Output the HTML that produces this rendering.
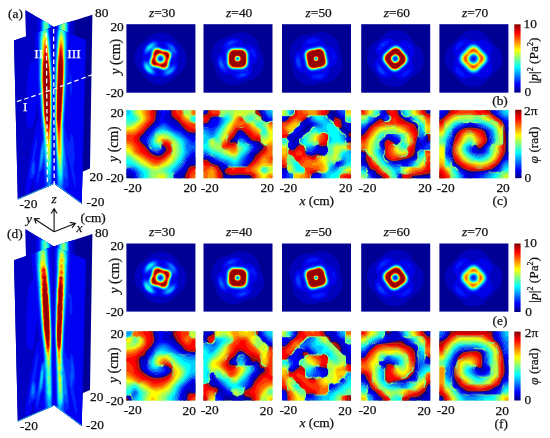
<!DOCTYPE html>
<html><head><meta charset="utf-8"><title>Figure</title>
<style>html,body{margin:0;padding:0;background:#fff}svg{display:block}svg text.w{stroke:#fff}svg text{stroke:#111;stroke-width:0.25px;font-family:"Liberation Serif","Noto Serif CJK SC",serif}</style></head>
<body>
<svg width="550" height="438" viewBox="0 0 550 438" font-size="13.4" fill="#111">
<rect width="550" height="438" fill="#fff"/>
<clipPath id="aC"><polygon points="25.5,10.2 53.7,27 54.3,183.7 28.5,168"/></clipPath><g clip-path="url(#aC)"><rect x="24.5" y="9.2" width="30.8" height="175.5" fill="#000097"/>
<path fill="#0000c5" d="M24.5 9.2l30.8 0 0 175.5 -30.8 0z"/>
<path fill="#0000f3" d="M41.3 14.4l2-0.4 3.7-0.1 2.3 0.2 2.2 0.7 1.2 1.2 0.7 1.4 0.9 4.6 0 162.7 -16.6 0 0-162.7 1.2-5.3 1-1.5z"/>
<path fill="#0023ff" d="M44.5 15.2l2.5-0.1 2.3 0.9 1.5 2.2 1 3.8 0 162.7 -11.5 0 0-162.7 1.3-4.6 1.2-1.4z"/>
<path fill="#0051ff" d="M46.1 15.9l1.7 0.4 1.2 1 0.9 1.6 0.9 3 0 162.7 -9.6 0 0-162.7 0.9-3 0.9-1.6 1-0.9z"/>
<path fill="#0080ff" d="M44.3 17.4l2-0.5 1.5 0.6 1.2 1.5 1.1 3 0 162.7 -8.2 0 0-162 0.8-3z"/>
<path fill="#00aeff" d="M44.7 18.2l1.6-0.4 1 0.4 1.2 1.4 1 2.4 0 162.7 -7 0 0-162 0.8-2.7z"/>
<path fill="#00dcff" d="M45.1 18.9l1.2-0.3 0.7 0.3 0.8 0.7 1.1 2.3 0 162.7 -5.8 0 0-162 0.6-2.3z"/>
<path fill="#0cfff3" d="M45.4 19.7l1.6 0.3 1 1.2 0.4 1.5 0 162 -4.8 0 0-162 0.4-1.6z"/>
<path fill="#3affc5" d="M44.7 21.2l1.6-0.7 1.5 1.4 0 0.8 0 162 -3.6 0 0-162z"/>
<path fill="#68ff97" d="M45 21.9l1.3-0.5 0.8 0.6 0 0.7 0 162 -2.2 0z"/></g>
<clipPath id="aB"><polygon points="53.7,27 92.4,14.7 90,168.5 54.3,183.7"/></clipPath><g clip-path="url(#aB)"><rect x="52.7" y="13.7" width="40.7" height="171" fill="#000097"/>
<path fill="#0000c5" d="M52.7 13.7l21 0 0.8 8.3 0 162.7 -21.8 0z"/>
<path fill="#0000f3" d="M59.2 16.7l4.8-0.3 3.8 0.8 1.6 1.8 1 3 0.1 162.7 -15.2 0 0-162.7 1.5-3.8z"/>
<path fill="#0023ff" d="M60.1 17.4l3.2-0.5 3 0.7 1.6 1.4 1.3 3 0.1 162.7 -12.4 0 0-162.7 1.3-3z"/>
<path fill="#0051ff" d="M60.3 18.2l2.2-0.7 3 0.5 1.9 1.7 1 2.3 0.1 162.7 -10.7 0 0-162 0.6-2.3z"/>
<path fill="#0080ff" d="M62.2 18.2l1.8 0 1.5 0.6 1.1 0.9 1.2 2.3 0 162.7 -9.4 0 0-162 0.1-0.7 1.2-2.3 1.3-1.1z"/>
<path fill="#00aeff" d="M61.7 18.9l1.6-0.3 1.5 0.3 1.5 1.3 0.9 1.7 0.1 162.7 -8.3 0 0-162 0.9-2.3z"/>
<path fill="#00dcff" d="M61.5 19.7l1.8-0.4 1.5 0.4 1.5 1.5 0.4 1.5 0 162 -7.1 0 0-162 0.4-1.5z"/>
<path fill="#0cfff3" d="M61.4 20.4l1.1-0.5 1.5 0.1 1.7 1.2 0.5 1.5 0 162 -6.1 0 0-162 0-0.7z"/>
<path fill="#3affc5" d="M63 20.4l1.8 0.6 0.9 0.9 0 0.8 0 162 -5.1 0 0-162 0.1-0.7 0.6-0.8z"/>
<path fill="#68ff97" d="M62.3 21.2l1.7 0 1.1 0.8 0 0.7 0 162 -3.9 0 0-162 0.1-0.7z"/>
<path fill="#97ff68" d="M62.1 22l1.2-0.4 0.7 0.2 0.4 0.9 0 162 -2.4 0z"/></g>
<clipPath id="aA"><polygon points="14,40.6 53.7,27 54.3,183.7 17.8,199.4"/></clipPath><g clip-path="url(#aA)"><rect x="13" y="26" width="42.3" height="174.4" fill="#000097"/>
<path fill="#0000c5" d="M13 26l42.3 0 0 174.4 -42.3 0z"/>
<path fill="#0000f3" d="M35.1 26l16.2 0 0.6 3.8 3.3 50.3 -1.1 49.6 0.1 33.9 -0.5 36.8 -12.1 0 -0.7-17 -0.7 1 -1.9 4.7 -1.1 0.6 -2.3-0.4 -0.7-0.9 -0.3-1.5 0.3-6.9 -1.2 0.1 -2.4 9.8 -1.6 3.7 -0.9 0.6 -1.5-0.1 -0.8-0.6 -0.4-1.4 0-4.5 0.8-6.7 5.3-32.4 4.5-22.5 0.9-3 1.8-3.8 -1.5-14.6 -0.8-1.4 -1.9 16.8 -1 5.2 -1.1 2.3 -1.3 0.9 -1.5 0.1 -1.6-1 -1.2-3.8 -0.6-9.7 0.3-14.3 1-20.3 1-9.8 1.5-6 1.1-1.6 3.8-1 0.7-1.2 0-9.7 -1-19.6z"/>
<path fill="#0023ff" d="M38.6 26.8l0.2-0.8 10.2 0 0.8 3.8 1.2 12.7 2.3 37.6 -0.7 49.6 0.1 34.6 -0.9 36.1 -5.9 0 -2-27.8 -0.7-4.1 -2.8 4.1 -1.7 7.6 -1.5 3.5 -0.7-2.1 0.3-7.5 1.9-12.1 1.9-15.7 0.8-4.5 1-2.3 -4.3-59.4 0.1-30 -0.5-12.8 0.2-6.8zM37 137.3l0.2-0.7 0 3.7 -0.7 6 -2.2 13.5 1.1 2.3 0.4 3 -0.5 9 -0.7 2.2 -1.2 1.5 -3.8 1.3 0-5 1.4-10.5 3.9-19.8 1.5-5.9z"/>
<path fill="#0051ff" d="M40.1 26.8l0.3-0.8 7.6 0 0.2 0.8 0.8 3.7 1.2 10.5 2.2 33.9 0.2 24.8 -0.5 30 -0.1 34.6 -1.1 30.1 -0.7 6 -1.1 0 -1.5-6 -3.6-33.7 -0.8 0.9 -1.2 5.7 -1 2.3 -1.6 1.7 -0.5-0.2 -0.1-0.8 2-21 0.9-5.4 1.5-4.4 -0.7-12.5 -1.3-12.3 -2.2-35.3 -0.2-41.4 0.3-7.5zM32.9 162.1l0.5-0.4 0.8 1.1 0.4 5.3 -0.4 4.3 -0.8 1.8 -0.8 0.3 -0.8-1.2 -0.3-3 0.4-4.9z"/>
<path fill="#0080ff" d="M41.7 26l5.5 0 1.1 3.8 1.4 11.2 2.3 33.9 0.2 25.5 -0.6 62.4 -0.8 18.7 -0.8 6.1 -0.7 0.1 -1.6-4.5 -0.7-3.8 -2.3-21 -0.7-3.9 -0.8 2.2 -1.5 8.4 -0.8 1.9 -0.7 0 -0.2-1.9 0.2-5.6 1.1-10.2 2.5-9.8 -3.1-39.1 -1.2-24.8 0.1-38.3 0.6-7.5z"/>
<path fill="#00aeff" d="M42.4 26.8l0.7-0.8 3.2 0 1.6 4.5 1.3 10.5 2.6 36.9 0.1 36.8 -0.5 15 -0.1 31.6 -0.6 12 -0.7 6.4 -0.7 0.7 -0.8-1.4 -1.6-7.2 -2.2-20.1 -1-4.7 0.5-7.5 -0.2-3.7 -1.9-21.1 -2.1-34.6 0.2-40.6 0.7-9zM42.3 148.5l0.2-0.7 0.7 0.2 -0.7 9.3 -0.8 4.4 -0.8 1.4 0-6.7 0.8-6z"/>
<path fill="#00dcff" d="M44 26.8l1.5-0.2 0.7 0.7 1.1 2.5 0.6 3.7 1 7.5 2.5 35.4 0.3 24 -0.7 57.9 -0.6 12.8 -0.4 2.8 -0.7 0.9 -0.8-0.9 -0.9-2.8 -1.8-12.8 -1.2-14.3 -0.6-14.3 -1.8-18 -1.8-31.6 0.3-41.3 1.1-9 0.7-1.5z"/>
<path fill="#0cfff3" d="M43.8 28.3l1.7-0.5 0.7 0.9 0.8 2 1.1 6.6 3.2 41.3 0.1 36.1 -0.5 15 -0.2 28.6 -0.7 11.1 -0.7 1.7 -0.8-1 -0.8-2.6 -1.4-9.9 -2-27.9 -1.6-15 -2-34.6 0.4-39.8 1.1-9 0.5-1.5z"/>
<path fill="#3affc5" d="M43.7 29.8l1-0.7 0.8 0 0.7 1 1.8 8.7 3.1 40.6 0.1 35.3 -0.4 11.5 -0.4 31.4 -0.4 7 -0.7 2.7 -0.8-1 -0.8-2.4 -1-6.3 -2.1-27.9 -1.7-15 -1.9-34.6 0.5-39.1 1-7.6z"/>
<path fill="#68ff97" d="M44 31.3l0.7-0.8 0.8 0 0.7 1.5 1.7 8.3 3 39.1 0.2 35.3 -1 42.9 -0.8 6.2 -0.8-0.8 -0.8-2.5 -0.7-5.2 -2.3-27.6 -1.5-13 -1.9-34.6 0.6-39.1 1-6.7z"/>
<path fill="#97ff68" d="M44.5 32.8l1-0.3 0.7 1.4 1.5 7.1 2.9 36.1 0.3 37.6 -0.9 37.6 -0.7 8.2 -0.8-0.7 -0.8-2.9 -2.9-30.9 -1.3-10.5 -2-35.4 0.8-39.1 0.9-5.2z"/>
<path fill="#c5ff3a" d="M44.4 35l1.1-0.6 0.7 1.4 1.2 5.2 3 34.6 0.3 39.1 -1.4 41.6 -0.8-0.2 -0.8-3.7 -4-36.9 -2-35.4 0.1-12 0.9-27.1 0.5-3z"/>
<path fill="#f3ff0c" d="M44.7 36.5l0.8-0.3 0.7 1.2 0.9 3.6 2.4 25.6 0.9 13.5 0.2 35.4 -1.3 34.5 -0.8 1.4 -1.5-8.8 -3.2-27.9 -1.9-34.6 0.1-12.8 1.1-25.5 0.8-3.8z"/>
<path fill="#ffdc00" d="M45.1 38l0.4-0.2 0.7 1.2 0.8 3.5 2.4 24.8 0.8 12.8 0.3 35.4 -1.2 28.6 -0.8 2.6 -1.5-7.7 -2.9-23.5 -2-35.4 0.1-12.8 1.1-22.5 0.5-4.5z"/>
<path fill="#ffae00" d="M45.4 39.5l0.8 1.1 0.8 4.4 2.1 20.1 1 15 0.2 35.4 -1 22.8 -0.8 4.6 -0.8-2.2 -3.5-25.2 -1.9-35.4 0.2-13.5 1.1-20.3 0.7-5.3 0.4-1.1z"/>
<path fill="#ff8000" d="M45 41.8l0.5-0.7 0.7 1.8 0.8 4.6 2 18.3 0.9 13.6 0.3 35.3 -0.9 18.7 -0.8 5.7 -0.8-1.9 -0.7-3.9 -2.6-17.8 -1.9-35.4 0.3-16.5 1.2-16.5z"/>
<path fill="#ff5100" d="M45.1 44.8l0.4-0.7 0.7 1.4 0.8 4.5 1.8 15.8 0.9 13.6 0.4 35.3 -0.8 14.3 -0.8 6.5 -0.8-1 -0.7-3.5 -2.4-15.5 -1.9-35.4 0.4-16.5 1.1-14.3z"/>
<path fill="#ff2300" d="M45.2 47.8l0.3-0.7 0.7 1 0.8 4.4 1.6 12.6 1 13.5 0.4 36.1 -1.5 18.2 -0.8-0.8 -0.7-3.4 -2.2-13.2 -1.9-35.4 0.3-15.8 1.4-14.2z"/>
<path fill="#f30000" d="M45.3 50.8l0.2-0.7 0.7 0.7 0.8 4.2 1.3 9.3 1 11.3 0.5 39.1 -0.4 7.5 -0.9 7.9 -0.8-0.3 -1.7-7.6 -1.1-6.7 -1.3-22.6 -0.5-21 0.5-9.1z"/>
<path fill="#c50000" d="M45.4 53.8l0.1-0.4 0.7 0.1 1.5 8.1 1.7 18.5 0.2 37.6 -1.1 9.5 -0.8 0.2 -1.5-4.9 -1.2-7.8 -1.8-36.8 0.5-13.6z"/>
<path fill="#970000" d="M45.5 56.8l0.7-0.5 1.5 6.6 1 9 0.6 10.4 0.2 35.4 -1 7.5 -0.8 0.4 -1.5-4.3 -0.9-5.8 -1.6-28.6 -0.3-12 0.3-6.8 0.5-6z"/></g>
<line x1="54.3" y1="183.3" x2="17.8" y2="199" stroke="#30e0d0" stroke-width="1" stroke-opacity="0.75"/>
<clipPath id="aD"><polygon points="53.7,27 85.8,40 81.7,203.7 54.3,183.7"/></clipPath><g clip-path="url(#aD)"><rect x="52.7" y="26" width="34.1" height="178.7" fill="#000097"/>
<path fill="#0000c5" d="M52.7 26l34.1 0 0 178.7 -34.1 0z"/>
<path fill="#0000f3" d="M52.7 26l34.1 0 0 178.7 -34.1 0z"/>
<path fill="#0023ff" d="M57 26l10.7 0 0.6 3 0.1 8.3 -0.7 12.7 0.7 12 0.1 13.6 -2.2 21.4 -1.5 21 -0.1 7.1 1.5 9.8 2.4 7 0.8 0.9 0.8-6.4 0.7-2.5 0.7-0.1 0.8 1.1 1.3 6 1.1 12 -0.1 6.7 -1.5 6.1 2.3 14.2 0.4 6.8 -0.5 0.9 -2.2-7.1 -5.3-24.8 -0.7 0.2 1.3 19.5 0.1 8.3 -0.7 3.3 -2.3 0.4 -0.4 1.5 -0.5 15.8 -7.3 0 -2.2-48.1 -1.6-37.5 0.3-39 1.4-36.8 0.8-11.3zM69.9 73.3l0.2-0.5 0.8 0.4 1 6.1 0.3 9.8 -0.6 6.9 -0.7-0.2 -1.1-7.5 -0.5-10.5z"/>
<path fill="#0051ff" d="M58 26.8l0.2-0.8 7.8 0 0.9 3.8 0.2 3.7 -0.5 39.8 -2.7 51.8 0.2 14.3 2.5 25.5 0.6 12 -0.1 1.7 -0.8 0.7 -1.5-2.9 -0.7 2.4 -2.2 25.9 -3.3 0 -1.8-30.8 -2.5-54.8 0.3-39 0.6-18.1 1.5-26.2z"/>
<path fill="#0080ff" d="M59 26l5.8 0 1.3 4.5 0.3 8.3 -0.5 37.5 -2.6 48.8 0.2 14.3 1.1 12 0.6 13.5 -0.4 1.8 -0.7 0.3 -1.5 16.7 -0.6 1.5 -1 6 -0.7 1.9 -0.8 0.6 -0.7-2.5 -1.4-16.5 -2.7-56.3 0.4-38.3 0.7-19.6 1.6-25.5 0.7-5.2z"/>
<path fill="#00aeff" d="M59.9 26l3.6 0 1.1 2.3 0.8 3.7 0.4 9.8 -0.5 38.3 -2.3 45 0.1 14.3 0.7 15.7 -0.6 5.3 -0.8 19.5 -0.6 3 -2.3 2.9 -0.7-2.6 -1.4-14.5 -2.4-49.6 0-6.8 0.5-33 1.3-30 1.5-17.3 0.8-3.7z"/>
<path fill="#00dcff" d="M60.6 26.8l1.2-0.5 0.8 0.4 1.7 3.1 0.7 4.5 0.4 8.2 -0.3 34.6 -2.5 48 0.1 14.3 0.5 12 -0.6 8.9 -0.4 15.9 -0.4 3.2 -0.8 1.2 -1.5-0.7 -0.7-2.1 -0.8-6.7 -1.3-19.7 -1.5-33 0.7-45.1 1.1-22.5 1.6-18 0.9-4z"/>
<path fill="#0cfff3" d="M60.7 28.3l0.3-0.4 0.8 0 1.2 1.1 1 2.3 0.4 2.2 0.5 8.3 0.2 20.2 -0.5 19.6 -2.2 43.5 0.3 25.5 -0.7 20.3 -0.2 4.1 -0.8 2.6 -0.9-0.7 -1-2.2 -1-7.5 -1.2-15.8 -1.4-33 0.5-38.3 0.7-18.8 1.7-24 1.1-6.7z"/>
<path fill="#3affc5" d="M60.7 29.8l0.3-0.4 0.8 0 1 1.1 1.3 5 0.5 7 0.2 19.5 -0.3 18.1 -2.4 45 0.2 25.5 -0.7 18.8 -0.6 4.9 -0.7-0.3 -0.8-1.6 -0.7-3 -0.5-4.5 -1.1-13.5 -1.5-33.8 0.3-30 0.8-25.6 1.8-23.2 0.9-6z"/>
<path fill="#68ff97" d="M60.8 31.3l0.2-0.4 0.8 0.1 0.8 1 1.2 5.3 0.4 6 0.3 18.7 -0.3 18.1 -2.3 45 0 25.5 -0.6 15.8 -0.3 3.8 -0.7 0.5 -1.5-5.1 -1.2-12 -1.7-34.5 -0.1-6.8 1.3-50.3 1.6-21.7 0.8-5.3z"/>
<path fill="#97ff68" d="M60.6 33.5l0.4-0.7 1.1 0.7 1.4 5.3 0.8 23.2 -0.4 21.8 -2.2 41.3 -0.2 26.3 -0.5 12.8 -0.7 3.1 -0.8-1.6 -0.7-3.8 -1.1-9.8 -1.7-33 0-6.8 1.3-50.3 1.5-19.4 0.7-5.4z"/>
<path fill="#c5ff3a" d="M60.9 35l0.1-0.3 0.8 0.3 0.7 1.5 0.8 4.5 0.8 24 -0.4 18.8 -2.2 41.3 -0.3 26.3 -0.9 11.6 -0.8-0.9 -0.7-3.2 -0.9-6.8 -1.7-33 0-6.8 1.3-50.3 1.6-19.5 1.1-6z"/>
<path fill="#f3ff0c" d="M60.7 37.3l0.3-0.7 0.9 0.7 0.7 1.9 0.6 4.1 0.7 18.7 -0.1 10.6 -1 27 -1.5 25.5 -0.5 27 -0.5 6.3 -0.8 0.5 -0.7-2.3 -0.7-6 -1.8-31.5 0-7.5 1.3-49.6 1.7-18.7z"/>
<path fill="#ffdc00" d="M60.9 38.8l1 0.7 1 5.3 0.8 17.2 0 10.6 -1.1 27 -1.6 25.5 -0.5 26.3 -0.2 3.1 -0.8 1.9 -0.7-2.2 -0.4-2.8 -1.9-32.3 0.1-18.8 1.2-38.3 1.7-18.5 0.8-3.7z"/>
<path fill="#ffae00" d="M60.7 41l0.3-0.5 0.8 0.8 0.9 5 0.8 15.7 0 10.6 -1.1 27.7 -1.6 24.8 -0.5 19.5 -0.8 8.9 -0.8-2.1 -2.1-32.3 0-7.5 1.4-49.6 1.5-16.3 0.8-4z"/>
<path fill="#ff8000" d="M61 42.5l0.8 1.1 0.8 5.3 0.7 13.1 0 11.3 -1 27 -2.8 46.2 -0.7-1 -2-26.4 0.1-18.8 1.3-38.3 1.3-14 0.8-4.3z"/>
<path fill="#ff5100" d="M61 44.8l0.8 1.5 0.7 6 0.6 9.7 0 11.3 -1 27 -2.6 39.5 -0.7 0 -1.9-20.7 0.1-18.8 1.3-38.3 1.2-11.8 0.8-4.3z"/>
<path fill="#ff2300" d="M61 47l0.8 2.3 1.1 12.7 -0.1 17.3 -1.6 33 -1.7 21.4 -0.7 1 -1.7-15.6 0-19.5 1.4-37.6 1.4-12 0.4-2z"/>
<path fill="#f30000" d="M60.4 50l0.6-0.7 0.8 3 0.9 9.7 0.1 11.3 -1.7 38.3 -1.6 18.3 -0.7 1.7 -1.6-12.5 0.1-18.8 1.4-38.3z"/>
<path fill="#c50000" d="M60.7 52.3l0.3-0.4 1.5 10.1 0.1 14 -1.6 34.7 -1.5 15.3 -0.7 2.5 -1.4-10.1 0.2-26.3 1.2-28.9 1.5-10.5z"/>
<path fill="#970000" d="M60.3 55.3l0.7-0.6 1.1 5.8 0.2 12.8 -1.3 34.9 -1.4 14.7 -0.8 2.5 -0.8-2.9 -0.4-3.4 0.2-27 1-26.1 0.5-5.5z"/></g>
<line x1="81.7" y1="203.3" x2="54.3" y2="183.3" stroke="#30e0d0" stroke-width="1" stroke-opacity="0.75"/>
<path d="M46.3 33L47.5 185" stroke="#fff" stroke-width="1.3" stroke-dasharray="4.6 3" fill="none"/>
<path d="M53.6 29L54.2 185" stroke="#fff" stroke-width="1.3" stroke-dasharray="4.6 3" fill="none"/>
<path d="M92.8 74.5L53.9 89L15 102.4" stroke="#fff" stroke-width="1.3" stroke-dasharray="4.6 3" fill="none"/>
<text class="w" x="34.3" y="58" fill="#fff">II</text><text class="w" x="67.3" y="58" fill="#fff">III</text><text class="w" x="23" y="111" fill="#fff">I</text>
<clipPath id="dC"><polygon points="25.5,229.3 53.7,246.4 54.3,405.6 28.5,389.6"/></clipPath><g clip-path="url(#dC)"><rect x="24.5" y="228.3" width="30.8" height="178.3" fill="#000097"/>
<path fill="#0000c5" d="M24.5 228.3l30.8 0 0 178.3 -30.8 0z"/>
<path fill="#0000f3" d="M40.1 233.6l6.2-0.5 3 0.2 2.2 0.7 1.9 1.9 1.3 5.3 0 165.4 -18.8 0 0-165.4 0.7-3.8 1-2.3 1.2-1z"/>
<path fill="#0023ff" d="M43.8 234.4l3.2 0 2.3 1.1 1.4 1.9 1.1 3.8 0 165.4 -13 0 0-165.4 0.8-3 1.3-2.3 1.6-1.2z"/>
<path fill="#0051ff" d="M42.9 235.9l2.6-0.7 2.3 0.7 1.8 2.3 1.1 3 0 165.4 -10.8 0 0-165.4 1.5-3.8z"/>
<path fill="#0080ff" d="M43.6 236.7l1.9-0.5 1.5 0.5 1.6 1.5 1.3 3 0 165.4 -9.2 0 0-164.6 1.1-3.4z"/>
<path fill="#00aeff" d="M44.2 237.4l1.3-0.2 1.5 0.6 1.1 1.2 1 2.2 0.1 165.4 -7.8 0 0-164.6 1.1-3z"/>
<path fill="#00dcff" d="M45.1 238.2l2 0.8 1 1.5 0.4 1.5 0 164.6 -6.4 0 0-164.6 0-0.8 1.2-2z"/>
<path fill="#0cfff3" d="M43.9 239.7l0.9-0.5 1.5 0.2 1.5 1.7 0.1 0.9 0 164.6 -5.2 0 0-164.6 0.1-0.8z"/>
<path fill="#3affc5" d="M44.3 240.5l1.2-0.4 0.8 0.3 0.8 0.8 0 0.8 0 164.6 -3.6 0 0-164.6 0-0.8z"/>
<path fill="#68ff97" d="M44.7 241.2l1.2 0 0.1 0.8 0 164.6 -1.4 0z"/></g>
<clipPath id="dB"><polygon points="53.7,246.4 92.4,233.9 90,390.1 54.3,405.6"/></clipPath><g clip-path="url(#dB)"><rect x="52.7" y="232.9" width="40.7" height="173.7" fill="#000097"/>
<path fill="#0000c5" d="M52.7 232.9l21 0 0 2.2 0.7 3.1 0.4 3.8 0 164.6 -22.1 0z"/>
<path fill="#0000f3" d="M59.4 235.9l4.6-0.3 3.8 0.7 2 1.9 1 3 0.1 165.4 -15.6 0 0-165.4 1.5-3.8z"/>
<path fill="#0023ff" d="M60.3 236.7l3-0.5 3 0.5 1.9 1.5 1.4 3 0 165.4 -12.7 0 0-165.4 1.4-3z"/>
<path fill="#0051ff" d="M60.6 237.4l2.7-0.6 2.2 0.4 2.2 1.8 1.1 2.2 0 165.4 -11 0 0-164.6 0.9-2.7z"/>
<path fill="#0080ff" d="M63.2 237.4l1.6 0.2 1.5 0.9 1.8 2.7 0 165.4 -9.6 0 0-164.6 0.4-1.5 1.3-1.9 1.5-0.9z"/>
<path fill="#00aeff" d="M62.3 238.2l1.7-0.1 1.5 0.6 2 2.5 0 165.4 -8.3 0 0-164.6 0-0.8 1-1.7z"/>
<path fill="#00dcff" d="M62 239l1.3-0.3 1.5 0.3 1.6 1.5 0.5 1.5 0 164.6 -7.1 0 0-164.6 0.4-1.5z"/>
<path fill="#0cfff3" d="M61.8 239.7l1.5-0.4 1.5 0.3 1.5 1.5 0.1 0.9 0 164.6 -6.1 0 0-164.6 0.1-0.8z"/>
<path fill="#3affc5" d="M61.7 240.5l0.8-0.5 1.5 0 1.5 0.9 0.3 1.1 0 164.6 -4.9 0 0-164.6 0.1-0.8z"/>
<path fill="#68ff97" d="M61.6 241.2l0.9-0.5 1.5-0.1 1.1 0.6 0 0.8 0 164.6 -3.5 0z"/>
<path fill="#97ff68" d="M62.8 241.2l1.2 0 0.1 0.8 0 164.6 -1.5 0z"/></g>
<clipPath id="dA"><polygon points="14,260.2 53.7,246.4 54.3,405.6 17.8,421.5"/></clipPath><g clip-path="url(#dA)"><rect x="13" y="245.4" width="42.3" height="177.2" fill="#000097"/>
<path fill="#0000c5" d="M13 245.4l42.3 0 0 177.1 -42.3 0z"/>
<path fill="#0000f3" d="M30.8 245.4l20.5 0 0.4 4.5 2 77.2 0.1 38.9 0.5 25.2 -0.6 31.3 -12.1 0 -0.2-12.2 -0.5-4.9 -2.4 5.7 -1.3 0.8 -2.3-0.5 -0.6-0.3 -0.6-1.5 0.5-7.7 -1 0 -2.3 10 -1.5 3.8 -1.3 0.8 -1.5-0.1 -1.1-0.7 -0.4-1.6 0.3-6.8 2.3-16.1 7.5-42 1.8-6.1 1-1.5 1.5-0.8 0-0.7 -2.3-19.6 -0.8 0.2 -1.7 18.6 -1.2 6.9 -1.1 2.3 -1.3 0.9 -1.5 0.1 -1.6-1 -1.2-3.9 -0.6-9.9 0.3-14.5 1.1-22.1 0.9-8.4 1.2-5.4 1.2-2.3 2.6-2.3 -2.8-29.8z"/>
<path fill="#0023ff" d="M34.7 245.4l13.8 0 0.4 2.2 2.4 47.4 1.1 38.9 -0.1 26.8 0.5 31.3 -1 30.5 -5.8 0 -1.8-21.3 -0.2-8.7 -0.8-2.7 -2.4 4.5 -2 9.1 -1.6 4.2 -0.8 0 -0.3-1.1 -0.4-8.8 -1.5 2.2 -2.3 0.9 -1.4 1.1 -1.6 4.3 -0.1-0.5 0-6.1 1.3-11.4 5-26.8 1.8-6.8 1-2.6 0.5 2.6 -0.2 3.8 -3.4 22.9 0.8 1.5 0.5 2.3 0.3 8.5 2.3-11.7 2-15.9 0.8-3 1.8-2.3 -0.6-9.2 -3.8-39.7 -3.9-47.4 -0.6-12.9z"/>
<path fill="#0051ff" d="M36.1 245.4l11.3 0 0.4 1.5 2.6 42.8 1.5 44.2 0.2 61.1 -1.3 24.5 -0.8 2.3 -1.5-1 -1.1-3.6 -0.5-6.9 -1.4-9.1 -0.7-19.9 -0.2-2.3 -0.6-0.7 -1.9 11.4 -3.1 6.1 -0.1 2.3 -1 2.3 -0.4-1.5 0.9-10.7 2.7-20.6 0.7-3.1 2.3-3.8 -0.6-9.9 -2.1-18.4 -1.7-20.6 -2.9-37.4 -1-22.9zM32.4 382.1l1-0.5 1 1.2 0.9 4.6 -0.1 3.8 -0.8 4.6 -1 2.3 -0.8 0.2 -1.7-1 -0.3-3.8 0.4-5.3z"/>
<path fill="#0080ff" d="M37.1 245.4l9.4 0 0.6 1.5 0.5 5.3 2.7 42.8 1.3 38.9 -0.2 32.9 0.3 28.2 -0.5 10.7 -1.2 5.6 -0.7 0 -1.3-2.5 -1.5-7.6 -0.7-8.4 -0.6-18.4 -0.5-5.5 -0.7-0.8 0.4 2.5 -0.4 0.9 -1.8 15.1 -1.3 3.8 -1.5 1.1 -0.2-1 0-3.1 1.7-16 0.8-4.3 0.8-1.9 1.5-1 0.7-3.5 -0.7-10.7 -2.1-17.6 -2.7-33.6 -0.5-11.4 -1.2-12.3 -0.5-10.7zM33 385.1l0.4-0.4 0.8 0.8 0.2 5 -0.5 3 -0.5 1 -0.8 0.1 -0.8-1.1 0-4.6 0.4-2.3z"/>
<path fill="#00aeff" d="M37.8 246.1l0.1-0.7 7.9 0 0.7 1.5 -0.1 2.3 0.6 3 0.1 3.8 2.6 33.7 1.6 41.2 -0.3 35.9 0.4 25.2 -0.8 13.7 -0.6 1.3 -0.7-0.1 -1.1-1.9 -1.8-12.2 0.1-5.4 -0.8-10.7 0-6.9 -0.8-5.3 0.3-3.8 -0.2-3.8 -2.8-24.5 -2.1-30.5 -0.5-3.1 -0.6-9.1 0.3-2.3 -1.3-12.3 -0.4-10.7 0.4-8.4 -0.4-2.2 0.4-6.2zM42 369.8l0.5-0.6 0.8 1.4 -0.3 6.9 -1.3 9 -0.8 1.7 -0.7 0.1 -0.3-1.7 0.9-12.2 0.6-3.8z"/>
<path fill="#00dcff" d="M38.5 246.1l0.2-0.7 6.5 0 0.7 1.5 -0.1 2.3 0.8 3 0 3.8 1.8 19.1 1 14.6 -0.2 2.2 0.5 3.1 1.5 39.7 -0.5 32.1 0.4 25.2 -0.1 3.8 -0.8 1.5 0.2 2.3 -0.4 0.8 -1.5-0.8 0-1.5 -0.8-1.5 -0.2-2.3 -0.6-2.3 0.3-3.8 -0.5-2.3 -0.1-6.9 -0.4-2.3 0.2-3.8 -0.9-8.4 0.2-3.8 -0.5-2.3 0.3-1.5 -3-24.5 -1.2-15.3 -0.8-15.2 -0.6-3.1 0.2-2.3 -0.7-6.8 0.4-2.3 -0.6-2.3 0.2-2.3 -0.6-3.1 -0.6-9.9 -0.1-5.4 0.4-2.2 -0.2-1.6 0.4-4.6 -0.5-1.5 0.4-2.3 -0.3-1.5 0.6-3.1zM42.3 370.6l0.4 0.8 0.1 2.3 -0.5 2.3 0.3 1.5 -0.9 5.2 -0.8 1.4 -0.1-5.1 0.5-3 0-2.3 0.4-2.4z"/>
<path fill="#0cfff3" d="M39.4 245.4l5.1 0 0.7 1.5 -0.1 1.5 1 3.8 0.5 10 1.6 12.9 0.1 6.1 0.9 8.5 -0.2 2.2 0.5 3.1 1.5 39.7 -0.8 38.2 0.6 6.9 -0.4 1.5 0.2 1.5 -0.2 2.3 0.4 1.5 -0.3 3.9 0.3 1.5 -0.4 1.5 0.1 2.3 -0.5 0.8 -0.7 0 -0.8-0.7 -1.1-3.9 0.4-3.8 -0.8-5.4 0.1-3 -0.5-3.8 0.4-0.8 0-2.3 -1-8.4 0.2-3.8 -0.7-2.3 0.4-1.5 -3.1-24.5 -1.7-22.1 -0.2-8.4 -0.7-3.1 0.2-2.3 -0.7-6.8 0.5-3.1 -0.6-1.5 0.2-2.3 -0.7-3.1 0.2-2.3 -0.7-7.6 0.3-3.8 -0.4-1.6 0.6-2.2 -0.1-3.9 0.4-2.3 -0.5-1.5 0.4-1.5 -0.4-2.3 0.9-3.1 -0.6-1.5zM41.5 377.5l0.2-0.4 0 1.5z"/>
<path fill="#3affc5" d="M40.1 245.4l3.3 0 2.3 6.8 0.4 10 1.4 8.4 0.6 10.6 0.8 8.5 -0.2 2.2 0.6 3.1 1.5 39.7 -0.1 11.5 -0.4 3.8 0.1 14.5 -0.6 4.6 0.3 2.3 -0.5 1.5 0.5 1.5 0.4 5.4 -0.6 1.5 0.4 1.5 -0.6 1.6 0.6 2.2 -0.2 3.9 0.4 1.5 -0.5 1.4 -0.7 0.1 0 0.8 0.7 0.2 0.2 0.5 -0.2 0.8 -0.7-0.3 -0.1-2 -0.7-0.4 -0.6-1.1 0.6-3.8 -0.5-2.3 0.4-1.5 -0.7-0.6 -0.3-1 0.2-3 -0.4-3.1 0.5-1.5 0-2.3 -0.7-1.5 0.3-2.3 -0.9-4.6 0.2-3.8 -0.7-2.3 0.5-1.5 -1-4.6 0-2.3 -1.6-10.7 0.2-1.5 -1-5.4 0.1-2.3 -1.8-19.8 -0.2-9.2 -0.6-3 0.2-1.6 -0.7-6.8 0.5-3.1 -0.7-1.5 0.4-2.3 -0.7-3.1 0.2-2.3 -0.5-2.3 0.3-1.5 -0.5-3 0.5-4.6 -0.6-1.6 0.7-2.2 -0.1-3.9 0.5-2.3 -0.5-1.5 0.5-1.5 -0.5-1.5 1.3-3.9 -0.7-0.7z"/>
<path fill="#68ff97" d="M41.3 248.4l1.2-0.7 0.7 0.1 0.8 0.8 0.4 0.6 0.1 2.3 0.6 0.7 -0.2 1.6 1 6.8 -0.3 1.6 1.7 8.4 0.5 10.6 0.4 1.6 0.5 6.9 -0.2 2.2 0.7 3.1 0 8.4 0.6 4.6 0.5 13.7 0.3 24.5 -0.5 3.8 0 14.5 -0.8 4.6 0.4 2.3 -0.4 0.8 -0.8 0.1 -0.9-0.9 0.5-2.3 -0.7-1.5 0.2-1.6 -0.8-1.5 0.5-2.3 -1.1-3.8 0.6-1.5 -0.8-2.3 -1.9-15.3 0.1-1.5 -0.9-5.4 -0.6-9.9 -0.7-5.4 -0.7-16 -0.6-3 0.3-1.6 -0.8-6.8 0.7-3.1 -0.8-1.5 0.4-2.3 -0.7-3.1 0.2-2.3 -0.4-2.3 0.3-1.5 -0.6-3 0.8-4.6 -0.8-1.6 1-4.5 -0.4-1.6 0.8-2.3 -0.5-1.5 0.4-1.5 -0.4-1.5 0.6-2.3zM48.4 374.4l0.9-0.5 0 1.3zM48 376.7l0.5-0.7 0.8 0.1 0.8 2.9 -0.1 1.3 -0.7 0.9 -0.6 0.1 1.1 1.5 -0.5 1 -0.8-0.2 -0.5-0.8 0.5-1.5zM48.8 386.6l0.5-0.5 0.4 0.5 -0.4 1.1zM48.9 391.2l0.4-0.4 0.7 0.8 0 1 -0.7 0.2 -0.8-0.8z"/>
<path fill="#97ff68" d="M41.4 249.2l1.1-0.7 0.7 0.1 0.7 0.6 0.1 0.7 -1.2 1.6 1.5 0.7 -0.1 1.6 0.5 1 0.7 5.8 -0.3 1.6 0.6 1.5 1.3 6.9 0.6 10.6 0.4 1.6 0.5 6.9 -0.3 2.2 0.8 3.1 0 8.4 0.6 4.6 0.9 26.7 -0.1 11.5 -0.5 3.8 -0.2 6.9 0.3 2.3 -0.5 1.5 0.3 3.8 -0.5 1.3 -0.8-0.1 -1.2-1.2 0.7-2.3 -1.3-3.8 0.6-1.5 -1-2.3 -1-6.9 -0.9-9.9 -0.9-5.4 -0.6-9.9 -0.7-5.4 -0.4-6.8 0.3-2.3 -0.4-1.5 -0.1-5.4 -0.6-3 0.2-1.6 -0.7-6.8 0.7-3.1 -0.8-1.5 0.4-2.3 -0.7-3.8 0.2-1.6 -0.4-2.3 0.4-1.5 -0.7-3 0.9-4.6 -0.8-1.6 1.2-4.5 -0.5-1.6 1.1-1.5 -0.5-2.3 0.4-0.7zM48.4 366.8l0.9 0.3 0 0.9 -0.8 0.1 -0.5-0.5z"/>
<path fill="#c5ff3a" d="M42.2 254.5l1-0.5 0.8 0.4 0.3 0.9 0.2 2.3 -0.3 1.5 0.7 1.5 -0.3 2.3 1.5 3.8 0.6 3.9 -0.1 1.5 0.9 6.9 -0.1 2.2 0.5 1.6 0.4 6.9 -0.3 2.2 0.8 3.1 0.1 8.4 0.6 4.6 0.5 13.7 0.3 18.4 0 6.1 -0.6 3.8 0 5.3 -0.3 1.6 0.3 2.3 -0.4 1.3 -0.8 0.8 -1.4-2.9 0.7-1.5 -1.2-2.3 -2.8-21.4 -0.7-10.7 -0.7-5.4 -0.4-6.8 0.3-2.3 -0.4-1.5 -0.1-5.4 -0.6-3 -0.1-6.2 -0.3-1.5 0.6-3.8 -0.8-1.5 0.5-2.3 -0.9-6.9 0.5-2.3 -0.8-3 1-4.6 -0.8-1.6 0.9-3 1.1-1.5 -1-1.6 1.6-1.5 -0.8-1.5zM48.1 363.7l0.4-0.5 0.8 0.1 0 1.5 -1.3-0.3z"/>
<path fill="#f3ff0c" d="M41.6 261.4l0.9-0.6 1.5 0.2 0 2.1 -0.9 1.3 1.6 0.5 0.8 1.1 0.8 3 0 3.1 0.8 4.6 0 4.5 0.6 1.6 0.3 3.8 0.2 3.8 -0.4 1.5 0.9 3.1 0 8.4 0.6 3.8 0.1 8.4 0.3 2.3 0.5 22.2 -0.1 6.1 -0.6 3.8 0 5.3 -0.2 1.1 -0.8 0.4 -1.7-2.2 0.1-1.6 -0.5-1.5 -0.6-3.8 -1-9.9 -0.7-3.9 -1.5-16.8 0.2-1.5 -0.6-5.3 0.3-2.3 -0.4-1.5 -0.6-14.6 -0.5-2.2 0.7-3.1 -0.8-1.5 0.4-3.1 -0.9-6.1 0.6-2.3 -0.7-3 1-4.6 -0.6-2.3zM48.2 357.6l0.3-0.5 0.9 1.3 -0.1 1.2 -0.8 0.4 -0.8-1.6z"/>
<path fill="#ffdc00" d="M41.7 262.2l0.8-0.8 0.7 0.2 0.3 0.6 -0.3 1 -1.5 0.9 -0.3-0.4zM42.4 265.2l1.6-0.1 0.7 0.4 1.3 3.5 0.1 3.1 0.9 4.6 -0.1 4.5 0.6 1.6 0.3 3.8 0.2 3.8 -0.4 1.5 0.9 3.1 0.1 9.2 0.5 3 0.1 8.4 0.4 2.3 0.4 22.2 -0.7 15.2 -0.8 0.7 -1.3-1.4 0.2-1.6 -0.8-1.5 -0.6-3.8 0-2.3 -1.7-11.5 -1.5-16.8 0.2-1.5 -0.6-5.3 0.3-2.3 -0.9-9.9 0-6.2 -0.5-2.2 0.7-3.1 -0.9-1.5 0.5-3.1 -0.9-6.1 0.7-2.3 -0.8-3 1.1-4.4z"/>
<path fill="#ffae00" d="M42.3 266l1.7-0.5 0.7 0.5 1 3 0.1 3.1 1 4.6 -0.1 4.5 0.6 1.6 0.3 3.8 0.2 3.8 -0.3 1.5 0.8 3.1 1.6 37.4 -0.1 13.8 -0.8 3.8 0.1 1.5 -0.4 0.8 0.2 2.3 -0.4 0.9 -1-0.9 0.3-2.3 -0.9-0.8 -0.7-3.8 0-2.3 -1.7-11.5 -1-9.1 0-4.6 -0.6-3.1 0.3-1.5 -0.6-6.1 0.3-1.5 -0.3-1.5 -0.7-10.7 0.1-3.9 -0.5-1.5 0.8-3.8 -0.9-1.5 0.5-3.1 -0.9-6.1 0.7-2.3 -0.8-2.3z"/>
<path fill="#ff8000" d="M43.4 266l0.6 0 0 0.9zM42.1 268.3l1.1-0.6 1.5 0 0.8 1.3 0 3.1 1.1 4.6 -0.1 4.5 0.6 1.6 0.3 3.8 0.2 3.8 -0.3 1.5 0.9 3.1 1.6 37.4 -0.2 13.8 -1.1 5.7 -0.8 0 -0.7-1.1 0.2-0.8 -0.7-2.3 0-2.3 -1.8-11.5 -0.4-6.1 -0.6-3 0-4.6 -0.6-3.1 0.3-1.5 -0.6-5.3 0.3-2.3 -0.4-2.3 -0.1-6.9 -0.5-3 0.2-3.9 -0.5-1.5 0.7-3.8 -0.9-1.5 0.5-2.3 0.1-3.1 -0.9-3.8 0.8-2.3 -0.8-2.3z"/>
<path fill="#ff5100" d="M42.7 268.3l1.3-0.4 0.7 0.3 0.5 0.8 0.2 2.3 -0.3 0.8 0.7 1.5 -0.1 1.5 0.7 1.6 -0.1 4.5 0.6 1.6 0.5 6.9 -0.3 2.2 0.9 3.1 0.3 9.2 0.5 3 0.5 21.4 0.4 3.8 -0.1 7.7 -0.3 1.5 0 5.3 -0.5 2.3 -0.7 0.8 0.4 0.2 0 1.1 -0.8 0.1 -0.3-0.6 0.3-0.8 -1-2.3 0.1-2.3 -1.9-11.5 -0.5-6.1 -0.6-3 0.1-4.6 -0.6-3.1 0.2-1.5 -0.5-6.1 0.3-1.5 -0.6-4.6 0.2-4.6 -0.6-3 0.3-3.9 -0.5-1.5 0.1-2.3 0.6-1.5 -0.9-1.5 0.8-5.4 -0.8-1.5 -0.3-2.3 0.9-2.3 -0.8-3 0.4-1.6z"/>
<path fill="#ff2300" d="M43.9 268.3l1 0.7 0.1 2.3 -0.5 0.8 1 1.5 -0.3 1.5 1 1.6 -0.2 4.5 0.7 1.6 0.4 3.8 0.2 3.8 -0.4 1.5 0.9 3.1 0.3 9.2 0.6 3 -0.2 2.3 0.5 4.6 -0.3 1.5 0.4 2.3 0.3 9.2 -0.3 1.5 0.5 3.8 -0.2 7.7 -0.4 1.5 0.2 4.6 -0.7 3 -0.8 0 -0.7-1.5 0.1-2.3 -0.6-1.5 -2.5-19.1 0.1-4.6 -0.6-3.1 0.2-1.5 -0.5-6.1 0.3-1.5 -0.6-4.6 0.2-4.6 -0.7-3 0.4-3.9 -0.4-1.5 0-2.3 0.8-1.5 -1-1.5 0.5-3.9 0.6-1.5 -1.1-1.5 -0.1-2.3 0.9-3.1 0-0.7 -0.7-0.8 0.2-2.3z"/>
<path fill="#f30000" d="M43 269l1-0.3 0.4 0.3 -0.4 0.8 0.5 0.8 -0.5 1 -1-1zM43.6 273.6l0.4-0.6 0.7 0.2 0.1 1.2 -0.6 0.7 1.3 0.8 0.5 0.8 -0.2 4.5 0.6 1.6 0.7 6.1 -0.4 3 1 3.1 0.4 5.3 -0.1 3.9 0.5 3 -0.2 2.3 0.5 4.6 -0.2 1.5 0.4 2.3 0 10.7 0.4 3.8 -0.3 1.5 0.2 6.2 -0.5 1.5 0.3 3 -0.6 4 -0.8 0 -0.3-0.9 0-2.3 -0.6-1.5 -2.7-19.1 0.3-4.6 -0.7-3.1 -0.1-9.1 -0.6-4.6 0-3.1 0.4-1.5 -0.8-3 0.5-3.9 -0.4-3.8 0.8-1.5 -0.9-1.5 0-0.8 0.5-1.5 -0.1-1.6 0.8-1.5 -1.2-1.5 0.1-2.3 0.9-0.8z"/>
<path fill="#c50000" d="M43.4 276.7l0.6-0.7 0.7-0.1 1 0.8 -0.2 5.3 0.9 2.3 0.5 6.1 -0.4 1.5 1 3.1 0.5 5.3 0.2 9.2 0.5 4.6 -0.3 1.5 0.5 2.3 0 10.7 0.4 3.8 -0.4 1.5 0.3 1.6 -0.2 4.6 -0.5 1.5 0.3 3 -0.3 2.5 -0.4-1.7 -1.1-1.5 0.2-1.6 -1-3.4 -1.2-11.1 -0.7-3 0.3-4.6 -0.8-3.1 0.3-1.5 -0.4-2.3 0.1-5.3 -0.6-4.6 0-3.1 0.4-1.5 -0.8-3 0.5-3.9 -0.4-3.8 1-1.5 -1-2.3 0.8-1.5 -0.3-1.6 1.1-1.5 -1.5-1.5z"/>
<path fill="#970000" d="M44 276.7l0.7-0.4 0.8 0.4 0 1.8 -0.8 0.4 -1.2-0.7zM44.5 280.5l0.4 0 -0.2 1.2 -0.8-0.5zM44 283.5l0.7-0.6 0.8 0 0.6 1.4 -0.3 1.5 0.8 3.1 -0.3 3 0.8 2.3 0.3 4.6 0.5 1.5 -0.3 2.3 0.5 8.4 0.5 2.3 -0.4 2.3 0.5 2.3 0 10.7 0.4 3.8 -0.4 1.5 0.1 6.2 -1 2.2 0 0.8 0.7 0.4 0 1.4 -0.8-0.1 -0.3-0.9 0.3-1.6 -1.5-4.8 -0.5-5.8 -1.2-6.9 0.3-4.6 -0.8-3.1 0.3-2.2 -0.4-1.6 0-5.3 -0.5-4.6 0.1-3.1 0.4-1.5 -0.9-3 0.6-3.9 -0.4-3.8 1.3-1.5 0-0.8 -1-0.7 -0.2-0.8z"/></g>
<line x1="54.3" y1="405.2" x2="17.8" y2="421.1" stroke="#30e0d0" stroke-width="1" stroke-opacity="0.75"/>
<clipPath id="dD"><polygon points="53.7,246.4 85.8,259.6 81.7,425.9 54.3,405.6"/></clipPath><g clip-path="url(#dD)"><rect x="52.7" y="245.4" width="34.1" height="181.6" fill="#000097"/>
<path fill="#0000c5" d="M52.7 245.4l34.1 0 0 181.5 -34.1 0z"/>
<path fill="#0000f3" d="M52.7 245.4l34.1 0 0 181.5 -34.1 0z"/>
<path fill="#0023ff" d="M56.1 245.4l13.6 0 0.3 3.8 -0.2 11.4 -1 9.2 0.2 15.2 0.7 2.3 -1 4.6 0.6 2.3 0.8-0.8 0.8 0.2 0.8 2.9 0.8 15.2 -0.9 2.8 -0.7 0.5 -0.9-1.8 -0.8-9.9 0.5-3.8 -1.1-1.9 -0.9 1.9 -1.4 14.1 -1.4 19.5 -0.4 12.2 0.6 6.1 3.5 9.1 0.8-1.2 0.7-4.4 0.8-1.2 0.7 0.1 0.8 0.8 1.2 4.4 1.3 9.9 0.4 10.7 -0.5 3.8 -1.3 3.8 2.6 15.3 0.8 6.9 0 3.8 -0.1 0.7 -0.6 0.3 -1.7-4.8 -5.9-26 -0.5 0.8 -0.1 1.5 1 20.6 -0.7 3.1 -0.4 0.6 -2.3 0.5 -0.3 1.2 -0.8 8.3 0.1 6.9 -7.3 0 0-6.9 -1.4-25.9 -0.8-41.9 -0.8-16.1 0.3-28.2 1-38.1 -0.1-16.1z"/>
<path fill="#0051ff" d="M57.4 245.4l10.5 0 0.7 9.1 -1.8 38.1 -2.7 40.5 -0.6 22.9 0.5 7.6 2 12.2 0.8 8.4 0.8 9.9 0 8.4 -0.5 1.8 -0.8-0.5 -1.5-2.5 -0.4 1.2 -1.4 13.7 -1.3 3.8 0.2 3.9 -0.3 0.7 0.5 2.3 -3.6 0 0.1-6.9 -0.8-5.3 -0.9-13 -1.2-49.5 -0.8-16.1 0.4-30.5 1.1-33.5 0.1-14.5 0.4-9.2zM71.4 359.8l0.2-0.4 0.6 1.1 1 4.1 0.8 11.2 -0.7 4.6 -1.5 1.5 0.7 1.5 -0.6 1.6 -0.3 3.7 0-1.5 -0.7-2.1 -0.2-3.2 -1-3 0.2-2.3 -0.4-1.6 1.5-0.7 -0.5-1.6 0.8-2.2 -0.2-1.6z"/>
<path fill="#0080ff" d="M58.3 245.4l8.5 0 0.9 9.9 0 6.1 -0.6 4.5 -1.1 27.5 -2.4 39.7 -0.8 22.9 0.5 8.4 1.9 12.2 -0.1 2.3 0.5 1.5 0.4 5.3 -0.2 3.1 0.7 1.5 0.2 3.8 -0.4 1.3 -0.7 0 -0.8-0.9 -0.7 0.2 -0.8 9.3 -0.9 3.1 -0.5 5.3 -0.9 2.6 -0.7 1 -0.8 0.2 -0.9-1.5 -0.2-4.6 -1-8.4 -1.4-49.5 -0.8-16.1 0.8-44.2 1.1-23.7 -0.2-6.8 0.7-13z"/>
<path fill="#00aeff" d="M59.1 245.4l6.7 0 0.5 6.1 0.6 2.2 0.2 6.9 -0.7 6.1 -0.8 26.7 -3.2 58 -0.1 4.6 1 14.5 -0.4 3 1 3.1 -0.5 0.7 -0.4 4.6 0.2 14.5 -0.6 7.7 -1.7 3.7 -0.6 0.9 -0.8 0.2 -0.7-1.1 -1.1-6.8 -0.5-26 -1.7-38.9 0.4-30.5 1.6-37.4 -0.2-6.8 0.9-13z"/>
<path fill="#00dcff" d="M59.8 245.4l4.9 0 0.8 3 1.1 12.2 -0.7 6.1 -0.7 26.7 -0.7 8.4 -0.8 21.4 -0.4 2.3 -1.3 30.5 0.5 13.7 -0.7 3.8 0.5 1.5 0.3 3.1 0.2 18.3 -0.4 5.3 -0.6 1.9 -2.3 2.2 -0.7-1.2 -0.6-2.9 -0.5-9.1 -0.2-17.6 -0.5-6.1 -1.3-35.1 1-45 1.2-20.6 -0.3-6.8 0.6-2.3 0.6-10.7z"/>
<path fill="#0cfff3" d="M60.2 246.1l0.5-0.7 2.8 0 1.2 3 -0.2 1.5 0.8 3.1 0.8 7.6 -0.7 6.1 0.3 3.1 -0.5 6.1 -0.4 19 -0.6 6.9 0.1 2.3 -0.6 9.1 0.2 3.1 -0.5 3.8 -1.2 27.5 -0.4 3.8 0.3 18.3 -0.9 3.8 1 4.6 0.2 18.3 -0.6 5.3 -0.8 1 -0.7 0.2 -0.8-0.2 -0.8-1 -0.7-9.9 -0.1-10.7 -0.3-2.2 0.2-3.9 -0.6-6.1 0.1-4.5 -1.4-31.3 1-44.3 1.3-20.6 -0.2-3 0.3-1.5 -0.3-2.3 0.5-2.3 0.1-5.4 0.7-3 -0.2-1.5z"/>
<path fill="#3affc5" d="M61 246.1l0.8-0.5 0.6 0.5 1.4 2.3 -0.4 1.5 1.3 3.1 -0.2 0.7 0.6 1.6 0.2 3.8 0.4 1.5 -0.7 6.1 0.3 3.1 -0.3 1.5 0.3 1.5 -0.5 3.1 0.1 9.1 -0.5 6.1 0.2 4.6 -0.7 6.1 0 6.9 -0.5 4.5 0.3 2.3 -0.9 10 -0.4 13.7 -1 13.7 0.3 16.8 -1 3.8 0.7 1.5 0.4 3.1 0.3 18.3 -0.2 2.3 -0.9 2.3 -0.7 0.1 -0.8-0.1 0.1-1.6 -0.9-1.5 0.4-1.5 -0.8-4.6 -0.1-10.7 -0.4-2.2 0.3-3.9 -0.7-6.1 0.2-4.5 -0.4-3.1 -1.2-28.2 1.1-44.3 1.4-20.6 -0.2-3 0.3-1.5 -0.3-2.3 0.6-2.3 0.2-6.1 0.8-2.3 -0.3-1.5z"/>
<path fill="#68ff97" d="M60.6 248.4l0.4-0.6 0.8-0.2 0.6 0.8 -0.2 1.5 1.7 2.3 1 5.4 -0.2 1.5 0.7 1.5 -0.6 1.5 0.2 3.1 -0.4 1.5 0.3 3.1 -0.3 1.5 0.4 1.5 -0.6 3.1 0.3 1.5 -0.1 7.6 -0.5 6.1 0.2 4.6 -0.7 6.1 0.1 6.9 -0.5 4.5 0.3 2.3 -0.9 10 0.1 4.5 -0.9 16.8 -0.7 6.1 0.4 6.9 -0.1 3 -0.3 1.6 0.2 5.3 -1.1 3.8 0.8 1.5 0.5 3.1 -0.1 4.6 0.4 3.8 -0.4 2.3 0.4 3 -0.6 1.5 0.5 1.6 -0.1 3 -0.6 1 -1.5-1 0.7-3.8 -1-0.8 -0.5-1.5 -0.2-10.7 -0.5-2.2 0.4-3.9 -0.4-2.3 0.1-2.2 -0.4-1.6 0.2-4.5 -0.5-3.1 -1.2-28.2 1.1-44.3 0.4-1.5 0.2-9.1 0.5-1.6 0.4-8.4 -0.2-3 0.4-1.5 -0.4-2.3 0.5-2.3 0.3-5.4 1.1-3 -0.3-1.5z"/>
<path fill="#97ff68" d="M61.1 251.5l0.7-0.4 0.8 0.3 0.7 1.1 0.7 2.8 0.2 3.8 0.8 1.5 -1.1 2.3 0.7 2.3 -0.4 1.5 0.3 3.1 -0.3 1.5 0.6 1.5 -0.8 3.1 0.5 3.8 -0.2 9.1 -0.5 2.3 0.3 4.6 -0.7 6.1 0.2 2.3 -0.6 9.1 0.3 2.3 -0.8 9.2 -0.9 22.1 -0.8 6.1 0.4 9.9 -0.7 2.3 0.4 0.8 0.1 3.8 -1.5 3 0 0.8 1.2 1.5 0.5 3.1 0.1 13.7 -0.3 0.7 -0.7 0.2 -1-0.9 -0.2-3 0.3-1.6 -1-7.6 0.1-8.4 -0.6-2.3 0-3 0.5-1.5 -0.8-3.1 -1.3-28.2 1.2-44.3 0.4-1.5 0.2-8.4 0.5-2.3 0.3-11.4 0.4-1.5 -0.5-1.6 1-5.3 0.1-3.1z"/>
<path fill="#c5ff3a" d="M61.4 253l1.2 0.1 0.8 2.2 -0.6 1.5 1.8 3.8 -1.7 2.3 1.3 2.3 -0.4 1.5 0.4 3.1 -0.4 1.5 0.7 1.5 -1 3.1 0.6 1.5 0.1 2.3 -0.3 3.8 0.1 5.3 -0.4 2.3 0.3 4.6 -0.5 2.3 0.2 2.3 -0.4 1.5 0.1 6.9 -0.5 4.5 0.3 2.3 -0.8 9.2 -0.8 21.3 -1 6.9 0.4 9.9 -0.6 1.3 -0.5 0.3 -0.1 0.7 0.7 0.8 0.2 3.8 -1.1 1.2 -0.7-0.5 -0.7-1.5 0.2-3 0.8-1.5 -1.1-1.6 -0.2-1.5 -0.1-6.9 -0.9-9.1 -0.3-18.3 1.2-38.2 0.4-1.5 0.2-9.1 0.5-1.6 0.1-5.3 0.4-2.3 -0.1-3.8 0.4-1.5 -0.4-1.6 0.9-4.5 0.3-3.9zM59.3 374.3l0.9 0.7 0.6 3.1 0.1 2.3 -0.6 3 0.7 1.5 0.1 1.6 -0.8 1.3 -0.8-2.8 0-1 0.6-0.6 -1.4-3.8zM60.1 388.8l0.2-0.5 0.5 2 -0.5 0.9 -0.5-0.9z"/>
<path fill="#f3ff0c" d="M61.2 254.5l0.6-0.5 0.9 1.3 -0.3 0.7 -1.3 0.8 1.5 1 1.6 2.8 -1.8 1.5 -0.2 0.8 1.6 2.3 -0.4 1.5 0.4 3.1 -0.3 1.5 0.7 1.5 -1.1 3.1 0.8 2.3 -0.3 5.3 0.2 5.3 -0.5 2.3 0.4 4.6 -0.5 2.3 -0.1 10.7 -0.5 4.5 0.3 2.3 -0.9 12.2 0.2 2.3 -0.6 4.6 -0.3 11.4 -1.1 6.9 0.4 9.9 -0.3 0.8 -0.8 0.3 -0.7-0.3 -0.8-2.3 0.3-1.5 -1.3-14.5 -0.4-18.3 0.6-12.2 -0.1-9.2 0.6-3.8 -0.1-6.9 0.9-16.7 0.7-2.3 -0.1-4.6 0.6-2.3 -0.2-3.8 0.5-1.5 -0.5-1.7 0.7-3.7 0.8-1.5 -0.4-0.8zM58.6 365.9l0.9-0.3 0.3 0.3 0.3 3.8 -0.6 0.4 -0.7-0.3 -0.4-0.9zM59.4 377.3l0.1-0.4 0.8 0.9 0 3.6 -0.9-1z"/>
<path fill="#ffdc00" d="M60.8 258.3l0.2-0.2 1.2 0.2 1.6 2.3 -2.3 1.5 -0.2 0.8 2.1 2.3 -0.5 1.5 -0.1 2.3 0.6 0.8 -0.3 1.5 0.8 1.5 -1.2 3.1 1 2.3 -0.4 5.3 0.3 1.5 -0.2 2.3 0.2 1.5 -0.5 2.3 0.4 4.6 -0.5 2.3 0.2 1.5 -0.4 2.3 0.2 6.9 -0.5 3.8 0.2 3 -0.9 12.2 0.1 3.9 -0.4 3 0 5.3 -0.7 8.4 -1 4.6 0.5 3.8 -0.4 2.3 0.4 3.8 -0.8 0.6 -0.7-0.3 -0.6-1.8 0.4-1.5 -0.6-3.1 0.2-2.3 -1.1-9.1 -0.4-18.3 0.5-6.9 0.1-14.5 0.5-3.8 0.2-13 0.4-1.5 0.2-9.1 0.8-2.3 0-4.6 0.8-2.3 -0.4-0.8 0.1-3 0.8-1.5 -0.6-1.6 0.2-3zM58.7 368.9l0.8-0.4 0 0.7z"/>
<path fill="#ffae00" d="M60.9 259.1l0.9-0.2 1.5 1.7 -1.5 0.5 -0.8-0.3zM60.7 264.4l1.1-0.1 1.1 0.9 -0.8 3 -0.3 0.6 -0.8 0.1 -0.7-0.4 -0.2-1 0.1-2.3zM60.6 269.8l0.4-0.6 1.6 0.3 0.1 1.8 0.8 1.5 -1.4 2.3 1.3 3.1 -0.4 5.3 0.4 1.5 -0.3 2.3 0.3 1.5 -0.5 2.3 0.4 4.6 -0.6 2.3 0.3 1.5 -0.4 2.3 0.2 6.9 -0.5 3 0.3 3.8 -1.7 30.5 -1.4 6.9 0.5 3.8 -0.5 1.7 -0.7 0.6 -0.6-2.3 0.3-2.3 -1.3-9.1 -0.3-18.3 0.5-6.9 0-14.5 0.6-3.8 -0.1-6.9 1.1-15.2 -0.2-1.5 1-2.3 -0.1-4.6zM58.7 360.5l0.8-0.1 0.4 1.7 -0.4 0.8 -0.7-0.5z"/>
<path fill="#ff8000" d="M60.9 265.2l0.9-0.3 0.4 0.3 -0.4 0.7 -0.8 0zM61 266.7l0-0.6 0.8 1.4 -0.8 0.8 -0.5-0.8zM60.3 270.5l1.5-0.5 1.3 2.8 -0.5 1.1 -1.6 0.9 -1-1.2zM60.3 275.9l0.7-0.7 2 2.2 0.2 0.8 -0.5 4.5 0.4 2.3 -0.2 2.3 0.2 1.5 -0.4 2.3 0.4 4.6 -0.6 2.3 0.4 1.5 -0.5 2.3 0.3 6.9 -0.6 3 0.3 3.8 -1.7 30.5 -0.7 3.9 -1.2 3.1 -1.5-7.7 -0.3-18.3 0.5-6.9 0-13.7 0.7-4.6 -0.1-6.9 1.1-14.5 -0.2-2.2zM58.7 355.2l0.8 0.4 0.1 1.1 -0.8 0.8z"/>
<path fill="#ff5100" d="M60.5 271.3l0.5-0.6 1.5 2.1 -0.5 0.8 -1 0.2 -0.4-0.2 -0.3-0.8zM60 276.6l1-0.5 1.6 1.1 0.3 1 -0.5 3.8 0.5 3.8 -0.4 5.3 0.4 4.6 -0.6 2.3 0.4 1.5 -0.5 2.3 0.3 6.9 -0.6 3 0.3 3.8 -0.8 12.2 0.1 4.6 -0.5 2.3 0 5.3 -0.9 8.4 -0.6 2.1 -0.7 0.8 -1.4-5.9 0.3-2.3 -0.5-3.8 -0.1-12.2 0.5-6.9 0-13.7 0.7-4.6 0.1-11.4 1.1-10 -0.3-2.2z"/>
<path fill="#ff2300" d="M60.4 276.6l1.4 0.3 0.9 1.3 -0.7 1.5 0.2 3.8 0.5 2.3 -0.4 5.3 0.4 4.6 -0.6 2.3 0.4 1.5 -0.5 2.3 0.4 6.9 -0.7 3 0.4 3.8 -0.8 12.2 0 4.6 -0.5 2.3 0.1 5.3 -0.5 6.1 -0.9 3.3 -0.7 0.9 -1.2-4.9 0.2-2.3 -0.5-3.8 -0.1-12.2 0.5-6.9 0.1-13.7 0.7-4.6 0.1-11.4 1.2-10 -0.4-2.2 0.2-0.8z"/>
<path fill="#f30000" d="M59.8 277.4l1.2-0.6 1 0.6 0.4 0.8 -1.2 1.5 1.2 6.1 -0.4 5.3 0.6 4.6 -0.7 2.3 0.4 1.5 -0.4 2.3 0.3 6.9 -0.7 3 0.4 3.8 -0.8 12.2 0.1 4.6 -0.5 2.3 0 5.3 -0.5 6.1 -0.8 1.6 0.1 0.8 -0.7 0.6 -1.1-3.7 0.2-2.3 -0.5-3.8 -0.1-9.9 0.6-9.2 0-13.7 0.8-4.6 0-11.4 0.8-7.7 0.7-2.3 -0.6-2.2z"/>
<path fill="#c50000" d="M60.1 277.4l0.9-0.3 0.6 0.3 0.5 0.8 -0.3 0.7 -0.8 0.4 -0.7-0.1 -0.5-1zM60.1 282l0.2-0.5 0.7 0.2 1.1 4.1 -0.3 5.3 0.5 1.5 -0.3 1.6 0.3 1.5 -0.6 2.3 0.4 2.3 -0.5 1.5 0.4 2.3 0.1 4.6 -0.8 3 0.5 3.8 -0.9 12.2 0.2 4.6 -0.6 2.3 0.1 5.3 -0.5 2.3 -0.2 3.8 -1.1 1.4 -1-2.1 0.3-2.3 -0.5-3.8 0-16 0.6-8.4 -0.3-3.1 0.1-5.3 0.9-4.6 0-11.4z"/>
<path fill="#970000" d="M60.1 278.2l0.2-0.5 0.7-0.3 0.7 0.8 -0.7 0.7 -0.7-0.2zM60.3 282.7l0.4 0.8 -0.4 0.7zM60.1 285l0.2-0.7 0.7 0.1 0.7 1.4 -0.2 5.3 0.6 1.5 -0.3 1.6 0.3 1.5 -0.6 2.3 0.4 2.3 -0.5 1.5 0.5 2.3 -0.4 0.8 0.5 3.8 -0.9 3 0.4 3.8 -0.4 10.7 -0.4 1.5 0.2 4.6 -0.5 2.3 0 5.3 -0.6 2.3 -0.1 3.8 -0.9 0.6 -0.9-1.3 0.5-2.3 -0.6-3.8 0-16 0.5-3.9 -0.3-3 0.4-1.5 -0.4-3.1 0.5-7.6 0.6-2.3 0-11.4 0.4-4.1z"/></g>
<line x1="81.7" y1="425.5" x2="54.3" y2="405.2" stroke="#30e0d0" stroke-width="1" stroke-opacity="0.75"/>
<text x="8" y="17.5">(a)</text><text x="95" y="17.3">80</text>
<text x="89.6" y="180.6">20</text><text x="19.5" y="208.2">-20</text><text x="86.6" y="206.3">-20</text>
<text x="51.5" y="203" font-style="italic">z</text><text x="80.5" y="221.5">(cm)</text>
<text x="26" y="223" font-style="italic">y</text><text x="76.5" y="231.5" font-style="italic">x</text>
<path d="M54.1 231.7L54.1 209M51.2 213.5L54.1 208.6L57 213.5" stroke="#111" stroke-width="1.1" fill="none"/>
<path d="M54.1 231.7L34.6 219M36.2 223.6L34.4 218.8L39.6 218.6" stroke="#111" stroke-width="1.1" fill="none"/>
<path d="M54.1 231.7L75.2 223.5M69.8 222.4L75.4 223.4L72 227.8" stroke="#111" stroke-width="1.1" fill="none"/>
<text x="7" y="238">(d)</text><text x="95" y="237">80</text>
<text x="90" y="400.8">20</text><text x="20" y="430">-20</text><text x="86" y="429">-20</text>
<rect x="126.4" y="24.2" width="69" height="68.5" fill="#000095"/>
<path fill="#0000bf" d="M156.6 33.1l4.8-0.5 4 0.5 4 1.4 4 2.5 10 11.7 2.1 4.3 0.9 4 0.1 3.9 -0.8 4 -1.2 3 -2.1 3.3 -2 2.1 -4.7 3.5 -5.6 5 -3.7 1.8 -4 0.9 -4 0.1 -4-0.7 -4-1.7 -3-2.1 -10-11.8 -1.7-3.4 -1-4 -0.2-3.9 0.6-4 1.1-3 2.2-3.7 2-2.1 5-3.8 4.6-4.3 3.4-1.9z"/>
<path fill="#0000ea" d="M159.7 36.1l2.7-0.4 2.4 0.4 -0.4 0.4 -1 0.2zM152.6 40.1l1.8-0.6 2-0.1 2 0.5 3 1.6 1 0.2 4-1 2 0.2 2 0.6 2 1.2 2 1.6 1.6 1.7 1.9 3 1.1 3 0.2 2 -0.3 2 -2 3.9 1.3 4 0.1 2 -0.3 2 -0.9 2 -2.7 3.4 -3 2.4 -3 1.6 -4 0.7 -2-0.4 -3-1.2 -1-0.1 -4 1 -2-0.2 -2-0.7 -2-1.1 -2.8-2.5 -1.8-1.9 -1.7-3 -1.1-3 -0.3-2 0.3-2 1.6-3.9 -0.8-5 0.8-3 1-2 2.8-3.2 3-2.3zM138.4 54l0.3 2 -0.3 2.9 -1-0.5 -0.1-1.4 0.1-0.9zM182.9 58.9l0.5-0.6 0.1 2.6 -0.1 1.2 -1 1 0-3.2zM155.8 80.8l1.6-0.3 3.4 0.3 -0.8 1 -0.6 0 -1.2 0z"/>
<path fill="#0015ff" d="M153.3 41.1l2.1-0.2 2 0.5 0.9 0.7 0.5 1 -0.2 1.9 0.5 1 1.9 1 3.4 1 1.3 0 0.6-1 -1-2 -0.1-0.9 0.7-1 1.5-0.6 2 0.2 2 0.8 2 1.4 1.9 2.1 1.3 2 0.8 3 0 2 -1 1.7 -2 0.3 -1 0.4 -2 4.5 -0.2 2 0.2 1.4 3-0.8 1.2 0.4 0.8 1 0.2 1 -0.2 2 -0.7 2 -1.3 2 -2 1.9 -2 1.4 -4 1.2 -3-0.3 -1.5-1.3 -0.2-1 0.4-1.9 -0.9-1 -2.3-1 -2.5-0.3 -0.7 0.3 1.2 2.9 0 1 -0.7 1 -1.8 0.8 -3-0.1 -2-0.9 -2-1.2 -2.5-2.5 -1.3-2 -0.8-2 -0.6-3 0.7-3 1.5-1.5 1-0.1 2 0.6 1-0.8 1-2.3 0.2-1.8 -0.2-1.1 -3 1.3 -1 0.1 -1-0.6 -0.8-1.7 -0.2-1 0.5-3 1.7-3 1.9-1.9 1.9-1.5 2-1z"/>
<path fill="#0040ff" d="M152.3 42.1l2.1-0.3 2 0.5 0.7 0.8 0 2.9 5.3 2.2 3 0.7 3 0.1 0.3-1 -1.4-3 0.6-0.9 1.5-0.2 3 1.3 1.9 1.8 1.1 1.7 0.8 2.3 -0.1 2 -0.7 0.8 -2 0.2 -2.9 7.9 -0.3 3 0.2 1.5 1 0 2-0.9 1-0.1 1 1.2 0 1.3 -0.6 2 -1.4 2 -3 2.4 -3 1.1 -2 0 -1-0.3 -0.9-1.3 0.5-1.9 -0.8-1 -5-2 -2.8-0.3 -1.7 0.3 1.5 3 0.2 0.9 -0.3 1 -1.7 1 -2-0.2 -2-0.7 -2-1.3 -1.7-1.7 -1.3-2 -0.9-2 -0.4-2 0.3-2.6 1-1.2 1-0.2 2 0.6 1-0.6 2-4.9 0.2-2 -0.2-2.2 -1 0.2 -2 1.3 -1 0.3 -1-0.1 -1-1.5 0.3-3 1-2 1.7-2 2-1.6zM160.4 57.6l-0.7 0.4 -0.3 0.9 1 0.9 1.2-0.9 -0.3-0.9z"/>
<path fill="#006aff" d="M151.2 43.1l2.2-0.6 2 0.5 0.5 1.1 -0.4 1.9 7.9 3 4 0.5 3 0.7 0.8-0.2 -1.9-4 0.1-0.3 1-0.4 2 1 1.6 1.7 0.6 1 0.3 2 -0.5 0.8 -2-0.4 -0.3 4.6 -1.8 4.9 -0.9 6.5 0.1 0.5 0.9 0.1 3-1.1 1 0.9 -0.1 1.1 -1.7 3 -2.2 1.7 -2 0.9 -2 0.1 -1.4-0.8 0.4-1.9 -0.1-1 -6.9-2.3 -5-0.7 -0.3 0 -0.6 1 1.6 3 0.1 0.9 -0.8 1 -2 0.2 -2-0.7 -2-1.4 -2.5-3 -1.1-3 0-2 0.3-1 0.3-0.4 1-0.5 2 0.7 1-0.3 2.4-6.4 0.5-5 -0.9-0.6 -3 1.8 -1 0.2 -0.8-0.4 -0.4-1 0.2-2 1-2 1-1.3 2-1.7zM160.4 56.8l-1 0.4 -0.7 0.8 0 0.9 0.7 1.2 1 0.4 1.4-0.6 0.6-1 -1-1.9z"/>
<path fill="#0095ff" d="M150.3 44.1l2.1-0.8 1 0 1.3 0.8 -0.6 2.9 4.3 0.5 4 1.6 6 1.1 1.7 0.8 1.1 1 0.7 2 -0.1 2 -1.8 4.9 -1 6 -1.6 2.7 -3 0.5 -3-0.7 -4-1.5 -5-0.5 -1 0.1 -0.1 0.4 1.9 4 -0.2 0.9 -1.6 0.5 -3-1.2 -2.4-2.2 -1.5-3 -0.1-2.6 1-1.2 3 0.8 2.7-7.9 1-7 -0.7-0.1 -4 2.4 -1.1-0.3 -0.3-1 0.1-1 1.7-3zM159.4 56.7l-1.2 1.3 0.2 1.6 1 1.2 1 0.2 1-0.2 1.1-0.9 0.3-1 -0.4-1.5 -1-0.9 -1-0.2zM170.8 68.9l1.6-0.5 0.7 0.5 -0.6 2 -2.1 2 -2 0.8 -1 0.1 -0.9-1 0.9-1.8 1.3-1.1z"/>
<path fill="#00bfff" d="M152.2 44.1l1.3 0.9 -1.2 2 -3.9 2.9 -1.2 0.1 -0.4-1 0.3-1 1.3-1.9 2-1.5zM154.4 48l1-0.4 2 0 5 1.7 6 1.2 2 1.3 0.8 1.2 0.2 3 -2 5.9 -0.5 4 -0.8 2 -1.7 1.5 -3 0.3 -5-1.8 -5-0.8 -2-0.6 -1.8-1.6 -0.2-2 0.2-2 1.8-4.8 0.8-5.1 0.9-2zM160.4 55.9l-2.1 1.1 -0.4 1 -0.1 0.9 0.4 1 0.8 1 1.4 0.5 2-0.9 0.8-1.6 -0.8-2.1 -1-0.8zM145 64.9l0.4-0.7 1-0.1 2.8 1.8 2.4 4 0.7 2 -0.9 0.7 -1-0.1 -1.6-0.6 -1.4-1.1 -2-2.9 -0.5-2zM169.5 70.9l0.9-0.5 0.8 0.5 -0.8 1 -1 0.3 -0.8-0.3z"/>
<path fill="#00eaff" d="M151.4 45l0.5 1 -0.8 1 -1.7 1.4 -1 0.4 -0.4-0.8 0.4-1 1-1zM155.6 48l2.8 0.1 5 1.7 4 0.6 2 0.9 1.5 1.7 0.3 3 -1.8 5 -0.8 4.9 -1 2 -1.2 1 -2 0.6 -2-0.3 -4-1.5 -6-1.2 -2.1-1.6 -0.6-2 0.1-2 1.6-4 1.1-5.9 1.2-2 0.7-0.6zM159.4 55.9l-1.4 1.1 -0.5 1 0 0.9 1 2 1.9 0.8 1-0.2 1-0.5 0.9-1.1 0.1-1.9 -0.5-1 -1-1 -1.5-0.4zM145.6 65.9l0.8-0.8 1 0.4 1.6 1.4 2.3 4 -0.7 1 -2.2-0.9 -1.3-1.1 -1.2-2z"/>
<path fill="#15ffea" d="M154.1 49l1.3-0.7 1-0.2 2 0.2 4.7 1.7 4.3 0.7 2 1 1.1 1.3 0.5 2 -0.2 2 -1.6 3.9 -0.8 5 -1 1.8 -1 0.9 -2 0.6 -2-0.2 -4-1.5 -5-0.9 -1.6-0.7 -1.1-1 -0.8-2 0.2-2 1.5-3.9 1.1-6zM159.4 55.6l-1 0.5 -1 1.4 0 2.2 0.7 1.2 1.3 0.9 2 0 1-0.5 1-1.1 0.4-1.3 -0.1-0.9 -0.4-1 -0.9-1.1 -1-0.4zM146.3 66.9l0.1-0.3 1-0.2 1 0.8 1.7 2.7 -0.5 1 -1.2-0.6 -1-0.9 -0.9-1.5z"/>
<path fill="#40ffbf" d="M154.6 49l1.8-0.7 2 0.2 4 1.5 5 0.9 2 1.1 0.8 1 0.6 2 -0.2 2 -1.5 3.9 -0.9 5 -0.8 1.4 -1 1 -2 0.7 -2-0.2 -4-1.5 -5-0.9 -2.4-1.5 -0.8-2 0.1-2 1.7-4.9 1-5zM158.4 55.8l-1 1.1 -0.4 1.1 0.2 1.9 0.6 1 1.6 1.1 2 0.1 1-0.5 1-0.9 0.6-1.8 -0.6-2.2 -1-1 -1-0.5 -1-0.1z"/>
<path fill="#6aff95" d="M155 49l1.4-0.5 2 0.1 4 1.6 5 0.9 1.7 0.9 0.9 1 0.6 2 -0.2 2 -1.5 3.9 -0.9 5 -1.6 2.1 -2 0.8 -2-0.2 -4-1.5 -5-0.9 -2-1.3 -0.7-1 -0.2-3 1.7-4.9 0.6-4 1-2zM160.4 54.9l-2 0.6 -1 1 -0.6 1.5 0 0.9 0.7 2 1.1 1 1.8 0.5 2-0.5 1-0.8 0.9-2.2 -0.5-1.9 -0.7-1 -1.6-1z"/>
<path fill="#95ff6a" d="M155.5 49l0.9-0.3 2 0.1 4 1.6 5 0.9 1.4 0.7 1 1 0.4 1 0.2 2 -1.7 4.9 -0.6 4 -0.9 2 -1.8 1.4 -1 0.3 -2-0.2 -4-1.5 -4-0.6 -2-0.8 -1.5-1.6 -0.3-1 0-2 1.8-4.8 0.6-4.1 1.1-2zM159.4 54.8l-1.8 1.2 -0.7 1 -0.3 1 0.1 1.9 0.5 1 1.2 1.1 1 0.5 2 0 1.3-0.6 1-1 0.7-1.5 0-1.4 -0.9-2 -1.1-0.8 -1-0.4z"/>
<path fill="#bfff40" d="M156.2 49l2.2 0 4 1.5 5 0.9 2 1.4 0.6 1.2 0.2 1 -0.2 2 -1.5 3.9 -0.6 4 -0.9 2 -1.6 1.2 -1 0.3 -2-0.1 -4-1.6 -4-0.6 -2-0.8 -1.2-1.4 -0.4-1 0-2 1.6-4.2 0.8-4.7 1.2-2zM159.4 54.6l-2 1.2 -0.7 1.2 -0.3 1 0.1 1.9 0.9 1.5 1 0.9 1 0.4 2 0 1.7-0.8 0.9-1 0.5-1 0.1-1.9 -0.9-2 -1.2-1 -1.1-0.4z"/>
<path fill="#eaff15" d="M154.6 50l1.8-0.9 2 0.1 4 1.5 5 0.9 2 1.6 0.5 0.8 0.2 2 -1.8 4.9 -0.5 4 -1.1 2 -1.3 1 -1 0.3 -2-0.1 -4-1.6 -4-0.6 -2-0.9 -1-1.1 -0.4-1 0-2 1.5-3.9 0.9-5zM158.4 54.8l-1.3 1.2 -0.9 2 0.1 1.9 0.4 1 0.9 1 1.8 1 2 0.1 1-0.4 1-0.7 1.3-2 0.1-1.9 -0.2-1 -0.6-1 -1.6-1.3 -2-0.4z"/>
<path fill="#ffea00" d="M154.9 50l1.5-0.7 2 0 4 1.6 5 0.9 1 0.6 1 1.1 0.5 2.5 -1.8 4.9 -0.5 4 -1.1 2 -1.1 0.8 -1 0.3 -2-0.1 -4-1.6 -4-0.5 -1.9-0.9 -0.9-1 -0.4-1 -0.1-2 1.6-3.9 0.8-5zM158.4 54.5l-1 0.8 -1.1 1.7 -0.4 1.9 0.6 2 0.9 1.1 2 1.1 2 0 1-0.2 1.3-1 1.2-2 0.1-1.9 -0.2-1 -0.5-1 -1.9-1.5 -2-0.4z"/>
<path fill="#ffbf00" d="M155.2 50l1.2-0.5 2 0 4 1.6 4 0.5 2 1 1 1.3 0.3 2.1 -1.7 4.9 -0.6 4 -1 1.9 -1 0.7 -1 0.3 -2-0.1 -4-1.5 -4-0.6 -1.6-0.7 -1-1 -0.4-1 -0.1-2 1.6-3.9 0.8-5 0.7-1.2zM160.4 53.9l-2 0.4 -1 0.7 -1.3 2 -0.3 1.9 0.4 2 0.8 1 1.4 1 2 0.5 2-0.3 1-0.6 1.3-1.6 0.5-2 -0.2-1.9 -0.6-1.2 -2-1.5z"/>
<path fill="#ff9500" d="M155.6 50l0.8-0.3 2 0 4 1.6 4 0.5 2 1 0.9 1.2 0.3 2 -1.8 4.9 -0.6 4 -0.8 1.6 -1 0.8 -1 0.4 -2-0.1 -4-1.6 -4-0.6 -1.3-0.5 -1-1 -0.5-1 -0.1-2 1.6-3.9 0.8-5 0.5-1zM159.4 53.8l-2 0.9 -1.1 1.3 -0.7 2 0.1 1.9 1 2 1.7 1.2 2 0.5 2-0.3 1-0.5 1.5-1.9 0.5-2 -0.2-1.9 -0.4-1 -1.4-1.4 -2-0.8z"/>
<path fill="#ff6a00" d="M156 50l2.4-0.2 4 1.7 4 0.4 2 1.1 0.7 1 0.3 2 -1.8 4.9 -0.5 4 -0.7 1.3 -1 0.9 -1 0.4 -2-0.1 -4-1.6 -4-0.5 -1-0.4 -1.1-1 -0.5-1 -0.1-2 1.5-3.9 0.6-4 0.9-2zM158.4 53.8l-1.6 1.2 -1.1 2 -0.3 1.9 0.4 2 0.6 1 2 1.4 2 0.5 2-0.3 1.1-0.6 1.6-2 0.5-2 -0.2-1.9 -1-1.8 -2-1.3 -2-0.4z"/>
<path fill="#ff4000" d="M156.5 50l1.9 0 4 1.7 4 0.4 1.7 0.9 0.8 1 0.3 1 -0.2 2 -1.3 2.9 -0.8 5 -0.5 1 -1 1 -1 0.4 -2-0.1 -4-1.6 -4-0.5 -2-1.3 -0.4-0.9 -0.2-2 1.6-3.9 0.5-4 1-2zM158.4 53.6l-1.8 1.4 -1.1 2 -0.4 1.9 0.4 2 0.9 1.3 2 1.4 2 0.4 2-0.3 1.5-0.8 1.4-2 0.6-2 -0.2-1.9 -1.2-2 -2.1-1.4 -2-0.3z"/>
<path fill="#ff1500" d="M155.2 51l1.2-0.7 2-0.1 4 1.7 4 0.4 1.4 0.7 0.8 1 0.4 1 -0.2 2 -1.7 3.9 -0.4 4 -1.3 1.7 -1 0.5 -2 0 -4-1.8 -4-0.4 -2-1.5 -0.4-1.5 0-1 1.8-3.9 0.3-4zM157.4 53.9l-1.8 2.1 -0.7 2 0.1 1.9 0.8 2 1.6 1.4 2 0.9 2 0 2-0.6 1.6-1.7 1-2 0.1-1.9 -0.6-2 -1.1-1.4 -2-1.2 -3-0.3z"/>
<path fill="#ea0000" d="M155.4 51l1-0.5 2-0.1 3.6 1.6 0.4 0.5 4 0.1 1.1 0.4 0.9 1 0.4 1 -0.2 2 -1.2 2.6 -0.5 0.3 -0.2 4 -0.3 1.3 -1 1.2 -1 0.5 -2 0 -3-1.7 -5-0.5 -1.3-0.8 -0.7-0.9 -0.3-1.1 0.3-1.8 1.7-3.1 0.2-4zM159.4 52.9l-2.5 1.1 -2.2 3 -0.1 1.9 0.4 2 1.4 1.9 2 1.5 2 0.3 2-0.3 2-1.2 1.6-2.2 0.3-2 -0.1-1.9 -1.1-2 -1.7-1.5 -2-0.8z"/>
<path fill="#bf0000" d="M155.9 51l1.5-0.5 1 0.1 1.2 0.4 1.5 1 -3.7 1.2 -2 2.1 -1 0.4 0.1-2.7zM163.1 53l1.3-0.3 2 0.1 1.7 1.2 0.5 2 -0.2 1.1 -1 1.8 -0.7-0.9 -0.6-2 -0.6-1zM153.3 58.9l0.1-0.2 1 0.2 0.3 2 0.5 1 2.2 2 -1 0.8 -2-0.3 -1.1-0.5 -0.7-1 -0.2-2zM166 61.9l0.4-0.9 0 3.6 -0.8 1.3 -1.2 0.7 -2 0 -1.6-0.7 -0.4-0.7 -0.7-0.3 3.7-0.7z"/>
<path fill="#950000" d="M156.3 51l2.1-0.1 1.6 1.1 -2.6 0.9 -2 1.7 -0.5-0.6 0-1 0.3-1zM164.3 53l2.1 0 1.4 1 0.5 1 0.1 1 -1 2.1 -1.4-3.1zM153.2 59.9l0.2-0.5 1.4 2.5 1.8 2 -0.2 0.2 -2 0.1 -1-0.7 -0.7-1.6zM165.4 62.9l0.3 0 0.6 1 -1 2 -1.9 0.5 -2-0.5 0.7-1 1.3-0.3z"/>
<rect x="126.4" y="243.5" width="69" height="68.1" fill="#000095"/>
<path fill="#0000bf" d="M156 252.4l4.4-0.7 4 0.3 4 1.1 4 2.2 2.3 2 3.7 5 5 5.5 2.2 4.3 0.8 4 0.1 3.9 -0.8 4 -1.1 2.9 -2.2 3.4 -2 2.1 -4.5 3.4 -5.6 4.9 -3.9 2 -4 0.9 -4 0.1 -4-0.7 -3-1.2 -3.3-2 -2.1-2 -3.6-4.7 -5-5.7 -1.7-3.4 -1.1-4 -0.1-3.9 0.6-4 1.1-2.9 2.2-3.8 2-2.1 5-3.9 4.5-4.1 2.5-1.6z"/>
<path fill="#0000ea" d="M159.8 255.3l2.6-0.5 2.5 0.5 -1.5 0.5zM152 259.3l2.4-0.8 3 0.1 4 1.8 1 0.2 3-0.8 3 0 2 0.7 3 1.9 2.7 2.8 1.9 3 1.1 2.9 0.1 2 -0.2 2 -1.9 3.9 1.2 4 0.1 2 -0.3 1.9 -0.9 2 -2.2 3 -2.6 2.4 -2 1.2 -2 1 -3 0.7 -2-0.1 -4-1.5 -1 0 -4 0.9 -2-0.1 -3-1.3 -3-2.3 -2.7-2.9 -1.8-3 -1-2.9 -0.2-2 0.2-2 1.6-3.9 -0.8-4 0.3-2.9 1.5-3 2.4-3 3.5-2.7zM138.3 273.1l0.4 1 -0.3 4 -1-0.6 -0.1-1.4 0.1-0.9zM182.8 278l0.6-0.6 0.1 2.6 -0.1 1.2 -1 1 0-3.3zM155.8 299.8l1.6-0.3 2.9 0.3 0.4 0.9 -3.3 0z"/>
<path fill="#0015ff" d="M152.5 260.3l2.9-0.4 2 0.5 1.2 0.9 0.5 1 -0.2 1.9 0.7 1 1.9 1 3 1 1.4 0 0.3-1 -1.1-2 -0.1-1 0.4-0.9 2-0.8 2 0.2 2 0.8 2 1.4 2.1 2.3 1.2 2 0.9 2.9 -0.2 2.6 -1 1.4 -2 0.3 -1 0.6 -2 4.4 -0.2 1.6 0.2 1.5 3-1.1 1 0.2 0.5 0.4 0.7 1 0.2 1 -0.2 1.9 -0.7 2 -1.3 2 -2.2 2.1 -2 1.4 -2 0.8 -2 0.4 -3-0.3 -0.9-0.5 -0.9-1 0.2-2.9 -1.2-1 -2.1-1 -2.1-0.3 -0.6 0.3 1.3 3 0 0.9 -0.5 1 -2.2 1 -3-0.2 -4-2 -2.6-2.7 -1.3-2 -0.8-2 -0.5-1.9 0-2 0.5-2 0.7-1 1-0.7 1-0.1 2 0.5 1-1 1-2.2 0.2-1.4 -0.2-1.1 -3 1.5 -1 0.1 -1-0.5 -0.6-1 -0.5-2 0.5-2.9 0.9-2 2.7-3.1 2-1.5z"/>
<path fill="#0040ff" d="M151.6 261.3l2.8-0.6 2 0.5 1 1.1 -0.2 1.9 0.5 1 4.4 2 2.3 0.7 4.2 0.3 0-1 -1.6-3 0.2-1 1.2-0.5 2 0.3 2 1.1 2.9 3.1 1.1 2.9 0 2 -1 1.2 -2 0.3 -2.9 7.4 -0.4 3 0.3 1.6 4-1.4 1 0.8 0.2 1.9 -0.6 2 -1.3 2 -3.3 2.7 -3 1.1 -2 0 -1-0.3 -0.9-0.6 -0.3-1 0.4-1.9 -1.2-1 -4.6-2 -2.4-0.3 -1.7 0.3 1.6 3 0.3 1 -0.2 0.9 -1.2 1 -2.8 0.1 -2-0.8 -2-1.3 -1.9-1.9 -1.3-2 -1.3-3.9 0.5-3 1-1.1 1-0.1 2 0.5 1-0.9 2-4.5 0.3-2.8 -0.3-1.3 -3 1.8 -1 0.3 -1-0.1 -0.7-0.7 -0.4-1 0.3-2.9 0.9-2 1.9-2.3 2-1.6zM160.4 276.7l-0.7 0.4 -0.2 0.9 0.9 0.9 1.2-0.9 -0.4-0.9z"/>
<path fill="#006aff" d="M150.7 262.3l2.7-0.8 2 0.3 0.6 0.5 0.2 0.9 -0.2 2 7.5 3 6.9 1.2 0.5-0.2 -2-4 0.1-1 0.4-0.2 1 0.1 2 1 2 2.1 1 2.9 -0.5 1 -0.5 0.3 -1-0.1 -0.9 0.8 -0.4 4 -1.8 3.9 -0.9 4.8 0 2.2 1 0 3-1.4 1 0.4 0.3 0.9 -0.1 1 -1 2 -2.2 2.3 -3 1.6 -2.8 0 -1-1 0.5-1.9 -0.8-1 -1.9-0.5 -5-2 -4-0.6 -0.8 0.1 0 1 1.7 3 0.2 1 -0.5 0.9 -0.6 0.4 -2 0.1 -3-1.4 -3.1-3 -1.1-2 -0.6-1.9 0-2 0.3-1 0.5-0.8 1-0.3 2 0.6 1-0.6 2.3-5.8 0.8-5 -0.1-0.5 -1 0 -3 2 -1 0.2 -1.1-0.7 -0.3-1.9 0.6-2 1.3-2 1.5-1.5zM160.4 275.9l-1 0.5 -0.6 0.7 -0.1 0.9 0.7 1.2 1 0.4 1.3-0.6 0.7-1 -1-1.9z"/>
<path fill="#0095ff" d="M152.2 262.3l2.2 0.1 0.7 0.8 -0.5 2 0.8 0.8 3 0.4 4.2 1.8 5.8 1.2 1.7 0.7 1.1 1 0.8 2 0 2 -2.2 5.9 -1 4.9 -0.7 2 0.3 0.9 4-1.8 1 0.3 0.2 0.6 -0.7 2 -2.5 2.3 -2 0.9 -2-0.2 -0.4-1 1-2 -0.6-0.4 -3-0.2 -6.2-2.4 -4.8-0.6 -1 0.3 -0.1 0.3 1.8 3 0.4 1 0 1 -1.1 0.7 -1 0 -3-1.2 -1.8-1.5 -1.4-2 -1.1-2.9 0.2-2 1.1-1.1 3 0.6 0.7-2.5 2.3-5.9 0.9-5.9 -0.9-0.1 -3 2 -1 0.5 -1 0.1 -0.5-0.6 -0.2-0.9 0.1-1 0.9-2 1.7-1.9 2-1.4zM159.4 275.8l-1.2 1.3 0.2 1.5 1 1.2 1 0.3 1-0.3 1.1-0.8 0.3-1 -0.4-1.5 -1-0.9 -1-0.1zM171.2 266.2l1.2 0.3 1 1.4 0 0.8 -1-0.4z"/>
<path fill="#00bfff" d="M150.9 263.2l1.5-0.3 1.4 0.3 0.1 1 -0.5 1.1 -1 1.1 -4 3 -1 0.3 -0.9-0.5 0-1 0.8-2 1.9-2zM154.1 267.2l1.3-0.6 3 0.1 5 2 5 1 2 1.2 0.9 1.2 0.3 1 0 2 -2.2 5.9 -1 4.9 -1 1.8 -1 0.9 -2 0.4 -2-0.3 -4.3-1.8 -4.7-0.8 -3-1.1 -0.3 0.9 2.6 5 -0.6 1 -1.7 0 -2-1 -2.1-2 -1.5-3 -0.1-1.9 0.7-1.1 1 0 2 1.1 1 0.2 -0.3-2.2 0.6-3 1.7-3.9 1.2-5.9zM160.4 275l-2 1.1 -0.5 1 0 0.9 0.3 1 0.8 1 1.4 0.4 2-0.8 0.8-1.6 -0.8-2.1 -1-0.8zM170.4 288.9l1-0.3 0.8 0.3 -0.3 1 -0.9 1 -1.6 1 -1 0.2 -0.7-0.2 0.2-1z"/>
<path fill="#00eaff" d="M150.1 264.2l1.3-0.4 1 0.1 0.3 0.3 -0.3 1 -2 2 -2 1.3 -1-0.2 0.1-1.1 0.5-1zM155 267.2l1.4-0.4 2 0.2 5 1.9 4 0.8 2 0.8 1.5 1.6 0.5 2 -0.2 2 -1.8 4.2 -1.3 5.6 -0.7 1.3 -1 0.9 -2 0.6 -2-0.2 -4-1.7 -6-1.3 -2.2-1.5 -0.7-2 0.4-3 1.7-3.9 1.4-5.9 0.7-1zM159.4 275l-1 0.7 -0.9 1.4 0.4 1.9 0.6 1 0.9 0.6 1 0.2 1-0.3 1-0.4 0.9-1.1 0.1-2 -1.5-1.9 -1.5-0.3zM145.6 284l0.8-0.3 1 0.5 2 2 2.3 3.7 0 1 -0.3 0.3 -1 0.1 -1-0.3 -2.6-2.1 -1.5-3 -0.1-0.9z"/>
<path fill="#15ffea" d="M150.1 265.2l0.7 0 -0.4 0.9zM149.1 266.2l0.3-0.4 0.9 0.4 -0.9 0.5zM156.1 267.2l2.3 0 5 2 4 0.7 2 0.9 1.2 1.3 0.4 1 0.2 2 -0.6 2 -1.3 2.9 -1 5 -1.1 1.9 -1.8 1.4 -3 0 -4-1.7 -5-1 -2-1 -1.4-1.6 -0.1-3 1.9-4.9 1-5 1.6-2.2zM159.4 274.7l-1 0.6 -1 1.4 0 2 0.8 1.3 1.2 0.9 2 0 1-0.5 1-1.1 0.4-1.3 -0.1-0.9 -1.3-2 -1-0.5zM146.2 285l0.2-0.3 1 0.3 2 2.1 1.1 1.8 0.3 1 -0.4 0.5 -1.9-0.5 -1.1-1 -1.2-2 -0.3-1z"/>
<path fill="#40ffbf" d="M154.5 268.2l1.9-0.9 2 0.1 4.4 1.8 5.6 1.3 1.9 1.6 0.7 2 -0.2 2 -1.7 3.9 -1 5 -0.7 1.3 -1 1.1 -2 0.8 -2-0.1 -5-2 -4-0.7 -2-1.1 -1-1.3 -0.4-1 0.1-2 1.9-4.9 1.1-5zM158.4 275l-1 1 -0.3 1.1 0.2 1.9 0.6 1 1.2 1 1.3 0.3 2-0.6 1-1 0.6-1.7 -0.6-2.2 -1-1 -1-0.5 -1-0.1zM146.9 286.9l0.5-0.9 1 0.8 1.2 2.1 -0.2 0.4 -1.2-0.4 -0.9-1z"/>
<path fill="#6aff95" d="M154.9 268.2l1.5-0.7 2 0.1 4 1.6 5 1.1 1.7 0.8 1 1 0.7 2 -0.2 2 -1.7 3.9 -1 5 -1.3 1.9 -1.2 0.8 -1 0.3 -2-0.1 -4.9-2 -4.1-0.7 -2-1.2 -0.8-1 -0.4-2 0.4-2 1.6-3.9 1.1-5zM160.4 274l-2 0.7 -1 1 -0.6 1.4 0 0.9 0.6 1.8 1 1 2 0.7 1.9-0.5 1.1-0.9 0.8-2.1 -0.4-1.9 -0.7-1 -1.7-1z"/>
<path fill="#95ff6a" d="M155.3 268.2l1.1-0.5 2 0 4 1.7 5 1.1 2 1.2 0.9 1.4 0.3 1 -0.2 2 -1.7 3.9 -1 5 -1.3 1.8 -1 0.7 -1 0.3 -2-0.1 -4.3-1.8 -3.7-0.6 -2-0.8 -1.5-1.5 -0.5-2 0.3-2 1.7-3.9 1.1-5 0.9-1.3zM159.4 274l-1.8 1.1 -0.6 1 -0.4 1 0.2 1.9 0.5 1 1.1 1.1 1 0.4 2 0.1 1.3-0.6 1-1 0.7-1.7 0-1.2 -1-2 -1-0.8 -1-0.4z"/>
<path fill="#bfff40" d="M155.7 268.2l1.7-0.4 1 0.1 5 2 4 0.7 2 1.3 0.7 1.2 0.3 1 -0.2 2 -1.7 3.9 -0.7 4 -0.9 1.9 -1.5 1.4 -1 0.3 -2-0.1 -4-1.7 -5-1 -1.4-0.8 -0.9-1 -0.4-1 -0.1-2 2-4.9 0.7-4 1.1-1.9zM159.4 273.8l-2 1.2 -0.7 1.1 -0.3 1 0.2 1.9 0.4 1 1.4 1.3 1 0.4 2 0.1 1.6-0.8 0.9-1 0.5-1 0.2-1.9 -0.9-2 -1.2-1 -1.1-0.4z"/>
<path fill="#eaff15" d="M156.3 268.2l2.1-0.1 5 1.9 4 0.8 1.9 1.3 0.6 1 0.3 1 -0.1 2 -1.7 3.9 -0.7 4 -1 1.9 -1.3 1.2 -1 0.3 -2 0 -4-1.7 -5-1.1 -1.1-0.6 -1-1 -0.4-1 -0.1-2 1.9-4.9 0.8-4 1.1-1.9zM158.4 273.9l-1.3 1.2 -0.9 2 0.1 1.9 0.5 1 0.8 1 1.8 0.9 2 0.1 1-0.3 1-0.7 1.2-2 0.2-1.9 -0.4-1.3 -1-1.2 -2-1.1 -2 0.1z"/>
<path fill="#ffea00" d="M157.4 268.2l2 0.3 4 1.7 4 0.8 1.7 1.1 0.7 1 0.2 1 -0.1 2 -1.7 3.9 -0.7 4 -1 1.9 -1.1 1 -1 0.4 -2-0.1 -4-1.7 -5-1.1 -1.8-1.4 -0.5-1 -0.2-1 0.3-2 1.7-3.9 0.5-3 0.7-2 1.3-1.4zM158.4 273.7l-1 0.7 -1.1 1.7 -0.3 1.9 0.5 2 0.9 1.1 2 1 2 0.1 1-0.3 1.2-0.9 1.2-2 0.2-1.9 -0.3-1 -0.5-1 -1.8-1.4 -2-0.5z"/>
<path fill="#ffbf00" d="M155.1 269.2l1.3-0.7 1-0.2 2 0.4 4 1.7 4 0.8 1.5 0.9 0.7 1 0.3 1 -0.2 2 -1.7 3.9 -0.7 4 -0.9 1.8 -1 0.9 -1 0.4 -2 0 -4-1.8 -5-1 -1.6-1.3 -0.5-1 -0.2-2 2-4.9 0.7-4zM160.4 273l-2 0.5 -1 0.7 -1.3 1.9 -0.3 1.9 0.5 2 1.1 1.3 2 1 2 0.1 2-0.9 1-1.2 0.6-1.3 0.2-1.9 -0.8-2 -0.9-1 -1.1-0.6z"/>
<path fill="#ff9500" d="M155.4 269.2l2-0.7 2 0.3 3 1.5 5 1 1.2 0.8 0.8 1 0.3 1 -0.1 2 -1.8 3.9 -0.4 3 -0.6 2 -1.4 1.5 -1 0.4 -2 0 -4-1.7 -5-1.1 -1.4-1.1 -0.5-1 -0.2-2 1.7-3.9 1-5zM159.4 272.9l-2 1 -1 1.2 -0.7 2 0 1.9 1.1 2 1.6 1.1 2 0.5 2-0.3 1-0.5 1.4-1.8 0.6-2 -0.2-1.9 -0.5-1 -1.3-1.3 -2-0.8z"/>
<path fill="#ff6a00" d="M155.7 269.2l1.7-0.5 2 0.3 3 1.5 5 1 1 0.6 0.8 1 0.3 1 -0.1 2 -1.7 3.9 -0.7 4 -0.6 1.3 -1 1 -1 0.4 -2 0 -4-1.7 -4-0.7 -2-1.1 -0.8-1.2 -0.1-2 1.6-3.9 1-5 0.6-1zM158.4 273l-1.5 1.1 -1.2 2 -0.3 1.9 0.4 2 0.7 1 1.9 1.4 2 0.4 2-0.2 1-0.6 1.6-2 0.6-2 -0.2-1.9 -1-1.7 -2-1.3 -2-0.4z"/>
<path fill="#ff4000" d="M156.1 269.2l1.3-0.4 2 0.4 3 1.5 5 1 1.5 1.4 0.4 1 -0.1 2 -1.7 3.9 -0.7 4 -0.4 1 -1 1.1 -1 0.4 -2 0 -4-1.7 -4.5-0.8 -1.5-1 -0.6-1 -0.2-2 2.1-4.9 0.6-4 0.6-1zM158.4 272.8l-1.7 1.3 -1.2 2 -0.3 1.9 0.4 2 0.8 1.2 2 1.4 2 0.4 2-0.2 1.4-0.8 1.4-2 0.6-2 -0.2-1.9 -1.2-2 -2-1.3 -2-0.3z"/>
<path fill="#ff1500" d="M156.6 269.2l1.8-0.1 4 1.8 4 0.6 1.4 0.6 0.9 1 0.4 1 -0.1 2 -1.8 3.9 -0.5 4 -1.5 1.9 -0.8 0.4 -2 0.1 -4-1.9 -4-0.5 -1.7-1 -0.7-1 -0.2-2 2.1-4.9 0.5-3.8 1-1.5zM157.4 273.1l-1.7 2 -0.7 2 0.1 1.9 0.8 2 1.5 1.3 2 0.8 2 0.1 2-0.6 1.5-1.6 1-2 0.1-1.9 -0.6-2 -1-1.3 -2-1.2 -3-0.3z"/>
<path fill="#ea0000" d="M155.3 270.1l1.1-0.6 2-0.2 5 2.2 2 0 2 0.6 1.1 1 0.4 1 0 2 -2 3.9 -0.4 4 -0.6 1 -1.1 0.9 -1.4 0.4 -1.9-0.4 -3.1-1.7 -4-0.5 -1-0.4 -1-1 -0.4-1.3 0.2-2 1.7-2.9 0.4-4zM159.4 272.1l-2 0.7 -1.4 1.3 -1.1 2 -0.1 2.9 0.9 2 1.7 1.6 2 0.9 3-0.2 2-1.3 1.5-2 0.3-2 -0.1-1.9 -1.1-2 -1.6-1.3 -2-0.7z"/>
<path fill="#bf0000" d="M155.7 270.1l1.7-0.6 1 0 1.8 0.6 1.5 1 -4.3 1.4 -2 2.1 -0.8 0.5 -0.1 2.9 0.3 2 1.6 2.2 1.2 0.8 -0.2 0.6 -1 0.2 -3-0.7 -0.9-1.1 -0.3-1 0.2-1.9 1-1.8 0.6-0.2 0.3-1 0.1-3.2 0.6-1.8zM162.7 272.1l1.7-0.3 2 0.1 1.9 1.2 0.4 1 0 2 -1.3 2.4 -0.8-0.5 -0.6-2.9 -0.6-0.9 -2-1.8zM166.4 279l0 4.6 -0.7 1.4 -1.3 0.9 -2.3 0 -1.9-0.9 -0.8-0.8 -1.3-0.2 3.3-0.3 2-0.6 2.3-2.1 0.6-1z"/>
<path fill="#950000" d="M156.1 270.1l2.3-0.3 1.3 0.3 1.1 1 -3.4 1.1 -2 1.8 -0.6-0.9 0.1-1 0.3-1zM164 272.1l2.5 0 1.4 1 0.5 0.7 0.1 2.3 -1.1 1.7 -1.6-3.7zM153.3 278l0.5 0 1.2 3 1.9 2 -0.5 0.3 -2 0 -0.7-0.3 -0.9-1 -0.4-1 0-1zM165.2 282l0.2-0.3 0.8 0.3 0 1 -0.8 2 -2 0.9 -2.6-0.9 0.6-1 2-0.5z"/>
<rect x="203.5" y="24.2" width="69" height="68.5" fill="#000095"/>
<path fill="#0000bf" d="M235.5 33.1l5-0.8 5 0.5 5 2.1 4.2 3.2 2.4 3 1.4 3 1.6 5.9 3.4 7.9 0.5 5 -0.7 4 -1.5 4 -2.3 3.4 -3 2.9 -4 2.3 -6 1.7 -7 3 -3 0.7 -3 0.1 -4-0.6 -4-1.5 -3.3-2.1 -3-3 -2.3-4 -2.4-7.5 -2.3-5.4 -0.8-2.9 -0.2-3 0.5-4 1.4-4 1.8-2.9 2.6-3 2-1.6 3-1.6 7-2.1z"/>
<path fill="#0000ea" d="M234.2 38.1l3.3 0.2 2.2 0.8 2.3 2 1 2 0.9 1 1.6 0.4 4-0.2 3 1.3 2 1.9 1.1 1.5 1.4 3 0.5 2 0.2 3 -0.6 2.9 -1.6 2.5 -3 2 -0.6 1.5 0.3 5 -1.2 2.9 -1.8 2 -1.7 1.3 -2 1.1 -3 1 -3 0.3 -3-0.3 -2.8-1.4 -3.2-3.8 -4 0.2 -3-0.7 -2-1.4 -2-2.2 -1.7-3 -1-3 -0.3-4 0.5-2.9 1.5-2.6 3.4-2.4 0.5-1 -0.2-4 1.1-2.9 2.2-2.5 3-2 3-1.1z"/>
<path fill="#0015ff" d="M230.7 40.1l3.8-0.6 2.5 0.6 1.1 1 0.1 1 -0.8 1 -2.9 2 2 0.9 5 0.2 3 0.7 2.6 1.1 2.4 2.1 2-1.7 1 0.2 2 2.1 1 2.3 0.1 3 -0.4 1 -0.7 0.6 -1-0.6 -3-5.2 -0.5 11.1 -0.7 3 -1.6 4 1.1 1 0.5 1 -0.1 0.9 -1.2 2 -1.1 1 -3.4 1.8 -3 0.5 -2-0.2 -2.3-1.1 -0.6-1 0.3-1 0.6-0.6 3.9-2.3 -8.9-1.2 -3-0.9 -1 0.1 -1 1.3 -1 0.6 -2-0.2 -2-1.4 -1-1 -1.5-2.3 -0.8-2 -0.5-3 0.1-2 0.6-1.9 1.1-1.4 1-0.4 1 0.3 3 3.7 0.8-6.2 1.3-5 -0.1-1 -1.3-1 -0.4-1 0.2-1 1.1-1.9 1-1z"/>
<path fill="#0040ff" d="M231.9 41.1l1.9 0 0.8 1 -1.1 1 -4 1.7 -1 0.2 -0.9-0.9 0.6-1 1.1-1zM233.2 47l7.3 0 3 0.4 3 1.4 1.8 2.2 0.8 2 0.2 2 -0.3 8.9 -1.1 3 -2.4 2.5 -2 0.7 -2 0.3 -8-0.1 -4-1.2 -2.6-2.2 -0.9-2 -0.2-2 0.1-7.9 0.7-3 0.3-1 1.6-2.2 2-1.4zM219.9 58.9l0.6-0.2 1 0.6 2.3 4.6 1.2 4 -0.5 1.7 -1 0.3 -1-0.4 -1.7-1.6 -1.2-2 -0.7-2 -0.1-2 0.3-2zM242 73.8l2.5-0.6 1 0 0.8 0.6 -0.5 1 -1.3 1 -2 0.7 -2 0.1 -1.4-0.8 0.6-1z"/>
<path fill="#006aff" d="M231.2 48l3.3-0.6 8 0.3 3 1.1 2.2 2.2 0.5 1 0.6 3 -0.1 7.9 -0.8 3 -2.4 2.7 -3 1.1 -9 0 -3-0.8 -1-0.5 -1.7-1.5 -1-2 -0.3-2 0-6.9 0.3-3 0.8-2 0.9-1.3 1-0.9zM220.3 61.9l0.2-0.4 1 0.7 1 2.1 0.4 2.6 -0.4 0.5 -1-0.4 -1-1.5 -0.4-1.6z"/>
<path fill="#0095ff" d="M233 48l7.5-0.1 3 0.4 2 1 1.7 1.7 1.1 3 0 8.9 -0.4 2 -1.2 2 -2.2 1.8 -2 0.6 -2 0.2 -8-0.3 -3-1.3 -1.8-2 -0.7-2 -0.2-2 0-6.9 0.4-2 0.8-2 1.5-1.6 2-1.1zM237.5 57.8l-0.6 1.1 0.6 0.5 0.9-0.5 -0.5-0.9z"/>
<path fill="#00bfff" d="M230.8 49l2.7-0.8 8 0 3 0.9 2.3 1.9 1.2 3 0.1 7.9 -0.3 2 -0.8 2 -1.5 1.7 -2 1.1 -2 0.4 -7 0 -3-0.5 -2.6-1.7 -1.2-2 -0.5-2 -0.1-7.9 0.8-3 0.6-1 1-1.2zM237.5 57.5l-0.9 0.5 -0.2 0.9 1.1 0.9 1.2-0.9 -0.2-1z"/>
<path fill="#00eaff" d="M231.4 49l3.1-0.6 7 0.1 3 0.8 1.9 1.7 1 2 0.4 2 0 6.9 -0.6 3 -1.7 2.4 -2 1.1 -2 0.4 -8 0 -3-1 -2-1.9 -0.9-2 -0.2-2 0.2-7.9 1.2-3 1.7-1.6zM236.5 57.7l-0.3 1.2 0.3 0.7 1 0.5 1-0.3 0.5-0.9 -0.5-1.4 -1-0.3z"/>
<path fill="#15ffea" d="M232.2 49l2.3-0.4 7 0.1 3 0.9 2 2 0.7 1.4 0.3 2 0 7.9 -0.5 2 -0.6 1 -1.9 1.8 -3 0.9 -8 0 -3-1 -1.7-1.7 -1.1-3 0.1-8.9 1.3-3 1.4-1.3zM237.5 56.9l-1 0.5 -0.4 0.6 -0.1 0.9 0.4 1 1.1 0.4 1.2-0.4 0.6-1 -0.2-0.9 -0.6-0.8z"/>
<path fill="#40ffbf" d="M233.2 49l6.3-0.2 3 0.3 2.2 0.9 1.8 2 0.9 3 -0.1 7.9 -1.2 3 -1.6 1.5 -3 1 -8 0 -3-1.1 -1.4-1.4 -1-2 -0.3-2 0.2-7.9 0.7-2 0.8-1.1 2-1.5zM237.5 56.8l-1 0.2 -0.6 1 -0.2 0.9 0.5 1 1.3 0.6 1.5-0.6 0.5-1 -0.1-0.9 -0.8-1z"/>
<path fill="#6aff95" d="M230.9 50l2.6-0.9 8 0 2 0.5 2 1.4 0.8 1 0.7 2 0.2 7.9 -0.7 3 -1.6 2 -1.4 0.8 -2 0.5 -7 0.1 -3-0.7 -2.2-1.7 -1.2-3 -0.1-7.9 0.9-3zM236.5 56.8l-0.9 1.2 -0.1 0.9 0.5 1 1.5 0.8 1-0.2 1-1 0-1.7 -1-1z"/>
<path fill="#95ff6a" d="M231.3 50l1.2-0.5 2-0.3 7 0.1 2 0.5 2 1.5 1 1.7 0.5 2 0.1 6.9 -0.8 3 -1.7 2 -1.1 0.6 -2 0.5 -7 0.1 -3-0.7 -1.9-1.5 -1.1-2 -0.4-2 0.1-6.9 0.9-3zM236.5 56.7l-1.1 1.3 0 0.9 0.3 1 0.8 0.7 1 0.3 1-0.2 1-0.8 0.3-1 -0.3-1.5 -1-0.8z"/>
<path fill="#bfff40" d="M231.7 50l2.8-0.7 7 0.1 3 1.2 1.4 1.4 1 3 0 6.9 -0.8 3 -1.6 1.8 -1 0.6 -2 0.5 -7 0.1 -3-0.7 -1.7-1.3 -1.1-2 -0.4-2 0.1-6.9 1-3 1.1-1.3zM236.5 56.5l-0.6 0.5 -0.6 1 0.2 1.9 1 0.9 2 0.1 1-0.7 0.4-1.3 -0.4-1.8 -1-0.7z"/>
<path fill="#eaff15" d="M232.1 50l2.4-0.5 7 0.1 2 0.6 2.1 1.8 1.1 3 0 6.9 -0.8 3 -1.4 1.6 -1 0.6 -2 0.6 -7 0.1 -3-0.8 -2-1.8 -0.7-1.3 -0.3-2 0.2-7.9 0.9-2 0.9-1zM236.5 56.4l-0.9 0.6 -0.4 1 0.2 1.9 1.1 1.1 2.3-0.1 1-1 0.3-1 -0.5-1.9 -1.1-0.7z"/>
<path fill="#ffea00" d="M232.6 50l2.9-0.4 6 0.1 2 0.6 1.9 1.7 0.6 1 0.5 2 0.1 6.9 -0.9 3 -1.2 1.4 -3 1.3 -7 0.1 -3-0.9 -2-1.9 -0.9-3 0.2-7.9 0.7-1.6 1-1.2zM235.5 56.9l-0.5 2 0.5 1.5 1 0.7 1 0.2 1-0.1 1-0.6 0.7-1.7 -0.1-0.9 -0.6-1.3 -2-0.7 -1 0.2z"/>
<path fill="#ffbf00" d="M233.2 50l2.3-0.3 6 0.2 2 0.6 2 1.9 0.9 2.6 -0.1 7.9 -0.8 2 -2 1.9 -3 0.7 -7-0.1 -2-0.7 -1.8-1.8 -1-3 0-5.9 0.3-2 1.5-2.6 1-0.8zM237.5 55.9l-1 0.2 -1 0.6 -0.6 1.3 0 0.9 0.6 1.7 1 0.6 1 0.2 2-0.6 0.8-1.9 0-0.9 -0.8-1.5 -1-0.5z"/>
<path fill="#ff9500" d="M233.9 50l5.6-0.1 3 0.4 2 1.1 1.2 1.6 0.6 3 -0.1 6.9 -0.8 2 -1.9 1.7 -3 0.8 -6 0 -3-0.9 -1.7-1.6 -0.9-3 -0.1-5.9 0.3-2 1-2 1.1-1zM236.5 55.9l-1.3 1.1 -0.4 1 0.2 1.9 0.5 0.9 1 0.5 2 0.1 1-0.4 0.7-1.1 0.3-1 -0.5-1.9 -1.5-1.1z"/>
<path fill="#ff6a00" d="M231.4 51l1.1-0.5 2-0.4 6 0 2 0.3 2.4 1.6 0.6 1 0.6 2 0.1 5.9 -0.5 3 -1.4 2 -2.8 1.3 -6 0.1 -3-0.5 -2-1.3 -1.3-2.6 -0.2-6.9 0.7-3zM236.5 55.8l-1.5 1.2 -0.3 1 0.2 1.9 0.6 1.1 1 0.4 2 0.1 1-0.4 0.9-1.2 0.2-1 -0.4-1.9 -0.7-0.8 -1-0.5z"/>
<path fill="#ff4000" d="M231.7 51l2.8-0.8 6 0 2 0.3 2.2 1.5 0.8 1.3 0.5 1.7 0.1 5.9 -0.5 3 -1.5 2 -2.6 1.1 -6 0.2 -3-0.5 -2-1.4 -0.9-1.4 -0.5-2 0-5.9 0.7-3zM236.5 55.7l-1 0.5 -0.6 0.8 -0.3 1 0.1 1.9 0.8 1.2 1 0.5 2 0 1-0.4 1-1.3 0.3-1 -0.5-1.9 -0.8-0.9 -1-0.5z"/>
<path fill="#ff1500" d="M232 51l2.5-0.6 7 0 1.7 0.6 1.3 1 1 1.6 0.4 1.4 0.1 5.9 -0.5 2.8 -0.6 1.2 -1 1 -1.4 0.7 -2 0.4 -6 0 -2-0.5 -2.2-1.6 -1-3 0-6.9 0.7-2 0.7-1zM236.5 55.5l-1 0.6 -0.7 0.9 -0.5 1.9 0.3 1 0.9 1.4 1 0.4 2 0 1-0.3 1.2-1.5 0.2-1.9 -0.5-1 -0.9-1.1 -1-0.4z"/>
<path fill="#ea0000" d="M232.3 51l2.2-0.5 7 0.1 1.4 0.4 1.6 1.2 1.3 2.8 0.1 5.9 -0.4 2.4 -0.8 1.6 -1.1 1 -3.1 1 -5.7 0 -2.3-0.5 -2-1.5 -1.1-3 0-6.9 1.1-2.6zM235.5 55.9l-1.3 2.1 -0.1 0.9 0.9 2 0.5 0.5 2 0.6 2-0.5 1.4-1.6 0.1-1.9 -0.3-1 -1.2-1.3 -1-0.3 -2 0z"/>
<path fill="#bf0000" d="M232.6 51l1.9-0.4 7 0.1 1.1 0.3 1.9 1.4 1.1 2.6 0.1 6.9 -1.2 3 -1.1 1 -2.9 0.7 -6 0 -2-0.3 -2-1.7 -1-2.9 0-6.1 0.8-2.6 1.2-1.4zM235.5 55.6l-1.5 2.4 0.2 1.9 1.3 1.7 2 0.6 2-0.6 1.6-1.7 -0.2-2.9 -1.4-1.5 -2-0.3z"/>
<path fill="#950000" d="M232.9 51l8.6-0.2 2 0.9 1.2 1.3 0.9 3 0 5.9 -1.1 2.6 -1.5 1.4 -3.5 0.5 -7-0.3 -2-1.8 -0.7-3.4 0-4.9 0.6-3 1.1-1.2zM235.5 55.3l-1.3 1.7 -0.4 1 0.1 1.9 1.6 1.8 1 0.6 2 0.1 2-1.5 0.7-1 -0.1-2.9 -1.6-1.7z"/>
<rect x="203.5" y="243.5" width="69" height="68.1" fill="#000095"/>
<path fill="#0000bf" d="M239.7 251.4l4.8 0.3 4 1.3 4.1 2.3 2.3 2 1.6 2 1.7 3 2 6.9 3.3 7.8 0.5 3 -0.2 4 -1.1 3.9 -2.1 4 -2.1 2.6 -3 2.6 -3 1.5 -7 2.1 -7 2.9 -3 0.5 -4-0.2 -4-1 -3-1.5 -3.6-2.6 -2.5-3 -1.6-3 -2.3-7.4 -2.6-6.4 -0.6-2.9 0.1-4 0.9-3.9 1.9-4 2.3-3 3-2.6 3-1.6 7-2.1 5.6-2.5z"/>
<path fill="#0000ea" d="M233.1 257.3l3.4-0.1 3 0.9 1.7 1.2 2.3 3.7 1 0.5 5-0.1 3 1.3 1.6 1.5 1.4 1.8 1.8 4.1 0.4 3 -0.3 2.9 -0.8 2 -1.1 1.5 -2.5 1.5 -0.9 1 -0.3 1.9 0.4 4 -1.2 2.9 -1.7 2 -1.8 1.4 -2 1.1 -3 1 -3 0.3 -3-0.3 -2.9-1.5 -3.1-3.7 -4 0.2 -3-0.7 -2-1.4 -2-2.3 -1.7-3 -1-2.9 -0.3-4 0.5-2.9 1.5-2.6 1-0.9 2.4-1.5 0.5-1 -0.2-3.9 1.1-3 1.6-1.9 2.6-2 3-1.4z"/>
<path fill="#0015ff" d="M230.4 259.3l2.1-0.6 2-0.1 2.7 0.7 1 1 -0.1 1 -0.8 1 -2.7 1.9 2.6 1 5.3 0.5 3 0.8 2 1 2 1.6 2-1.6 1 0.2 1.5 1.5 1.1 1.9 0.6 2 -0.1 2 -0.4 1 -0.7 0.6 -1-0.6 -2-3.5 -1 0.4 -0.7 9 -0.7 3 -1.5 3.9 1.7 2 -0.1 1 -0.4 0.9 -1.3 1.6 -3 1.9 -3 0.8 -2 0.1 -1.8-0.4 -1.6-1 -0.5-1 0.4-1 1.5-1.1 1.7-0.8 0.8-1 -8.5-1.3 -3-0.8 -1 0 -1 1.5 -0.8 0.6 -2.2-0.2 -2-1.4 -1-1 -1.9-3.3 -0.9-4 0.1-2 0.6-1.9 1.1-1.4 1-0.4 1 0.3 1.3 1.5 0.7 1.2 1 0.8 1.4-8 0.9-2.9 -0.2-1 -1.3-1 -0.5-1 0.1-1 1.1-1.9 1-1z"/>
<path fill="#0040ff" d="M231.4 260.3l2.7 0 0.4 1 -1.1 1 -3.9 1.7 -1 0.1 -0.9-0.9 0.5-0.9 1.1-1zM231.8 266.2l2.7-0.3 9 0.8 3 1.4 1.9 2 0.8 2 0.2 2 -0.4 7.9 -1.2 3.9 -2.3 2.6 -2 0.9 -2 0.2 -8-0.5 -3-0.6 -2-1.1 -1.7-1.5 -0.6-0.9 -0.4-1 -0.1-3 0.5-6.9 0.5-3 1.8-3.1 2-1.5zM219.9 278l0.6-0.2 1 0.6 2.7 5.6 0.8 2.9 -0.1 1 -0.4 0.8 -0.4 0.2 -0.6 0.1 -1-0.4 -1-0.7 -2-3.1 -0.7-3.8 0.3-2zM242.2 292.8l2.3-0.5 1 0 0.8 0.5 -0.5 1 -1.1 1 -2.2 0.8 -2 0.2 -1.5-1 0.9-1z"/>
<path fill="#006aff" d="M230.9 267.2l1.6-0.6 2-0.1 8 0.5 3 1.1 2.2 2 0.5 1 0.7 3 -0.5 7.9 -0.8 3 -0.5 0.9 -1.6 1.8 -2 1 -2 0.3 -8-0.4 -3-0.8 -2.7-1.9 -1.1-1.9 -0.3-2 0.4-8.9 0.5-2 1.1-1.9 1.1-1.2zM220.3 281l0.2-0.4 1 0.7 1 2.1 0.4 2.5 -0.4 0.6 -1-0.4 -1-1.5 -0.4-1.6z"/>
<path fill="#0095ff" d="M232.3 267.2l3.2-0.3 7 0.5 3 1.1 1.7 1.6 0.9 2 0.3 2 -0.3 7.9 -0.9 3 -1.5 1.9 -1.2 0.9 -3 0.8 -8-0.3 -3-0.9 -2-1.5 -0.8-0.9 -0.8-2 -0.2-2 0.3-6.9 0.4-2 0.8-2 1.3-1.6 1-0.7zM237.5 276.9l-0.4 0.2 -0.3 0.9 0.7 0.6 1-0.6 -0.5-0.9z"/>
<path fill="#00bfff" d="M230.7 268.2l2.8-0.9 8 0.2 3 0.9 2.2 1.7 1.1 2 0.4 2 -0.3 6.9 -0.6 3 -1.8 2.7 -2 1.1 -2 0.5 -7-0.3 -3-0.5 -2-1.1 -1-1 -0.9-1.4 -0.5-2 0.3-7.9 0.6-3 1.4-1.9zM236.5 277l0 1.3 1 0.7 1-0.4 0.3-0.6 -0.3-1.1 -1-0.4z"/>
<path fill="#00eaff" d="M231.3 268.2l1.2-0.5 2-0.3 7 0.4 3 0.8 2 1.7 1 1.8 0.4 2 -0.4 7.9 -1 3 -2 2 -2 0.8 -2 0.2 -7-0.3 -3-1 -2-1.7 -0.9-2 -0.3-2 0.5-7.9 1.1-3zM236.5 276.7l-0.4 1.3 0.4 0.8 1 0.5 1-0.3 0.6-1 -0.2-0.9 -0.4-0.6 -1-0.3z"/>
<path fill="#15ffea" d="M232 268.2l1.5-0.5 2 0 7 0.5 2.3 1 2 1.9 0.7 2 0.2 2 -0.4 6.9 -1.1 3 -1.7 1.7 -3 1.1 -8-0.3 -3-1 -1.7-1.5 -1-2 -0.2-2 0.4-7.9 1.2-3 1.3-1.2zM237.5 276l-1 0.3 -0.5 0.8 -0.1 0.9 0.4 1 1.2 0.5 1.3-0.5 0.6-1 -0.2-0.9 -0.7-0.9z"/>
<path fill="#40ffbf" d="M232.7 268.2l2.8-0.3 7 0.5 2 0.8 2 1.9 0.5 1 0.4 2 -0.3 7.9 -1.1 3 -1.5 1.5 -3 1.1 -7-0.2 -3-0.7 -2.4-1.7 -1-2 -0.4-2 0.5-7.9 1.3-3 2-1.5zM236.5 276l-0.7 1.1 -0.2 0.9 0.5 1 1.4 0.7 1-0.2 1-1.2 0-1.3 -1-1z"/>
<path fill="#6aff95" d="M233.8 268.2l8.7 0.4 2 0.8 0.9 0.7 1.4 2 0.5 3 -0.4 6.9 -1.2 3 -2.2 1.8 -3 0.6 -7-0.4 -3-1.1 -1.8-1.9 -0.7-2 -0.1-2 0.3-5.9 0.5-2 0.8-1.5 1-1.1 2-1.1zM236.5 275.9l-1 1.2 -0.1 0.9 0.4 1 1.7 0.9 1-0.2 1-0.8 0.2-0.9 -0.2-1.3 -1-0.9z"/>
<path fill="#95ff6a" d="M231.3 269.2l1.2-0.6 2-0.3 7 0.3 3 1.1 1.5 1.4 1.1 3 -0.3 6.9 -0.7 3 -1.6 1.9 -1 0.7 -2 0.6 -7-0.2 -3-0.7 -2-1.5 -1-1.8 -0.4-2 0.3-6.9 0.9-3zM236.5 275.7l-1.1 1.4 0.2 1.9 0.9 0.8 2 0.1 1.1-0.9 0.3-1 -0.4-1.7 -1-0.7z"/>
<path fill="#bfff40" d="M231.7 269.2l2.8-0.8 7 0.4 3 1.1 1.3 1.2 1.1 3 -0.3 6.9 -0.7 3 -1.4 1.7 -1 0.7 -2 0.6 -7-0.2 -3-0.7 -2-1.6 -0.8-1.5 -0.4-2 0.3-6.9 1-3 0.9-1.1zM236.5 275.5l-0.8 0.6 -0.5 1 0.2 1.9 1.1 1 2.2 0 0.8-0.6 0.5-1.4 -0.5-1.9 -1-0.6z"/>
<path fill="#eaff15" d="M232.1 269.2l2.4-0.6 7 0.3 2 0.6 2.1 1.6 0.6 1 0.5 2 -0.2 6.9 -0.8 3 -1.8 1.9 -1.4 0.7 -2 0.3 -7-0.4 -2-0.6 -2.1-1.9 -0.9-3 0.4-7.9 0.8-2 0.9-1zM235.5 276l-0.5 2 0.5 1.4 1 0.8 1 0.1 1-0.1 1-0.6 0.7-1.6 -0.1-0.9 -0.6-1.2 -2-0.8 -1 0.2z"/>
<path fill="#ffea00" d="M232.5 269.2l3-0.5 6 0.4 2 0.6 2 1.6 1.1 2.8 -0.3 6.9 -0.8 3 -1.9 1.9 -1.1 0.5 -2 0.4 -7-0.4 -2-0.7 -1.9-1.7 -0.6-1 -0.4-2 0.5-7.9 1.4-2.7zM237.5 275l-1 0.2 -1 0.7 -0.6 2.1 0.6 1.6 1 0.7 1 0.1 2-0.5 0.8-1.9 0-0.9 -0.8-1.4 -1-0.6z"/>
<path fill="#ffbf00" d="M233 269.2l2.5-0.4 7 0.7 2 1 1.3 1.6 0.7 3 -0.4 6.9 -0.8 2 -1.8 1.8 -3 0.8 -6-0.2 -3-0.9 -1.8-1.5 -0.5-1 -0.5-2 0.5-7.9 1.3-2.4 1-0.9zM236.5 275l-1.3 1.1 -0.4 1.9 0.2 1 0.5 0.8 1 0.6 2 0.1 1-0.4 1-2.1 -0.5-1.9 -1.5-1.1z"/>
<path fill="#ff9500" d="M233.6 269.2l2.9-0.2 6 0.6 2 1.1 1.1 1.4 0.8 3 -0.5 6.9 -0.7 2 -1.7 1.6 -3 0.9 -6-0.3 -3-0.8 -1.6-1.4 -1-3 0.5-7.9 0.9-2 1-1zM236.5 274.9l-1.4 1.2 -0.5 1.9 0.3 1 0.6 1 1 0.5 2 0.1 1-0.4 0.8-1.2 0.3-1 -0.4-1.9 -0.7-0.8 -1-0.4z"/>
<path fill="#ff6a00" d="M234.6 269.2l5.9 0.2 2 0.3 2 1.2 1 1.2 0.7 3 -0.3 5.9 -0.9 3 -1.5 1.5 -3 0.9 -7-0.5 -2.4-0.9 -1.6-2 -0.5-2 0-2 0.3-4.9 0.6-2 1.6-2 1-0.5zM236.5 274.8l-1 0.5 -0.6 0.8 -0.4 1.9 0.2 1 0.6 1 1.2 0.6 2 0.1 1-0.4 1-1.3 0.2-1 -0.4-1.9 -0.8-0.9 -1-0.4z"/>
<path fill="#ff4000" d="M231.8 270.1l2.7-0.8 6 0.2 2 0.4 2 1.2 1.3 2 0.3 3 -0.5 5.9 -0.8 2 -0.9 1 -1.4 0.8 -2 0.4 -5-0.2 -3-0.5 -2.2-1.5 -0.6-1 -0.6-2 0.2-5.9 0.7-3zM236.5 274.7l-1 0.4 -0.7 1 -0.4 1.9 0.2 1 0.6 1 1.3 0.8 2 0.1 1-0.4 1.1-1.5 0.2-1.9 -0.3-1 -1-1.1 -1-0.3z"/>
<path fill="#ff1500" d="M232.1 270.1l2.4-0.6 7 0.3 2 0.7 1.6 1.6 0.9 3 -0.3 5.9 -0.5 2 -1.7 2.1 -3 1 -5-0.2 -3-0.5 -2-1.4 -0.7-1 -0.5-2 0.2-5.9 0.7-3zM235.5 274.9l-1.2 2.2 0.1 1.9 0.6 1 1.5 0.9 1 0.2 2-0.5 1.3-1.6 0.1-1.9 -0.2-1 -1.2-1.3 -1-0.2 -2 0z"/>
<path fill="#ea0000" d="M232.4 270.1l2.1-0.5 7 0.3 2 0.8 1.5 1.4 0.8 3 -0.3 5.9 -0.5 2 -1.5 2 -3 1 -6-0.4 -2-0.4 -2-1.4 -1.1-2.8 0.3-5.9 0.7-3 0.7-1zM235.5 274.8l-1.4 2.3 0.1 1.9 0.7 1 0.6 0.6 2 0.7 2-0.6 1.5-1.7 -0.2-2.9 -1.3-1.4 -2-0.3z"/>
<path fill="#bf0000" d="M232.7 270.1l1.8-0.3 7 0.2 2 0.8 1.3 1.3 0.9 3 -0.2 5 -0.6 2.9 -1.7 2 -0.7 0.3 -3 0.4 -6-0.4 -1.3-0.3 -1.7-1.5 -1-3.5 0.6-6.9 1.1-2zM235.5 274.6l-1.2 1.5 -0.4 1 0.1 1.9 0.7 1 1.8 1.3 2 0.1 2-1.4 0.6-1 -0.1-2.9 -1.5-1.6 -2-0.2z"/>
<path fill="#950000" d="M233 270.1l2.5-0.2 5.9 0.2 2.1 0.9 1.2 1.1 0.8 2.2 0 3.4 -0.8 5.3 -1.8 2 -3.4 0.4 -6-0.2 -1-0.2 -2-1.7 -0.6-3.3 0.4-6.9 1.1-2zM235.5 274.4l-1.5 1.7 -0.2 2.9 2.7 2.6 2 0.1 2.4-1.7 0.4-1 -0.1-2.9 -1.7-1.8z"/>
<rect x="282" y="24.2" width="69" height="68.5" fill="#000095"/>
<path fill="#0000bf" d="M316 33.1l5-1 3 0.3 3 0.7 5 2.5 2.9 2.5 1.8 2 1.8 3 1.3 3.9 0.6 7 2 7.9 -0.1 5 -1.2 4 -2.2 3.9 -2.9 3.3 -4 2.8 -4 1.4 -7 0.8 -8 1.9 -5-0.1 -4-1.2 -4-2.2 -3.1-2.7 -2.9-4 -1.5-3.9 -0.8-7 -1.9-7.9 0-5 1-4 1.5-2.9 2.7-3.7 3-2.7 3-1.7 3-1 8-0.8z"/>
<path fill="#0000ea" d="M309.3 38.1l2.7-0.8 3-0.2 3 0.4 2 0.8 2.4 1.8 1.5 3 1.9 1.9 2.2 1.2 3 0.4 2 1.2 2 2.2 1.7 4 0.5 3 -0.1 1.9 -1.1 4 -1 1.4 -1 1 -3 1.7 -1.5 1.9 -0.5 1 -0.3 3.9 -1.1 2 -2.6 2.4 -4 1.7 -3 0.5 -3 0 -2-0.4 -2.6-1.2 -2.1-2 -1.3-2.8 -1-1.2 -5-0.7 -3-1.9 -2.3-3.3 -1.1-3 -0.5-3 0-2.9 0.7-3 1-2 2.2-2.2 3.7-1.8 0.6-1 0.5-3.9 1-2 2.2-2.3z"/>
<path fill="#0015ff" d="M311 39.1l3-0.4 2 0.2 2.1 1.2 0.2 1 -1.3 1 -4 1.2 -4 0.7 -2-0.2 -0.6-0.7 0.2-1 0.8-1 1.3-1zM314.8 46l3.2-0.8 3 0 3 1.2 1.8 1.6 0.7 1 1.2 3 1.7 7.9 0.2 3 -0.4 2 -1.1 2 -1.1 1.2 -2 1.4 -3 1 -2.8 0.4 -5.2 1.3 -2 0.1 -3-0.9 -1-0.6 -2.6-2.9 -0.9-2 -0.5-3.3 -1.5-5.6 0-3 1.1-3 2.4-2.5 2-1.1zM333 53l1 0.5 0.8 2.5 0 1 -0.8 1.7 -1-1.9 -0.2-1.8zM297.9 54l1.1 0 0.9 1 0.8 2 1.6 9.9 -0.3 1.6 -1 0.9 -1-0.1 -2-1.4 -1.3-2 -1.1-3 -0.3-3 0.4-2.9 1.3-2.4zM318.7 73.8l3.3-0.3 2 0.1 0.6 0.2 0.6 1 -0.4 1 -1.8 1.7 -2 0.9 -2 0.6 -4.1-0.2 -2.3-1 -0.8-1 0-1 1.2-0.9 2-0.6z"/>
<path fill="#0040ff" d="M314.6 47l3.4-0.8 3-0.1 2 0.7 2 1.6 1.8 3.6 1.7 7.9 0.2 3 -0.9 3 -2.8 2.6 -3 1 -8 1.7 -2 0.1 -3-0.9 -2.6-2.5 -0.8-2 -2-8.9 -0.1-3 1.2-3 2.3-2 2-0.9zM296.9 58l1.1-0.9 1 1.1 1.1 4.7 0.1 2 -0.2 1.3 -1 0.3 -1-0.8 -1-1.8 -0.6-3zM316.5 76.8l2.5-0.7 1 0.4 0.1 0.3 -2.1 0.4z"/>
<path fill="#006aff" d="M316.7 47l3.3-0.5 2 0.5 2 1.2 1.5 1.8 1 3 1.4 6.9 0.3 2 -0.2 2 -0.3 1 -1.4 2 -2.3 1.5 -10 2.2 -3 0 -1-0.3 -2-1.3 -1.5-2.1 -2.3-9.9 -0.2-2 0.3-2 1.1-2 1.6-1.5 3-1.1z"/>
<path fill="#0095ff" d="M318.8 47l2.2 0.1 2 0.8 1.3 1.1 1.2 2 2.2 9.9 -0.1 3 -1.6 2.7 -1 0.8 -2 0.9 -9 2 -3-0.1 -2.5-1.3 -0.9-1 -1.1-2 -2.1-9.9 0.3-3 1.2-2 2.1-1.6 2-0.6zM316 57.9l-0.4 1 0.4 0.4 0.6-0.4z"/>
<path fill="#00bfff" d="M315.5 48l2.5-0.6 3 0 2 0.9 1 0.9 1.5 2.8 1.9 8.9 0.1 2 -0.7 2 -0.6 1 -2.2 1.7 -2 0.7 -7 1.4 -3 0.3 -2-0.5 -0.9-0.6 -1.8-2 -0.8-2 -1.6-7.9 -0.1-3 0.8-2 0.8-1 1.6-1.2 2-0.7zM316 57.7l-0.4 0.3 -0.4 0.9 0.8 0.6 1-0.6 -0.4-0.9z"/>
<path fill="#00eaff" d="M316.5 48l2.5-0.5 2 0.2 2 0.9 1.3 1.4 1.2 3 1.7 7.9 -0.3 3 -1.1 2 -1.1 1 -1.7 0.8 -9 2 -3-0.1 -2-1.1 -1.8-2.6 -2.1-8.9 0-3 0.8-2 2.1-1.9 2-0.8zM316 57.6l-0.8 0.4 -0.2 0.9 1 0.9 1.2-0.9 -0.2-1z"/>
<path fill="#15ffea" d="M317.4 48l2.6-0.2 2 0.5 1 0.7 1.6 2 2.2 8.9 0.2 2 -0.3 2 -1.2 2 -2.5 1.6 -9 2 -3-0.2 -2-1.1 -1.6-2.3 -2.1-8.9 0-3 0.9-2 1.8-1.6 2-0.8zM315 57.9l0 1.4 1 0.7 1-0.4 0.4-0.7 -0.4-1.2 -1-0.3z"/>
<path fill="#40ffbf" d="M318.8 48l2.2 0.2 1 0.4 1 0.7 1.4 1.7 2.2 8.9 0.2 2 -0.3 2 -1.3 2 -2.2 1.4 -9 2 -3-0.3 -2-1.2 -1.4-1.9 -2.1-8.9 0.1-3 0.9-2 2.5-1.9zM315 57.7l-0.3 1.2 0.3 0.7 1 0.5 1-0.2 0.5-1 -0.5-1.4 -1-0.3z"/>
<path fill="#6aff95" d="M315.1 49l2.9-0.7 2-0.1 2 0.6 1.5 1.2 1.4 3 1.7 7.9 -0.1 2 -0.8 2 -0.7 0.9 -2 1.2 -9 2.1 -2 0 -2.6-1.2 -1.5-2 -2.2-8.9 -0.1-2 0.6-2 1.8-2.1 3-1.2zM315 57.5l-0.4 0.5 0 0.9 0.4 1 1 0.3 1.1-0.3 0.6-1 -0.2-0.9 -0.5-0.7 -1-0.3z"/>
<path fill="#95ff6a" d="M315.7 49l2.3-0.6 2 0 2 0.7 1.2 0.9 1.5 3 1.7 7.9 -0.1 2 -1.3 2.6 -2 1.3 -8 1.9 -3 0.2 -2-0.8 -1-0.8 -0.9-1.4 -0.7-2 -1.3-5.9 -0.3-3 0.6-2 1.8-2 1.8-0.8zM316 56.9l-1 0.4 -0.5 0.7 -0.1 0.9 0.6 1.2 1 0.3 1.3-0.5 0.5-1 -0.1-0.9 -0.7-0.9z"/>
<path fill="#bfff40" d="M316.3 49l2.7-0.5 2 0.3 1.9 1.2 0.8 1 0.9 2 1.4 6.9 0.1 3 -0.8 2 -2.3 1.8 -8 1.9 -3 0.1 -2-0.8 -1-0.9 -1.2-2.1 -1.7-7.9 0.1-3 1.1-2 1.7-1.3zM316 56.8l-1 0.3 -0.6 0.9 -0.1 0.9 0.7 1.3 1 0.3 1.5-0.6 0.5-1 -0.2-0.9 -0.8-1z"/>
<path fill="#eaff15" d="M316.8 49l2.2-0.3 2 0.3 1 0.5 1.5 1.5 0.9 2 1.5 6.9 0 3 -0.9 2 -2 1.6 -8 1.9 -3 0.1 -2-0.8 -1-1 -1-1.8 -1.8-7.9 0.1-3 1.2-2 1.5-1.1zM315 56.9l-0.8 1.1 -0.1 0.9 0.5 1 1.4 0.7 1.6-0.7 0.5-1 -0.1-0.8 -0.8-1.1 -1.2-0.3z"/>
<path fill="#ffea00" d="M317.5 49l1.5-0.2 2 0.3 1 0.5 1.4 1.4 0.9 2 1.4 6.9 0.1 3 -1 2 -1.8 1.4 -8 2 -3 0.1 -2-0.9 -1-1 -0.8-1.6 -1.8-7.9 0.1-3 1.2-2 1.5-1 1.8-0.6zM315 56.8l-0.9 1.2 -0.1 0.9 0.5 1 0.5 0.6 1 0.2 1-0.2 1-0.9 0-1.8 -1-1.1z"/>
<path fill="#ffbf00" d="M318.5 49l1.5 0.1 2 0.7 1.7 2.2 2.1 8.9 -0.5 3 -1.3 1.6 -2 1.1 -8 1.7 -2-0.1 -1-0.3 -1.5-1 -1.2-2 -1.8-7.9 0.2-3 1.3-2 2-1.2zM315 56.8l-1 1.2 -0.1 0.9 0.4 1 0.7 0.7 1 0.3 1-0.3 1-0.7 0.3-1 -0.3-1.3 -1-1z"/>
<path fill="#ff9500" d="M314.6 50l3.4-0.8 2 0 2 0.8 1 1 1.2 3 1.4 7.9 -0.6 2.2 -2 1.9 -2 0.7 -8 1.5 -2-0.5 -1-0.6 -1.6-2.2 -1.8-7.9 0-2 0.7-2 1.7-1.6 2-0.8zM315 56.7l-1.2 1.3 0 0.9 0.4 1 0.8 0.8 1 0.3 1-0.3 1.1-0.8 0.3-1 -0.4-1.5 -1-0.9z"/>
<path fill="#ff6a00" d="M315.1 50l2.9-0.7 2 0 1.7 0.7 1.1 1 1 2 1.6 6.9 -0.1 3 -1.1 2 -2.2 1.4 -8 1.7 -2-0.1 -2-1 -1.4-2 -1.8-7.9 -0.1-2 0.8-2 1.5-1.4 2-0.8zM315 56.6l-1.3 1.4 0 0.9 0.4 1 0.9 0.9 1 0.3 1-0.2 1.2-1 0.2-1.9 -0.6-1 -0.8-0.6z"/>
<path fill="#ff4000" d="M315.6 50l2.4-0.6 2 0.1 1.4 0.5 1.2 1 1.1 2 1.5 6.9 0 3 -1.2 2 -2 1.3 -8 1.7 -2-0.1 -2-1.1 -1.3-1.8 -1.8-7.9 0-2 0.8-2 1.3-1.3 2-0.8zM315 56.5l-0.8 0.5 -0.6 1 0.3 1.9 1.1 1.1 1 0.2 1-0.2 1.3-1.1 0.2-1.9 -0.5-1 -1-0.7z"/>
<path fill="#ff1500" d="M316 50l2-0.5 2 0.1 2 1 1 1.2 0.6 1.2 1.5 6.9 0 3 -1.3 2 -1.8 1.1 -8 1.7 -2-0.1 -2-1.1 -1.1-1.6 -1.8-7.9 -0.1-2 0.8-2 1.2-1.1 2.1-0.9zM315 56.4l-0.9 0.6 -0.6 1 0.2 1.9 1.3 1.3 2 0 1.5-1.3 0.1-1.9 -0.4-1 -1.2-0.8z"/>
<path fill="#ea0000" d="M316.4 50l1.6-0.3 2 0 2 1 1 1.3 2 8.2 0 2.3 -1 2 -2 1.4 -4 0.7 -2 0.6 -4 0.2 -2-1 -1.4-2.5 -1.4-7.9 0.3-2 0.5-1 2-1.5zM314 56.8l-0.6 1.2 0.2 1.9 1.4 1.4 2 0 1.6-1.4 0.1-1.9 -0.7-1.4 -1-0.5 -1-0.1z"/>
<path fill="#bf0000" d="M316.9 50l2.1-0.3 1.4 0.3 1.6 0.9 1 1.4 2 8.6 -0.1 1 -0.9 2.4 -1 0.9 -1.4 0.7 -3.6 0.5 -2 0.7 -4 0.2 -1-0.3 -1-0.8 -1.2-2.3 -0.4-3 -0.7-2 -0.2-1.9 0.1-3 0.7-1 1.7-1.4 6-1.1zM316 55.7l-2.4 1.3 -0.3 1.9 0.1 1 1.6 1.6 1 0.1 1-0.1 1-0.8 0.7-0.8 0.1-1 -0.3-1.9 -0.5-0.6z"/>
<path fill="#950000" d="M317.5 50l2.5 0 1.7 1 1.3 1.6 1.6 8.3 -0.4 3 -1.2 1.2 -2 0.9 -3 0.2 -1 0.2 -0.6 0.5 -1.4 0.2 -3.7-0.2 -1.4-1 -1-2 -0.2-3 -0.8-2 -0.1-4.9 2.2-2.2 2-0.3 1-0.5 3-0.3zM316 55.4l-0.7 0.6 -1.3 0.3 -0.6 0.7 -0.2 2.9 1.8 1.8 2 0 1.8-1.8 -0.1-2.9 -1.7-1.4z"/>
<rect x="282" y="243.5" width="69" height="68.1" fill="#000095"/>
<path fill="#0000bf" d="M319.3 251.4l4.7 0.1 5 1.5 3 1.7 2 1.6 3.5 4 1.5 2.9 0.8 3 0.6 6.9 2 7.9 0.2 3 -0.5 2.9 -1.4 4 -2.5 3.9 -3.2 3.3 -3 1.9 -4 1.4 -7 0.8 -8 1.9 -3 0.1 -3-0.4 -4-1.4 -4-2.5 -3.1-3.1 -2-3 -1.4-3.9 -0.9-6.9 -1.8-7.9 -0.2-3 0.3-2.9 1.3-4 2.3-3.9 2.5-2.8 3-2.3 2-1.1 3-1 8-0.8z"/>
<path fill="#0000ea" d="M313 256.3l4 0.1 3 1 2.5 1.9 1.4 3 2.1 2 2 1.1 3 0.3 2 1.2 1.3 1.3 1.3 1.9 0.8 2 0.7 3 -0.1 3.9 -1 2.9 -2 2.5 -3 1.7 -1.5 1.8 -0.5 1 -0.3 3.9 -1 2 -1.7 1.7 -2 1.3 -3 1.2 -2 0.4 -4 0.1 -4-1.3 -2.8-2.4 -1.2-2.7 -1-1.2 -1-0.3 -3-0.1 -3-1.4 -2-2 -1.3-2.2 -1.1-2.9 -0.4-2 -0.1-3.9 1.1-4 1.8-2.5 2-1.2 2-0.8 1-0.8 0.6-1.6 0.2-3 0.9-1.9 1.8-2 2.5-1.6 2-0.8z"/>
<path fill="#0015ff" d="M310.6 258.3l2.4-0.5 3 0.2 0.9 0.3 1.3 1 0.1 1 -2.3 1.3 -4 1 -3 0.5 -2-0.2 -0.6-0.6 0.2-1 0.7-1 1.2-1zM318 264.2l2-0.1 3 0.8 1.7 1.3 1.6 2 1.2 2.9 2.1 7.9 0.2 2 -0.2 2 -1.6 2.9 -3 2.4 -10 3.1 -2 0.2 -2-0.2 -3-1.6 -2.4-2.9 -3.1-9.8 -0.3-2 0.1-2 1.4-3 2.3-2.3 3-1.3zM333 272.1l1 0.5 0.8 2.5 0 1 -0.8 1.7 -1-1.9 -0.2-1.8zM297.9 273.1l1.1 0 1 1 0.8 2 1.5 9.8 -0.3 1.7 -1 0.9 -1-0.1 -2-1.4 -1.4-2 -1-3 -0.3-3 0.4-2.9 1.3-2.4zM319.4 292.8l2.6-0.2 2 0.1 1.2 1.1 -0.3 1 -1.9 1.8 -2 0.9 -2 0.5 -2 0.2 -2.5-0.4 -2-1 -0.8-1 0.1-1 1.2-0.9 2-0.5z"/>
<path fill="#0040ff" d="M317.7 265.2l2.3-0.2 2 0.4 2 1.2 1.3 1.6 1.3 2.9 2.1 7.9 0.2 2 -0.2 2 -1 2 -2.7 2.3 -10 3 -2 0.3 -2-0.2 -2-0.9 -1-0.8 -1.8-2.8 -2.8-9.8 0-3 1.3-3 2.3-1.8 2-0.9zM296.9 277.1l1.1-0.9 1 1.1 1.1 4.7 0.1 2 -0.2 1.3 -1 0.3 -1-0.8 -1-1.8 -0.6-3zM316.5 295.8l2.5-0.6 1.2 0.6 -2.2 0.5z"/>
<path fill="#006aff" d="M315.9 266.2l2.1-0.6 3 0.1 2 0.8 1.7 1.7 1 1.9 2.1 7.9 0.5 2 0 2 -0.6 2 -0.7 1 -1 1 -2 1.2 -9 2.5 -2 0.3 -2-0.2 -2-1 -1-0.9 -1.2-2 -2.6-8.8 -0.3-2 0.1-2 0.7-2 2.3-2.2 3-1.2z"/>
<path fill="#0095ff" d="M317.3 266.2l2.7-0.3 2 0.6 2 1.5 0.8 1.2 0.8 1.9 2.1 7.9 0.2 2 -0.2 2 -1.7 2.5 -3 1.7 -9 2.3 -3-0.1 -2.4-1.5 -1.8-2.9 -2.4-8.9 0-3 0.8-2 0.9-1 1.9-1.3zM316 277l-0.4 1 0.4 0.4 0.6-0.4z"/>
<path fill="#00bfff" d="M315 267.2l2-0.7 3-0.2 2 0.5 1.7 1.4 0.8 1 1.1 2.9 1.8 6.9 0.2 3 -0.8 2 -0.7 1 -2.1 1.5 -9 2.5 -3 0.2 -2-0.6 -0.9-0.7 -1.6-2 -2.8-9.8 -0.1-2 1-3 1.4-1.4 2-1zM316 276.8l-0.5 0.3 -0.3 0.9 0.8 0.7 1.1-0.7 -0.4-0.9z"/>
<path fill="#00eaff" d="M315.8 267.2l2.2-0.6 3 0.1 2 1.2 1 1.1 1.3 3.1 1.8 6.9 0.2 3 -0.8 2 -0.8 1 -1.7 1.2 -9 2.5 -3 0.2 -2-0.7 -1-0.7 -1.6-2.5 -2.2-7.9 -0.3-3 0.5-2 0.6-1 2-1.7 2-0.7zM316 276.6l-0.9 0.5 -0.2 0.9 1.1 1 1.2-1 -0.2-1z"/>
<path fill="#15ffea" d="M316.6 267.2l2.4-0.5 2 0.3 1 0.5 1.8 1.7 1 1.9 1.9 6.9 0.3 2 0 2 -0.8 2 -0.9 1 -2.3 1.3 -8 2.2 -3 0.2 -1-0.3 -2-1.3 -1.4-2.1 -2.4-8.9 0.1-3 1-2 1.7-1.4 2-0.8zM315 276.9l-0.2 1.1 0.2 0.5 1 0.6 1-0.4 0.4-0.7 -0.4-1.2 -1-0.4z"/>
<path fill="#40ffbf" d="M317.4 267.2l1.6-0.3 2 0.4 1 0.4 1.6 1.5 1 1.9 2.1 7.9 0.1 3 -0.9 2 -0.9 1 -2 1.1 -8 2.2 -3 0.2 -2-0.9 -1-0.8 -1.1-1.8 -2.5-8.9 0.1-3 1.1-2 2.4-1.6zM315 276.7l-0.3 1.3 0.3 0.8 1 0.4 1-0.2 0.6-1 -0.6-1.4 -1-0.4z"/>
<path fill="#6aff95" d="M318.9 267.2l2.1 0.3 1 0.5 1.3 1.2 1.1 1.9 2.1 7.9 0.2 2 -0.5 2 -1.5 2 -2.7 1.3 -8 2 -2 0 -1-0.4 -2-1.5 -1.3-2.4 -2.1-7.9 0.1-3 1.2-2 2.1-1.4 8-2.3zM316 276.1l-1.4 1 -0.1 0.9 0.5 1.1 1 0.3 1.2-0.4 0.5-1 -0.1-0.9 -0.6-0.7z"/>
<path fill="#95ff6a" d="M315.3 268.2l2.7-0.8 2 0 2 0.8 1 1 1.2 1.9 2.1 7.9 0.1 3 -1 2 -2.4 1.7 -8 2.2 -3 0.1 -2-0.9 -1.7-2.1 -2.5-8.9 -0.1-2 0.7-2 1.6-1.7 2-0.9zM316 276l-1 0.4 -0.5 0.7 -0.1 0.9 0.6 1.2 1 0.3 1.3-0.5 0.6-1 -0.2-0.9 -0.7-0.9z"/>
<path fill="#bfff40" d="M315.8 268.2l2.2-0.6 2 0 2 0.8 1 1 1.3 2.7 1.9 6.9 0 3 -1 2 -2.2 1.5 -8 2.3 -3 0 -2-0.9 -1.6-1.9 -2.2-7.9 -0.3-3 0.7-2 1.4-1.5 2-1zM316 275.9l-1 0.3 -0.7 0.9 -0.1 0.9 0.8 1.3 1 0.3 1.5-0.6 0.5-1 -0.1-0.9 -0.8-1z"/>
<path fill="#eaff15" d="M316.2 268.2l1.8-0.5 2 0.1 2 0.8 1.3 1.5 0.9 2 1.8 6.9 0 3 -1.1 2 -1.9 1.4 -8 2.2 -3 0.1 -2-1 -1.4-1.7 -2.3-7.9 -0.2-3 0.7-2 2.2-1.9zM315 276l-0.8 1.1 -0.1 0.9 0.5 1 1.4 0.8 1.7-0.8 0.4-1 -0.1-0.9 -0.7-1 -1.3-0.3z"/>
<path fill="#ffea00" d="M316.7 268.2l1.3-0.3 2 0 2 1 1.2 1.2 0.8 2 1.9 6.9 -0.1 3 -1.1 2 -1.7 1.2 -8 2.3 -3 0 -2-1 -1.6-2.5 -1.9-6.9 -0.3-3 0.8-2 2-1.7zM315 275.9l-1 1.2 0 0.9 0.4 1 0.6 0.6 1 0.3 1-0.3 1-0.8 0.2-0.8 -0.2-1.2 -1-1 -1-0.2z"/>
<path fill="#ffbf00" d="M317.3 268.2l1.7-0.2 2 0.4 2 1.8 0.9 1.9 1.8 6.9 0 3 -1.2 2 -2.5 1.5 -7 1.8 -3 0.1 -2-1.1 -1.5-2.3 -2.1-7.9 0.3-3 0.5-1 1.8-1.5zM315 275.8l-1.1 1.3 0 0.9 0.4 1 0.7 0.7 1 0.3 1-0.2 1-0.8 0.3-1 -0.3-1.4 -1-0.9z"/>
<path fill="#ff9500" d="M318.2 268.2l2.8 0.4 1 0.7 1.4 1.8 2.2 7.9 -0.1 3 -1.2 2 -2.3 1.3 -7 1.9 -3 0 -2-1.2 -1.3-2 -2.2-7.9 0.3-3 1.2-1.6 2-1.2zM315 275.7l-1.2 1.4 0 0.9 0.3 1 0.9 0.9 1 0.2 1-0.2 1.1-0.9 0.3-1 -0.4-1.6 -1-0.8z"/>
<path fill="#ff6a00" d="M314.9 269.2l3.1-0.9 2 0.1 1.6 0.8 1 0.9 1 2 1.9 6.9 0.1 2 -0.7 2 -1.9 1.7 -8 2.4 -2 0.1 -2-0.6 -0.9-0.7 -1.3-1.9 -2.1-7.9 0-2 0.9-2 1.4-1.2zM315 275.6l-0.7 0.5 -0.6 1 0.3 1.9 1 1 1 0.2 1-0.2 1.3-1 0.2-1 -0.5-1.8 -1-0.8z"/>
<path fill="#ff4000" d="M315.3 269.2l2.7-0.8 2 0.1 1 0.4 1.4 1.2 1.1 2 1.8 6.9 0.1 2 -0.7 2 -1.7 1.6 -8 2.3 -2 0.2 -2-0.6 -0.7-0.6 -1.3-1.9 -2.2-7.9 0-2 1-2 1.2-1zM315 275.5l-0.9 0.6 -0.5 1 0.3 1.9 1.1 1.2 2 0 1.4-1.2 0.2-1 -0.5-1.9 -1.1-0.8z"/>
<path fill="#ff1500" d="M315.7 269.2l2.3-0.6 2 0.1 2.3 1.4 1 2 1.9 6.9 0.1 2 -0.7 2 -1.6 1.4 -7 2.1 -3 0.5 -2.5-1.1 -1.5-2.2 -2.1-7.6 0.1-2 0.9-2 1.2-1zM314 276l-0.5 1.1 0 0.9 0.2 1 1.3 1.3 2 0 1.5-1.3 0.1-1.9 -0.6-1.3 -1-0.6 -1-0.1z"/>
<path fill="#ea0000" d="M316 269.2l2-0.5 2 0.1 2.1 1.3 1.1 2 1.9 6.9 0.1 2 -1.2 2.4 -1 0.9 -1.6 0.7 -7.4 1.7 -2-0.2 -1-0.4 -1-0.9 -1-1.8 -1.9-7.3 0.1-2 0.8-1.8 1.4-1.2zM316 275l-2.2 1.1 -0.4 1.9 0.1 1 1 1 0.5 0.5 1 0.1 1-0.1 1-0.8 0.6-0.7 0.2-1 -0.4-1.9 -1.4-1z"/>
<path fill="#bf0000" d="M316.4 269.2l1.6-0.4 2 0.2 2 1.3 1.1 1.8 0.5 3 1.4 4.4 0 1.6 -1 2.1 -1 0.9 -2 0.9 -3 0.4 -2 0.9 -4 0.1 -1-0.4 -1-1 -1-2 -0.5-3 -0.8-2 -0.3-1.9 0.2-3 0.8-1 1.6-1.1zM316 274.7l-2.5 1.4 -0.2 1.9 0.1 1 1 1 0.6 0.6 1 0.1 1-0.1 1-0.7 0.7-0.9 0.2-1 -0.3-1.9 -1.6-1.2z"/>
<path fill="#950000" d="M316.8 269.2l2.2-0.2 1.1 0.2 1.9 1.4 1 1.7 0.3 2.8 0.7 1.3 0.8 3.6 -0.4 2 -0.3 1 -1.1 1 -2.5 1 -2.5 0.2 -2 0.9 -4 0.1 -2-1.5 -1-2.1 -0.5-3.6 -0.7-1 -0.2-2.9 0.2-2 2.2-2 6-1.4zM316 274.5l-2 0.9 -0.7 0.7 -0.1 2.9 1.8 1.8 2 0 1.8-1.8 0.2-1 -0.2-1.9 -1.8-1.6z"/>
<rect x="361.2" y="24.2" width="69" height="68.5" fill="#000095"/>
<path fill="#0000bf" d="M390.2 31.1l4-0.7 5 0.2 5 1.4 3.6 2.1 2.1 2 5.3 7.4 4 3.8 2 2.6 1.4 3.1 0.9 4 0.1 3.9 -0.7 4 -1.6 4 -2.1 3 -2 1.9 -5.6 4 -6.3 6 -3.7 2 -4.4 1 -4 0.1 -4-0.6 -3.9-1.5 -3-2 -2-2 -4.1-5.4 -6-6.7 -2-3.7 -1-4.1 -0.2-3.9 0.6-4 1.4-4 2.2-3.4 2-1.9 7.3-5.6 4.1-4 3-2z"/>
<path fill="#0000ea" d="M384.8 39.1l2.4-0.7 3 0 2 0.7 3 2.6 2 0.4 2-0.1 2-1.3 2-0.6 3 0.5 2 0.9 2 1.4 2 2.1 1.3 2 1.1 3 0.1 3 -0.5 1.8 -2 2.6 -0.5 4.5 0.2 1 1.7 3 0.1 3 -1.1 3 -1.4 1.9 -1.9 2 -2.1 1.5 -4 1.6 -3 0.2 -3-1.3 -2-2 -2-0.3 -1 0.3 -3 2.1 -2 0.4 -2-0.2 -2-0.7 -3-1.9 -2.7-2.7 -1.3-1.9 -1.7-4 -0.2-2 0.2-2 0.7-1.9 2.8-3 0.2-1 -0.1-1 -2-3 -0.4-2 0.1-2 1.1-3 2.2-2.9 3.1-2.7z"/>
<path fill="#0015ff" d="M384 41.1l3.2-0.7 1.7 0.7 0.1 1 -1.1 2 -4.7 4.4 -2 1.5 -2 0.7 -1-0.6 -0.3-1.1 0.8-3 2.3-2.9zM392 45l2.2-0.7 2-0.1 2 0.3 2 0.9 2.1 1.6 4.4 5 2 3 1 3 0.1 1.9 -0.5 2 -2.1 3.5 -7 6 -2 1.1 -2 0.6 -2 0.1 -3-0.8 -3-2 -5.5-6.5 -1.2-2 -0.7-3 0.3-2.9 1.3-3 5.8-5.4zM407.1 45l1.1-0.3 1 0.6 1 1.1 0.6 1.6 -0.6 0.5 -1-0.7zM376.8 63.9l0.4-0.5 1-0.1 1.2 0.6 2.1 2 5.4 6.9 0.5 2 -0.8 1 -1.4 0.3 -2-0.4 -2-1.1 -2.1-1.8 -1.5-1.9 -1.2-3 -0.3-2zM407.8 69.9l1.4-0.7 1 0 0.4 0.7 -0.3 2 -1.3 1.9 -1.8 1.5 -2 1.1 -2 0.4 -1-0.3 -0.6-0.7 0.2-1 0.8-1z"/>
<path fill="#0040ff" d="M384.2 43.1l0.4 1 -0.8 0.9 -1.6 1.3 -1 0.3 -0.2-0.6 0.4-1 0.8-0.9zM395 45l3.2 0.3 2 1 1.9 1.7 5.7 7 0.9 2 0.3 2.9 -0.5 2 -1.2 2 -2.1 2.2 -4 3.4 -3 2.1 -2 0.7 -2 0.1 -3-0.9 -3.1-2.6 -5.5-7 -0.8-2 -0.3-1.9 0.8-3 2.2-3 6.7-5.6 2-1zM395.2 57.9l-0.5 1 0.5 0.4 0.8-0.4zM378.1 66.9l1.1-0.3 3 2.9 2.1 3.3 -0.4 1 -1.7-0.2 -2.4-1.7 -1.7-3z"/>
<path fill="#006aff" d="M393.1 46l2.1-0.6 2 0.2 2 0.7 2 1.5 5.3 6.2 1.3 2 0.7 2.9 -0.5 3 -2.2 3 -6.6 5.5 -2 1 -2 0.4 -3-0.4 -3-2.1 -5.4-6.4 -1.2-2 -0.4-2 0.2-2.9 1.8-3 6-5.2zM395.2 56.9l-1 0.5 -0.4 0.6 -0.1 0.9 0.5 1.1 1 0.3 1.2-0.4 0.6-1 -0.2-0.9 -0.6-0.8z"/>
<path fill="#0095ff" d="M394.4 46l1.8-0.2 2 0.5 3 2 5.6 6.7 1 2 0.3 1.9 -0.6 3 -2.2 3 -6.1 5 -2 1.1 -2 0.5 -3-0.6 -1-0.4 -2-1.7 -5.6-6.9 -0.9-2 -0.2-1.9 0.8-3 1.9-2.5 6-5 2-1.1zM394.2 56.8l-1 1.2 0 1.3 1 1.2 1 0.4 1-0.3 1-0.9 0.3-0.8 -0.3-1.3 -1-0.9 -1-0.2z"/>
<path fill="#00bfff" d="M392.6 47l1.6-0.6 2-0.2 2 0.4 2 1.2 6.2 7.2 1 2 0.4 1.9 -0.7 3 -1.9 2.7 -6 5 -2 1.1 -2 0.4 -3-0.5 -2.5-1.7 -5.1-6 -1.2-2 -0.6-2 0.1-1.9 1.4-3 5.9-5.4zM394.2 56.4l-0.7 0.6 -0.6 1 0.2 1.9 1.1 1.1 2 0 1.2-1.1 0.4-1 -0.1-0.9 -0.5-1 -1-0.7 -1-0.2z"/>
<path fill="#00eaff" d="M393.2 47l2-0.6 2 0.2 3 1.6 5.9 6.8 1 2 0.4 1.9 -0.6 3 -1.7 2.3 -6 5.1 -2 1.1 -2 0.4 -3-0.5 -2.1-1.4 -5.2-6 -1.2-2 -0.5-2 0.3-2.9 1.1-2 5.6-5zM395.2 55.8l-1 0.3 -1.1 0.9 -0.6 1.9 0.4 1 0.9 1 1.4 0.5 1-0.1 1-0.7 0.9-1.7 -0.1-0.9 -0.8-1.3 -1-0.7z"/>
<path fill="#15ffea" d="M393.9 47l1.3-0.3 2 0.1 3 1.6 5.6 6.6 1.1 2 0.3 1.9 -0.6 3 -1.4 2 -6 5.1 -2 1.1 -2 0.5 -2-0.2 -3-1.7 -5.7-6.8 -1.1-3 0.3-2.9 1.2-2 6.3-5.6zM394.2 55.8l-1.4 1.2 -0.5 1 -0.1 0.9 1.2 2 1.8 0.8 1-0.2 1-0.6 0.8-1 0.3-1.9 -0.6-1 -1.1-1 -1.4-0.4z"/>
<path fill="#40ffbf" d="M394.9 47l1.3-0.1 2 0.5 2.3 1.6 5.1 6 1 2 0.4 1.9 -0.2 2 -1.9 3 -6.7 5.5 -3 1 -3-0.6 -2.5-1.9 -4.9-6 -1-2 -0.2-1.9 0.9-3 1.6-2 5.1-4.3 2-1.2zM394.2 55.7l-1 0.6 -1 1.4 0 1.8 0.9 1.4 1.1 0.8 1 0.2 1-0.2 1.3-0.8 0.8-1 0.1-1.9 -1.4-2 -1.8-0.6z"/>
<path fill="#6aff95" d="M392.6 48l1.6-0.7 2-0.2 2 0.5 1 0.6 2 1.8 4.1 5 1.1 2 0.4 1.9 -0.2 2 -2 3 -6.4 5.3 -3 1 -3-0.6 -2-1.5 -5.2-6.2 -1.2-3 0.1-1.9 1.5-3 4.8-4.2zM394.2 55.5l-1 0.5 -1 1.3 -0.3 1.6 0.3 1 1 1.4 1 0.6 2 0.1 1.5-1.1 0.8-1 0.1-1.9 -0.4-1 -1-1.1 -2-0.7z"/>
<path fill="#95ff6a" d="M393 48l1.2-0.5 2-0.2 3 1.1 1.8 1.6 4.1 5 1.1 2 0.4 1.9 -0.7 3 -1.7 2.2 -6 4.9 -3 1 -3-0.6 -2-1.5 -5-6 -1.2-3 0.4-2.9 1.3-2 5.5-4.8zM393.2 55.8l-1.1 1.2 -0.3 1 -0.1 0.9 0.5 1.4 1 1.2 1 0.6 2 0 1-0.5 1-0.9 0.7-1.8 -0.1-0.9 -0.6-1.3 -2-1.6 -1-0.1z"/>
<path fill="#bfff40" d="M393.4 48l2.8-0.5 2 0.6 1.5 0.9 5.2 6 1.1 2 0.4 1.9 -0.7 3 -1.6 2 -5.9 4.9 -3 1 -3-0.6 -2-1.6 -4.8-5.7 -1.2-3 0.4-2.9 1.3-2 5.3-4.6zM395.2 54.8l-2 0.9 -1 1 -0.6 1.3 -0.1 0.9 0.7 1.7 1 1.1 2 0.7 1.8-0.5 1.2-1 0.9-2 -0.5-1.9 -0.8-1 -1.6-1.1z"/>
<path fill="#eaff15" d="M393.9 48l1.3-0.3 2 0.2 2 0.9 1 0.9 4.5 5.3 1.1 2 0.5 1.9 -0.8 3 -1.6 2 -5.7 4.7 -3 1 -2-0.2 -1-0.5 -2-1.5 -4.6-5.5 -1.2-3 0.4-2.9 1.3-2 5.1-4.4zM394.2 54.9l-1.6 1.1 -0.8 1 -0.4 1.9 0.8 2 1 1 1 0.5 2 0 2.2-1.5 0.8-1.7 0-1.2 -1-1.8 -1-0.9 -1-0.5z"/>
<path fill="#ffea00" d="M394.6 48l2.6 0.1 1 0.3 2 1.5 5 6.1 0.9 2.9 -0.3 2 -0.5 1 -1.6 2 -5.5 4.5 -3 1 -2-0.2 -1-0.4 -2.3-1.9 -4.1-5 -1-2 -0.3-1.9 0.5-2 1.3-2 4.9-4.2 2-1.3zM394.2 54.8l-1.8 1.2 -0.8 1 -0.4 1.9 0.9 2 1.1 1.2 2 0.7 1-0.2 2.3-1.7 0.7-1 0.1-1.9 -1.1-2 -1-0.9 -1-0.5z"/>
<path fill="#ffbf00" d="M392.5 49l1.7-0.7 2-0.2 2 0.5 1 0.6 5.1 5.8 1.5 3 -0.2 2.9 -1.4 2.3 -6 5 -3 1.1 -3-0.7 -2-1.6 -4.2-5.1 -1.3-3 0.1-1.9 0.9-2 1.9-2zM394.2 54.6l-2 1.4 -0.7 1 -0.4 1.9 0.8 2 1.3 1.3 1.9 0.7 1.1-0.2 1.5-0.8 1-1 0.6-1 0.2-1.9 -1.1-2 -1.2-1.1 -1-0.4z"/>
<path fill="#ff9500" d="M392.8 49l1.4-0.6 2-0.2 2 0.6 1 0.6 5 5.7 1.1 1.9 0.5 1.9 -0.4 2 -0.5 1 -1.7 2 -5 4.1 -3 1.1 -3-0.7 -1.9-1.5 -4.1-5 -1.3-3 0.1-1.9 1.2-2.4 2-1.9zM394.2 54.5l-2 1.3 -0.9 1.2 -0.4 1.9 0.9 2 1.4 1.5 1 0.5 2 0 1.7-1 1-1 0.6-1 0.1-1.9 -1.1-2 -1.3-1.2 -1-0.5z"/>
<path fill="#ff6a00" d="M393.1 49l1.1-0.4 2-0.2 2 0.6 1 0.6 5.4 6.4 1 2.9 -0.3 2 -0.5 1 -1.6 1.9 -5 4.1 -3 1 -2-0.2 -2.7-1.8 -4.1-5 -1.3-3 0.1-1.9 1-2.2 2-2zM393.2 54.8l-2.1 2.2 -0.3 1 0.2 1.9 2.2 2.6 1 0.6 2 0 1.9-1.2 1-1 0.5-1 0.2-1.9 -1.1-2 -1.5-1.4 -2-0.5z"/>
<path fill="#ff4000" d="M393.5 49l2.7-0.5 1.7 0.5 1.3 0.8 5.3 6.2 0.9 2.9 -0.3 2 -1.9 2.7 -5 4.1 -3 1.1 -2-0.3 -2.5-1.6 -4.2-5 -1.3-3 0.1-1.9 1-2 4.9-4.5zM395.2 53.9l-2 0.8 -1.5 1.3 -0.7 1 -0.4 1.9 0.3 1 1.4 2 1.9 1.3 1 0.2 1-0.2 2.1-1.3 0.9-1 0.8-2 -0.5-1.9 -1.3-1.7 -1-0.8z"/>
<path fill="#ff1500" d="M393.9 49l2.3-0.3 1.3 0.3 1.7 1 5.1 6 1 2.9 -0.4 2 -1.7 2.5 -5 4.1 -3 1.1 -2-0.3 -2.3-1.4 -4.2-5 -1.3-3 0.1-1.9 1-2 4.7-4.3zM395.2 53.8l-2 0.7 -1.7 1.5 -0.7 1 -0.3 1.9 0.2 1 1.5 2.1 2 1.4 1 0.1 2-0.6 1.3-1 0.9-1 0.8-2 -0.5-1.9 -1.5-1.9 -2-1.2z"/>
<path fill="#ea0000" d="M394.5 49l2.5 0 2.2 1.2 5 5.9 0.9 2.8 -0.4 2 -1.5 2.3 -5 4.1 -1 0.6 -2 0.5 -2-0.2 -2.1-1.3 -4.2-5 -1.1-2 -0.2-1 0.1-1.9 1.5-2.6 5.1-4.4zM394.2 53.8l-2.8 2.2 -0.7 1 -0.4 1.9 0.8 2 1.1 1.3 1 0.9 2 0.6 2-0.6 1.5-1.2 0.9-1 0.8-2 -0.6-1.9 -1.6-2.1 -2-1.2z"/>
<path fill="#bf0000" d="M392.6 50l2.6-1 1 0 2 0.7 2 1.7 3 3.6 1.3 2 0.2 1 -0.1 2.9 -1.4 2 -4.6 4 -2.4 1.2 -2 0.1 -1-0.2 -1.8-1.1 -4.3-5 -1.1-2 -0.2-1 0-1.9 1.1-2zM394.2 53.6l-3 2.4 -0.7 1 -0.3 1.9 0.7 2 1.3 1.5 1 0.9 2 0.5 2-0.5 1-0.8 1.6-1.6 0.8-2 -0.1-0.9 -1.1-2 -1.2-1.4 -2-1.1z"/>
<path fill="#950000" d="M392.9 50l3.3-0.6 2.2 0.6 3.8 4 2 2.7 0.3 1.3 -0.1 2.9 -1.2 1.7 -5 4.4 -1.8 0.9 -1.2 0.2 -1.8-0.2 -1.7-1 -4.5-5.1 -1-1.7 -0.3-1.2 0.1-1.9 1-2zM394.2 53.3l-2 1.3 -1.4 1.4 -1 2 0 0.9 0.8 2 1.6 1.7 1 1 2 0.5 2-0.5 2.7-2.7 0.8-1 0.1-1.9 -1.1-2 -2.5-2.4 -1-0.3z"/>
<rect x="361.2" y="243.5" width="69" height="68.1" fill="#000095"/>
<path fill="#0000bf" d="M389.7 250.4l4.5-0.9 5 0.2 5 1.4 3.8 2.3 2 1.9 4.2 6.1 5 5 2 2.6 1.4 3.1 0.9 4 0.1 3.9 -0.7 4 -1.6 3.9 -2.1 3.1 -2 1.9 -5.5 3.9 -6.2 5.9 -3.5 2 -4.8 1.2 -4 0.1 -4-0.6 -4-1.6 -3.1-2.1 -1.9-1.9 -5-6.5 -5-5.5 -2-3.8 -1-4 -0.2-3.9 0.6-4 1.4-3.9 2.2-3.5 2-1.9 7.1-5.5 5.4-4.9z"/>
<path fill="#0000ea" d="M384.5 258.3l2.7-0.8 3 0 2.1 0.8 2.9 2.6 2 0.4 2-0.3 3-1.6 3 0 2 0.7 2 1.1 2 1.8 1.7 2.2 1.4 3 0.5 2.9 -0.6 2.8 -1.9 2.2 -0.3 1 -0.2 3.9 0.2 1 1.6 3 0.1 2.9 -1.1 3 -1.3 1.9 -1.9 2 -2.2 1.6 -4 1.6 -3 0.2 -1.4-0.4 -1.6-0.9 -2-2 -2-0.3 -1 0.3 -3 2.1 -2 0.4 -2-0.2 -2-0.7 -3-1.9 -2.8-2.7 -1.3-2 -1.6-4 0-3.9 0.7-1.9 2.9-3 0.2-1 -0.2-1 -2-3 -0.4-2 0.1-1.9 1.1-3 2.1-2.9 3.2-2.8z"/>
<path fill="#0015ff" d="M383.8 260.3l1.4-0.6 2-0.2 1.7 0.8 0.1 1 -1.2 1.9 -4.6 4.4 -2 1.5 -2 0.7 -1-0.6 -0.2-1 0.7-3 2.2-2.9zM392.6 264.2l2.6-0.8 3 0.1 2 0.8 2 1.3 1.5 1.6 4.1 5.9 1.1 2 0.8 2.9 -0.1 2 -1 3 -2.4 2.8 -5 3.7 -3 1.7 -4 1 -4-0.9 -2.9-2.4 -4.8-6.9 -1-2 -0.6-2.9 0.7-4 1.6-2.5 4-3.1zM407.2 264.2l1-0.4 1 0.5 1 1.2 0.5 1.7 -0.5 0.4 -1-0.7zM376.8 283l0.4-0.5 1-0.1 1.1 0.6 2.1 2 5.5 6.9 0.5 1.9 -0.6 1 -1.6 0.4 -2-0.4 -2-1.1 -2.1-1.8 -1.5-2 -1.3-3 -0.2-1.9zM407.9 288.9l1.3-0.6 1 0 0.4 0.6 -0.2 2 -1.3 1.9 -1.9 1.6 -2 1.1 -2 0.4 -1-0.3 -0.7-0.8 0.4-1 0.8-1z"/>
<path fill="#0040ff" d="M384 262.3l0.5 0 0 0.9 -2 2 -1.3 0.5 -0.3-0.5 0.4-1 0.9-1zM395.9 264.2l3.3 0.5 2 1.2 1.3 1.3 5.5 7.9 0.7 2 0.1 2.9 -1.1 3 -1.5 1.7 -2 1.6 -6 4 -3 1 -2 0 -3-1.1 -2.5-2.3 -4.8-6.9 -1.1-3 -0.1-1.9 0.9-3 2.6-2.9 7-4.9 2-0.8zM395.2 276.9l-0.6 1.1 0.6 0.5 0.9-0.5 -0.5-0.9zM378.1 285.9l1.1-0.2 2 1.7 2.6 3.5 0.5 1 -0.2 0.9 -0.9 0.2 -1-0.2 -2.4-1.9 -1.7-3z"/>
<path fill="#006aff" d="M393.7 265.2l1.5-0.5 2 0 2 0.6 2 1.3 1.5 1.6 4.2 5.9 1 2 0.5 2.9 -0.8 3 -2.4 2.9 -7 4.8 -2 0.9 -2 0.2 -3-0.6 -2.8-2.3 -4.9-6.9 -0.9-2 -0.4-1.9 0.5-3 1.5-2.3 7-5.3zM395.2 276l-1 0.4 -0.5 0.7 -0.1 0.9 0.6 1.1 1 0.3 1.3-0.4 0.5-1 -0.1-0.9 -0.7-0.9z"/>
<path fill="#0095ff" d="M395.1 265.2l3.1 0.1 1 0.4 2.1 1.5 1.7 2 4 5.9 0.8 2 0.2 1.9 -0.4 2 -0.4 1 -2 2.4 -7 4.9 -2 0.9 -2 0.3 -3-0.8 -2-1.5 -1.1-1.3 -4.7-6.9 -0.7-2 -0.1-1.9 1-3 1.8-2 6.8-4.8zM394.2 275.9l-1.1 1.2 0.1 1.3 1 1.3 1 0.3 1-0.3 1-0.7 0.3-1 -0.3-1.3 -1-1 -1-0.1z"/>
<path fill="#00bfff" d="M393.1 266.2l2.1-0.7 2-0.1 3 1.2 2.4 2.6 3.4 4.9 1.1 2 0.5 1.9 -0.3 3 -0.5 1 -1.6 2 -7 4.9 -2 0.9 -2 0.3 -3-0.7 -2.8-2.5 -4.7-6.9 -0.8-2.9 0.6-3 1.3-2 3.4-2.7zM394.2 275.5l-0.8 0.6 -0.6 1 0.3 1.9 1.1 1.1 2 0 1.3-1.1 0.3-1 -0.1-0.9 -0.5-1.1 -1-0.6 -1-0.2z"/>
<path fill="#00eaff" d="M393.8 266.2l1.4-0.5 2 0 2 0.7 2 1.5 5.1 7.2 0.8 2 0.3 1.9 -0.9 3 -2.3 2.5 -6 4.2 -2 0.9 -2 0.2 -2-0.3 -1-0.5 -2.4-2.1 -4.2-5.9 -1-2 -0.4-1.9 0.6-3 1.4-2 6-4.5zM395.2 274.9l-1 0.2 -1.2 1 -0.4 1 -0.1 0.9 0.3 1 0.9 1 1.5 0.6 2-0.8 1-1.8 -0.2-0.9 -0.8-1.4 -1-0.7z"/>
<path fill="#15ffea" d="M394.6 266.2l1.6-0.3 2 0.3 1 0.4 1.9 1.6 5 6.9 0.8 2 0.2 1.9 -0.4 2 -0.5 1 -2 2.2 -6 4.2 -2 0.9 -2 0.3 -3-0.9 -2.1-1.8 -4.2-5.9 -1-2 -0.4-1.9 0.6-3 1.4-2 5.7-4.2zM394.2 274.9l-1.4 1.2 -0.5 1 -0.1 0.9 1.1 2 1.9 0.8 1-0.2 1.1-0.6 0.8-1 0.2-1.9 -1.5-2 -1.6-0.4z"/>
<path fill="#40ffbf" d="M395.9 266.2l1.3 0 2 0.7 2.5 2.3 4.1 5.9 0.9 2 0.2 1.9 -1 3 -1.8 2 -5.9 4.2 -2 0.9 -2 0.3 -3-0.9 -2.6-2.6 -4.1-5.9 -0.7-2 -0.1-1.9 0.6-2 1.9-2.4 6-4.2 2-1zM394.2 274.7l-1 0.6 -1 1.4 0 2 0.8 1.3 1.2 0.9 2 0 1.4-0.9 0.7-1 0.2-1.9 -1.3-2 -1-0.5z"/>
<path fill="#6aff95" d="M393.1 267.2l2.1-0.8 2 0 1 0.3 2 1.1 1.3 1.4 4.1 5.9 1.1 2.9 -0.5 3 -2 2.7 -7 4.8 -3 0.7 -3-0.9 -2-1.9 -4.4-6.4 -0.9-2.9 0.6-3 1.6-2zM393.2 275.1l-0.9 1 -0.4 1 0.2 1.9 0.7 1 1.4 1.1 1 0.1 1.2-0.2 1.4-1 0.7-1 0.3-1 -0.5-1.9 -0.9-1 -1.2-0.7 -1-0.1z"/>
<path fill="#95ff6a" d="M393.6 267.2l1.6-0.6 2 0 2 0.8 1 0.7 1.8 2 3.4 5 0.9 2 0.2 1.9 -1 3 -1.9 2 -6.4 4.3 -3 0.6 -2-0.4 -1-0.5 -2-1.8 -4.2-6.2 -0.9-2.9 0.7-3 1.4-1.8 5-3.7zM395.2 274.1l-2 0.8 -1 1 -0.5 1.2 0 0.9 0.5 1.5 1 1.2 1 0.6 1 0.1 1.5-0.4 1.4-1 0.9-2 -0.6-1.9 -0.7-1 -1.5-0.9z"/>
<path fill="#bfff40" d="M394 267.2l1.2-0.4 2 0 2 0.8 1 0.7 1.6 1.8 3.4 5 0.9 2 0.2 1.9 -0.5 2 -0.6 1 -1.9 2 -6.1 4.1 -3 0.7 -2-0.5 -1-0.5 -1.9-1.9 -4.1-5.9 -0.9-2.9 0.3-2 1.6-2.6 5-3.7zM395.2 273.9l-2 0.8 -1 0.9 -0.7 1.5 0 0.9 0.7 1.8 1 1.1 2 0.7 1.9-0.6 1.1-0.9 1-2.1 -0.6-1.9 -0.7-1 -1.4-1z"/>
<path fill="#eaff15" d="M394.6 267.2l1.6-0.3 2 0.4 2.6 1.9 4.2 5.9 0.9 2 0.2 1.9 -0.9 2.7 -2 2.1 -6 4.1 -3 0.7 -2-0.5 -1-0.5 -1.7-1.7 -4.1-5.9 -0.9-2.9 0.2-2 1.5-2.3 6-4.5zM394.2 274l-1.7 1.1 -0.8 1 -0.4 1.9 0.9 2 1 1.1 1 0.5 2 0 2.3-1.6 0.7-1.4 0-1.5 -1-1.9 -1-0.9 -1-0.5z"/>
<path fill="#ffea00" d="M395.4 267.2l2.8 0.3 2.4 1.7 4.2 5.9 0.9 2 0.2 1.9 -0.7 2.4 -2 2.2 -6 4.1 -3 0.7 -1-0.1 -2-0.9 -2-2 -3.7-5.4 -0.7-2 -0.1-1.9 0.7-2 1.8-2.1 5-3.5zM394.2 273.8l-1.9 1.3 -0.8 1 -0.3 1.9 0.8 2 0.9 1 1.3 0.8 1 0.1 2-0.6 1.5-1.3 0.6-1 0-1.9 -1-2 -1.1-1 -1-0.4z"/>
<path fill="#ffbf00" d="M393 268.2l1.2-0.6 2-0.3 2 0.4 1 0.5 2 1.9 3.5 5 1 2.9 -0.1 2 -0.4 1 -1.5 2 -5.5 4 -3 1.2 -2-0.1 -1-0.3 -2-1.5 -4.5-6.3 -0.9-2.9 0.3-2 1.2-2 1.9-1.6zM394.2 273.7l-2 1.3 -0.9 1.1 -0.3 1.9 0.9 2 0.8 1 1.5 0.9 1 0.2 1-0.2 2-1.2 1.2-1.7 0.2-1 -0.5-1.9 -1.7-2 -1.2-0.6z"/>
<path fill="#ff9500" d="M393.4 268.2l2.8-0.8 2 0.4 1 0.6 1.8 1.7 3.5 5 1.1 2.9 -0.2 2 -0.4 1 -1.5 2 -5.3 3.8 -3 1.2 -2-0.1 -1-0.3 -2-1.5 -4.3-6.1 -0.9-2.9 0.3-2 1.2-2 1.7-1.5zM393.2 274l-2 2.1 -0.3 1 0.3 1.9 1 1.7 1 0.9 1 0.5 2-0.1 1.8-1 1-1 0.6-1 0-1.9 -1-2 -1.4-1.4 -2-0.4z"/>
<path fill="#ff6a00" d="M393.8 268.2l1.4-0.5 2 0 1.3 0.5 1.4 1 4.4 5.9 1.1 2.9 -0.1 2 -0.4 1 -1.6 2 -6.1 4.2 -3 0.7 -2-0.5 -2-1.5 -4.1-5.9 -0.9-2.9 0.3-2 1.2-2 1.5-1.3zM393.2 273.9l-2.2 2.2 -0.3 1 0.3 1.9 1.2 1.9 1 0.9 1 0.5 2-0.1 2-1.1 1-1.1 0.6-1 0-1.9 -1-2 -1.6-1.5 -2-0.5z"/>
<path fill="#ff4000" d="M394.1 268.2l1.1-0.3 2 0 2 0.9 1 0.8 4.5 6.5 0.6 2.9 -0.6 2 -1.7 2 -5.8 4 -3 0.7 -2-0.5 -2-1.6 -4-5.6 -0.9-2.9 0.4-2 1.2-2 5.3-3.9zM395.2 273l-2 0.7 -1 0.8 -1.4 1.6 -0.3 1 0.4 1.9 1.2 2 1.2 1 1.9 0.5 1.7-0.5 1.6-1 0.9-1 0.7-2 -0.5-1.9 -1.4-1.9 -1-0.8z"/>
<path fill="#ff1500" d="M394.7 268.2l2.5-0.2 2 1 1 0.9 4.3 6.2 0.6 2.9 -0.6 2 -1.7 2 -5.6 3.8 -3 0.7 -2-0.5 -2-1.6 -3.8-5.4 -0.9-2.9 0.3-2 1.4-2 5-3.7zM394.2 273.1l-2.9 2 -0.6 1 -0.3 1.9 0.8 1.9 1 1.4 1 0.8 2 0.6 2-0.7 1.5-1 0.9-1 0.6-2 -0.5-1.9 -1.5-2.1 -2-1.1z"/>
<path fill="#ea0000" d="M395.4 268.2l1.4 0 1.4 0.4 2.1 1.5 4 6 0.6 2.9 -0.6 2 -1.7 2 -5.4 3.6 -1 0.5 -2 0.3 -2-0.6 -2-1.6 -3.6-5.2 -0.9-2.9 0.3-2 1.4-2 5.4-3.9zM394.2 272.9l-3 2.2 -0.7 1 -0.2 1.9 0.7 2 1.2 1.5 1 0.8 2 0.5 2-0.6 1.7-1.2 0.9-1 0.7-2 -0.7-1.9 -1.6-2.3 -2-1.1z"/>
<path fill="#bf0000" d="M393.1 269.2l3.1-0.8 2.7 0.8 1.3 1.2 3.4 4.7 0.9 2 0.2 0.9 -0.2 2 -1.3 2.2 -5.1 3.7 -2.9 1.3 -2.3-0.3 -1.7-0.9 -1-1.1 -3.4-4.9 -1-2.9 0.4-2 1-1.6zM394.2 272.7l-2 1.1 -1.3 1.3 -0.9 2 0 0.9 0.8 2 1.4 1.7 1 0.8 2 0.5 2-0.5 1.9-1.5 1.4-2 0.2-1 -0.2-0.9 -1-2 -1.3-1.5 -1-0.8 -1-0.3z"/>
<path fill="#950000" d="M393.5 269.2l2.7-0.5 2.4 0.5 1.6 1.5 3 4.1 1 1.8 0.3 1.4 -0.1 2 -1.2 2 -5.5 3.9 -2.5 1.1 -1.7-0.1 -1.3-0.6 -2-1.7 -3.2-4.6 -1-2.9 0.2-1.4 0.8-1.6 0.8-1zM394.2 272.4l-2 1.1 -1.6 1.6 -0.9 2 0 0.9 0.9 2 1.6 1.9 2 1.3 1 0.2 2-0.7 2.1-1.7 1.5-2 0-1.9 -1-2 -2.6-2.6z"/>
<rect x="439.4" y="24.2" width="69" height="68.5" fill="#000095"/>
<path fill="#0000bf" d="M471.2 30.2l4.2-0.1 3 0.6 3 1.1 2.2 1.3 11.8 12.4 3 2.4 1 1.2 2 4.3 0.7 4.6 -0.1 2.9 -0.6 3 -1 2.6 -2 2.9 -3 2.6 -4.3 4.8 -8.3 8 -4.4 1.8 -4 0.6 -4-0.2 -4.3-1.2 -3.2-2 -6.5-6 -9-9.8 -1.8-4.1 -0.7-4 0.1-2.9 0.4-3 1-2.8 2-3.2 7-7.4 8-7.5 3.6-2z"/>
<path fill="#0000ea" d="M462.5 39.1l1.9-0.4 2 0.1 1 0.3 2 1.3 2 0.4 6 0.1 3-1.2 3 0 2 0.7 2 1.2 1.7 1.5 1.6 1.9 1 2 0.5 2 -0.2 2 -1 3 0.2 4 -0.1 4.9 1.3 3 0.1 3 -0.6 2 -1.5 2.5 -2 2.2 -2 1.4 -3 1.3 -2 0.3 -2-0.4 -3-1.5 -5 0 -1 0.2 -3 1.9 -3 0.2 -3-0.8 -2-1.1 -2-1.6 -2.3-2.7 -1.6-2.9 -0.6-3 0.4-3 1.9-3 0.3-2 -0.3-2.9 -1.8-2.8 -0.3-1.2 0.1-3 1.2-3 2.1-2.9 2.9-2.5z"/>
<path fill="#0015ff" d="M460.4 42.1l2-0.5 1.1 0.5 0 1 -1.3 1.9 -2.8 3.1 -2 1.6 -1 0.2 -0.7-0.9 0-1 0.6-2 2.1-2.5zM470.9 43.1l2.5-0.5 2 0.2 2 0.7 2 1.4 8 8.1 1.3 2 0.8 3 -0.1 1.9 -0.5 2 -1.9 3 -7.6 7.6 -3 1.7 -2 0.4 -2 0 -2-0.4 -3-1.8 -7.6-7.5 -1.8-3 -0.5-2 0.3-3.9 1.6-3 7.9-8 2.1-1.4zM456.2 66.9l1.2 0.2 1 0.7 4.2 4.1 2.1 2.9 0.1 1 -0.4 0.5 -1 0.4 -2-0.4 -2-1.1 -2-1.8 -1.1-1.5 -0.9-2 -0.1-2z"/>
<path fill="#0040ff" d="M470.9 44.1l1.5-0.5 2 0 2 0.6 2 1.1 8.6 8.7 1.1 2 0.4 2 0 1.9 -0.7 2 -2.1 3 -7.3 7.1 -2 1.2 -2 0.5 -2 0 -2-0.6 -3-2.1 -7-7.1 -1.3-2 -0.6-2 0.1-2.9 1.3-3 7.5-7.7 2-1.5zM473.4 56.9l-1 0.4 -0.4 0.7 -0.1 0.9 0.5 1.2 2 0 0.8-1.2 -0.1-0.9 -0.7-0.9z"/>
<path fill="#006aff" d="M470.3 45l1.1-0.5 2-0.3 2 0.3 2 0.9 2 1.6 6.8 7 1.2 2 0.5 2 -0.4 2.9 -1.8 3 -7.3 7.3 -2 1.3 -2 0.5 -3-0.3 -3-1.7 -7.1-7.1 -1.4-2 -0.7-2 0.1-2.9 1.5-3 6.8-7zM473.4 55.8l-1 0.2 -1 0.7 -0.6 1.3 -0.1 0.9 0.7 1.7 1 0.6 1 0.2 2-0.6 0.9-1.9 -0.1-0.9 -0.8-1.5 -1-0.6z"/>
<path fill="#0095ff" d="M471.7 45l1.7-0.3 2 0.4 3 1.7 7.2 7.2 1.2 2 0.5 2 -0.3 2.9 -1.9 3 -6.7 6.6 -2 1.3 -2 0.7 -3-0.3 -3-1.8 -7.3-7.5 -1.1-2 -0.4-2 0.6-2.9 1.2-2 7-7 2-1.5zM471.4 55.9l-0.9 1.1 -0.3 1 0.1 1.9 0.7 1 1.4 1 1 0.1 1 0 1-0.6 1.2-1.5 0.2-1.9 -0.4-1.2 -1-1 -1-0.4 -1-0.1z"/>
<path fill="#00bfff" d="M470.4 46l2-0.7 2 0 3 1.2 7.6 7.5 1.3 2 0.6 2 -0.4 2.9 -2 3 -6.1 6.1 -2 1.4 -2 0.6 -3-0.3 -2.9-1.8 -6.9-7 -1.4-3 -0.1-1.9 1.1-3 7.2-7.5zM472.4 55l-1.6 1 -0.7 1 -0.4 1.9 0.2 1 0.5 1 1.1 1 1.9 0.5 1-0.1 1-0.3 1.2-1.1 0.7-2 0-0.9 -0.9-1.8 -1-0.8 -1-0.5z"/>
<path fill="#00eaff" d="M471.3 46l1.1-0.3 2 0 3 1.3 7.1 7 1.4 2 0.6 2 -0.4 2.9 -1.2 2 -7 7 -1.5 1 -2 0.7 -3-0.3 -3-2 -6.3-6.4 -1.2-2 -0.4-2 0.6-2.9 1.3-1.9 6-6.1zM472.4 54.7l-2.1 1.3 -0.9 2 0 1.3 0.7 1.6 1.3 1.3 2 0.6 1-0.1 1.6-0.8 0.9-1 0.6-1 0.1-1.9 -1-2 -1.2-1 -1-0.4z"/>
<path fill="#15ffea" d="M472.9 46l2.5 0.3 3 2 6.5 6.7 1 2 0.3 1.9 -0.5 2 -1.3 2 -6 6.1 -2 1.5 -3 0.8 -3-0.9 -1.9-1.5 -6.1-6.2 -1.1-1.8 -0.5-2 0.7-2.9 1.4-2 6.5-6.4 2-1.2zM471.4 54.8l-1 0.7 -1 1.5 -0.4 1.9 0.4 1.4 1.2 1.6 1.8 1.1 2 0 1-0.4 1.1-0.7 1.2-2 0.2-1 -0.3-1.9 -1.2-1.6 -2-1.1 -1-0.1z"/>
<path fill="#40ffbf" d="M470.8 47l1.6-0.6 2 0 3 1.4 7 7.1 0.7 1.1 0.7 2 -0.5 2.9 -1.3 2 -6.6 6.6 -3 1.4 -3-0.3 -2-1.3 -6.4-6.4 -1.3-2 -0.5-2 0.3-1.9 1-2 6.9-7zM473.4 53.9l-1 0.1 -2 1.2 -1.3 1.8 -0.3 1.9 0.6 2 1 1.2 1.1 0.8 1.9 0.5 2-0.4 1-0.7 1.2-1.4 0.6-2 -0.3-1.9 -1.5-2 -2-1z"/>
<path fill="#6aff95" d="M471.6 47l2.8-0.3 2 0.8 1 0.7 6.7 6.8 0.7 1 0.6 2 -0.4 2.9 -1.4 2 -6.2 6.2 -1.2 0.8 -1.8 0.7 -3-0.4 -2-1.3 -6.8-7 -0.6-1 -0.5-2 0.3-1.9 1.1-2 6.5-6.6zM472.4 53.8l-2 1.1 -1 1.1 -0.9 2 0 0.9 0.6 2 1.3 1.5 2 1.1 2 0.1 1.5-0.7 1.5-1.3 0.9-1.7 0.2-1.9 -0.9-2 -1.2-1.3 -2-1z"/>
<path fill="#95ff6a" d="M473.1 47l2.3 0.4 2.4 1.6 5.9 6 1.2 2 0.3 1.9 -0.6 2 -0.6 1 -6.6 6.8 -2 1.2 -2 0.4 -2-0.4 -2-1.4 -6.4-6.6 -0.6-1 -0.6-2 0.3-1.9 1.3-2.2 6-6 2-1.4zM471.4 53.9l-1.4 1.1 -1.4 2 -0.3 1 0.1 1.9 1.2 2 1.8 1.5 2 0.5 2-0.4 2-1.5 1-1.6 0.4-1.5 -0.4-1.9 -1.4-2 -1.6-1.2 -2-0.4z"/>
<path fill="#bfff40" d="M471 48l2.4-0.7 2 0.4 1 0.5 6.9 6.8 1.1 1.7 0.4 1.3 -0.1 1.9 -1.3 2.3 -6 6.1 -1 0.8 -2 0.8 -2 0 -1-0.4 -2-1.4 -6-6.2 -1-1.8 -0.2-1.2 0.3-1.9 1.2-2 5.7-5.8zM471.4 53.6l-1.8 1.4 -1.3 2 -0.3 1 0.2 1.9 1.1 2 1.1 1.1 2 1 2 0.1 2-0.9 2-2.3 0.6-2 -0.3-1.9 -1.3-2 -2-1.4 -2-0.5z"/>
<path fill="#eaff15" d="M471.7 48l2.7-0.3 2 0.9 6.5 6.4 0.8 1 0.8 2 -0.2 1.9 -1 2 -3.3 3 -2.6 3 -1.3 1 -1.7 0.7 -2-0.1 -1.5-0.6 -1.3-1 -5.8-6 -0.7-1 -0.6-2 0.3-1.9 1.3-2 6-6zM473.4 52.9l-2 0.5 -2.1 1.6 -1.3 2 -0.3 1.9 0.6 2 1.1 1.5 2 1.5 2 0.5 2-0.4 2-1.4 1.3-1.7 0.6-2 -0.3-1.9 -1.3-2 -2.3-1.7z"/>
<path fill="#ffea00" d="M473 48l2.4 0.4 2 1.5 2 2.3 3.9 3.8 0.5 1 0.4 1.9 -0.6 2 -0.8 1 -3.2 3 -2.7 3 -1.5 1 -2 0.4 -1.8-0.4 -1.5-1 -2.7-3 -3.2-3 -0.8-1 -0.6-2 0.4-1.9 1.2-1.9 3-2.6 3-3.3zM472.4 52.7l-2 1 -1.4 1.3 -1.2 2 -0.3 1.9 0.5 2 2.4 2.7 2 1 2 0 2-0.9 1.9-1.8 1-2 0.2-1.9 -0.8-2 -2.3-2.4 -2-0.9z"/>
<path fill="#ffbf00" d="M471.2 49l2.2-0.7 2.4 0.7 1.2 1 2.6 3 2.8 2.4 1 1.4 0.4 1.2 -0.2 1.9 -1.2 2 -3 2.6 -3 3.4 -2 1 -2-0.1 -2-1.1 -3-3.4 -3-2.6 -1-1.7 -0.2-1.1 0.3-1.9 0.9-1.4 3-2.6zM471.4 52.8l-2 1.4 -1.4 1.8 -0.8 2 0.2 1.9 0.3 1 1.5 2 2.2 1.6 2 0.5 2-0.4 2.4-1.7 1.4-2 0.6-2 -0.3-1.9 -1.2-2 -2.9-2.3 -2-0.4z"/>
<path fill="#ff9500" d="M472 49l2.4-0.2 2 1.1 2.5 3.1 3.5 2.9 1 2.1 -0.2 1.9 -0.8 1.4 -3.1 2.6 -2.9 3.4 -1 0.8 -2 0.5 -2-0.6 -1-0.8 -2.7-3.3 -3.3-2.8 -0.8-2.2 0.4-1.9 0.6-1 3.5-3 2.4-3zM471.4 52.5l-2.3 1.5 -1.5 2 -0.7 2 0.1 1.9 1.4 2.6 2 1.8 2 0.9 2 0 2-0.8 2.7-2.5 0.9-2 0.1-1.9 -1.3-3 -1.4-1.5 -3-1.4z"/>
<path fill="#ff6a00" d="M471.2 50l1.2-0.6 2-0.1 1.4 0.7 1.6 2 -1 0.3 -3-0.7 -3 0.8 -0.7-0.4zM466.5 55l0.9-0.3 0.2 0.3 -0.9 2 -0.2 1.9 0.4 2 0.6 1 -0.1 0.6 -2-1 -1-1.3 -0.3-1.3 0.3-1.9 1-1.2zM479.3 55l0.1-0.3 1 0.2 1 0.7 1 1.1 0.5 1.3 0 0.9 -0.5 1.7 -2 1.7 -0.8-0.4 0.9-3 -0.3-1.9zM469.5 64.9l0.9-0.1 3 0.9 2-0.3 1-0.6 1.1 0.1 -1.2 2 -1.5 1 -1.4 0.2 -1.2-0.2 -1.4-1z"/>
<path fill="#ff4000" d="M472.3 50l2.1-0.1 1.3 1.1 -4.3 0.1zM465.3 57l0.6 0 0 2.9 -0.5 0.6 -0.7-1.6zM481.1 57l0.3-0.4 0.3 0.4 0.7 1.9 -1 1.8 -0.4-0.8zM471.3 65.9l2.1 0.4 2.1-0.4 -0.2 1 -1.9 0.5 -1.6-0.5z"/>
<rect x="439.4" y="243.5" width="69" height="68.1" fill="#000095"/>
<path fill="#0000bf" d="M470.1 249.4l3.3-0.3 4 0.4 3 0.9 3.3 2 11.7 12.2 3 2.4 1 1.2 2 4.3 0.6 3.6 0.1 2.9 -0.7 4 -1 2.6 -2 2.9 -3 2.6 -4.2 4.7 -8.2 7.9 -4.3 2 -3.3 0.6 -3 0 -4-0.6 -2.7-1 -3-2 -7.4-6.9 -6.9-7.4 -2.1-3.4 -1.3-5 -0.1-2.9 0.5-3.9 1-2.9 2-3.2 7-7.4 7.8-7.3 3.4-2z"/>
<path fill="#0000ea" d="M462.2 258.3l2.2-0.5 2 0.1 1.1 0.4 0.9 0.7 1 1.5 1 0.6 1 0.1 6-0.2 1-0.6 1-1.1 1-0.5 3 0 2 0.6 2 1.3 1.8 1.6 1.5 1.9 1.3 3 0.2 2 -0.7 1.9 -1.1 1 -0.5 1 0.2 8.9 0.3 0.7 2 2.3 0.1 2.9 -0.6 2 -1.5 2.6 -2 2.2 -2 1.4 -3 1.3 -3 0.2 -1.8-0.8 -1.2-1.6 -1-0.6 -5 0 -1 0.4 -1.3 1.8 -1.4 1 -1.3 0.3 -2 0 -3-0.8 -2-1.1 -2-1.6 -2.4-2.7 -1.8-4 -0.3-2.9 0.5-2 0.7-1 2.3-1.8 0.3-3.1 -0.4-2 -1.9-1.4 -1-1.4 -0.4-2.2 0.2-1.9 1.1-3 2.1-2.9 3-2.6z"/>
<path fill="#0015ff" d="M460.2 261.3l2.2-0.6 1.1 0.6 -0.1 1 -1.3 1.9 -2.7 3 -2 1.5 -1 0.3 -0.7-0.8 0-1 0.6-2 1.4-2zM469.6 264.2l1.8-0.7 3-0.2 2 0.3 2 0.9 3 2.4 3.9 4.2 1.4 2 1.2 3 0.2 1.9 -0.3 2 -0.7 2 -1.7 2.5 -3 3.1 -3 2.5 -2 1.3 -3 0.9 -2 0 -3-0.8 -3-2 -3.5-3.6 -2.3-2.9 -1-2 -0.6-2 0-2.9 0.6-2 1.1-2 4.7-4.9 2-1.7zM455.3 286.9l1.1-1 1 0.4 2 1.5 4.7 5 0.7 2 -0.4 0.6 -1 0.4 -2-0.4 -3-1.9 -1.5-1.6 -1.2-2 -0.5-2z"/>
<path fill="#0040ff" d="M472.8 264.2l1.6 0 2 0.4 2 1 2 1.7 5.1 5.8 1.4 3 0.2 1.9 -0.2 2 -0.9 2 -2.6 3.2 -4 3.7 -2 1.4 -2 0.8 -2 0.3 -2-0.2 -2-0.8 -3.1-2.5 -4.5-4.9 -1.2-2 -0.7-3 0.1-1.9 0.7-2 2-3 5.7-5.1 2-1.2zM472.4 277l0 1.4 1 0.6 1-0.3 0.3-0.7 -0.3-1.2 -1-0.2z"/>
<path fill="#006aff" d="M471.3 265.2l3.1-0.4 2 0.5 2 1.1 2.9 2.8 3.5 3.9 1.1 2 0.5 2 0 1.9 -0.6 2 -2.1 3 -5.3 4.8 -2 1.3 -2 0.6 -2 0 -2-0.6 -3-2 -5.5-6.1 -1-2 -0.4-2 0.4-2.9 1.8-3 5.7-5.3zM472.4 275.6l-1 0.9 0 2.5 1 0.9 2 0.1 1.2-1 0.1-1.9 -0.3-1 -1-0.5z"/>
<path fill="#0095ff" d="M470.2 266.2l1.2-0.6 2-0.3 2 0.2 2 0.8 2.3 1.9 4.5 4.9 1.2 2 0.6 2 -0.3 2.9 -1.7 3 -5.6 5.2 -2 1.3 -2 0.7 -3-0.2 -3-1.7 -5.1-5.3 -1.4-2 -0.7-2 0-2.9 1.4-3 4.8-4.8zM472.4 275l-1 0.5 -0.7 1.6 0.1 1.9 0.6 1 2 0.6 2-0.4 1-2 0-1.1 -0.4-1 -0.6-0.7 -1-0.5z"/>
<path fill="#00bfff" d="M471.2 266.2l1.2-0.4 2-0.1 2 0.6 2 1.2 5.3 5.6 1.2 2 0.6 2 -0.3 2.9 -1.8 3 -6 5.5 -3 1.2 -3-0.2 -3-1.7 -5.4-5.8 -1.1-2 -0.4-2 0.4-2.9 1.2-2 5.3-5.1zM471.4 275l-0.9 1.1 -0.3 1 0.1 1.9 0.6 1 1.8 1 1.7 0 1-0.4 0.7-0.6 0.5-1 0.2-1.9 -0.4-1.3 -1-0.9 -1-0.4 -2 0.1z"/>
<path fill="#00eaff" d="M472.4 266.2l3 0.1 3.2 1.9 5.3 5.9 1 2 0.3 1.9 -0.8 3 -2 2.5 -5 4.5 -2 1.1 -2 0.4 -3-0.8 -2.4-1.8 -4.6-5 -1.1-1.9 -0.5-2 0.2-1.9 1.6-3 5.8-5.5zM473.4 274.1l-1 0.1 -1.6 0.9 -0.7 1 -0.2 1.9 0.5 2 1 0.9 1 0.4 2 0 1.1-0.3 1.1-1 0.4-1 0.1-1.9 -0.8-2 -0.9-0.6z"/>
<path fill="#15ffea" d="M470.7 267.2l1.7-0.7 2-0.1 3 1.3 6 6.2 1.4 3.2 0 1.9 -1.5 3 -5.9 5.6 -3 1.4 -3-0.2 -2.9-1.9 -5.1-5.6 -0.7-1.3 -0.5-2 0.5-2.9 1.3-2 4.4-4.2zM472.4 273.9l-2 1.1 -0.6 1.1 -0.3 1.9 0.6 2 0.9 1 1.4 0.6 2 0 1-0.2 1-0.7 0.9-1.7 0.1-1.9 -0.2-1 -0.8-1.3 -1-0.7z"/>
<path fill="#40ffbf" d="M471.5 267.2l2.9-0.4 3 1.3 5.7 6 1.4 3 -0.4 2.9 -1.2 2 -5.5 5.2 -3 1.5 -3-0.2 -2.4-1.6 -5.4-5.9 -1.1-3 0.5-2.9 1.4-2 5-4.6zM471.4 273.9l-1 0.7 -0.9 1.5 -0.2 1.9 0.5 2 0.7 1 1.9 0.9 2 0 2-0.8 0.8-1.1 0.5-2 -0.2-1.9 -0.5-1 -1.1-1 -1.5-0.5z"/>
<path fill="#6aff95" d="M472.4 267.2l2-0.1 1 0.2 2.8 1.9 5.2 5.8 0.5 1.1 0.3 1.9 -0.8 2.8 -1.9 2.2 -5.1 4.5 -3 1 -2.4-0.6 -2.6-2 -4.4-4.9 -1.2-3 0.2-1.9 1.4-2.5 5-4.7zM471.4 273.6l-1 0.6 -1.2 1.9 -0.2 1.9 0.4 2 1 1.3 2 0.9 2 0 2-0.8 1-1.1 0.5-1.3 0.1-1.9 -0.7-2 -0.9-1 -2-0.8z"/>
<path fill="#95ff6a" d="M470.9 268.2l2.5-0.9 2 0.3 1.1 0.6 5.9 5.9 1.4 3 0 1.9 -1.4 2.7 -5.6 5.2 -2.4 1.2 -2 0 -1-0.3 -2-1.3 -5.1-5.5 -1.2-3 0.2-1.9 1.1-2zM472.4 273.1l-2 0.8 -1 1.2 -0.6 2 0.4 2.9 0.6 1 1.6 1.1 2 0.4 2-0.3 1.8-1.2 0.6-1 0.4-2 -0.2-1.9 -0.6-1.4 -1-0.9 -2-0.7z"/>
<path fill="#bfff40" d="M471.4 268.2l2-0.6 1 0.1 2 0.8 6 6.1 1.1 2.5 0 1.9 -0.4 1 -1.4 2 -5.3 4.8 -1 0.6 -2 0.5 -2-0.4 -2.1-1.6 -4.9-5.3 -1-2.6 0.2-1.9 1.2-2 5.2-4.9zM471.4 273.1l-1.6 1 -1.1 2 -0.1 2.9 0.8 2 1.2 1 1.8 0.7 2 0 2-0.6 1.2-1.1 0.8-2 0.1-1.9 -0.6-2 -0.7-1 -1.8-1.1 -2-0.3z"/>
<path fill="#eaff15" d="M472.2 268.2l2.2-0.2 2.4 1.2 5.6 5.9 0.8 2 0.1 0.9 -0.5 2 -1.4 1.8 -5 4.6 -1 0.7 -2 0.5 -2-0.5 -1.7-1.2 -4.6-4.9 -0.7-1 -0.7-2 0.2-1.9 1.3-2 5.3-4.9zM471.4 272.8l-2 1.3 -0.9 2 -0.2 2.9 0.8 2 1.3 1.2 2 0.7 2 0.1 2-0.6 1.5-1.4 0.7-2 0.1-1.9 -0.5-2 -0.8-1.2 -2-1.1 -2-0.3z"/>
<path fill="#ffea00" d="M471 269.2l2.4-0.9 1 0 1.9 0.9 3.1 3.5 2.5 2.4 1 2 -0.1 1.9 -1.1 2 -3.3 2.8 -1.9 2.1 -2.1 1.2 -2 0 -2.2-1.2 -2.4-2.9 -2.4-2.2 -1-1.5 -0.4-1.3 0.3-1.9 0.5-1zM470.4 272.8l-1.4 1.3 -0.8 2 -0.2 2.9 0.7 2 1.7 1.6 2 0.6 3-0.1 2-1 1.3-2.1 0.3-2 -0.1-1.9 -0.8-2 -1.7-1.3 -2-0.5 -2 0z"/>
<path fill="#ffbf00" d="M471.7 269.2l1.7-0.6 2.3 0.6 1.2 0.9 1.8 3 2.8 2 1.1 2 -0.1 1.9 -1.1 1.8 -1 0.8 -2 1.1 -0.2-0.7 0.8-2 0.3-2.9 -0.6-3 -0.6-1 -1.7-0.7 -3-0.5 -4 0.8 -0.3-0.6 0.6-1zM468.1 273.1l0.3-0.2 0.5 0.2 -0.8 2 -0.4 2 0.2 2.9 0.7 2 -0.2 0.5 -3-2.2 -1-2.3 0-1.1 0.8-1.8 1.2-1.1zM468.7 283l0.7-0.4 2 0.7 2 0.3 2-0.2 2-0.6 0.7 0.2 -2.2 2.9 -2.5 1 -1-0.1 -1.7-0.9 -0.9-0.9z"/>
<path fill="#ff9500" d="M472.6 269.2l2.2 0 1.5 0.9 0.6 1 -0.5 0.8 -5-0.3 -0.9-0.5 0.6-1zM465.9 275.1l1.5-0.8 0.2 0.8 -0.2 5.6 -1-0.2 -1-0.9 -0.6-1.6 0.3-1.9zM479.5 275.1l0.9-0.2 1 0.8 0.7 1.4 0.2 0.9 -0.9 2.2 -1 0.8 -1 0.2zM470 284l0.4-0.3 6.2 0.3 -0.4 1 -1 0.9 -1.8 0.6 -2-0.6 -1-0.9z"/>
<path fill="#ff6a00" d="M472 270.1l1.4-0.6 1 0.1 1.1 0.5 0.3 1 -4 0zM465.8 276.1l0.6-0.7 0.5 0.7 -0.1 2.9 -0.4 0.6 -1.1-1.6 0-0.9zM480.2 276.1l0.2-0.3 1 0.8 0.3 1.4 -0.3 1.3 -1 0.9 -0.3-1.2zM471.2 285l0.2-0.5 1-0.2 2 0.1 1 0.6 -1 0.8 -1 0.3 -1-0.2z"/>
<rect x="126.4" y="110.3" width="69" height="67.9" fill="#80ff80"/><path fill="#000099" d="M154 110.3l5.4 0 -0.3 3 -1.5 4.9 -0.2 3.9 -1 1.6 -3 2.1 -5.3 5.2 -2.7 3.9 -2.5 3 -0.5 1.9 0.8 2 6 6.9 1.2 1.9 2 1.8 2 0.8 3 0.6 2-0.2 2-0.7 1.3-1.3 1-2.9 -0.7-2 -1.6-1.3 0-0.8 3.1 0.1 2.9 2 1 2 0 1 -0.9 1.9 -5.1 4.9 -3 0.9 -5.1-0.8 -3.9-2.3 -2.7-2.7 -3.9-4.9 -4.4-4.1 -1.4-2.8 0.4-2.9 1-1.4 3.8-3.6 10.6-11.8 0.6-2.9zM169.1 110.3l3.4 0 0.2 3 0.9 1.9 3.8 3.5 10 11 2 1.1 2 0.5 4 0.2 0 3.7 -4.5-0.3 -3.5-1.1 -12-10.5 -5-1.7 -2.1-1.5 -1.1-1.9 1.8-4.9zM192.6 157.5l2.8-0.7 0 10.1 -4 0.6 -1.9 1.8 -1.6 4 -0.6 4.9 -10.4 0 0.5-2 7.6-6.9 2.4-5zM126.4 172.3l2 0.1 3.5 1.9 1.5 1.7 0.3 2.2 -7.3 0z"/>
<path fill="#990000" d="M152.2 110.3l4.3 0 -0.1 3 -1.4 7.8 -1.5 2 -7.1 6.9 -3 3.9 -2.4 2 -1.1 2 -0.1 1.9 0.9 2 4.7 4.5 5 6.2 4 2.4 3 0.8 3-0.3 2-1 2.6-2.8 0.8-1.9 0-1 -1-2 -3.4-2.1 1.7-0.8 1.3-0.2 1 0.2 2 1.1 2.2 2.8 0.3 2 -0.5 1.6 -5.1 5.3 -1.3 0.9 -2.4 1 -4.2-0.1 -2.9-0.9 -3.7-1.9 -5.5-5 -2.4-3.9 -4.5-4.4 -1-2.5 0.7-2.9 1.3-2 4.5-3.9 9.6-10.9 0.8-2.9zM171.2 110.3l2.4 0 0.1 2 0.8 1.9 3.9 3.8 3.2 4.1 6.8 6.7 2 0.9 5 0.7 0 2.5 -6-0.5 -3-1.4 -9-10 -5-3.8 -1-2zM189.8 166.4l1.6-0.6 4-0.3 0 2.5 -3 0.4 -1 0.6 -1.2 1.3 -1.4 4 -0.3 3.9 -4 0 0.5-3 3.4-7.3z"/>
<path fill="#0000cc" d="M157.8 110.3l5.1 0 0.5 2.8 1 0.1 0.8-0.9 0.3-2 4.9 0 -0.2 5.9 0.4 2 5.8 3.3 8.8 9.5 2.2 1.6 3 1 5 0.2 0 5.5 -2.7-0.5 -5.3-2.8 -7-5.5 -4-1.6 -11-7.7 -2-0.8 -1 0 -1 0.5 -2.3 3.2 -4.7 3.3 -5.3 5.5 -3.3 5 -0.7 2.9 2.7 4.9 4.6 5.5 4 1.2 2 0 2-0.8 1.8-1.9 0-2 -0.8-1.5 0-0.8 2.4 1.3 0.6 1 0.3 1 -0.3 1.9 -2.4 3 -1.6 0.9 -2 0.3 -2.3-0.2 -2.7-1 -3-1.9 -4.6-6 -4-3.9 -0.6-1 -0.3-2 0.6-1.9 2.9-2.8 3-4.1 8.3-7.9 2-9.8zM192.4 154.6l3-0.7 0 10.6 -5 0.1 -2 1.4 -3 5.7 -3.6 4.5 -0.3 2 -7.3 0 0.2-2.4 9.3-8.4 1.2-2 2.5-5.8zM126.4 170.3l0-0.6 3 0.4 3.6 2.2 2.4 2.7 0.4 3.2 -4.7 0 -0.5-2 -1.2-1 -3-0.5z"/>
<path fill="#cc0000" d="M151.6 110.3l2.8 0 0.1 7.9 -1 2.9 -7.8 7.9 -2.3 3 -4.2 3.9 -0.9 2 -0.1 1.9 0.8 2 0.8 1 4.2 3.9 3.9 4.9 2.5 2.5 3 1.9 4 1.2 3-0.1 2-0.8 3.8-3.7 1.5-2 0.3-1.9 -1-2 -1.6-1.3 -3-1 -0.2-0.6 3.2-0.5 2 1 2 2.1 1.5 2.3 0.2 1 -3.1 3.9 -4.2 3.9 -2.4 1.2 -3 0.4 -3.7-0.6 -2.7-1 -3.3-1.9 -5.9-5 -1.8-3.9 -4.6-4.7 -0.7-2.2 0.3-1.9 1.1-2 5.2-4.9 9.7-10.9 0.8-2.9zM172.3 110.3l1.8 0 0.1 2 0.9 1.9 3.3 3.1 3.8 4.8 6.2 5.8 3 1.6 4 0.3 0 1.7 -6-0.5 -3-1.9 -2.4-3.1 -6.3-6.8 -4.3-3.8 -1-2.9zM191.3 167.4l4.1-0.5 0 1.7 -3 0.4 -1.6 1.3 -1 2 -0.7 2.9 -0.2 3 -1.8 0 0.1-3 1.2-4 1-2.1z"/>
<path fill="#0000ff" d="M161.4 110.3l5.6 0 -0.6 3.4 -3.5 3.5 0.2 1 0.8 1 5.5 4.1 4 2.2 3.4 2.5 4.6 2.5 6 4.9 5 2 3 0.4 0 5 -3-0.6 -12-9.9 -6.2-2.3 -7.8-6 -1-0.6 -2-0.3 -1 0.3 -7 4.8 -5.8 6.7 -1.9 3 -0.8 1.9 0.1 2 1.7 3.9 0.8 1 0 1 -0.2 0 -4.4-5.9 -0.5-1.1 0.2-1.9 4.6-6.9 4.9-4.9 3.3-2.2 1.7-1.7 1.3-4.8 1-2.1zM161.4 146.7l0-0.3 1 1.3 0 2.2 -1.2 1.7 -2.3 1 -2.5 0 -3-0.8 -2-1.1 -0.4-1 0.4-0.3 3 1.8 4 0.1 2.6-1.6zM193.3 151.6l2.1-0.1 0 3.2 -2 0.2 -1 0.5 -2.4 2.1 -3 4 -2.6 5.9 -5 4.9 -3.9 2.9 -0.7 1 -0.3 2 -1.1 0 0-2.4 1-1.8 4-3.3 4.2-4.3 1.4-2 2.4-6 5-5.5zM126.4 168.4l3 0 5 2.9 2 2.5 0.8 4.4 -1.8 0 -0.5-3 -1.5-1.8 -2-1.6 -2-1.1 -3-0.4z"/>
<path fill="#0033ff" d="M162.3 123.1l1.1-0.4 2.1 0.4 8.9 6.7 5.8 2.1 1.6 1 10.6 8.7 3 0.6 0 9.7 -2 0.2 -1 0.5 -5 4.9 -1.5 2 -2.5 6.1 -4.5 4.7 -4.5 3.8 0-1.5 6.3-6.2 2.3-3 2.4-5.9 3.3-3.9 1.7-4.4 1-1.5 -0.4-1 -0.6-0.3 -1-1.5 -1.5-4.1 -5.5-5.1 -3-2.1 -4.5-1.7 -3.8-1.9 -5.7-4.4 -2-0.4 -3 1.2 -4 2.7 -6.8 8.8 -1 2.9 0.3 3 0.8 1.9 -0.3 0.6 -1-1.2 -1.5-3.3 -0.1-2 0.6-1.9 2-3.2 6-6.7zM152 149.7l0.4-0.4 2 0.9 2 0.2 2-0.2 2-1.2 0.5 0.7 -0.8 0.9 -2.7 0.7 -4-0.6zM126.4 167.4l3.5 0 2.7 1 3 1.9 2.1 3 0.7 1.9 0.1 3 -1.4 0 -0.2-3 -1-1.9 -1.5-1.6 -4-2.7 -4-0.8zM173.4 174.3l0.8 0 -0.8 2.1z"/>
<path fill="#0066ff" d="M162.9 125.1l1.5-0.2 1 0.4 7 5.2 8 3.4 7.1 5.9 2.9 4.6 2 1 3 0.1 0 3.3 -3 0.2 -1 0.7 -3 4.6 -3.5 4.2 -2.5 6.2 -8.6 8.6 -0.4 1 0-1.8 1-1.6 5.4-5.5 2.3-2.9 2.3-5.4 2.7-4.5 0-2 -1.1-3.9 0-4.9 -2.2-3 -4.4-3.4 -11-5.4 -4-2.5 -2-0.2 -3 1.1 -3 2.1 -4.4 6.4 -1.1 1.9 -0.9 3 0.1 2 1.1 2.9 -0.8 0.3 -2-5.2 0-1.5 1-2.6 6.8-8.7zM151 147.7l0.4-0.9 1 1.3 2 1 2 0.3 3-0.9 1-1.3 0.1 1.5 -1.1 1.1 -3 0.4 -3.2-0.5 -1.5-1zM129.5 167.4l0.9-0.4 3 0.4 2 1 2 1.7 2 3.2 0.5 4.9 -1.5 0 -0.4-3.9 -1.8-3 -2.8-2.4z"/>
<path fill="#0099ff" d="M162.7 127l1.7 0.2 5 3.2 11 5.4 4.6 4 1.4 2.3 -0.1 4.6 1.2 3.9 -0.1 2.1 -2.6 3.9 -3.4 7.2 -7.2 7.5 -0.8 1.5 -0.9-0.5 0.6-2 7.9-8.8 3.9-7.9 0.3-2 -0.8-3.9 -0.2-4.9 -0.9-2 -1.9-2.1 -10-6.3 -7-3 -3-0.1 -3 1.1 -2.6 2.5 -0.4 1.4 -3.5 5.5 -0.4 2 0.3 2.9 1.6 2.4 3 1 3-0.8 0.7 0.4 -0.9 1 -1.8 0.5 -4.2-0.5 -1.8-1.6 -1-2.1 -0.4-3.2 0.4-2.4 6-8.9 2-1.6zM126.4 166.4l0-0.5 7 0.3 3 1.2 1.3 1 2.7 2.8 1 2 0.5 5 -2 0 -0.2-3 -1-2.9 -1.4-2 -1.9-1.7 -4-1.8z"/>
<path fill="#00ccff" d="M126.4 110.3l4 0 0 3 -1 2.4 -3 0.5zM162 129l2.4 0.3 6.1 2.6 8.6 5 3.7 2.9 1.6 2.8 0.2 5.1 0.8 3.3 0 1.7 -5 10 -7.7 8.6 -0.3 2.9 -1.1-1.9 0.1-2.4 1-1.5 3.3-3 4.1-4.9 3-5.9 0.6-3 -0.7-7.8 -0.7-2 -1.6-2 -6-3.9 -3-2.5 -2-1 -3-1.1 -4-0.7 -3 0.7 -2 1.1 -1.2 1.5 0.2-2 1.1-0.9zM154.2 135.9l0.3 0 -0.1 2 -1.6 2.9 0.4 3 1.2 1.7 1 0.7 2 0.3 2-0.4 0 1 -1 0.7 -2 0.3 -2.3-0.4 -1.7-1.4 -1-2.3 0-2.7 1-2.7zM126.4 164.4l0-0.5 3 0.1 2.9 0.4 3.1 1 5.8 3.9 2.3 2 0.5 1 0.5 2 0 3.9 -2.9 0 -0.3-3.9 -0.6-2 -1.4-2 -2.9-2.7 -4-1.7 -6-0.1z"/>
<path fill="#00ffff" d="M130.2 110.3l1.4 0 0.5 3.9 3.1 4 0 1 -1.1 0.9 -2.7 0.3 -5-0.9 0-3.8 2-0.2 1-0.7 0.6-1.5zM192.7 117.2l2.7-0.2 0 4.8 -2.6-0.7 -0.9-1zM160.2 131l4.2-0.2 6 2.1 5 3.6 4.1 2.3 2.1 2 1 2 1 7.8 -0.2 2.8 -2 4.8 -2 3.2 -7.4 7.9 -0.6 2 0.3 2 0.7 0.8 0 4.1 -0.4-3 -1.8-1.9 -1.3-3 1.1-1.9 4.4-3.8 2.7-3.1 3.7-5.9 1.1-5 -0.9-6.8 -0.9-2 -1.7-1.8 -9-6.6 -3-1.1 -3-0.5 -4 0.6 -2 1.2 -0.3-0.7 0.3-0.4zM154.3 137.9l0.1-0.4 0.1 1.3 -0.7 2 0.1 1 1 2 2.5 1.5 2-0.3 0.3 0.7 -0.3 0.3 -3 0.7 -2-0.8 -1-1.1 -0.5-3 0.3-2zM126.4 159.5l0-0.4 2.4 0.4 3.6 2.8 13.5 8 1 2 0 5.9 -2.8 0 -0.3-4.9 -0.9-2 -5.5-4.6 -4-1.9 -7-0.5z"/>
<path fill="#33ffcc" d="M131.7 110.3l1.1 0 0.4 3 0.5 0.9 3 3 0.5 2 -1.6 1.9 -2 1 -5.2 1.7 -2 0.2 0-5.2 2 0.1 4 1 2.2-0.7 0.1-1 -2.4-3zM192.2 116.2l3.2 0 0 1 -2 0.4 -0.4 0.6 -0.5 1.9 0.8 1 -1.4 0 -1-1.9 0.2-2zM193.4 122.1l0-0.8 2 0.3 0 0.5zM160.9 131.9l4.2 0 5.1 2 9.2 6.7 1 1.2 1 2.5 0.5 7.3 -0.5 2.9 -1 2.4 -4 5.7 -6.8 6.7 -0.1 2 0.3 1 1.7 2 0.9 3.9 -2.7 0 -0.2-2 -0.8-1.9 -3.6-4 0.4-1 3.9-2.3 4.3-3.6 4.3-5.9 1.9-4.9 0.2-2.9 -0.4-4 -1-2.9 -1.6-2 -6.7-5.5 -2-1.1 -2-0.9 -3-0.5 -4 0.6 -2 1.2 -0.1-0.7 1-1zM155.4 135.9l0.5 0 -0.5 2zM154.2 139.8l0.2-0.3 0.3 0.3 0.3 2 1.4 1.7 1 0.7 2.5 0.5 -2.5 0.4 -2-0.7 -1.2-1.6zM126.4 157.5l0-0.7 3.6 0.7 5.4 4.7 5 3.6 7.2 3.5 0.9 1 0.7 2 -0.2 5.9 -2.4 0 0.1-4.9 -0.5-2 -0.8-1 -10-6.2 -3.7-1.6 -3.3-2.3 -2-0.4z"/>
<path fill="#66ff99" d="M132.9 110.3l1.3 0 0.6 3 3.7 3.9 0.2 1 -0.3 1.9 -2.2 2 -5.4 3 -4.4 0.5 0-2.1 2-0.1 6-1.8 2-1.4 0.6-1 0-1 -0.5-1 -3.1-3.2zM190.3 117.2l0.5 0 -0.4 2.9zM161.2 132.9l3.8 0 4.8 2 7.7 5.9 0.9 1 1.3 2.9 0.7 6.1 -1 4.3 -1 2.1 -4 5.6 -3.9 3.6 -4.2 2.9 -0.4 1 3.5 4.7 0.6 3.2 -2.4 0 -0.5-3 -0.8-0.9 -1.9-1.6 -2.6-1.4 -0.5-1 0.5-1 1.3-0.9 5.3-2.3 2-1.4 2.4-2.2 2.3-3 1.9-3.9 0.9-3 -0.1-5.9 -1.2-3.9 -2.2-2.8 -2-1.2 -1-1.3 -3-2.1 -2-1 -2-0.4 -4 0.2 -2 1 -1.7 1.7 -0.7 1 -0.2 2.9 1.6 2.3 1.6 0.7 -0.6 0.2 -1.8-0.2 -1.2-1.2 -0.3-0.8 0.3-4.9 3-3zM126.4 155.6l0-0.4 3 0.4 3 1.9 9 7.4 5.5 2.5 3.1 1.9 1.5 2 0.3 1 -0.3 5.9 -2.7 0 0.1-5.9 -0.7-2 -1-1 -7.5-3.9 -5.7-3.9 -3.6-3.4 -2-1 -2-0.2z"/>
<path fill="#99ff66" d="M134.1 110.3l2.1 0 0.7 3 3.2 3.9 0.3 2 -1 1.5 -1.5 1.4 -5.9 3.9 -5.6 1 0-1.4 3-0.2 2-0.8 4-2 2.8-2.5 0.4-1.9 -0.4-1 -3.8-4.3zM184.4 110.3l4.6 0 -0.6 4.3 -2-0.3 -1-0.6zM161.4 133.9l3.4 0 2.7 1 3.2 2 4.7 3.9 2 2.9 0.3 1 0.7 4 -0.3 3.9 -1.7 4.9 -3 4.5 -3.7 3.4 -6 3 -1.3 0.9 -0.5 1 0.7 1 4.1 3 0.7 0.9 0.4 3 -2.2 0 -0.7-3 -1.5-1.1 -2-0.5 -2 0.2 -2 1.3 -0.7 1.1 -0.2 2 -5.4 0 0.2-5.9 -0.2-1 -1.4-2 -2.3-1.6 -7-3.3 -10-8.2 -2-0.7 -2-0.2 0-2 2 0.2 2 1.1 12 9.2 10 5.3 2 0.7 2 0 2-0.6 9-4.1 4.4-3.6 2.1-3 0.9-1.9 1.1-6 -0.7-6.8 -1.2-3 -1.6-1.5 -3-2.2 -2-1 -2-0.8 -2-0.2 -3 0.5 -2.8 2.3 -0.7 1.9 0.1 1 1.7 2 -0.3 0.4 -1.4-0.4 -0.8-1 -0.2-1 0.4-3.7 2.4-2.2z"/>
<path fill="#ccff33" d="M135.9 110.3l2.8 0 0.2 2 2.9 4.9 0.2 1 -0.5 1.9 -1.8 2 -6.2 4.9 -3.2 1 -3.9 0.1 0-1.2 3-0.1 3-1.1 5-3.2 2.4-2.4 0.4-0.9 -0.2-2 -3.6-4.2zM184.4 110.3l0.6 3 2.4 1 1-0.4 0.6-3.6 0.5 0 0 3.9 1 1 -1.1 2.5 -5-4zM162.9 134.9l4 1 3.5 1.8 0 0.6 -5-1.8 -3-0.1 -2 1 -1.4 1.4 -0.4 2 1.1 2 -1.1 0 -1.2-1 -0.3-1 0.3-3 2-1.9zM173.1 140.8l0.3-0.4 0.4 0.4 1.6 2.9 0.6 5 -0.3 4.9 -1.3 4.4 -2 3 -3.6 3.4 -1.5 1 -5.9 2.4 -4 2.3 -2 0.3 -3-1.1 -11-5.9 -12-9.3 -3-0.5 0-3 2 0.4 4 3.9 2 1.5 8 5.7 8 4.9 3 1.1 5-0.2 8-3.8 3.1-2.6 3.3-4 1.1-2.9 0.3-3 -0.1-7.8zM158.7 173.3l2.7-0.1 2.9 1.1 1.1 1.2 0.4 2.7 -10.5 0 0.6-3 0.8-0.9z"/>
<path fill="#ffff00" d="M138.3 110.3l2.7 0 0.6 3 1.9 3.9 0 2 -1 1.9 -6.2 5.9 -1.9 1.4 -2 0.8 -6 0.2 0-1.4 4-0.2 3-1 6-4.6 1.9-2.1 0.5-0.9 -0.1-2 -3.2-4.9zM185 115.2l0.4-0.3 3 1.8 0.3 0.5 -0.3 0.7 -3-1.7zM188.7 118.2l0.7-0.3 0 1.3zM160.8 136.9l3.6-0.5 4.5 1.5 -0.5 0.4 -4-0.9 -3 1.1 -1.4 2.3 0.4 0.7 0 1.5 -2-2.1 0-1.1 1-1.9zM169 138.8l0.4-0.4 1.2 0.4 -0.2 0.5zM172 140.8l0.4-0.2 1 1.2 0.6 3.9 -0.1 8.9 -0.5 2.1 -1 1.8 -3.6 4 -2.5 1.9 -6.6 3 -2.3 0.6 -3 0.2 -3-0.8 -2.1-1 -8.1-4.9 -8.1-5.9 -3.7-3.5 -2-0.9 -1-0.1 0-3.5 2 0.3 2 1.7 1.4 3 2.6 2.6 4.2 2.3 11.8 8.3 3 1.2 5-0.1 7-3.7 6.6-6.6 1.2-3 0.2-2 -0.2-7.8zM161 176.2l1.9 0 0.5 0.7 0.1 1.3 -3.2 0 0.1-1z"/>
<path fill="#ffcc00" d="M140.8 110.3l2.5 0 0.4 3 1.3 3.9 -0.6 3.3 -2 2.5 -7.1 7 -2.9 1 -6 0.1 0-1.7 6-0.5 3-1.4 7.6-7.4 0.3-2.9 -2-3.9zM190.4 110.3l0.3 0 0.5 3.9 -0.8 0.1zM184.2 115.2l0.2-0.3 2 2 2 1 1 1.1 0 1.2 -1-0.8 -1.2-0.2 -1.8-1.6 -1-1.2zM191.3 115.2l0.1-0.7 1.1 0.7zM162.2 137.9l2.2-0.3 2.2 0.3 -0.2 0.7 -2-0.2 -2 0.8 -2 2.9 -0.2-2.3zM166.5 138.8l0.9-0.4 2 0.4 -1 0.4zM169.2 139.8l0.2-0.9 3 2.6 0.2 4.2 -0.2 0 -0.3-2.9 -1.4-2zM126.4 145.7l0-0.4 2 0.2 2 1 1 1.2 1.4 3.9 1.6 2.2 2 1.4 3 1.4 12 8.4 2 0.9 4 0.1 3-1.2 6-4.1 5.9-6.1 0.1-1.1 0.3 0.1 -0.2 2 -1.1 1.9 -3.7 4 -4.1 2.9 -5.2 2.2 -3 0.4 -3-0.4 -2.7-1.2 -12.3-8.5 -4-2.3 -4-5.6 -1-0.7 -2-0.2z"/>
<path fill="#ff9900" d="M143 110.3l2.6 0 1.2 7.9 -0.4 1.5 -1 1.8 -7 7.9 -3.4 2.5 -3.6 0.9 -5 0 0-1.9 6-0.2 3-1.1 8.5-8.5 0.9-1.9 0.1-2 -1.5-3.9zM183.2 110.3l0.5 4.9 1.7 2.3 2 1.5 1 0.3 2 2.1 -3-0.3 -2-1.5 -2-2.3 -0.3-1.1zM191.2 110.3l1.3 0 0.7 3.9 2.2 0.5 0 0.5 -3.1 0 -1-1zM163 138.8l3.4-0.1 3.1 1.1 1.9 1.8 1 2.3 -1-0.1 -1.2-2 -1.8-1.5 -2-0.8 -2-0.1 -1 0.5 -2 2.4 0-2zM126.4 143.8l0-0.6 2 0.1 2.9 1.4 2.1 3 0.8 2.9 1.2 2.1 2 1.6 4.4 2.3 10.6 7.3 2 0.8 2 0.1 3-0.9 5-2.9 7-6.5 0.1 1.1 -5.8 5.9 -6.3 3.9 -4 0.6 -3-0.5 -14-9.4 -3.1-1.5 -2-2 -1.7-3.9 -1.2-1.8 -2-1.1 -2-0.1z"/>
<path fill="#ff6600" d="M145.3 110.3l2.7 0 1 7.9 -0.6 1.8 -1 1.5 -7 8 -4 3.5 -2 1.1 -2 0.6 -6 0 0-2.1 6-0.1 3-1 3.1-2.5 6.3-6.9 1.2-2 0.5-1.9zM180.2 110.3l3 0 0 5.9 2 3 2.2 1.6 2 0.3 1 0.8 1.5 0.2 1.5 1 2 0 0 2.2 -3-0.2 -2.9-1 -5.1-3 -2-2.5 -1-2.2 -1-3.8zM192.2 110.3l3.2 0 0 4.4 -2.6-0.5zM163.3 139.8l4.1 0 1.9 1 2.1 2.7 0 2 -2-2.7 -2-1.7 -2-0.5 -2 0.6 -1 1 -0.3-0.4 0.2-1zM126.4 140.8l3 0.1 3 2 3 3.8 1.8 4.9 1.2 1.3 4.7 2.7 5.3 3.5 6 3.2 3 0.3 5-1.7 3-2.1 6-5.4 0 1.2 -6.2 5.9 -4.7 2.9 -3.1 1.3 -2 0.1 -2.4-0.4 -10.6-7.3 -6.4-3.5 -1.6-1.8 -1.3-4.1 -1.7-2.5 -2-1.3 -3-0.4zM193.6 173.3l1.8-0.3 0 5.2 -3.4 0 0.4-3.6z"/>
<path fill="#ff3300" d="M147.7 110.3l2.7 0 0.2 3 1 3.9 -0.3 2 -1.9 2.6 -8 8.9 -6.6 6.2 -0.9 1.9 0.1 1 1.4 3 4 4.2 1.1 3.6 0.9 1.5 9 5.9 5 1.9 4 0.3 4-1.3 7-6.5 1-0.4 0.4 0.6 -0.6 1 -6.5 5.9 -3.4 2 -3.9 1.4 -2 0.1 -1.9-0.5 -6.6-4 -3.5-2.5 -4.6-2.4 -2.1-2 -1.8-4.9 -2.5-3.2 -3-2.1 -3-0.3 0-6.6 6-0.1 3-1 4.3-3.4 7.6-8.9 1.1-1.9 0.3-2zM175.3 110.3l5.6 0 0.7 5.9 1.4 3 2.4 2.4 2 1.2 6 1.7 2 0.1 0 4 -3-0.2 -2-0.6 -7-5.6 -4.6-6 -2.8-2.9 -0.6-1.5zM163.9 140.8l3 0 1.8 1 1.7 2 1.4 2.9 -0.4 0.3 -0.5-0.3 -2.5-2.8 -2-1.4 -2-0.3 -2 0.8 -0.3-0.2 0.3-0.6zM171.9 147.7l0.5-0.6 0 4.9 -0.7-0.4 0.4-1.9zM192.4 170.3l3-0.6 0 4.2 -2 0.6 -0.8 1.7 -0.2 2 -2.4 0 0.4-4.8 1-2.1z"/>
<path fill="#ff0000" d="M150.1 110.3l2.3 0 1 6.9 -0.8 2.9 -10.2 11.3 -4.7 4.5 -1 2 -0.1 1.9 1.3 3 4.1 3.9 2.7 3.9 4.7 4.5 3 1.9 5 1.5 4-0.3 2-1 5-4.7 1.5-2.8 -0.9-3 -2.6-2.4 -2-0.6 -3 0 1-0.1 2-1.4 1-0.1 2 0.6 1 0.9 3 3.1 0.5 3 -0.5 2.4 -7.4 6.4 -1.6 1 -3.7 1 -2.3 0 -5.5-2 -3.5-1.9 -3-2.4 -3.2-1.6 -1.4-2 -0.7-2.9 -4.7-5.7 -1.4-3.2 0.2-0.9 0.8-1 7.9-6.9 7.8-8.9 1.3-1.9 0.2-2 -1-3.9zM173.5 110.3l2.4 0 0.2 2 0.5 1 2.8 3 2.3 3.8 1.7 1.9 7 5.3 3 0.9 2 0.1 0 2 -4.6-0.3 -3.4-1.9 -9.1-9.9 -3.9-3.8 -0.7-2.1zM192.3 168.4l3.1-0.4 0 2 -2 0.3 -1.5 1 -1.2 2 -0.7 4.9 -1.6 0 1-6.3 1-2z"/><path d="M172 110.3l0.4 3.9 1 2 4 3.3 9 10.2 3 1.7 6 0.6M161.4 144.6l3 0.7 1.9 1.4 1.1 2 -0.4 1.9 -4.6 5.1 -3 1 -3-0.2 -4-1.6 -3-2.3 -4.7-5.9 -4.3-3.9 -1.7-3 0.1-1.9 0.9-2 3.7-3.4 3-3.7 7.5-7.7 1.1-3.9 0-6.9M195.4 166.4l-4 0.5 -2 1.4 -2.5 6 -0.4 3.9" fill="none" stroke="#d8f08a" stroke-width="0.45" stroke-opacity="0.5"/>
<rect x="203.5" y="110.3" width="69" height="67.9" fill="#80ff80"/><path fill="#000099" d="M205.6 110.3l3.3 0 -0.1 3.9 -0.3 1 -5 0.4 0-3.3 1 0 1-0.9zM255.9 110.3l5.7 0 0.4 3 2.6 4.9 2.2 2.9 1.7 0.3 0.1 0.7 -3.1 0 -1-1 -2-0.9 -1-1 -0.2-2 -2.8-2.7 -2.1-1.2zM209.9 116.2l6.6-0.3 2.6 0.3 -1.6 1.2 -5 0.9 -1.1 0.9 -1.9 3.7 -1.3 1.2 -1.7 0.5 -3 0.2 0-2.2 2-0.2 2-1.1 0.8-1.2zM238.5 129l3-0.2 2.2 1.2 4.8 4.5 2.6 3.4 1.4 1 7 0.9 1.5 3 3.6 2.9 0.5 1 -0.1 2 -0.5 1.1 -4 3.6 -5.9 7.1 -4.1 3.9 -2.9 2 -1.1 0.3 -2.2-0.3 2.2-1.2 2.5-2.7 2.1-4 0.6-4.9 0.8-1.1 4-2.8 0.7-2 -0.2-2 -1.5-2.2 -5.9-2.7 -4.1-4.5 -3-1.9 -2-0.7 -2 0.8 -1 0.9 -1.6 2.5 -0.2 1.9 1.8 2.9 0 1.2 -3-0.5 -4 0.8 -1.4-0.4 -0.6-2 1-2.9 3.5-3 3.5-5.6zM203.5 158.5l0-0.8 5 0.7 1.8 1.1 3.2 2.7 7.1 2.2 2.9 2.3 6.3 0.7 -1.9 1 -1.1 0.9 -0.3 1 0.6 2 2.4 1.4 3 0.3 8-0.6 10 0.7 2.2 1.1 0.8 1.9 0 1.1 -32.1 0 -0.5-3.9 -3.6-6.9 -1.8-1.4 -4.9-1.6 -4.1-3.1 -3-0.5z"/>
<path fill="#990000" d="M208 110.3l1.8 0 0.2 3 0.5 1 1 0.6 8 0.3 -1 1.1 -5 0.3 -2 0.6 -1.2 1 -1.8 3.6 -1 0.9 -1 0.5 -3 0.3 0-1.9 2-0.3 1-0.5 1.2-1.6 0.1-1 -0.5-1 -0.8-0.5 -3-0.2 0-1.9 3-0.4 1-0.9zM255.5 110.3l3.4 0 0.3 2 2.6 3.9 0.2 3 -0.5 0 -0.5-2 -5.5-3.9zM241.2 128l2.8 1 1.3 1 4.2 3.5 3 3.7 1 0.5 6 0.8 1 1.4 0 1.9 3 2.9 2.7 2 -0.7 3.4 -4.7 4.5 -4.3 5.5 -6 5.3 -3 1.4 -1-0.4 2.6-2 3.5-3.9 1.3-2 1.6-3.6 2-1.2 3-3.2 2.2-1.8 0.5-1 0-1 -0.7-1.5 -3-2.9 -3-1.1 -3.8-0.4 -1.7-1 -3.3-3.9 -5-4.9 -2.2-1 -2 0.6 -1 0.9 -4 6.4 -3.4 2.9 0 1 0.4 0.5 4-0.3 2 0.7 1 1.1 -7 1.4 -2.3-0.5 -0.5-1.9 0.8-4.1 3.9-3.8 3-4.9 1-1 2.1-0.7zM203.5 159.5l3 0 1.8 1 2.2 2.2 2 1.3 5 1.3 1 0.7 4.5 7.3 0.3 4.9 -3.1 0 -0.3-3 -0.8-1.9 -1.8-4 -1.5-1.9 -7.1-3 -2.2-1.5 -3-0.6zM228.2 167.4l2.6 0 -2.3 1.7 -0.7 1.2 0.3 1 1.4 1.1 3 0.6 8-0.8 10.2 1.1 2.8 1.6 0.7 1.3 0.3 2 -2.8 0 -0.4-2 -1.8-0.9 -9-0.6 -9 0.7 -4-0.8 -2.4-1.3 -0.7-2 0.7-2 1-0.9zM237.7 167.4l7.6 0 -3.8 0.5z"/>
<path fill="#0000cc" d="M203.5 110.3l3.7 0 -0.7 2.9 -3 0.5zM260.2 110.3l3.2 0 0.3 3 3.4 4.9 5.4 3 -3 0 -4 0.9 -1-1 -1 0 -1-1 0-0.6 0.8-0.3 -0.2-2 -2.7-4.9zM213.6 117.2l4.9-0.3 0.6 0.3 -0.6 1 -4.4 2.9 -3 4 -2.6 0.9 -5 0.1 0-1.9 4-0.6 1.6-1.5 2.1-3.9zM238.5 131.9l2-0.8 1 0.3 6 5.4 3 3.7 2 1 4 1 1 0.7 1 1.5 0.5 2 -0.1 2 -1.4 2.8 -4.2 2.1 -0.4 1 -0.2 3.9 -1.2 2 -3.2 3.9 -2.7 2 -3.8 0 2.7-1.4 1.8-1.6 4.2-10.7 4.3-4 0.4-2 -0.2-1 -1.5-1.5 -5-2.4 -3.7-3.9 -2.3-1.4 -3 0 -1.7 1.4 -0.7 1.9 0.4 0.9 0 2.5 -1-1.2 -1.9-1.2 -0.5-1 0.6-1.9 1.8-3.3zM203.5 156.6l3.4 0 3.2 0.9 5.4 3.6 6.7 2.3 2.3 1.5 3.6 1.5 -0.9 1 -1.7 0.5 -2 1.3 -1 0.1 -2.8-3.9 -1.2-0.7 -6-1.7 -5-4 -4-0.5zM225.3 176.2l1.2-0.3 5 1.1 6-1 4-0.2 7 1.1 0.8 0.3 0.2 1 -24.5 0z"/>
<path fill="#cc0000" d="M209.1 110.3l1 0 0.1 2 1.3 2.1 1 0.4 7.2 0.4 -9.2 1.1 -1 0.9 -1 2.9 -1 1.3 -1 0.8 -3 0.3 0-1.5 2-0.3 1.6-1.5 -0.1-1 -0.5-0.7 -3-0.6 0-1.2 3-0.2 2-1 0.4-1.2zM255.5 110.3l0.4 0 0.6 2.6 2 1.1 0.8 1.2 -1.2 0 -2.6-1.8zM259.3 116.2l0.2-0.8 0.8 0.8zM237.6 128l4.9 0 2.4 1 5 3.9 2.6 3.5 2 0.9 5 0.6 1 1.5 0 2.1 -1-1.5 -3-0.5 -3-0.1 -1.6-0.6 -3.3-3.9 -5.1-4.8 -3-1.4 -3 0.9 -1 0.9 -3 4.9 -4 3.8 -0.8 1.6 0 2 0.8 1 1 0.4 4-0.8 2 0.5 -1.7 0.8 -4 1 -2.3 0 -1-0.8 -0.2-1.1 0.2-2.5 1-3 3.4-3.4 3.6-5.5zM264.9 145.7l0.7 0 1 1 -0.1 1.6 -1 2.5 -4.2 3.8 -3.8 5 -2.8 2.9 -5.2 3.9 -2 0.5 -0.1-0.5 2.1-1.2 3.9-3.7 7.1-8.3 3.9-3.5 0.7-2zM203.5 161.5l0-0.9 3 0.5 5 3.7 5 1.6 1 1 3.1 5.9 0.9 2.6 0.1 2.3 -2.1 0 -0.5-3.9 -2.1-5 -1.4-1.7 -1-0.7 -4.6-1.5 -4.4-2.1 -2-0.2zM236.3 167.4l10.9 0 -5.7 1 -1-0.5zM227.8 168.4l1.7-0.5 0.3 0.5 -1.2 1.9 0.4 1 1.5 0.9 3 0.2 7-0.8 5 1 6.3 0.7 1.6 1 1.1 1.6 0.2 2.3 -1.3 0 -0.2-2 -0.7-1 -1-0.7 -2-0.6 -9-0.4 -8 0.5 -4-0.6 -1.6-1.1 -0.5-1 0.1-1.5z"/>
<path fill="#0000ff" d="M263 110.3l1.6 0 0.5 3 3.4 4.1 2 1.2 2 0.3 0 2.2 -4-1.4 -2.1-1.5 -2.9-4.6zM219.2 117.2l0.3-0.4 0.8 0.4 -1.8 6.9 -1.7 1.9 -3.3 2.3 -2 0.7 -4-1.5 -4-0.2 0-1.5 4-0.2 2-0.7 1.7-1.8 1.4-3 1.7-0.9 2.2-0.4 2-0.9zM240 135.9l1.5-0.1 2.7 1.1 1.3 1 3 3.4 6 3.2 1 1.2 0.2 1 -0.2 1.7 -0.9 1.3 -3.7 2.9 -3.4 9.9 -2.9 2.9 -2.2 1 -1.9 0 1-0.4 2.5-2.6 2.5-5.8 3-5.2 3.5-3.7 0.5-2 -0.4-1 -1-1 -4.2-1.9 -3.4-3.5 -2-1.3 -2-0.3 -1 0.4 -1.5 1.7 -0.5 2 -0.6-2 0.4-1.9 1.2-1.4zM203.5 155.6l0-0.5 2 0.1 6 1.4 5 3.5 6.5 2.4 5 2.9 0.9 1 -1.3 0 -3.1-0.9 -4-2.4 -5.4-1.6 -4.6-3.4 -2-0.9 -5-0.5z"/>
<path fill="#0033ff" d="M264.5 110.3l1.4 0 0.2 2 2.4 3.1 2 1.3 2 0.2 0 2.5 -3.4-1.2 -1.6-1.5 -2-2.5 -1-2.7zM220.3 117.2l0.2-0.5 0.6 2.5 -0.6 3.9 -0.9 2 -6.6 6.8 -1.5 0.5 -4-3 -4-0.7 0-1.5 4 0.2 4 0.9 1-0.1 4-2.4 1.6-1.7 0.9-4zM239.5 137.9l3.2 0 1.5 0.9 4.3 4.3 3.9 1.6 1.4 2 -0.6 2 -3.1 2.9 -1.2 2 -3 5.9 -1.4 3.9 -4 3 -1.6 0 1.5-1 4.1-7.8 6.7-8.9 0.4-2 -0.5-1 -1.6-1.4 -1.9-0.5 -5.1-4.4 -2-0.3 -1.1 0.7 -0.9 1.6 -0.1-2.6zM203.5 153.6l2.4 0 3.6 1.6 2 0.4 1 0.8 7 3.8 6.2 2.3 2.8 1.8 0.6 1.1 -0.6 0.3 -0.7-0.3 -4.3-2.6 -6.7-2.3 -5.3-3.7 -6-1.6 -2-0.1zM229.2 166.4l0.3-0.6 0.8 0.6z"/>
<path fill="#0066ff" d="M266 110.3l1.6 0 0.2 2 1.7 1.9 1 0.5 2 0.2 0 2.3 -1.2 0 -1.8-0.8 -2-1.8 -1.1-1.3zM221.3 117.2l0.2-0.6 1 1.6 0.3 1.9 -0.3 2 -2 3.8 -3.6 4.1 -3.4 4.9 -2 0.7 -1-0.2 -1-0.6 -3-3.5 -3-0.7 0-1.9 1 0 2.6 0.3 4.4 2.8 1-0.1 1-0.7 5.3-5 1.2-1.9zM239.3 139.8l1.2-0.8 2 0.4 4.1 3.4 -0.1 0.3 -1.5-0.3 -3.5-2.1 -1 0.1 -2 1.4zM248.5 144.7l1-0.2 1.8 1.2 0.5 1 -0.3 1.8 -3.4 4.1 -3.9 5.9 -1.7 4 -1.9 2.9 -1.5 1 -2.4 0 1.6-1 0.2-1 3-5.3 8.4-10.4 0.2-2zM203.5 152.6l0-0.9 2 0.2 5.1 2.7 -2.1 0.2 -2-0.9 -3-0.3zM213 156.6l0.5-0.4 2 0.4 5 2.7 6.4 2.2 2.8 1.9 0.9 1 0.3 1 1.7 1 -2.3 0 -1.8-1.9 -4-2.6 -6.7-2.4z"/>
<path fill="#0099ff" d="M267.3 110.3l4.4 0 0.8 0.6 0 4.4 -2-0.3 -2-1.4 -1-1.3zM222.1 117.2l0.4-0.5 0.9 0.5 1.4 2 -0.3 2.4 -2 3.5 -4.6 5.9 -3.2 4.9 -2.9 2 -1.3 0.2 -2.9-1.2 -2.1-2.5 -2-0.5 0-3.5 1 0 2.3 0.6 3.7 3.9 1 0.4 2-0.9 7.5-9.3 1.5-4zM240.2 140.8l1.3-0.3 1 0.3 3 2.5 1.2 0.5 -0.2 0.3 -1-0.2 -4-1.8 -2 0.2 -0.2-0.5zM247.2 144.7l1.4 0 1 1 0.6 2 -0.4 1 -7.7 9.8 -3.2 5.9 -0.2 1 -1.7 1 -4.8 0 -1.7-1 -0.2-1 -1.8-1.6 -3-1.9 -4.7-1.4 -4.3-2.4 -4.1-1.5 0.1-0.5 3.6 0.5 6.4 3.1 6 1.7 5 3.7 2 0.2 2.2-1.8 3.8-5.8 6.4-7 0.8-2 -0.5-2zM203.5 150.6l0-0.5 3 0.4 5.4 4.1 -1.5 0 -4.9-2.6 -2-0.1z"/>
<path fill="#00ccff" d="M269.8 110.3l2.7 0 0 2.3 -2.1-0.3zM223.3 117.2l0.2-0.3 1.9 0.3 1.7 1 0.4 1 -0.9 1.9 -6.6 8.9 -3.5 6 -2.7 1.9 -2.2 0 3.7-3 3.1-4.9 4.6-5.9 1.1-2 0.4-2zM203.5 133.9l0-0.8 2 0.4 2.1 2.4 3.9 2.9 -2 0.3 -1.8 1.7 -2.2 3.6 -2 0.6zM239.2 142.8l2.3-0.7 5.8 2.6 1.2 1.5 0.3 1.5 -0.3 1.2 -1 1.3 -6.5 7.3 -2.5 4.3 -3 3.7 -1.8-0.1 -0.5-1 -5.7-4.2 -5.9-1.7 -5.1-2.7 -4.8-1.2 -4.2-3.3 -2-0.9 -2-0.2 0-2.5 2 0.3 2 1.2 4 3.8 1 0.5 4.8 1.1 5.2 2.7 2 0.7 3.3 0.5 2.3 1 2.4 1.6 2 0.6 1-0.1 1-0.5 1.5-1.6 2.5-3.7 5.7-6.1 1-2 -0.1-1 -1.6-1.6 -2-1 -4-0.7z"/>
<path fill="#00ffff" d="M223.2 116.2l4.8 0 1.2 1 0.2 2 -7.4 9.8 -3 4.9 -1.5 3.6 -1 0.8 -3-0.4 1-0.4 1.8-1.6 2.2-3.8 6.6-9 1.7-3 0.2-0.9 -0.5-1zM258.2 124.1l1.3-0.2 0.4 1.2 -1.4 0.3 -0.4-0.3zM263.4 130l1.1 0 0.5 1 -0.5 1.4 -1 0.2 -0.6-0.7zM207.4 140.8l1.1-0.9 0 2.8 -0.9 2 0.1 2 3.8 4.3 2 1.2 5.2 1.4 4.8 2.7 5.2 1.2 5.8 2.4 2-0.7 1-1 0.5-0.7 0.5-2.1 2.5-1.8 3.7-4.9 0.4-1 -0.3-1 -1.3-0.9 -2-0.8 -2.3-0.3 -0.1-0.9 2.4-0.3 3.6 1.2 1.6 1 0.7 2 -0.9 2 -6.4 6.9 -2.6 3.9 -1 1 -2 0.6 -1.8-0.6 -4.2-2.6 -6-1.4 -5-2.7 -5.3-1.2 -5.7-4.7 -3-0.7 0-4 2-0.6z"/>
<path fill="#33ffcc" d="M223.7 115.2l3.8-0.8 2 0.5 1.1 1.3 0.3 3 -0.4 0.9 -4.6 5 -3.2 4.9 -2.9 5.9 -1.2 4.9 -1.1 0.5 -3-2 -2.2-0.5 3.2-0.4 1.1-0.5 4.9-8.2 7.7-10.5 0.1-1 -0.8-1.4 -4-1zM250.3 116.2l1.9 0 1.2 1 0.2 2 -1 0.9 -3.1 0.2 -0.7-0.2 -0.9-0.9 -0.2-1 0.6-1zM261.8 121.1l0.7 0 1.1 1 -0.9 1 0.1 2 1 1.9 2.7 3.1 0 2.5 -1 1.8 -1 0.6 -2.1-0.1 -0.9-1.6 0.4-3.3 -0.5-1 -1.9-1.8 -1.1-0.2 -2-1.9 -0.1-2 1-1 3.2-0.2zM208.5 141.8l0.3 3.9 0.6 1 1.1 1.4 3 2.1 6.4 2.4 4.6 2.7 4.4 1.3 3.6 1.5 3 0.2 1.2-0.8 0.8-1.3 0.6 0.4 -0.6 1.8 -2 1.4 -2 0 -4-1.9 -5.9-1.3 -6.1-3.3 -3.7-0.7 -1.3-0.6 -2-1.7 -3.1-3.6 0-2zM238.5 144.7l3 0 2.6 1 1.2 1 0.2 1 -1 1.9 -3.5 4 -2.5 1.9 0-1.1 1.7-1.8 1.7-3.9 0-1 -0.7-1 -1.7-0.7zM262.3 168.4l1.2-0.9 1 0 1.9 0.9 0.3 0.9 -0.2 1.6 -2 1.2 -1 0 -1-0.7 -0.7-1.1 -0.2-1z"/>
<path fill="#66ff99" d="M225.8 110.3l4.2 0 0.1 1 1.4 2.7 0.3 1.2 -0.3 4.9 -4.5 5 -2.9 4.9 -3.8 8.8 0 2 -0.8 2.7 -2 0.4 -1-0.3 -3.2-3.8 -0.2-1 0.6 0 3.8 2 1-1 1-3.8 3-5.9 4.9-7 3.5-3.9 -0.1-2 -0.5-1 -1.8-1.5 -2-0.1 -2.3 0.6 -2.7 0 3.7-2.9zM247.4 115.2l4.1-0.9 3 0.6 0.8 3.3 1.2 1.8 3 0.7 2-0.4 0.3 0.8 -0.3 0.9 -4 0.3 -0.9 0.8 -0.3 1 -0.8 0.4 -0.6-1.4 -1.4-1.4 -3-0.5 -3 0.1 -2-2 -0.3-1.1 0-1zM249.5 116.9l-1.1 1.3 0.2 1 0.9 0.8 2 0.1 1.7-0.9 0.1-1 -0.8-1.5 -1-0.2zM261.9 122.1l2.6 0 0.3 3.9 1.7 2.2 0 2.8 1.1 0.9 -0.1 1.6 -1 2.4 -2 1.2 -1-0.1 -2-1.6 -0.1-5.4 -1.9-2 0-0.5 1 0.1 1 1.1 0.1 4.2 0.9 1.9 2-0.1 1-0.7 1-2.1 -0.2-1.9 -0.5-1 -2.4-2 -0.6-1zM209.4 140.8l0.3 0 0.1 3.9 1.7 2.3 9 3.9 3 2.3 6 2.9 4 1.2 2-0.1 1-0.5 0.2 0.8 -2.1 1 -1.1-0.2 -3-1.2 -5.6-1.5 -6.4-3.5 -4.7-1.5 -1.3-0.7 -3-2.7 -0.6-1.5zM238.5 145.7l3 0.9 0.9 1.1 -0.1 1 -1.8 3.5 -0.9 1.4 -1.1 0.4 1.6-5.3zM262.4 167.4l4.3 0 1 1 0.3 0.9 -0.3 2 -1.2 1 -2 0.4 -2-0.4 0-1 1 0.7 2-0.3 1-1.4 0-1 -0.3-0.9 -0.7-0.6 -3-0.1zM261.5 168.4l0.3 0 0 1.9 0.7 1 -1 0z"/>
<path fill="#99ff66" d="M222.5 110.3l13.1 0 -0.1 1 -2.4 4.9 -0.6 3.2 -1.3-5.2 -2.7-2.5 -1 0 -4.4 2.5 -1.6 0.3 0.8-1.2zM249.3 110.3l4.3 0 0.2 2 0.7 0.9 0 1.7 -3-0.4 -2 0.2 -2.9 1.5 -1.3 2 -0.8 0.4 -0.5-2.4 0.5-0.8 1-1.3 2.9-1.8 0.8-1zM254.8 115.2l0.9 0 0.8 0.8 1 2.5 1 0.6 2 0.2 1 1 -3 0.3 -2.6-0.5 -0.5-0.9zM229.5 122.1l1-0.6 0.2 0.6 -1.8 2 -1.8 2.9 -3.6 8.4 -2.7 4.4 -0.3 4.2 -0.9 1.7 0 2 4.9 4.5 7 3.8 5 0.3 0 0.4 -1 0.3 -4-0.3 -5.5-2.1 -5.5-3.3 -8.3-3.6 -1.7-1.4 -0.6-1.6 -0.4-3.2 1.7-1.7 2.4 0 2.9 3.3 1 0.4 2-0.2 0.7-1.5 0.3-4.1 3-6.8 3-5zM211.5 141.6l-0.4 1.2 0.2 1 1.2 1.1 0.4-0.2 0.7-0.9 -0.2-1 -0.9-1.3zM251.2 122.1l0.3-0.4 1-0.2 2 0.6 0.5 2 -0.5 0.1 -2-1.7zM264.4 123.1l1.2 0 0.2 2.9 0.7 1 0 1.3 -2-2.9zM267.4 131l0.1-0.5 0.1 1.4 0.9 0.4 0.1 0.6 0.1 2 -0.7 2 -2.5 2.4 -1 0.4 -2-0.5 -1-2.5 0-1.3 1 1.1 2 0.2 1-0.3 1.4-1.5 0.3-1zM238.5 147.7l1-0.3 0.5 0.3 0.2 1 -1.7 4.9 0-3.6 0.4-1.3zM266.5 167.4l1.4 0 2.3 1.9 -0.2 1 -2 2 -1.4 0 1-1 0.5-2 -0.5-0.9zM263.3 173.3l2.3 0 -1.1 0.3z"/>
<path fill="#ccff33" d="M221.5 110.3l1.4 0 -0.2 2 -1.2 1.8zM234.2 110.3l20.3 0 0 3.1 -1-1.3 -2-0.6 -1 0.2 -5 2.9 -2 2.6 -0.2-1 -1.8-1.9 -3-0.4 -2 0.6 -1 0.7 -1.5 2 -0.5 1.8 -0.5-0.8 0.1-1zM257 117.2l0.5-0.6 2.1 1.6 0.9 1.2 -2.5-0.2 -1-1zM232.3 120.1l0.2-0.9 0.3 0.9 -0.3 0.8zM231.4 121.1l0.8 0 -3.1 4.9 -3 5.9 -1.6 4.3 -2.7 3.6 -0.3 1.1 -0.3-1.1 0.3-1.4 2.5-4.5 1.5-4 3-5.3zM251.4 123.1l1.1-0.4 1 0.3 0.8 1.1 -0.8 0.3zM266.2 124.1l0.4 0 0.2 2.9 -0.3 0.1 -0.5-2zM267.4 128l0.1-0.3 0.8 2.3 2.2 2.9 1 0.8 1 0.1 0 3.2 -2 0.6 -3.1 3.2 -2.6 2 -1.3 0 -2-2 0-4.1 1 1.9 2 0.6 2-1 1.2-1.3 0.7-2 0.1-2 -0.1-1 -0.9-1.4zM211.3 140.8l1.2 0 1 1.1 0.7 2.8 -0.7 0.9 -1 0 -1.1-0.9 -0.8-2.9zM220.4 143.8l0.1 3.9 1 1 0 0.4 -3-1.3 -0.4-1.1 0.4-0.6 1-0.5zM238.5 147.7l0.3 1 -0.3 2.1zM222.8 150.6l1.3 0 7.4 4.4 2 0.4 3-0.2 0.1 0.4 -2.1 0.5 -3.7-0.5 -5.8-3 -1.5-1zM268 167.4l4.5 0 0 4.2 -2 0.2 -1 0.6 -1.4-0.1 1-1 0.6-2zM260.3 169.3l0.2-0.6 0 2.8 -0.4-1.2zM262 173.3l1.3 0 1.2 0.7 0.9-0.7 1.4 0 -1.3 1.2 -1 0.3 -1.8-0.5z"/>
<path fill="#ffff00" d="M236.5 114.2l2-0.4 3 0.1 1 0.8 0.2 1.5 -1.2-0.9 -3-0.1 -1 0.2 -2 1.8 -6 11.6 -2.7 4.1 -1 4 -3.3 3.5 -0.4-0.6 0.3-1 2.7-3.9 1.4-4 3-5.8 3.6-5 1.4-4.1zM250.3 123.1l0.2-0.4 1.2 0.4 3.8 2.9 0 0.7 -3-1.5zM266.9 125.1l0.6-0.2 0.6 2.1 1.4 1.9 1 0.9 2 0.3 0 10.5 -3 0.8 -2.9 2.4 -2.5 0 -0.6-0.9 -1-0.1 0-0.7 1 0.5 1-0.2 2-1.3 2.3-2.3 2.2-2.9 0-1 -3.5-6.7zM257 128l1.2 0 -0.7 0.5zM258.2 129l0.3-0.4 1 0.4 1 1.4 0 2.2 -0.7-1.6zM224 150.6l1.8 0 -0.3 0.8zM225.7 151.6l0.8-0.3 1.8 0.3 4.2 2.5 2 0.2 2-0.4 0.3 0.7 -1.3 0.7 -4-0.5zM237.5 151.6l0 2.3 -0.7-0.3zM262 166.4l2.5-0.6 8 0.4 0 1.4 -2-0.1 -3-1zM259.7 167.4l0.8-0.3 1 0.2 -1.5 2 -0.1 1 1.1 2 2.5 2.3 1 0.3 2.5-1.6 1.5-0.2 2-1.3 2-0.2 0 1.2 -2 0.1 -3 1 -1.7 2.3 -0.3 2 -3.3 0 -0.3-2 -3.6-5.9 0.2-1.3z"/>
<path fill="#ffcc00" d="M237.8 115.2l2.8 0 -3.1 1.4 -1.3 1.6 -1.7 4.3 -4 7 -3.8 5.4 -0.2 2.3 -0.6-0.3 0.6-3.2 1-2.1 5.6-9.5 2.4-5.2zM248.5 123.1l1.9 0 3.1 2.7 1 0.2 3 2.6 1.1 0.4 0.9 1 0.5 1.9 -0.5 0.4 -0.7-0.4zM267.4 124.1l0.5 0 1.6 2.2 1 0.8 2 0.4 0 3.1 -2-0.4 -1.3-1.2 -0.7-1zM224.6 137.9l0.9-0.7 0.3 0.7 -3.3 3.8 0-1.3zM269.9 140.8l2.6-0.7 0 3.2 -6 1.1 -0.3-0.6zM221.5 141.8l0.8 0 -0.8 1.2zM237.5 147.7l0 4.4 -1 1.8 -3 0.3 -2-0.5 -4-2.4 -1.8-0.7 3.2 0 3.6 1.8 2 0.3 1-0.5 1.2-1.6zM262.8 162.5l0.7-0.8 1-0.1 3 2.4 2 0.8 3 0.3 0 1.2 -9-0.5 -2 0.7 -1.1 0.9 -1.6 1.9 -0.2 1 0.2 1 3.5 4.9 0.5 2 -2.7 0 -0.2-2 -0.8-1.9 -2.6-3.2 -0.5-1.8 1.2-1.9zM211.4 173.3l0.4 1 0 3.9 -0.5 0zM268.4 173.3l4.1-0.3 0 1.1 -3 0.5 -0.9 0.6 -0.7 1 -0.3 2 -2.8 0 0.6-2z"/>
<path fill="#ff9900" d="M220 110.3l0.6 0 -0.1 2.5zM238.2 116.2l3.4 0 -2.1 0.5 -1.7 1.5 -0.7 1.9 -0.1 3 -3.9 3.9 -1.6 3.1 -3.7 4.8 -0.3 1.1 0-2.4 3.2-4.6 5.8-11.4zM247.2 123.1l1.7 0 3.6 3.6 3.5 2.3 3.5 3.4 0 1.3 -2-0.7 -1.4-1.1 -2.6-2.6 -3-2.3zM268.2 124.1l0.3-0.5 2 1.1 2 0.3 0 2.9 -2-0.4 -1-0.8 -1-1.5zM259.7 133.9l0.8-0.2 0 1.2zM225.1 138.8l1.3 0 -4.4 5 -0.5 2.2 0-3.2zM268.4 143.8l4.1-1 0 4.6 -1-0.1 -3-2 -3-0.6 2-0.4zM237.3 146.7l0.2-0.2 0 1.9 -1 3.1 -1.1 1.1 -2.9 0.1 -3-1.7 -1.4-0.4 -1.1-0.9 2.5-0.2 4 0.7 1-0.3zM263.4 157.5l2.1-0.4 1 0.4 2 4.3 2 1.4 2 0.1 0 1.7 -4-0.4 -4-2 -1 0.1 -5 3.8 -1.8 1.9 -0.3 0.9 0.6 2 2.5 3.4 0.5 1.5 0.2 2 -1.8 0 -0.4-3 -4.5-4.9 -0.2-1 1.2-1.9 4.8-4 3.2-5zM209.4 169.3l2.1-0.4 1.3 0.4 0.9 1 0.8 2 0.3 5.9 -7.6 0 0.4-4.9 0.9-2.9zM269.7 174.3l2.8-0.2 0 2.6 -1.6 0.5 -0.2 1 -3.4 0 0.3-2 0.9-1.3z"/>
<path fill="#ff6600" d="M218 110.3l1.8 0 0.3 2 0.4 0.3 0 1.8 -1-1.5 -1-0.7zM238.5 117.2l2-0.9 2 0.9 0 0.7 -2.3 0.3 -0.7 1 0.2 0.9 0.8 0.8 2-0.2 1-2.1 0.3 1.5 2.7 2.7 2 1.3 2.3 2.9 6.7 5.7 2 1 1 1 0 1.8 -1-1.3 -2-0.3 -2.2-1 -2.8-3.2 -3.5-2.7 -2.5-2.9 -1-0.5 -1 0.1 -3 1.5 -4-0.1 -2 0.3 -1.6 1.6 -2.4 4 -3 3.6 -0.4-0.7 0.4-1.2 2.3-2.7 2.7-4.8 2.8-3.1 1.2-4.9zM268 123.1l4.5 0 0 2.2 -2-0.3zM227.5 135.9l0.4 0 -0.4 1.3zM226.4 138.8l0.1-0.2 0 1.7 -3.8 5.4 0 1 0.9 2 -1.1 0 -0.2-1 -0.8-0.7 0-2.1 1-1.9zM267.4 145.7l1.1-0.4 4 0.8 0 17.5 -2.5-0.2 -1.5-0.8 -2-3.9 -1-1 -2 0.3 -1.4 1.5 -2.4 3.9 -4.8 4 -1.2 1.9 0.2 1 3.7 4 0.8 1.9 0.2 2 -1.6 0 -0.2-2 -1-1.9 -3.3-2.8 -2.3-1.2 -0.4-1 7.7-6.1 5-6.9 3-2 1.8-1.7 1-2 0.2-1.9 -0.2-2zM235.3 146.7l1.2-0.3 0.4 0.3 -0.4 1.4 -1 1.4 -1.5 1.1 -5.5-1 -4.5 0.1 0.5-0.6 1.2-0.4 6.8-0.8zM209.7 167.4l1.8 0.1 2.1 0.9 1 0.9 0.9 1.7 1 4.1 0.1 3.1 -2.1 0 -0.5-6.9 -1.5-1.8 -1-0.4 -2 0.8 -0.9 1.4 -0.7 3 -0.1 3.9 -4.3 0 0-8.2 1-0.1 2.4-1.5zM270.3 176.2l2.2-0.4 0 2.4 -2.8 0z"/>
<path fill="#ff3300" d="M211.2 110.3l7.2 0 1.6 3.9 -7.5-0.6 -1-0.7zM239.5 118.2l2-0.6 1 0.5 1 2 -0.6 1 -1.4 0.6 -1.8-0.6 -0.6-1zM203.5 119.2l0-0.4 1.2 0.4zM270.1 122.1l2.4 0 0 1.3 -2-0.3zM244.5 124.1l1-0.1 1 0.5 3 3.5 2.6 2 3.4 3.6 4 1.5 1 1.2 0 2 -1-1.3 -5-1 -1-0.5 -3-3.7 -5-3.7 -1-0.5 -2-0.3 -4-0.1 -2 0.4 -1.7 1.4 -3.3 5.1 -3 3.1 -0.3-0.3 0.3-1.5 3.6-4.4 2.4-4 2-1.1 5-0.1zM227.4 137.9l0.1-0.4 0.4 0.4 -0.4 1zM226.2 140.8l0.3-0.5 0.4 0.5 -0.9 3.9 0 1 0.5 0.6 1 0.3 3 0 6.3-1.9 0.7 0 0 0.4 -1 1.2 -3 1.7 -7 0.8 -3-0.1 -1-1.1 0-2.2zM266.4 145.7l1.2 0 1.1 2 -0.1 2.9 -1.1 2.6 -1 1 -4 2.4 -4 5.9 -6.2 4.9 -1.7 1.9 0.4 1 3.9 3 1.6 1.8 0.5 3.1 -1.5 0 -0.4-3 -2.6-2.4 -3-0.8 -4.9-0.7 -1.6-1 0.6-1 1.8-0.9 2.1-0.3 4-2.1 5.5-4.5 4.5-6.1 4.4-3.8 1.3-2.9 0.1-2zM270 157.5l0.5-0.5 2-0.4 0 4.1 -2-0.6 -0.6-1.6zM203.5 165.4l0-0.7 2 0.2 5.9 1.5 3.9 2 2.2 4.5 1 3.3 0 2 -2.1 0 -0.4-4.9 -0.9-3 -2.6-2.5 -2-0.3 -2 0.4 -3 2.8 -1 0.6 -1 0.1zM230.9 168.4l2.6-0.5 3.7 0.5 0.2 0.9 -0.7 1 -4.2 0.9 -2.1-0.9z"/>
<path fill="#ff0000" d="M210 110.3l1.4 0 0.2 2 0.9 1 6 0.8 1 1 1 0.1 -7 0 -3-0.7 -0.4-1.2zM203.5 117.2l0-0.6 3 0.2 1.1 0.4 0.1 2 -1.2 1.7 -3 0.6zM235.5 128l3-0.7 3 0.6 2-0.7 2 0.4 5 3.7 3 3.7 1 0.6 5 1.2 1 1.3 0 1.9 -1-1.5 -6-0.6 -1-0.6 -3-3.6 -6-5 -2-0.6 -3 0.1 -1 0.2 -2 1.6 -3 4.9 -4 3.9 -0.6 1 -0.2 2 0.1 2 0.7 1 1 0.5 2-0.1 3-0.8 3 0.3 -6.5 2 -5.2 0 -0.5-1 2-4.9 0.2-2.2 4.7-5.7zM265.4 145.7l1.1 0 0.6 3 -0.4 1.9 -1.2 1.7 -4 3.4 -5.2 6.8 -5.3 3.9 -6.3 2.9 -0.4 1 2.2 1.2 4.9 0.8 1.8 1 1.3 1 1 1.8 0.1 2.1 -1.2 0 -0.5-3 -1.4-1.3 -1-0.4 -11-1.1 -9 0.5 -2.5-0.6 -1-1 -0.2-1 0.4-1 2.6-1.9 7.4 0 2.3 0.7 2-0.1 2.2-0.6 2.8-0.2 2-1.1 6-5.1 6-7.2 3.6-3.2 0.7-0.9 0.4-2 0-1zM232.5 168.1l-1 0.6 0 1 0.6 0.6 2 0 1.4-1 0-0.9zM203.5 162.5l2.2 0 3.8 2.4 6.4 2.5 1.6 2.4 2 4.2 0.6 4.2 -1.8 0 -0.5-3.9 -1.8-5 -0.8-0.9 -2.7-1.8 -9-1.2z"/><path d="M208.7 110.3l-0.7 3.9 -1.5 0.8 -3 0.2M261.4 118.1l-0.9-2.4 -4-4.1 -0.1-1.3M272.5 121.7l-3-0.1 -1.8 0.7M203.5 122.9l2-0.1 2-0.9 3-5.1 10-1.2M237.5 143.9l-3-0.9 -4 0.7 -1.3-0.9 -0.1-2 1.3-2 3.1-2.7 4-6 2-0.8 2 0 2 1.2 4.5 4.4 3.5 4.2 2 0.9 6 0.6 1.4 2.2 3.3 2.9 0.4 2 -0.8 2 -3.3 2.8 -10.5 11.9 -3.5 2.3 -6.8 0.5M230.3 167.2l-3 1.2 -1.5 1.9 0.5 2 2.2 1.6 3 0.6 9-0.6 9 0.5 2.4 0.8 0.8 1 0.2 2M222.1 178.2l-0.5-3.9 -4.1-7.6 -2-1.2 -4-1.2 -5-3.7 -3-0.5" fill="none" stroke="#d8f08a" stroke-width="0.45" stroke-opacity="0.5"/>
<rect x="282" y="110.3" width="69" height="67.9" fill="#80ff80"/><path fill="#000099" d="M327.7 110.3l9.4 0 0.1 3 0.7 1.9 1.1 1.2 5 3.3 -0.6 3.4 0.6 1.5 1 0.9 2 0.8 4 1.1 0 15.3 -5 0.2 1.9-2.1 0.3-1 -0.7-2.9 -0.7-2 -1.6-2 -3.2-1.6 -3-3.1 0-1 0.9-1.2 0.5-1.9 -0.4-2 -1-1.5 -2-1 -1 0.2 -1 0.7 -1 1.5 -1-0.5 -1.3-2.3 -2.3-3 -1.4-0.6 -3.3-0.4 1.6-1 1.1-1.9zM288.3 116.2l3.7 0 -1.9 1 -1 2 -2.1 2 -2 0.9 -3 0.2 0-1.9 3-0.5 1.8-1.7 0.2-1zM306.5 117.2l1.6 0 -1.3 2 -0.8 2.2 -1 0.8 -4 1.1 -1 1.4 0-1.7 4.9-4.8zM306.4 123.1l1.6-0.2 2.6 1.2 0.6 1 0 1.9 -2.2 4.1 -3.1 1.8 -3.9 1.4 -2 1.5 -1.6 2.1 -0.3 4.9 1.9 1.7 2 0.2 0 0.5 -3 1.2 -3.2 3.3 -1.8 1.2 -2 0.6 -1-0.3 -2-2.1 0-1.4 2 0.6 2 0.1 1.1-0.7 0.8-2 -0.4-1 -2.5-1.9 -0.5-1 -0.1-1 0.6-1.6 2.8-3.3 4.2-2 1-1 2-4 2.6-2.9zM289.6 133.9l0.8 0 -1.4 2.4 -1.8 1.6 -1.3 0 1.1-2zM326.9 142.8l0.1 4.5 -4.3 3.3 -0.2 1 1.3 3 1.2 0.5 0 0.5 -5 0 -2-0.5 -2 0.5 -3 1.4 -5.6-1.4 -1.7-1 -1.3-4.9 0.2-2 0.4 0 0.3 2.9 1.7 2.9 2 0.8 3 0 8.7-3.7 -0.1-0.9 -3.3-5 1.7-0.2 3 0.5 4-0.6zM303.3 145.7l0.7 0 0 1.1zM288 147.7l0-0.7 1 0.7zM282 167.4l0-1 4 0.8 1 1.1 0 2.1 -5-0.4zM312.9 172.3l2.1-0.4 3 0.3 2.1 1.1 -1.1 0.4 -5 0.4 -1.8 2.1 -0.3 2 -1.1 0 0.2-2.6 0.9-2.3z"/>
<path fill="#990000" d="M295 110.3l0.6 0 -0.1 3 -0.5 1.3 -3.4 2.6 -3.2 3.9 -1.4 1 -5 0.7 0-1.1 2-0.1 2-0.8 1.8-1.6 0.9-2 1.5-1 1.8 0 1-1 2-1.9zM325.9 110.3l3.8 0 -0.6 3 -1.2 0.9 -2.2 1 -2.3 0 1.5-1zM304.9 117.2l2.4 0 -3.3 3.2 -3 1.9 0-0.7 1-1.6zM334.8 117.2l1.2-0.1 2.3 1.1 1.9 1 0.9 0.9 0.8 5.9 -0.1 1 -0.9 1 -0.9 0.2 -2-1.2 -1 0 1.5-1 0.3-0.9 -0.1-2 -0.7-1.1 -1-0.5 -1 0.1 -1 0.8 -1 1.7 -0.2-4.9 0.2-1.1zM349.2 132.9l1.8-0.2 0 4.1 -1-0.1 -1.1-0.8 -0.4-2zM288.7 133.9l0.6 0 -0.3 1.1 -2.8 2.9 -0.6 0 0.6-2 0.7-1zM327.7 139.8l0.3-1 0 2 -0.4 0zM326.6 141.8l0.4-0.6 0 4.2 -1 0.7 -4 0.4 -2-0.6 -1.6-1.2 0.6-0.4 7-1.5zM349.4 141.8l1.6-0.1 0 1.5 -4.3-0.4zM299.6 144.7l1.6 0 2.8 1.6 0.2 1.4 0.8 1 0.3 3.9 0.4 1 1.3 1.2 5 0.9 4-1.3 2-0.2 4.9 1.4 -5.9 0.2 -3 2.1 -1 0.3 -5-1.6 -3-2 -1.1-2 -1-4.9 -0.9-0.8 -2 0.4 -1 0.6 -4 3.5 -2 1.3 -2 0.1 -2-2.2 0-2 2 1.3 2 0.2 2-1 2.7-3.4zM297 161.5l0-0.8 0.8 0.8zM282 165.4l4 0.9 1 1.2 0 1.8 -1-0.9 -4-0.7zM313.2 171.3l2.8 0 3.1 1 -0.1 0.3 -5 0.1 -1.8 1.6 -1.2 2.5 -0.1-3.5 1.1-1.3zM348.8 177.2l2.2-0.6 0 1.6 -2.4 0z"/>
<path fill="#0000cc" d="M336 110.3l2.5 0 0.1 2 0.7 1.9 1.7 1.6 3.2 1.4 0.8 1.3 0.1 2.6 0.9 2 2 0.8 3 0.1 0 7.1 -3-0.1 -1-0.6 -1-1.6 -2.8-2.8 -0.6-1.9 -0.2-3 -0.9-1.9 -3.5-2.2 -1.6-1.8zM327.5 115.2l2.5-0.7 1 0.1 1.5 3.6 0.6 3.9 -0.4-1 -0.7-0.3 -3.5-3.6 -1.5-0.9zM285.4 116.2l3.9 0 -1.3 1 -1 2 -1 1 -2 0.7 -2 0.2 0-2.8 1.3-0.1zM307.9 117.2l0.6 0 -0.1 2.9 0.6 1 4.1 3 0 1.9 -2.6 3 -0.5 1.5 -1.3 1.4 -0.7 0.1 -2 1.2 -6.1 4.7 -0.6 0.9 -0.3 3 0 1 1 1.1 -3 1.1 -1.7 2.7 -1.3 1.2 -2 0.4 -2-0.6 -2-1.8 0-1.3 1-0.9 0.3-3.9 -0.3-1 -2-1.4 -0.2-0.5 2.8-3 0.4-1 2-1 1-1 0.6 0 0.4 0.9 1 0.2 2-0.7 1-0.8 1.1-1.5 0.5-2 -0.6-0.6 -2 0 0-0.4 1 0 2-1.9 0-1.1 1-1.1 4-2.4zM308 124.5l-1 0.7 -4.2 4.8 -0.3 1 0.3 0.9 1.2 0.2 1-0.4 3-2.3 1.9-3.4 -0.2-0.9zM296 136.8l-2.2 3 -0.2 1 0.4 0.7 1 0.3 1.3-2 0.8-2.9zM339.3 129l1 0 6.2 2.9 1.8 5 1.7 1.7 1 0.1 0 1.9 -2 0.4 -1.1 0.8 -1.6 0 0.6-2 -0.4-3.9 -1.5-1.9 -3-1.7zM316.8 144.7l0.8 0 2.4 2 2 0.9 3-0.3 2-1.1 1 2.5 -1 2.8 -1 1.1 -0.2 2 -0.8 1 -1.1 0 -2.1-1 -0.5-1 -1.3-0.6 -3 0.3 -5 1.7 -4-0.4 -1.5-1 -0.6-1 0.1-2.2 0.6 1.2 1.4 1.2 2 0.4 3-0.8 2.7-1.8 1.2-1.9zM336.9 162.5l1.3 0 0.2 0.9 -0.4 0.4 -1-0.3zM282 169.3l0-0.7 4 0.6 1 0.7 0.7 1.4 -2.2 2 -0.5 1 -0.7 1.9 -0.1 2 -2.2 0zM314.2 173.3l6.9 0 -2.1 2.3 -1 0.4 -3.1 0.2 -0.7 1 -0.1 1 -2.7 0 0.6-2.6 1-1.6z"/>
<path fill="#cc0000" d="M295 110.3l1.1 0 -0.1 2.6 -0.7 2.3 -1.3 1 -0.2-1 1-1 0.2-0.9zM324.9 110.3l3 0 -0.3 2 -1.3 1.9 -1.6 1 -2 0 1.3-1zM291.8 116.2l2.2 0 -2 1.5 -3 3.4 -1.3 1 -2.9 1 -2.8 0.1 0-0.6 4-0.8 1-0.7 2.7-2.9 0.2-1zM304.5 117.2l1.5-0.3 0.7 0.3 -0.7 0.2 -4 3.6 -0.3-0.9 0.3-0.5zM335 120.1l1-0.6 1-0.1 1.9 0.7 1.1 1.3 0.4 3.7 -0.9 1.9 -2.5 0 1-1.9 0-1 -1-1.4 -1 0 -1.5 1.4 -0.5 0 0-2.3zM286.4 134.9l1.6-0.4 0.1 0.4 -2.1 2.8 -0.5-0.8 0.2-1zM327.9 137.9l0.1-0.7 0 2.9 -0.7-0.3zM326.4 140.8l0.6-0.4 0 2.5 -1 1.8 -5 0.3 -1.2-0.3 -0.9-0.9 4.1-0.7 2.8-1.3zM348.3 142.8l2.7-0.2 0 0.7 -2-0.1zM299.8 145.7l3.3 0 0.9 1 0.3 3 1.1 4.9 -0.4 0.4 -1.2-1.4 -1.5-4.9 -1.3-0.8 -1 0.2 -2 1.2 -6 4.9 -2-1.2 -1-1.6 0-2.1 2 1.9 2 0.1 1-0.4zM305.7 155.6l0.3-0.4 2 0.8 5 1 3-1.5 4.8 0.1 -3.8 0.3 -3 2.6 -1 0.2 -1.3-0.2zM296.7 159.5l1.3 0 0.4 2 -1.3 0 -1.1-1 0-0.6zM282 165.4l0-0.4 2.6 0.4 1.4 0.7 0 1.1 -4-0.6zM286.2 167.4l0.8-0.2 0 1.2zM312.1 171.3l1.9-0.3 3.2 0.3 -0.2 0.4 -3 0.1 -1 0.6 -1.7 1.9 -0.3 1.2 -0.4-0.3 0-1.9 0.4-1zM347.8 176.2l3.2-0.4 0 2.4 -4 0 0.1-1z"/>
<path fill="#0000ff" d="M338.3 110.3l1.8 0 0.1 2 0.8 1.4 1 0.9 2 0.5 1 0.8 0 4.5 -0.4-2.2 -0.6-0.8 -3.1-1.2 -1.9-1.6zM282 116.2l4.3 0 -0.9 1 -0.4 1.1 -1.8 0.9 -1.2 0zM308.8 117.2l0.8 0 0.6 2.9 1.8 1.6 2.4 1.4 0.8 1 -0.2 1 -1.8 1.9 -0.8 0 0.4-1.9 -0.3-1 -3.1-2 -1.4-1.4 -0.1-1.5zM327.4 117.2l0.6-0.5 1 0.5 1.5 2 -0.5 0.2 -0.7-0.2zM345.1 122.1l0.9-0.4 1 1.1 4 0.3 0 1.3 -5-0.4 -1-0.9zM301 125.1l0.5 0 0.3 0.9 -2.8 5.5 -1.7 1.4 -5.3 2.3 -0.1-1.3 1.7-2 0.4-1.9 2-2 1.6-1 1.4-0.1zM342 132.9l0-0.3 1.4 0.3zM343.8 133.9l0.2-0.6 1.1 0.6zM303.7 134.9l1.3-0.3 0 0.3zM346 134.9l1.1 4.9 -1.1 2.1zM301.8 135.9l1.2-0.7 0.4 0.7 -3.4 3 -0.4-0.1 0.4-1.5zM287 138.8l2-0.5 0.7 0.5 0.3 4 1.8 2.9 -0.7 1 -2.1-0.2 -1-0.6 0-2.4 0.7-0.7 0.2-1 -0.2-1zM316 144.7l1.2 1 0.4 2 -0.1 2 -0.7 0.9 -3.1 2 -2.7 0.7 -2 0 -2-0.8 -0.5-1.9 0.5-0.1 1 0.9 2 0.3 2-0.5 1-0.7 2.3-2.8zM327.7 147.7l0.3 0 0 4 -0.8 0.9 -0.2 1.1 -0.8 0.9 -0.6 0 -0.1-3 0.5-1.1 1-0.4zM337 161.5l3.1 0 0.9 1.2 0.1 0.7 -0.5 1 -1.1 1 -1.5 0.6 -1 0.1 -1-0.5 -0.4-2.2 0.2-0.9zM287 171.3l1 0 0.1 1 -1 2.9 -0.1 3 -5 0 0-4.1 1-0.1zM320.9 173.3l0.6 0 -0.9 4.9 -7.4 0 0.4-2 0.9-1 4.5-0.2z"/>
<path fill="#0033ff" d="M339.8 110.3l5.2 0 0 6 -1-0.9 -1.2-0.2 -1.8-1 -1-1.5zM310.6 116.2l0.6 0 -0.1 2 0.9 1.8 4.7 3.1 0.8 1 -0.1 1 -1.2 0.9 -1.2 0.3 -1-0.3 0.7-0.9 0.2-1 -5-4 -0.1-2.9zM327.7 118.2l0.3-0.3 0.3 0.3 -0.3 0.9zM328.1 119.2l0.9-0.3 0.3 0.3 -0.3 0.6zM313.6 127l0.4-0.9 0.3 0.9zM344.3 134.9l0.8 0 0.5 3 0.4 0.7 0 2.3 -1-1.8 -0.1-3.2zM300.9 137.9l1.1-0.5 0.1 0.5 -1.1 0.9zM314.8 145.7l0.2-0.3 0.9 0.3 -0.8 3 -1.7 1.9 -1.8 1 -1.6 0.3 -2-0.3 -2-2.3 0-1.1 1 1 2 0.8 2-0.5 3-2.5zM339 160.5l2-0.1 1.6 1.1 0.5 1 -0.1 1 -1.6 1.9 -1.5 1 -2.1 1 -2.4 0 -0.7-1 -0.2-1 0.5-2.9 0.3 0 0.7 2.6 1 0.8 2-0.4 1.4-1.1 0.4-1 -0.3-0.9zM288.7 172.3l0.3 0 1 2.4 1 1 2 0.1 0 2.4 -6.5 0 0.5-3.9zM321.9 173.3l0.5 0 0 4.9 -2 0 0.6-3.5z"/>
<path fill="#0066ff" d="M292.3 110.3l1.7 0 0 2 -2 2.1 -0.6-0.2zM342.3 110.3l2.7 0 -0.3 2 -0.7 0.4 -1-0.2 -0.7-1.2zM311.5 116.2l0.6 0 0.3 2 0.7 1 7 4.9 0.4 1 -0.5 1.1 -2.2 0.8 -3.5 0 2.7-1.9 0.1-1 -1.1-1.4 -4.1-2.6 -1-1.9 0.1-1.5zM326.6 118.2l0.4-0.3 2.4 2.2 -0.4 0.9 -1.3-0.9zM329.2 121.1l0.8-0.3 1.1 0.3 -0.1 0.3zM342.7 134.9l0.3-0.9 2 1.8 0 6.2 -1-2.6 -0.3-2.5zM300.9 138.8l1.1-0.9 0 1 -1 0.6zM300 139.8l0.7 0 -0.5 1 -0.2 2zM313.8 145.7l0.7 0 -0.5 1.5 -3 2.7 -2 0.2 -1-0.2 -2-1.9 0-0.6 3 0.7 1-0.2zM340.2 159.5l2.8-0.1 1 0.5 0.9 1.6 0 1 -0.8 1.9 -1 1 -1.3 1 -1.8 0.6 -0.3-0.6 1.3-0.7 1.8-2.3 0-0.9 -0.6-1zM333.9 163.4l0.1-0.2 0.3 0.2 0.5 3 1.2 0.9 3-0.4 0.7 0.5 -3.7 1.7 -2 0.2 -1-0.7 -0.1-1.2zM289.3 173.3l2.7 0 1 0.8 0 2.9 -0.4 1.2 -2.1 0zM322.8 173.3l0.5 0 0.7 1 0.3 3.9 -2.1 0z"/>
<path fill="#0099ff" d="M290.4 110.3l2.7 0 -0.1 1.5 -1 1 -0.6 1.4 -1.1 1 -1.4 0 1-1zM312 116.2l1.2 0 1 2 0.9 1 3.9 2.4 3.3 1.5 1 1 0.2 1 -0.3 1.9 -1.2 1.9 -2 0.2 -3-0.8 -4-0.1 6-1.9 0.9-1.2 -0.3-1 -1-1 -5.8-3.9zM323.9 116.2l1.2 0 2.9 4.1 3.6 1.8 -1.6 0.4 -3-1 -1-1 -1.2-3.3zM340.7 132.9l1.3 1 1.5 2 0.7 3.9 0.8 1.8 0 1.3 -2.1-2.1 -1.9-5.9zM303.9 136.9l0.1 1.2 -0.5-0.2zM329 137.9l0-0.8 0.8 2.7 -0.1 1 -0.7 0.8zM301.9 138.8l1.1-0.6 0.3 0.6 -1.7 2 -0.6 2.3 -1-1.1 0-1zM311.2 145.7l2.8 0 -3 2 -2 0.6 -2-0.5 -1.3-1.1 4.3-0.5zM348.8 150.6l2.2 0 0 4.6 -3-0.1 -0.6-0.5 0.5-3zM344.1 156.6l1.9 0 0.8 3.9 -0.2 2 -0.4 0.9 -1.7 2 -1.5 1 -1 0.2 -0.4-0.2 2.3-2 0.8-1.9 -0.6-2 -1.1-0.8 -1.1-0.2 -0.5-1zM332.7 164.4l0.3-0.4 0.3 0.4 -0.1 3 0.8 1.3 2 0.3 3-1.1 0.4 0.5 -4.4 2.9 -3 0.8 -2.1-0.8 -0.5-1zM339.6 167.4l1.4-0.5 0.2 0.5 -1.2 0.3zM323.7 173.3l0.7 0 1.4 1 1.1 1.9 0.2 2 -3.2 0z"/>
<path fill="#00ccff" d="M289 110.3l1.5 0 0 1 -0.4 2.9 -1.5 1zM313.1 116.2l1.8 0 3.1 2.9 3 0.8 1.3-0.7 0.3-2 -0.6-1 2.1 0 0.9 1 0.6 2 1.5 1.9 0.9 0.7 4.3 1.3 0.7 0.7 0 0.6 -4.8 0.7 -0.7 0.9 0.1 2 1.3 3 0.1 2.9 -1 0 -1-1 -2-0.9 -5 0 -2-1.8 -2-0.7 -4-0.4 1-0.3 1-0.8 7 0.5 1-0.7 0.9-1.8 -0.2-1.9 -1.7-1.4 -6.2-3.5 -0.9-1zM338.3 131l0.7-0.7 1 1.4 0.2 1.2 0.8 1 1.2 3 0.6 2.9 1.6 3 -0.9 0 -1.8-1 -2-2zM329 134.9l0-0.9 2 1.8 2 2.7 0.4 1.3 -0.3 1 -2.1 2 -2 0.4 -0.6-0.4 1.3-3 -0.7-2zM305 135.9l0.1 2 -1.6 3.9 0.1 2 -0.6 0.4 -1.1-0.4 -0.7-1 -0.2-1.3 3.8-4.6zM310.6 144.7l3.4 0 -5 1.8 -2-0.1 -2-0.7 0-0.5zM347 150.6l2.9 0 -0.8 1 0 1 0.8 1 1.1 0.1 0 9.3 -3 0.9 -1.9 1.5 -1.1 0.2 -0.5-0.2 1-1 1.1-2.9 -0.8-3 -0.8-1 -1-0.2 -2.4 1.2 -1.1 0 2.5-4.5 3-2.1zM296.7 162.5l1.3 0 0 0.9 1 1 1 1.9 -0.2 1.1 -0.8 0.6 -1-0.6 -1-2.9 0.3-1.1zM332.4 163.4l0.6-0.3 0 0.9 -2.7 5.3 -0.1 1 0.8 1 2 0.3 2-0.6 4.4-2.6 1.6 0 -1.5 0.9 -2.5 3 -5.9 2.9 -0.7 1 -0.2 2 -3.7 0 -0.2-2 -0.8-1.9 -0.9-1 1.4-0.2 2-1.8 0.8-1 0.2-2 1-1.9 1-1.6z"/>
<path fill="#00ffff" d="M287.9 110.3l1.2 0 -0.1 2.1 -1 2.8zM314.7 116.2l7.6 0 0.8 1 -0.1 2.5 -1 0.7 -2.6-0.3 -3.2-1.9 -0.4-1zM346 119.2l0-1 0.9 1zM346.8 120.1l0.2-0.9 4 0.6 0 2.3 -2-0.3zM328.2 124.1l3.8-0.2 1 0.4 4.9 4.7 0.2 1 0.9 1.2 0 2.7 1.3 5.9 3.2 3 -0.5 0.4 -6-1.3 -2 0.5 -3 1.4 -3 0.4 -0.3-0.4 0.3-0.4 1-0.2 1.7-1.4 0.9-2 -0.8-1.9 -1.4-2 -1.4-1.2 -1-1.8 -0.1-1.9 -1.4-3 0.2-2.9zM313 129l4.9 1 2.4 1.9 -0.3 1 -1 0 -2-1.7 -3-0.1 -3 0.6 0-0.9zM306.7 134.9l0.3-0.7 0.5 0.7 -1.3 3.9 -0.1 3 0.6 1 1.3 0.6 2.5 0.4 2.3 0.9 -6.8 0.7 -2-0.7 -0.8-0.9 -0.2-2 3-6.3zM282 138.8l3.2 0 1.8 2.8 0 1.6 -1-0.9 -4-1.2zM343.7 143.8l0.3-0.4 1 0.4zM329 149.7l0-0.3 0.3 2.2 -0.3 1.2zM343.8 151.6l2.2-0.7 0.3 0.7 -3.3 2.9 -1.9 3 -0.5 0 0.4-3 1-1.5zM294.7 161.5l1.3 0 6 5.9 2 1.5 0 1.6 -0.8 0.8 -1.2 0.3 -5-0.6 -2-4.1 -0.8-3.5zM350.5 161.5l0.5-0.2 0 3.6 -2 0.1 -2.6 1.4 -2.4 0.5 -0.1-0.5 1.1-0.1 5-4.8zM330.7 163.4l1.3-0.5 0.3 0.5 -1.7 2 -1.6 3.3 0-2.3zM340.8 168.4l1.2-0.4 0.3 0.4 -1.9 1.9 -0.4 1 0 2.2 -1.8 2.7 -0.2 2 -8.3 0 0.4-3 1.4-0.9 4.5-1.7z"/>
<path fill="#33ffcc" d="M287.1 110.3l1 0 -0.1 3.4 -0.9-2.4zM346 117.2l1 0.7 4 0.2 0 2 -4-0.7 -1-1zM312 131l4-0.1 2.2 1 -0.2 0.8 -1-0.5 -2 0.1 -4 1.3 -1 0.9 -1.8 3.4 -0.4 1.9 0.8 2 3.4 1.5 2.1 0.5 -5.1 0 -2-0.5 -1-0.5 -0.4-2 1.4-5.4 1.9-2.5 1.1-0.2zM282 138.8l1.8 0 -0.5 1 0.7 1 2 1.4 0.3 0.6 -0.3 0.6 -4-0.3zM335.7 141.8l1.3-0.4 1 0.2 6 2.2 -3 0.1 -4-0.6 -3 1 -2.5 1.4 -1.3 1 -0.2 1 1 3.2 0 1.7 -1 1.4 -1 0.2 -0.2-0.6 0.8-2 -0.6-1.6 0-2.3 -1-1.3 0-1.7 3-0.6zM343.9 150.6l2.2 0 -3.1 1.6 -1.4 1.4 -1 2 -0.6 2.1 -0.3-1.1 0.2-2 1-2 1.1-1.1zM292.6 159.5l2.4 1 0 0.9 -0.6 1.1 0.2 1.9 1.1 4 1.3 1.9 1 0.6 3 0.3 2-0.1 1-1.1 0 1.5 -0.9 0.8 -6.1-0.1 -1.9-0.9 -3.1-8.8 -0.2-2zM329.9 162.5l2.1-0.5 0.3 0.5 -2.3 1.9 -1 2.3 0-2.9zM347.8 165.4l3.2-0.5 0 0.9 -2 0.1 -2 0.7 -1-0.2 -0.5 1 -3.4 2.9 -1.1 3 -1 1 -0.8 0 0.5-1 0-2 1.3-2 3.9-2.9 1.1 0zM337.9 175.2l1.1-0.6 0 3.6 -3.6 0 0.1-1 0.6-1z"/>
<path fill="#66ff99" d="M286.1 110.3l1 0 -0.1 4.9 -1.3 0 0.5-1zM346 116.2l1 0.6 4 0.2 0 1.3 -4-0.4 -1-0.7zM312 132.9l3-0.5 3.1 0.5 -3.1 0.5 -2 0.9 -1.6 1.6 -0.9 2 -0.3 1.9 0.4 1 3.4 1.9 1.1 1.1 -1.9 0 -1.2-0.8 -2-0.2 -1.9-1 -0.4-1 0.3-3.2 1.8-3.7 1.2-0.8zM282 143.8l0-0.7 4.3 0.7 -0.3 0.4 -4-0.1zM335 143.8l2-0.4 4.1 0.4 1.2 0.9 -5.3 0 -2 0.6 -1 0.7 -1.3 1.7 0 4.9 -0.7 1.8 -1.3 1.2 -1.7 0.1 -1-1.1 2.1-1 0.6-1 0.1-1 -1.8-5.2zM341.2 150.6l1.8-0.7 1.9 0.7 -1.9 0.3 -2.7 2.7 -0.8 2 -0.5 3.9 -0.2 0 -0.3-2.9 0.4-2 1.1-2.5zM289.7 156.6l1.3 0 3 2.9 0 0.7 -1.2 0.3 -0.5 2 3 8.8 0.7 0.7 3.5 0.3 -8.5 0 2-0.5 0.4-0.5 0-1 -1.7-4.9 -2.7-4.7 0-3.2zM330.8 160.5l1.2 0 2.2 1 -3.2 0.4 -1 0.7 -1.4 1.8 -0.6 2.1 0-3.2 1-1.9zM347.9 166.4l3.1-0.3 0 0.6 -3 0.1zM345 167.4l2.7 0 -1.7 0.5 -1.6 1.4 -1 2 -1 1 -0.8 0 0.3-2z"/>
<path fill="#99ff66" d="M284.3 110.3l1.8 0 0.2 3.9 -0.3 0.8 -4 0.2 1-0.2 0.9-0.8zM346 116.2l0-0.3 5 0.1 0 0.8 -4-0.2zM313.4 133.9l2.6-0.4 0.2 0.4 -1.2 0.5 -1.7 1.5 -0.7 2 0.4 1.9 2 2.5 0 0.7 -3.6-1.2 -1.3-1 -0.3-1 0.2-1.6 1-2.2 0.9-1.1zM282 144.7l0-0.3 5 0.3 -3 0.4 -2 0zM335.9 144.7l8.5 0 -2.4 2 -1 0.2 -2-0.7 -2-0.1 -1 0.3 -1.1 1.3 -0.5 2 0.5 4.9 -0.9 3.1 1 0.2 6-9.5 1-0.5 3.8 1.8 -3.8 0.5 -1.6 1.4 -1.8 4 0.1 2.9 -1.2 2 -0.5 0 -1 1 -2.2 0 -1.8-0.8 -2 0.2 -1.6 1.6 -0.4 2.5 -1-1.2 0.1-5.3 -1.1-2.9 4-0.1 1.5-0.9 1.1-2 -0.3-4.9 1.7-2zM288.9 156.6l0.1-0.4 0.9 0.4 -0.8 1.9 0.2 2 2.7 5.3 1 2.5 0.6 3 1.2 1 -2.8-0.1 -1-0.7 -2-0.2 0-0.3 1.8-0.7 0.3-1.9 -0.7-3 -2.4-4.4 0-2.9 0.7-0.6zM347.5 167.4l3.5-0.3 0 0.6 -3 0.3 -2 1.4 -2 2.3 -0.6-0.4 1-2z"/>
<path fill="#ccff33" d="M282 110.3l2.7 0 -0.3 3.9 -0.5 1 -1.9 0zM346 115.2l0-0.3 5 0.1 0 0.7zM316.2 133.9l1.6 0 -0.8 0.3zM314.1 134.9l1.9-0.7 0.2 0.7 -1.7 2 0 1.9 0.8 3 -0.3 0.7 -2-2 -0.7-1.7 0.7-2.8zM282 145.7l0-0.3 5 0.3 -1 0.4 -4 0.1zM342.5 145.7l1.5-0.3 0.8 0.3 -0.3 1 0.9 2 -0.4 0.4 -3-0.5 -1 0.5 -1.3 1.5 -2.3 4 -1 2.9 -0.4 3 -1.2 0 -0.9-1 -1.8-1 -0.2-1 1.8-1.9 0.7-2 -0.2-3.9 0.4-2 0.7-1 1.7-0.9 4 0.6zM325 156.6l1-0.8 1.3 0.8 1 1.9 -1.1 3 -0.2 4.8 -3-6.8 0-1.2zM288 160.5l0-0.5 0 2.5zM289 163.4l0-0.2 2 3.6 0.4 2.5 -0.4 1.5 -3-0.5 1.3-2.9zM327.7 167.4l0.3-0.2 0 2.2zM347.3 168.4l3.7-0.5 0 0.9 -2 0.2 -2 0.9 -2 1.6 -0.3-0.2 0.3-1z"/>
<path fill="#ffff00" d="M346 114.2l0-0.4 5 0 0 1 -4-0.1zM291.7 128l1.3-0.4 0.4 0.4 -0.4 1.5 -1 0.7 -0.6-0.2 -0.5-1zM317.6 133.9l0.7 0 -0.3 0.9 -1.8 2.1 -0.2 6.2 -1.6-4.3 0-1.9 0.5-1zM344.8 145.7l0.2-0.2 1 2 0 1.4 -1.4-1.2 -0.2-1zM282 146.7l0-0.3 4 0 1 0.3 -3 2 -0.9 1 -0.1 0.7 -1 0.7zM336.9 148.7l0.5 0 0.2 1 -0.6 0.8zM323.4 156.6l1.7 0 -0.6 1.9 0 1 2.8 7.9 0.7 0.9 -0.8 1 -0.2 1.2 -0.8 0.8 -1.2 0.2 -0.2-0.2 0.8-2.9 -0.2-2 -0.8-2 -2.6-3.4 -0.6-1.5 0.5-2zM288.8 165.4l0.2-0.5 0.3 3.5 -1.3 1.9 0-2.8zM347.8 169.3l3.2-0.4 0 1.5 -3 0.2 -2 1.1 -0.3-0.4 0.3-0.6zM294 173.3l6.3 0 0.7 1 -7-0.5z"/>
<path fill="#ffcc00" d="M346 110.3l5 0 0 3.5 -5-0.2zM311.9 113.3l0.1-0.5 1-0.2 0.9 1.6 1.6 1 -3.6 0zM294 123.1l2-0.7 2 0.7 0.1 2 -5.1 4.9 0 1 -1 0.2 -0.9 0.7 -1.3 0 -1.7-1.9 -0.1-2 1.7-2zM317.7 134.9l1 0 -1.1 3 -0.6 4.6 -1-2.8 -0.1-1.8 0.1-1.1zM345.9 145.7l1.1 2 0.3 2 -0.3 0 -0.2-1 -0.8-1zM286.9 146.7l0.1 2.1 -0.8 1.8 0 4 -4.2 0.3 0-6.7 4-0.7zM287.1 155.6l0.9-0.2 0 1.1zM321.6 156.6l1.9 0 -1.3 0.9 -0.4 2 3.2 5.2 1.2 3.7 -0.2 1.9 -2 2 -1.2 0 -0.2-1 -0.2-5.9 -2.5-2.9 -0.9-2 0.9-3zM348.8 170.3l2.2-0.1 0 1.3 -3 0.2 -1 0.3 -0.2-0.7zM345.4 172.3l0.6-0.3 0.8 0.3zM294 174.3l1-0.5 7.9 0.5 -2 2.9 -0.1 1 -6.8 0z"/>
<path fill="#ff9900" d="M305.6 110.3l10.5 0 0.4 3.9 0.8 1 -2.2 0 -2.1-0.7 -0.7 0.7 -1.9 0 -1.4-1.3 -2.7-1.6 -0.6-1zM346 110.3l0.9 0 -0.2 1 -0.7 0.6zM293.9 121.1l2.1-0.7 2 0.6 1 1.1 0 2.7 -1-1.2 -2-0.8 -2 0.7 -3 2 -1.9 1.5 -0.9 2 0.2 1 1.6 1.9 2 0 -3.6 0 -1.4-0.9 -1-2 0.4-2 0.7-1 3.9-2.4zM319.7 133.9l0.9 0 -0.2 1 -2.4 7.1 -0.6-0.2 0.1-3.9 0.3-1zM346.3 145.7l0.7-0.1 3 2.9 1 0.2 0 1 -3.2 0 -0.8-1.2zM287 147.7l0.2 5.9 0.9 1 -1 2 -0.1 5.9 -0.3-3 -0.7-1.6 -2-0.8 -2-0.2 0-2.3 3-0.3 0.6-0.7 0.5-3zM319.7 156.6l2.1 0 -1.6 0.9 -0.8 2 0 1 0.4 1 3.2 3.9 -0.1 6.9 -1.2 0 -1-1 -1.7-3.5 -1-1 -5-0.7 -2.1-0.7 -1.1-1 -0.2-1 0.4-0.2 5-0.9 1-0.4 2-3.6zM305 172.3l0-0.3 0.5 2.3 -0.1 3.9 -6.1 0 0.1-1 0.9-1 1.7-1.1zM346.8 172.3l4.2-0.7 0 0.9 -4 0.1z"/>
<path fill="#ff6600" d="M301.2 110.3l5.6 0 0.6 2 2.9 2.9 -2.3 0.1 -2-0.8 -4-0.2 -0.6-1zM315.7 110.3l2.5 0 0.3 3.9 0.6 1 -2 0 -0.8-1zM294.5 119.2l3.5-0.8 1 0.7 0.7 2 -0.7 2.2 -0.3-1.2 -1.7-1.4 -2 0.1 -7 4.8 -1.4 1.4 -0.3 1 0.2 2 0.7 1 2.8 2 -1.7-0.1 -2.3-0.9 -2-2.2 -1-0.7 -1-0.1 0-3 2-0.3 5-2.1zM321.5 132.9l0.8 0 0.2 1 -0.4 4 -1.8 2.9 -2.3 2.1 1-4.6 1.7-4.4zM346.4 144.7l1.2 0 1.4 0.8 2 0 0 4.2 -1.7 0 -0.7-2zM282 156.6l4 0.8 0.5 2.1 0 2 0.8 1.9 -0.3 0.8 -3-3.6 -2-0.6zM318.3 156.6l1.7 0 -1.5 0.9 -1.5 3.8 -1 1.2 -4.6 0.9 -0.4 1 2 1.2 5 0 1 0.6 1.8 5.1 -0.8 0.3 -2-1.8 -3-1.2 -6-1 -3 0.7 -0.5 1 0.1 1 0.4 1 1 0.9 0.8 2.1 0.5 3.9 -3.6 0 0.5-5.9 -0.2-3.9 -2-2 -1 0 -2-2.1 1 0 4-4.9 2-0.2 4 1.7 3 0.1 1.9-1.5zM320.7 172.3l0.3-0.7 0.6 0.7zM342.6 173.3l8.4-0.5 0 0.7 -8 0.6zM340 175.2l0.5 0 -0.4 1 0 2z"/>
<path fill="#ff3300" d="M297.5 110.3l4.4 0 0.5 3 1.6 0.8 3 0.5 1 0.6 -0.5 1 -1.5-0.3 -2 0.7 -2.7 2.6 -1.3 3 -0.3-1.1 -1.4-1.9 -1.3-0.5 -1 0.1 -2 0.8 -4.1 3.5 -5.5 2.9 -1 1 0 1 2.6 3.6 2.5 1.3 -3.7 2 -0.7 1 0 2 -2.1 0 0-14 4-0.3 2-0.8 4-3.8 3.9-2.8 0.8-1 0.6-1.9zM317.8 110.3l4.1 0 -0.1 3.9 -0.4 1 -2.6 0 -0.6-1zM322.1 132.9l2 0 2.8 2 -0.1 2 -2.8 4.2 -3.2 1.7 -1.8 0.3 -0.5-0.3 2.1-3 1-1.9 0.5-3zM347.5 144.7l0.5-0.3 3 0 0 1.3 -2-0.2zM288 148.7l0.3 2.9 0.9 2 0.9 1 -1.1 0 -1-1zM297.9 150.6l2.1-0.9 1 0.2 1 1.1 1 3.5 1 1 1.3 1.1 5.7 2.6 3 0.1 3-2.3 0.3 0.5 -1.3 2.2 -1 0.9 -3 0.5 -5-1.3 -1 0.1 -0.8 0.6 -1.2 2.1 -1.7 1.8 -1.3 0.3 -1-0.3 -1-1 0-1.1 0.8-0.8 0.8-2 0-2 -1.6-0.8 -2-0.1 -1 0.3 -1.4 1.6 -0.6 0 0-1 -2-1.9 -1 0 0-0.4 2 0.3 1-0.5zM282 159.5l1.5 0 1.5 1.3 0.7 1.7 1.3 1.1 0 2.9 -1-1.4 -2-1 -2-0.3zM306.2 167.4l1.8-0.5 7.2 1.5 2.8 1.2 1.3 1.7 -5.3-1.3 -3 0.7 -0.6 0.6 -0.8 2 0.2 4.9 -1.9 0 -0.4-3.9 -2.5-4.1 0-1.8zM341.6 174.3l9.4-0.6 0 1 -3 0.2 -2.8 1.3 -0.6 2 -4.6 0 0-2.2z"/>
<path fill="#ff0000" d="M295.8 110.3l2.1 0 -0.4 3.9 -1 2 -3.5 2.3 -3.9 3.6 -1.7 1 -5.4 0.9 0-1 4-0.3 2.4-1.6 3-3.9 2.8-2 1.5-1.9zM320.9 110.3l5.2 0 -0.1 1.6 -0.9 2.3 -1.7 1 -2.4 0zM304.3 116.2l1.7-0.3 2 0.3 -2 0.3 -5 4.8 0-2.1zM335 122.1l2-0.8 1.3 0.8 0.8 2 -0.6 1.9 -1.5 1 -2-1.9 -0.5-1zM324 132.9l1 0 1 1 1 0 1 1 0 4.2 -1 2.1 -1 1.7 -2.8 0.9 -5.3 0 1.1-0.2 4-2.3 1.5-1.5 0.8-1.9 0.1-3zM285.1 133.9l3.5 0 -2.5 2 -0.9 2 -1.8 0 -0.4-0.6 -1-0.1 0-2zM346 143.8l5-0.3 0 0.6zM301.4 146.7l1.6 0 1.4 6.9 2.6 2.7 6 1.9 1-0.2 2-1.6 1-0.2 0.2 0.4 -3.1 2.9 -1.1 0.2 -1.6-0.2 -5.4-2.5 -3-0.4 -0.9 0.9 -2.1 4.3 -1 0.8 -2-2 -1-0.1 -1-1 -0.3-2.9 -4.8-2 -0.9-1 -1-3.1 1-0.1 2 2.2 2-0.1 2-1.1 4-3.7zM299 150.5l-2.6 2.1 -0.8 2 0.4 0.7 1 0.2 5 0.7 0.3-2.6 -0.6-2 -0.7-0.9 -1-0.4zM282 163.4l1.1 0 1.9 1 1 0.7 0 1.2 -4-0.8zM286.3 166.4l0.7-0.1 0 1.2zM310.8 170.3l4.2-0.2 3.3 1.2 -4.3-0.2 -2 0.8 -1.5 2.4 -0.4 3.9 -0.3 0 -0.3-5.9 0.3-1zM345.8 175.2l5.2-0.4 0 2.3 -1.1 0.1 -0.3 1 -6.1 0 0.6-2z"/><path d="M294.9 112.4l-0.6 1.8 -1.3 1.3 -3.5 1.7 -0.3 1 -2.2 2.6 -2 0.9 -3 0.3M325.1 115.2l2.5-1.9 0.8-3M300 123.2l5.4-5 3.6-2.3 1-0.1M299 125.8l0.7-1.5M338.5 127.6l1.6-0.6 0.8-1.9 -0.2-3 -1.1-2 -1.6-0.9 -2-0.3 -1.4 1.2 -0.8 2.7M286.1 137.9l1.3-2 3.5-3M327.7 141.1l0.3-0.6M351 142.3l-5 0.9M316.5 144.2l4.5 1.3 2 0.1 3-0.5 0.7-0.4 0.3-1M302.6 145.4l-1.6-0.2 -1.9 0.5 -4.1 4.1 -2 1 -2-0.1 -3-3M321.6 155.6l-4.6-0.7 -5 1.6 -5-1.4 -1-0.5 -0.5-1 -1.3-6.7M282 167l4 0.6 1 1.1M310.7 178.2l0.2-2 1.1-2.5 1-1 2-0.5 6.5 0.6" fill="none" stroke="#d8f08a" stroke-width="0.45" stroke-opacity="0.5"/>
<rect x="361.2" y="110.3" width="69" height="67.9" fill="#80ff80"/><path fill="#000099" d="M384.4 110.3l3.3 0 0.3 2 1.7 2.9 -0.5 0.3 -4.1-2.2 -0.5-1zM396.6 110.3l2.7 0 0 2 0.8 1.9 4.1 3.6 1.1 0.4 4.9 3.4 6 2.5 1 2.2 0.4 2.7 0.6 1.1 0.1 6.8 -0.4 1.9 1.1 5.9 -2.2 4 0.1 2.9 -0.5 4 -0.2 1 -1 0.9 -2.3 1 -10.2 3 -8.5 0.6 -3.7-0.6 -4.3-1.9 -1-1.2 -0.8-2.8 0.7-2 0-2 -2.3-7.8 0.3-2 0.7-1 3.4-2.8 1.9-0.1 7.4 4.9 0.7 1.9 -1.8 0 -2.2-1.7 -5-2.1 -1 0.1 -1 0.7 -0.8 2.1 0.2 9.8 1.4 3.9 1.2 1.2 3 1.5 2 0.2 3-0.2 12-3 2.2-1.6 3.1-5 2.7-12.2 1.5-3.5 0-1 -0.5-2.6 -1-0.8 -1.7-3.5 -1.7-1.9 -2.6-1.4 -5.1-1.6 -4.9-3.6 -3-4.5zM424.2 110.3l6 0 0 4.9 -2-0.2 -2-0.8 -1.7-1.9zM380 117.2l1.2 0.2 1 0.8 2.6 2.9 -0.6 0.6 -4-1.1 -7 4.3 -2.4 2.1 -6.6 9.3 -1 0.7 -2 0.3 0-5.2 2-0.2 2-1.3 4.5-5.5 4.5-3.1 4-4.1zM426.2 133.9l2 0.7 2 0.1 0 7.6 -4-0.4 -0.7-1.1 0.8-4.9zM361.2 150.6l3 0.4 1 0.4 1 1.1 1 2.1 -0.3 2 0.3 0.9 3.4 8.9 1.6 1.4 3 1.1 3 3.7 4.6 2.6 0.7 1 0.3 2 -8.9 0 -0.2-3 -0.6-1.9 -1-1 -3.9-2 -1.6-3.9 -1.4-1.8 -2-1.1 -3-0.5 0-6.1 1-0.2 0.4-1.1 -0.4-0.7 -1-0.1zM425.9 172.3l4.3-0.9 0 6.8 -21.2 0 0.6-2 1.5-1 10.1-1.4zM402 173.3l0.3 0 0.3 1 0.2 3.9 -2.4 0 0.2-2z"/>
<path fill="#990000" d="M386.1 110.3l3.1 0 0.3 2 1 1.9 0.3 2 -0.6 0.1 -2-2.4 -1-0.6 -1-1.8zM395 110.3l3 0 0.6 3.9 1.3 2 2.3 2.1 5 3.2 6.5 2.6 1.5 1 1.5 3.9 1.5 2.8 0 3.1 -1.3 3.9 -1.4 6.9 -0.4 6.9 -1.2 3 -3.2 1.9 -3.2 1 -8.7 2 -4.6 0.6 -4.1-0.6 -3.9-2.3 -1-2.5 -0.1-6 -0.8-5.9 0.9-2.8 2-1.3 2 0.1 4.7 3 0.8 1 -1.5 0 -5-1.8 -1.3 0.8 -0.5 1.9 -0.1 7.9 1.2 4 2.7 2.4 2 0.7 2 0.2 4.3-1.4 7.7-1.6 2.6-1.3 3.9-6.9 0.7-2 1.4-4.9 1.3-6.9 -0.7-3 -4.2-6.1 -2-1.4 -7-2.1 -2-1.4 -4.3-6.7 -0.7-1.9zM422.9 110.3l3.1 0 0.4 2 0.8 0.9 1 0.5 2 0.1 0 2.2 -3-0.5 -2.3-1.3 -1.8-1.9zM379.1 119.2l2.1-0.1 4 2.9 2.1 0.1 -2.1 0.3 -4-0.5 -1 0.2 -5 2.4 -3.9 3.5 -7.1 10 -1.9 0.8 -1.1 0.1 0-3.8 2-0.4 1-0.7 6.1-8 4.9-3.4zM426.7 133.9l3.5 0.1 0 6.8 -1 0 -1.3-1 0.3-2.9zM361.2 150.6l0-0.4 1 0 2 0.2 1 0.6 1.6 2.6 0.4 0.1 0.7 2.9 1.5 2.9 1.3 3.9 1 2 4.5 3 3 3.8 5.1 3 0.7 1 0.3 2 -3.2 0 -0.4-2 -4.5-2.2 -2-3.1 -1-0.7 -3-0.7 -1-0.7 -4.3-8.3 -0.2-2 0.4-3.9 -0.2-1 -0.7-1.1 -4-0.8zM428.5 169.3l1.7-0.2 0 4.8 -16 2.1 -2 1 -0.3 1.2 -4.9 0 0.7-2 1.4-1 2.7-0.9 10.4-1.7zM402.2 173.3l1.1 1 0.9 3.9 -2.4 0z"/>
<path fill="#0000cc" d="M382.7 110.3l2.6 0 0.3 2 3.1 2.9 -0.5 0.4 -4-0.2 -0.9 0.8 0.2 2 1.2 1.9 2.2 1 -2.2 0 -3.5-2.8 -2 0 -4.2 3.8 -4.8 3.2 -6 7.5 -1 0.6 -2 0.4 0-3.9 2-0.1 2-1 4-4.7 4-2.6 1.4-1.4 2-2.9 1.2-1 2.4-0.4 2-1.1 0.5-1.4zM398.8 110.3l1.4 0 0.1 2 1 1.9 2.9 2.9 3.9 1.1 4.1 3.5 2.2 0.4 2.8 1.7 1 2.6 0 4.4 -1.7-4.8 -1.3-1.7 -7.2-3.2 -5.8-3.8 -2-1.7 -1-1.5zM427.4 110.3l2.8 0 0 2.4 -2.1-0.4zM425.9 134.9l0.3-0.8 0.8 2.8 -0.5 2.9 0.3 1 1.4 0.8 2 0.1 0 1.7 -5 0.5 -1 0.8 -1.3 2 -3.9 2 -0.8 1 0 1 -0.9 1.9 0.3 4.9 -0.4 0.7 -8 2.7 -3.6 2.5 -1.4 0.5 -5-0.8 -6 0.1 -4.7-1.7 -3.3-2 -0.1-1 -0.9-1 0-3.1 0.3 0.2 0.3 2 1.4 2.5 4 2 3 0.6 2 0 8-1.5 8-2.1 3-1.3 1.1-1.2 0.6-2 0.3-7.4 2-10 1.3 3.6 1.7 1.7 1 0 1.7-1.7zM387.3 135.9l1.9-0.5 1.4 0.5 3.6 2.8 3 1.6 1 1.1 0.2 1.4 -1.2 1.9 -0.4 0 -2.6-2.5 -5-3.2 -2-0.1 -1 0.4 -1.7 1.5 -0.9 2 0.9 6.9 -0.3 1.5 -2.9-6.5 -0.2-1.9 1-2zM361.2 152.6l1.9 0 1.4 1 0.3 2 -0.6 4.9 0.4 1 2.6 2.8 2.4 5 1.6 1.1 3 0.9 0.9 1 2 4.9 0.1 1 -4.1 0 -0.3-3 -0.5-0.9 -4.1-3.3 -0.9-1.7 -0.4-1.9 -0.7-0.9 -2-1.3 -3-0.4zM400.3 174.3l0.9-0.6 0.3 0.6 -0.5 3.9 -1.9 0 0.1-2zM425.3 176.2l4.9-0.3 0 2.3 -13.8 0 0.9-1 4.9-0.3zM377.5 177.2l1.7-0.7 1 0.2 0.4 1.5 -3.3 0z"/>
<path fill="#cc0000" d="M387.6 110.3l2.5 0 1.2 4.9 -0.1 4.2 -0.2-3.2 -3.1-3.9zM394.2 110.3l2.5 0 0.1 2 1.1 2.9 1.4 2 2.9 2.8 4 2.4 5.2 1.7 2.8 1.9 1.3 3 1.7 1.9 0.3 3 -0.2 2 -0.7 1 -1.8 6.9 -1.4 7.8 -2.7 4 -1 1 -2.5 0.9 -7 1.4 -5.3 1.6 -1.7 0 -3.8-1 -2.2-1.6 -1-1.8 -0.8-12.3 0.8-2.3 1-0.7 1.4 0 5.4 3 -1.7 0 -3.1-1.1 -1 0 -1 0.9 -0.4 2.1 -0.1 6.9 0.9 3 1.6 2.2 2 1.3 4 0.2 2.2-0.8 7.8-1.5 2.9-1.4 4.5-7.9 1.2-3 1.7-8.8 -0.2-2 -0.7-2 -2.4-2.8 -2-3.4 -2-1.2 -6.2-1.4 -1.8-1 -1-1 -4.2-6.9 -0.7-1.9zM422.4 110.3l2 0 0.2 2 0.7 1 1.9 1.4 3 0.4 0 1.3 -2.4-0.2 -3.5-2 -1.6-1.9zM378.7 121.1l1.5-0.7 4 1.5 4 0.2 -8 0.5 -6 3 -2.5 2.4 -3 3.9 -3.5 5.7 -2 1.6 -2 0.2 0-2.3 2-0.3 1-0.7 7-9.6zM427.1 133.9l3.1 0 0 0.7zM361.2 150.6l0-0.6 4 0.6 0 0.4zM367 153.6l0.2 1 1 1 0.6 1.9 1.4 2.5 1.5 4.4 1.5 1.6 3 1.9 3 3.8 5.8 3.5 0.7 1 0.3 2 -2.3 0 -0.3-2 -0.7-1 -4.5-2.5 -3-3.6 -4-1.6 -0.9-1.1 -3.1-8.1zM428 168.4l1.2-0.8 1-0.1 0 4.2 -2 0.1 -4.4 1.5 -5.2 1 -6.4 0.6 -2.3 1.3 -0.5 2 -6.6 0 0-3 0.4-1.2 2 2.7 1-0.1 2-1.4 2.6-0.9 9.4-1.5 3-1 2-1.1z"/>
<path fill="#0000ff" d="M381.3 110.3l1.8 0 0.2 3 0.6 0.9 3.4 1 1.9 1 0.6 1 -3.6-0.5 -0.7 0.5 -0.4 1 0.4 1 2.4 1.9 -2 0 -2-1.9 -1.7-2.9 -3-0.5 -0.5-0.6 1.9-1 0.4-0.9zM400.1 110.3l0.5 0 0 1 0.6 0.9 0 2.1 -1-1.8zM377 116.2l1.3 0 -1.1 0.7zM375.8 117.2l1.1 0 -1.7 2.6 -2.5 2.3 -3.5 2.3 -4 4.8 -2 1.1 -2 0.2 0-2 3-0.7 4.9-4.7 3.1-2.2zM404.7 117.2l4.9 0 1 2 1.6 1.5 2 1.2 1.7 0.2 -0.7 0.4 -2-0.4 -2.2-1 -3.8-3zM389.7 118.2l0.5-0.9 0 1.9zM417.8 125.1l0.4-0.7 0 3.6zM388.1 133.9l1.4 0 3.1 1 4.8 3 2.8 2.7 0.1 1.2 -2 2 -0.3 0 0-1 -0.8-1.6 -3-1.5 -4-3.3 -2-0.3 -2 1.2 -3.7 3.5 -1 2 0.2 1.9 1.8 5 0.7 0.9 0 3.4 -0.4-2.4 -1.6-1.9 -2-4 -0.2-3.9 0.2-1 1-0.3 3.9-3.6 1.1-2.1zM425.1 134.9l0.3 0 0.1 1 -0.3 1.6 -2 5.1 -2-0.2 -1-0.6 -1.1-2 0.1-3.5 1 2.2 1 0.8 1-0.1 1.4-1.3zM423.4 143.8l0.8-0.7 6 0.3 0 1.2 -3 0.4 -1.2 0.7 -1.2 3 2.4 0.7 3 0.3 -5.5 0 -0.5-0.7 -3 0 -1 0.2 -1.5 1.4 -0.5 1.2 -0.3-0.2 -0.1-1.9 0.4-1 3.7-2zM417.9 156.6l0.3 0 0 1.2 -0.6-0.3zM415.5 158.5l1.7-0.6 0.2 0.6 -1.2 1.1 -4 1.3 -2 1.2 -1.9 2.3 -0.4 2 -4.6 0 -2.1-1.7 -1-0.2 -7 0 -4.4-2 0.4-0.7 4 1.3 11-0.1 4.9-2.5zM387.2 161.5l1.7 0 -0.7 0.4zM361.2 165.4l0-0.9 3 0.4 2 1.2 0.8 1.3 -0.8 0.3 -1-0.9 -2-0.8 -2-0.1zM367 168.4l0.2-0.7 0.5 2.6 -0.5 0zM368.1 171.3l0.1-0.6 4 2.6 1.1 1.9 0.2 3 -1.9 0 -0.6-3 -1.8-1.8 -1-0.3zM400.3 173.3l1 0 -1.5 1.9 -0.4 3 -1.3 0 0.1-2.3 0.9-1.6z"/>
<path fill="#0033ff" d="M380.2 110.3l1.2 0 -0.2 2.9 -1 1.4 -0.5-0.4zM401 110.3l0.5 0 0 2 -0.3 0.2zM410.2 116.2l1.1 1 0.1 1 1.6 1.9 -0.8 0.4 -3-3.2 -1.4-0.1 1.4-0.1zM374.7 117.2l0.8 0 -1.3 2 -2 1.9 -4 2.9 -3 3.3 -1 0.8 -3 0.5 0-1.8 2-0.2 2-1.1 7.9-7.3zM385 117.2l1.2-0.7 3 0.6 0.4 1.1 -0.3 1 -1.1 1 -2 0 -1-1zM413 121.1l0.2-0.7 1.2 0.7zM386.5 133.9l6.7 0 2.2 1 1.8 1 2 1.6 1.1 1.3 0.4 2 -0.5 0.6 -2-2.5 -7-4.4 -2-0.4 -2 0.2zM419.2 133.9l0-0.7 0.7 2.7 1.3 1 1 0 2-1.8 0.3 0.8 -0.3 1.1 -1 1.8 -1 0.7 -1 0.1 -1-0.7 -0.5-2 -0.5-0.5zM385.1 135.9l0.1-0.4 0.5 0.4 -0.5 0.9zM384.1 136.9l0.9 0 -2.8 2.6 0-0.8zM380.8 139.8l1.2 0 -0.8 0.5zM379.2 141.8l0-0.4 0.6 0.4 0.1 2.9 4.3 7.8 0 1.1 -0.9 1 -0.1 1.2 0-2.2 -2-3 -1.2-3.9 -0.8-1.3zM426.9 144.7l3.3-0.2 0 5.2 -5-0.5 -1 0.6 -3 0.1 -2 1.2 -0.2-0.5 0.5-0.9 3.9-1 0.8-0.5 1.3-2.5zM416.1 159.5l1.1-0.3 0 0.6 -0.8 0.7 -2.2 0.5 -3.1 2.4 -0.6 1 -0.1 2 -4.1 0 1.3-1 0.9-2 2.2-1.9zM387.3 162.5l0.9-0.3 5 2.1 7.5 0.1 2.5 1.7 1.6 0.3 -3.3 0 -1.3-0.8 -5 0.4 -2-0.3 -3-1.3zM361.2 166.4l0-0.4 3.3 0.4 1.7 1.3 0 1.4 -2-1.5 -3-0.5zM367.2 172.3l0-0.5 4 3.3 0.5 3.1 -1.8 0 -0.2-2 -2.5-2.9zM399.1 173.3l1.3 0 -1.9 1.9 -0.4 3 -0.9 0 0-2.1 0.8-1.8z"/>
<path fill="#0066ff" d="M379.4 110.3l0.9 0 0 1 -0.1 1 -1 2zM401.9 110.3l0.6 0 0.2 3 -0.5 0.2zM403.1 114.2l0.1-0.3 0.4 1.3 -0.5 0zM409.1 116.2l2.3 0 2.8 4.1 -1.2-0.2 -1.7-1.9 -0.2-1 -0.9-0.8zM372.9 117.2l1.6 0 -9.9 8.8 -1.4 0.7 -2 0.3 0-1.9 3-0.4 2-1.3 5-5.2zM419.2 127l0-0.6 0.7 5.5 1.3 2 1 0.4 3-0.6 -3 3.5 -1 0.1 -1-0.9 -1-2.3zM392.5 133.9l3 0 2.6 1 1.1 1 2 2.8 0 3.2 -0.4-2.1 -2.6-3 -4-2.4zM383 136.9l1.1 0 -0.9 0.7zM382.1 137.9l0.8 0 -0.7 0.7zM379.2 145.7l0-0.5 0.3 1.5 -0.3 0.8zM379.7 147.7l0.5-0.1 1.2 3 1.8 2 0 5.2 -3.1-6.2 -0.6-2.9zM420 150.6l1.2-0.3 1.7 0.3 -2.7 0.7zM419.1 151.6l0.8 0 -0.7 0.8zM418.2 152.6l0.5 0 -0.5 3.1zM385.6 161.5l0.8 0 1.8 1.7 5 2.6 2 0.2 4-0.6 2.3 1 -5.3 1.2 -2.3-0.2 -2.2-1 -4.5-2.9zM413.4 161.5l1.8-0.4 0.3 0.4 -2.8 1.9 -1.1 3 -1.4 0 0.1-2 0.6-1zM361.2 167.4l2-0.2 2 0.9 1 0.9 0.1 1.3 -2.1-1.3 -3-0.5zM397.3 173.3l0.9-0.7 1-0.1 0.1 0.8 -1.4 1 -0.5 0.9 -0.4 3 -0.1-3zM368.1 175.2l0.1-0.7 1.1 0.7 0.6 3 -1.7 0z"/>
<path fill="#0099ff" d="M378.8 110.3l0.5 0 -0.1 3zM402.8 110.3l0.9 0 0.2 2 1.3 2.9 1.3 1 -1.5 0 -1.8-1.9zM411.5 116.2l0.9 0 -0.2 1zM369.7 117.2l0.5-0.3 3 0.3 -1.7 1 -3.3 3.3 -0.7-0.4 1.4-1.9zM412.2 117.2l1.1 0 0.2 1 1.7 1.9 0.3 1 -2.4-1.9zM366.4 122.1l0.8-0.7 0.4 0.7 -0.4 0.3zM364.9 123.1l1.3-0.7 0.3 0.7 -3 2 -2.3 0.2 0-1.4 3-0.3zM419.2 125.1l0-0.5 1 1.4 1.7 5 2.3 0.9 1 0.9 -1 1.2 -2 0.7 -1-0.1 -1-1.1zM395 133.9l3.2 0 1.3 1 1.7 2.4 0 1.6 -0.5-1 -2.5-2.8 -1-0.7zM383.1 135.9l1.1-0.4 0.1 0.4 -1.1 0.7zM382 136.9l1 0 -0.8 0.7zM381.1 137.9l0.8 0 -0.6 0.9 -0.6 0zM379.2 146.7l0.3 3 2.9 6.9 1.8 2.8 0.2 1.1 2.8 2.9 2 1.5 4 2.2 3 0.2 3-0.6 2.3 0.7 -1.3 0.2 -1.8 1.7 0.2 1 1.6 0.9 1 1.1 -3 0.3 -0.7 0.7 -1 1.9 -0.2 3 -0.3 0 0.3-7.9 -9.4-5.9 -2.7-2.9 -3-4.5 -2.3-4.4 -0.5-2.9zM422.4 150.6l1.6 0 0.2 1.2 -3 0.4 -1.3 1.4 -0.7 2.1 -0.8-1.1 0.8-2.2 1-0.9zM415.3 161.5l1.8 0 -0.9 0.3zM413.8 162.5l1.4-0.9 0.2 0.9 -1.9 1.9 -0.3 1.5 -0.4 0.5 -1 0 0.2-2zM361.2 168.4l1.4 0 2.6 0.9 1 1 0 1.6 -1-1.1 -2-0.7 -2-0.2zM367.9 176.2l0.3-0.3 0.2 2.3 -1.2 0 0-1.1z"/>
<path fill="#00ccff" d="M377.7 110.3l0.7 0 -0.1 3 -0.1 0.9 -1 0.2zM403.8 110.3l1.5 0 0.2 2 1.4 2.9 1.4 1 -2 0 -1.3-1 -0.9-1.9zM369.1 116.2l2.2 0 -1.4 1 -0.7 1.7 -2.8 3.2 -1.2 1 -4 0.8 0-1 3-0.2 2-1.6 1.6-1.9 0.3-2zM413.4 117.2l0.9 0 1.9 2.8 0.3 1.1 -0.4 0 -1.9-1.9zM419.2 124.1l0-0.4 1 0.3 1.1 1.1 1.3 3.9 1.6 2.6 0.7 0.3 -0.7 0.3 -2-0.3 -1-1.5 -1.4-5.3zM397.8 133.9l1.8 0 -0.4 0.6zM383 134.9l1.3 0 -2.1 1.7 -0.4-0.7zM399.6 134.9l0.6-0.4 1 0.9 0.4 1.5 -0.4 0.5zM380.9 136.9l0.3-0.4 0.7 0.4 -1.5 1.9 -0.4 0 0.1-0.9zM378 147.7l0.2-0.6 0.5 4.5 0.9 2 2 3.9 4.6 6.3 6 4.1 3 1.2 2 0.5 1.4-1.2 1.6-0.7 0.9 0.7 -0.8 0.9 0.9 2.4 -3-1 -1 0.2 -1.4 3.4 -0.4 3.9 -0.4 0 -0.3-5.9 -1.1-2 -9.4-6.9 -3-4 -3-5 -1.1-2.8 0.1-2.1zM422.5 151.6l1.7 0.1 0 1.2 -3 1.5 -2 3.3 0-2.8 0.6-1.3 0.7-1zM415.3 162.5l0.9-0.3 0.4 0.3 -2.4 3.3 -0.6 0.6 -0.7 0 0.6-2zM361.2 170.3l0-0.4 3.1 0.4 1.9 1.2 0 1.3 -2-1.2 -3-0.2z"/>
<path fill="#00ffff" d="M376.5 110.3l0.9 0 -0.1 3.9 -1 1 -1.1 0.1 0.8-2zM405.1 110.3l1.9 0 0.6 3 1.8 1.9 -2.7 0 -1.4-2.9zM368.2 116.2l1.2 0 -1.2 0.7zM414.2 117.2l0-0.3 1.1 0.3 3 3.9 3.9 3 1 1.4 1 5.6 -1.2-1.1 -1.9-4.9 -3.9-3.6zM367.1 118.2l0.1-0.6 0.5 0.6 -0.5 1.9 -2 2 -4 0.6 0-0.8 3-0.3 1-0.7 1.7-1.7zM383 133.9l2.2 0 -1 0.2 -3 2.3 -1.8 2.4 -0.2 0.9 0-2.3 1.1-1.5zM400.9 134.9l0.3-0.7 1.3 1.7 -0.1 4.9 0.4 2 1.4 1.9 1 0.8 1 0.2 0 1.3 -1 0.3 -2-0.5 -2.4-2.1 -0.2-0.9 1.3-1 0.3-1 -0.2-4.9zM378.1 144.7l0.1-0.5 0 3.1 -0.8 1.4 -0.1 1.9 0.6 3 2.9 4.9 3.6 4.9 2.8 2.4 4.2 2.6 2.8 2.4 0.7 2.5 -0.2 4.9 -0.7 0 -0.3-3.9 -2-4 -2.5-2.2 -4.4-2.7 -2.6-2.4 -6-9.8 0-4.2 1.4-2.3zM421.7 153.6l2.5-0.5 0 1.2 -5 4.7 0-1.6zM418.2 160.5l0-0.8 0.3 0.8 -0.3 1.3zM416.7 162.5l0.9 0 -2.1 2.9 -0.8 0 0.5-1.4zM400.9 168.4l0.6 0 -0.3 2.9 -1-2zM361.2 171.3l2 0 2.2 1 -0.2 0.6 -4-0.4z"/>
<path fill="#33ffcc" d="M375.1 110.3l1.3 0 -0.4 3.9 -1.8 2 -2.1 0 1.7-1 1.2-2.9zM406.9 110.3l1.7 0 0.1 2 0.8 1.9 -0.3 0.5 -0.9-0.5 -1.1-1.5zM414.1 116.2l1.2 0 1.3 1 3.6 4.2 3 2.1 1 1.8 0 4.8 -0.6-3.1 -0.8-1.9 -1.6-1.7 -3-1.9 -1.4-2.3zM365.8 119.2l0.4-0.4 0.4 0.4 -0.4 0.8 -1.2 1.1 -3.8 0.7 0-0.9 3-0.5zM382.8 132.9l1.7 0 -0.9 1 -1.4 0.4 -2.7 2.6 -1.2 2.9 -0.1 5.3 -1.5 2.6 -0.6 2.9 0.4 3 4 6.9 2.2 2.9 2.5 2.2 4.4 2.8 2.6 2.4 1.3 2.5 0.5 4.9 -1.6 0 -0.7-4.9 -1.8-3 -2.7-2.3 -6-3.7 -6.1-10.7 -0.2-3 0.3-2.9 1-3.9 1-1.2 0.6-1.8 0.4-3.9 2.6-3zM400.9 133.9l1.3 0 1.1 1 0.8 2 -0.3 3.9 0.3 1 0.4 1 2.7 2.6 0 1.3 -1 1.4 -1 0.7 -2.1-0.1 -1.9-1 -1.3-2 -1.5-1 2.8-0.1 2 1.2 0.9-0.1 -0.9-1 -0.6-1.9 0.3-5.9 -0.9-2zM423.8 154.6l0.4-0.4 0 1.5 -3.5 3.8 -3.5 5.3 -1 0.8 -0.5-0.2 0.5-1.1 1.7-1.8 1.3-3.5 1-1.4 2-2.1 1-0.3zM402 168.4l0.4 0 -0.2 1.5 -0.6-0.6zM361.2 173.3l0-0.8 4.2 0.8 0.8 0.7 0.1 4.2 -0.4 0 -0.1-2 -0.6-1.4 -2-0.9 -2-0.2z"/>
<path fill="#66ff99" d="M373.8 110.3l1.5 0 -0.1 1.5 -1.4 3.4 -0.6 0.5 -1.5-0.5 1.1-1 0.9-1.9zM408.5 110.3l1.7 0 0.4 3.9 -0.4 0.6 -1.5-2.5zM415.1 116.2l1.7 0 1.3 1 2.4 2.9 2.7 2.3 0.3 0.7 -0.3 0.5 -3.4-2.5 -3.2-3.9zM365.6 118.2l0.6-0.8 0 1.3 -1.6 1.4 -3.4 0.7 0-1.1 2-0.2zM423.7 124.1l0.5-0.3 0 2zM389.5 131l2.7-0.3 2 0.3 0.7 0.9 2.8 1 -14.5 0.1 -1 0.2 -2 1.3 -1.2 1.4 -1 2 0.2 2.1 -1 4 -1 1.4 -0.8 2.3 -0.7 3.9 0.8 3 5.3 8.8 1.4 1.4 6.9 4.5 2.1 2.6 1.1 2.4 0.3 3.9 -1.4 0 -0.2-3 -1.8-1.9 -0.3-2 -0.8-1 -2.9-2.6 -4.3-2.3 -1.7-1.8 -0.6-2.1 -4.4-6.6 -0.7-3.3 0.7-7.8 1-3 3-6 1.9-1.9 2.1-1 3-0.2 2 0.6 1.1-0.4zM402.1 133.9l1.2 0 1.9 1.9 0.2 5 1 3 -0.2 0.4 -1-0.5 -1.3-1.9 -0.1-5.9zM398.6 145.7l0.6-0.3 0.7 0.3 2.3 2.4 2 0.5 2-0.2 0 0.5 -1 0.8 -3.3 0 -1.7-0.9 -0.9-1.1zM424.2 155.6l-0.5 2.9 -2 2 -3.5 4.7 -1 0.7 -0.5-0.5 2.2-2.9 1.3-2.7 2-2.3 1.6-0.9zM415.2 166.4l1-0.4 0.5 0.4zM403.6 167.4l1 0 -0.9 1 -1.5 3.9 0-3zM361.2 174.3l0-0.5 4 0.4 0.7 1 -0.2 3 -2 0 -0.5-2 -2-0.4z"/>
<path fill="#99ff66" d="M372.5 110.3l1.2 0 -0.4 3 -1 1.9 -1.5 0 0.9-1zM410 110.3l1.5 0 0.7 3.9 1.8 1 -2.3 0 -0.5-0.4 -1-2.2zM416.8 116.2l1.5 0 5.8 5.9 -0.9 0.2 -1.7-1.2zM361.2 118.2l2-0.2 2-0.7 0.3 0.9 -1.3 1 -3 0.4zM391.1 129l2.3 0 2.8 0.9 1.6 1.1 0.5 0.9 0.9 0.6 3 0.4 -5 0 -1-0.5 -2.4-0.5 -1.6-0.8 -5 1.3 -3-0.7 -3 0.7 -2.9 2.5 -1.7 3 -1.9 4.9 -1.2 7.8 0.3 3 0.8 2 2.8 3.9 0.4 1 -0.6 0.2 -4-4.7 -1.4-4.4 0.4-7.1 1-3.4 4-6.7 2.5-2.5 1.9-0.9zM403.1 133.9l1.7 0 1.4 1.2 0.8 7.7 -1 0 -0.8-1.8 -0.1-5.1 -0.9-1.4zM397.3 145.7l1.3 0 0.9 2 1.7 1.5 3 0.5 2-0.2 0 0.2 -2 1 -4-0.1 -2-1.7zM424.2 156.6l0.4 2.9 -0.4 0.8 -1 0.6 -2 2.6 -3 2.9 -0.2-1 5.9-7.9zM378 161.5l0.2-0.6 0.5 1.6 -0.5 0.3zM383.1 167.4l0.1-0.5 1.4 0.5 -0.4 0.3zM404.6 167.4l2 0 -3.4 4.1 -0.4-0.2 0.4-2.2zM384.8 168.4l0.4-0.5 0.8 0.5 -0.8 0.3zM385.9 169.3l0.3-0.8 2.9 2.8 0.7 3 -0.6 0 -0.1-1 -1.9-1.9zM361.2 175.2l1.1 0 1.5 1 0.5 2 -3.1 0z"/>
<path fill="#ccff33" d="M371.1 110.3l1.4 0 -0.3 2.6 -1 1.5 -0.5-0.2zM411.5 110.3l1.6 0 0.5 3 2.4 1.9 -2.6 0 -1.4-1zM418.1 116.2l1.4 0 1.1 1 3.6 3.8 0 1.4zM361.2 117.2l0-0.3 4-0.3 0.1 0.6 -2 1 -2.1 0.1zM425.2 126l0-0.8 0.4 3.8 -0.4 2zM390.2 128l3-0.3 1.3 0.3 0.7 0.5 2.1 0.5 6.8 3.9 -2.3 0 -0.6-0.4 -3.3-0.6 -0.6-0.9 -2.1-1.3 -3-0.6 -9 1.4 -3 1.2 -2 1.6 -2.5 3.6 -2.9 5.9 -0.9 6.9 0.1 1.9 0.8 3 0.9 2 2.6 2.9 0.3 1 -0.4 0 -3-2.9 -0.3-1 -2.9-4 -0.2-2.9 1.4-7.9 1-2 4-5.9 2.9-2.9 1.8-1 3.2-1zM404.7 133.9l0.5-0.3 1.2 0.3 0.8 1.1 1 3.5 0 3.6 -1 1.2 -0.5-6.4 -0.7-2zM397.1 145.7l1.3 3 1.8 1.7 2 0.5 3.4-0.3 -0.8 1 -2.6 0.6 -3.6-0.6 -1.6-1.9 -0.2-2zM425 158.5l0.2 1.4 -0.4-0.4zM423.4 160.5l0.8-0.3 0.3 0.3 -0.3 1 -2 2.4 -2.9 2.5 -1.3 0zM406.3 167.4l1.4 0 -0.4 1.9 -2.1 2 -1 0.4 -0.6-0.4 0.6-1.2zM384.8 169.3l0.4-0.4 0.5 0.4 -0.5 0.4zM385.9 170.3l0.3-0.5 0.4 0.5 -0.4 0.5z"/>
<path fill="#ffff00" d="M369.8 110.3l1.5 0 -0.1 1.6 -1 2.6 -0.9-0.3zM413 110.3l1.5 0 0.2 2 2.9 2.9 -1.8 0 -1.8-1 -0.8-1.4zM368.5 115.2l0.7-0.9 0.3 0.9zM361.2 116.2l4.5 0 -4.5 0.5zM419.6 116.2l1.3 0 1.3 1.3 2 2.4 0 1.1zM425.2 124.1l0-1 2 4 0.6 1.9 -0.4 1 -1 1 -0.2 1zM391.3 127l2.9 0 1 0.8 2.7 0.2 5.5 3 2.8 2.1 -2.4-0.2 -7.6-4.3 -3-0.9 -10 1.6 -3 1.1 -2 1.5 -2.6 3 -4.2 6.9 -1.5 8.8 1.8 5 -0.7 0 -2.8-2.8 -0.3-2.2 2.2-9.8 1.1-1.9 5-6.7 4-3.2 3.1-1 6.9-0.6zM406.6 133.9l0.8 0 0.8 1.3 1.2 3.6 0 3 -1.2 2.8 -0.4-7.7zM396.1 146.7l0.1-0.7 0.5 2.7 1.5 2.4 2 1 2 0.1 3-0.7 1-1 0 2.1 -4 1 -1.4 0 -3.3-1 -1.6-2 -0.3-1.9zM374.1 159.5l0.1-0.7 0.8 0.7zM375.2 160.5l0-0.6 1 0.6zM424 161.5l0.2 1.8 -0.9 1.1 -2.3 2 -1.8 0.2 2.5-2.2zM408 167.4l1.4 0 -0.1 1.9 -0.8 1 -3 2 -2.3 0 1-0.4 2.7-2.6z"/>
<path fill="#ffcc00" d="M368.4 110.3l1.4 0 -0.4 3.9 -0.9 1 -1.5 0 1-1zM414.4 110.3l1.8 0 0.2 2 1.4 1.9 1.4 1 -1.7 0 -1.5-1 -1.3-1.9zM421.9 117.2l0.3-0.7 0.6 0.7 -0.6 0.3zM422.8 118.2l0.4-0.6 1 0.7 0.4 0.9 -0.4 0.7zM424.5 120.1l0.7-0.2 0.7 2.2 1.3 1.9 1 0.9 2 0.4 0 6.1 -3.6 1.5 -0.4 0 0-1.9 0.8-1 0.1-2 -1-2.9 -0.9-1.4 -0.1-2.6zM382.9 127l7.3-0.4 2.1 0.4 -6.1 0.6 -5 1 -3 1.8 -1.7 1.5 -5.7 7.9 -1.2 3 -1.8 8.8 -0.6 0.8 0-6.5 2-6.1 4-5.8 3.6-4 2.9-2zM394.2 127l4 0 2.8 1 4.6 3 0.6 0.5 0.5 1.4 -0.8 0 -6.7-4.2 -3-1.3zM407.7 133.9l0.7 0 0.8 1.4 1.3 3.5 0 3 -1.3 2.5 -0.3-0.5 0.7-4 -0.7-2.9zM395.2 146.7l0.7 3.9 0.7 1 1.6 1.2 2 0.6 3 0 4-1.8 0 1.2 -1 1 -2.4 0.8 -3.5 0 -3.6-1 -1.5-1.2 -1-2.7 0-1zM424 163.4l0.2-0.4 0 1.7 -3 2.7 -3 0.6 -5-0.2 -0.8 0.6 -0.4 0.9 -2.5 2 -2.3 1.1 -2.1-0.1 2.1-1.2 1.7-1.8 0.2-1.9 10.1-0.2 2-1z"/>
<path fill="#ff9900" d="M367 110.3l1.4 0 -0.3 3.9 -0.9 1 -3.5 0 1.5-0.2 1.3-0.8zM416 110.3l1.8 0 0.8 3 2.1 1.9 -1.7 0 -1.3-1 -1.5-1.9zM423 117.2l0.2-0.3 1 0.3 1.1 1 2.9 3.7 2 0.4 0 3.5 -2-0.4 -1.3-1.3 -0.7-0.9 -0.3-2.1 -1.1-1.9zM382.2 126l8-0.5 8.1 0.5 5.9 2 2 1.7 2.4 3.2 -0.4 0.5 -1-0.4 -1-1.5 -5-3.2 -2-0.9 -5-1.2 -8 0.3 -5 0.9 -2 0.9 -3.3 2.7 -6 7.8 -1.4 3 -1 3.9 -0.3 3 -0.4 1 -0.6 0.3 -1.5-4.3 5.5-9.9 4-5.1 2.8-2.7 1.9-1zM428.3 131.9l0.9-0.6 1-0.1 0 1.4 -3.7 0.3zM408.6 133.9l0.6-0.4 1.1 1.4 1 2 0.4 2.9 -0.5 3.3 -1 1.5 -1 0.4 0-0.7 1.4-2.5 0.2-2zM393.8 146.7l1.4-0.9 0 1.1 -0.7 0.8 -0.1 1 0.1 1.9 1.7 2.6 2 1 3 0.3 3-0.1 2-0.6 0 1 -4 0.7 -7-0.9 -1.8-2 -0.6-2 0.2-2.9zM406.4 153.6l0.8-0.9 0 1zM425.2 153.6l0.6 1 0.1 2 -0.7 0.4zM373.7 160.5l0.5-0.1 2.4 2.1 -0.4 0.5 -2-1.4zM423.5 165.4l0.7-0.6 0.3 0.6 -1.3 2 -1.4 1 -2.9 0.9 -3.7 0.6 -8 3.4 -1.5 0 4.8-3 0.9-1 0.8-1.6 2.1-0.3 1.9 0.7 4-0.2zM380.7 168.4l0.5-0.7 1.3 1.6 -0.3 0.9zM382.4 170.3l0.8-0.3 0.4 0.3 -0.4 0.6zM383.6 171.3l0.6-0.3 1 0.3z"/>
<path fill="#ff6600" d="M365.6 110.3l1.6 0 -0.6 3.9 -1.5 1 -3.9 0.1 0-0.9 2-0.3 1.5-0.8 0.6-1zM417.7 110.3l1.8 0 0.2 2 1.5 1.9 1.3 1 -1.9 0 -1.4-1 -1.3-1.9zM424.1 117.2l0.1-0.4 1 0.1 3 2 2 0.3 0 3.7 -2-0.5 -1-1 -1.2-2.2zM389.1 124.1l4.1-0.1 6 1.1 4.2 0.9 2.6 1 1.2 1 5.3 7.9 0.3 2 -0.1 2.9 -0.5 2.7 -1 1.7 -1 0.8 -2 0.2 0-0.5 1-0.2 1.6-1.7 1-2 0-3 -2.2-4.9 -1.4-1.1 -3-3.7 -2-1.4 -4-1.4 -6-1 -6 0.1 -7 1.2 -2 0.8 -2 1.5 -4.4 5 -3.9 5.9 -2.3 4.9 -0.3 2 0.5 2 -0.6 0.9 -2-1.6 -2-0.1 0-5 2-0.2 2-1.3 4-6.4 6-7.3 2.6-1.7 3.2-0.9zM428.2 132.9l2-0.2 0 0.3zM392.5 145.7l2.7 0 -1.9 2 -0.4 2 0.7 2.9 1.6 1.7 2 0.8 3 0.3 5 0 1-0.5 0.1 0.7 -11.1 1 -2-0.2 -1-0.8 -1-1.8 -1-4.1 0.8-3zM425.6 151.6l1.5 0 1.1 0.8 2 0.1 0 5.1 -1 0.1 -1 0.6 -1 1.2 -1.9 6.9 -1.1 1.7 -1.5 1.2 -2.2 1 -7.7 2 -2.6 0.4 -0.7-0.4 5.7-2.6 5-0.7 2-1 2.5-2.6 0.5-3.2 0.7-0.7 0.3-1 -0.3-4.9 -0.7-1.8 0-2zM372.7 160.5l0.5-0.4 1.1 1.4 3.4 2.9 -0.5 0.6 -1.5-0.6 -1.5-1.2 -1-1.1zM378.2 165.4l1 0 0.1 1 0.9 0.9 0.4 1.1 2.6 2.7 1 0.7 1.7 0.5 -0.7 0.5 -1.8-0.5 -2.6-2 -1.6-1.9 -0.3-2zM406.9 173.3l2.3-0.6 0.3 0.6 -2.3 0.3zM389.8 177.2l0.4-0.8 0 1.8 -0.3 0z"/>
<path fill="#ff3300" d="M361.2 111.3l1-1 3.4 0 -0.4 2.9 -1.3 1 -2.7 0.2zM419.3 110.3l2.1 0 0.2 2 0.7 1 2.9 2.4 2 1.1 3 0.4 0 2.4 -2-0.3 -3-2.5 -4.2-2.6 -1.3-1.9zM393 116.2l0.2-0.4 1 0.2 1 1 2.6 5.1 1.3 1 4.1 1.4 3.2 0.6 2.2 0.9 2.2 4 2.4 2.4 1 1.6 0.1 4.8 -1.1 5.2 -1 2.4 -2.6 3.3 -1.4 4.3 -0.1-2.4 -0.3-1 -0.6-0.5 0-2.1 1-1.4 2-0.8 1-0.9 1.3-2.1 0.5-3 -0.4-2.9 -0.8-2 -5.1-6.9 -2.5-1.5 -3-0.9 -6-1.1 -6-0.3 -6 0.5 -6 1.8 -2.1 1.5 -3.5 3.9 -2.8 4 -3.6 5.9 -2 1.4 -2 0.2 0-2.8 2-0.2 2-1.6 4-6.2 5-5.9 2.4-1.6 2.6-1.1 9-1.2 2-0.9 1.7-1.8zM388.1 144.7l1.1-0.7 5 0.7 -2.6 2 -0.8 2 0 1.9 0.8 3 1.6 2.2 2 0.5 8.9 0.3 -4.9 0.6 -5 1.4 -2-0.1 -1.7-1 -1.3-1.5 -1.1-2.4 -0.3-3.9zM361.2 147.7l3 0.7 0.3 0.3 -0.3 0.9 -1-0.5 -2-0.1zM426 150.6l4.2 0.3 0 2.6 -2-0.3 -2-1.1 -1 0 0-0.7zM369.5 156.6l0.9 0 0.8 0.7 1 1.5 0.7 2.7 1.3 1.6 2 1.4 2.1 0.9 0.9 1 0.1 2 0.7 0.9 3.2 2.8 3 1.1 1.3 1.1 1.7 1.7 0.7 2.2 -2.8 0 -0.1-2 -0.6-1 -6.5-3.9 -3-3.9 -3.9-3 -0.8-1.1 -1.2-3.8zM428.8 156.6l0.4-0.5 1-0.1 0 7.4 -1 0.1 -1 1 -2 3.8 -2.1 2 -1.9 1 -12 2.4 -4 1.5 -1-0.1 -0.7-0.8 3.7-0.4 0.9-0.6 6.2-2 5.9-1.3 2-1.2 1.4-1.4 1.1-2 0.5-3.7 0.7-1.2 0.3-2z"/>
<path fill="#ff0000" d="M361.2 110.3l2.2 0 -0.2 1.4 -0.6 0.6 -1.4 0.1zM389.1 110.3l6.1 0 0.1 2 0.7 1.9 4.2 6.4 3 2.1 5.2 1.4 2.2 1 1.6 1.6 3 4.6 1 3.6 -3 12.7 -4 7.6 -1 0.8 -1 0.1 -0.1-0.5 1.8-3 -0.4-2.9 3.2-3 2-3.9 0.5-5.9 -0.5-3 -3.3-3.9 -1.4-3 -0.8-0.8 -1-0.6 -6.6-1.5 -2.5-1 -1.2-1 -1.7-3.9 -1-0.9 -1 0.5 -1.3 3.3 -1.1 1 -3.5 1 -6.1 0.5 -5 1.8 -2.2 1.6 -3.4 4 -5.4 8.2 -2 1.5 -2 0.2 0-2.2 2-0.2 1-0.7 7-9.8 3.1-2.9 5.9-3.2 6 0.8 0.8-0.6 2.2-0.2 1.8-1.8 0.3-1.9 -0.2-2 -1.9-4.4zM421.1 110.3l1.8 0 0.9 3 3.4 2.4 3 0.4 0 1.3 -2.3-0.2 -3.7-2 -2.2-1.9 -0.8-1.6zM386.9 142.8l1.3-0.9 5.1 1.9 -1.1 0.5 -3 0.2 -0.8 1.2 -0.2 1 -0.2 3.9 0.5 3 0.9 2 1.6 1.9 2.2 0.9 2-0.1 3-0.9 5.5 0.1 -3.5 0.5 -4.4 1.5 -2.6 0.2 -1.8-0.2 -3.2-1.9 -1-1.5 -1-3.3 0.4-3.1 -0.2-5zM361.2 149.7l0-0.4 3.1 0.4 -1.1 0.2zM368 155.6l0.2-0.4 2 2.5 2.3 5.7 4.7 4 1.2 1.9 1.8 2 2 1.5 3.3 1.5 1.3 0.9 0.5 1 0.2 2 -2.3 0 -0.3-2 -0.7-1 -2-1.5 -3-1.4 -3-3.8 -3.6-2.1 -1-1 -2.2-5.9 -1.2-2zM403.9 156.6l2.9 0 -2.6 0.5zM428.9 162.5l1.3-0.3 0 7.3 -2 0.2 -5 2.6 -4.1 1 -5.9 0.5 -3 0.9 -2.3 1.5 -0.6 2 -3.2 0 -0.7-3.9 1.1 0 0.7 0.7 2 0 1.6-0.7 2.4-0.4 1-0.6 8-1.5 3-1.1 2.6-2.3 2.4-5.3z"/><path d="M387.1 110.3l0.3 2 3.5 4.9 -0.1 2 -0.7 0.9 -1.9 1.6 -3 0.2 -4-1.8 -2 0.1 -8 5.8 -7 9.5 -1 0.7 -2 0.3M430.2 114.7l-2-0.2 -2-0.9 -1.1-1.3 -0.2-2M426.8 133.9l1.4 0.9 2 0.5M395.6 144.7l-6.4-4.1 -2-0.1 -1.7 1.3 -0.5 2 0.5 5.9 -0.2 2.9 0.8 4 1.3 1.9 3.8 1.9 3 0.4 15-3.5 2.3-1.7 2.2-3 1.5-8.6 2.8-10.1 -0.6-2.9 -3.2-5.6 -2.1-1.3 -5.9-2.2 -5-3.3 -2-2 -1.3-2.4 -0.7-3.9M430.2 150.3l-5.3 0.1M361.2 151l4 0.6 1 1.3 0.7 1.7 -0.4 2 0.3 1.9 3.5 8.9 0.9 0.8 4 1.4 3 3.7 3.9 1.9 0.8 1 0.3 2M402.3 173.3l0 4.9M410 178.2l0.6-2 2.2-1 8.4-1 6-1.5 3-0.3" fill="none" stroke="#d8f08a" stroke-width="0.45" stroke-opacity="0.5"/>
<rect x="439.4" y="110.3" width="69" height="67.9" fill="#80ff80"/><path fill="#000099" d="M446.6 110.3l4.9 0 0 1 -1.3 2 -4.8 3.7 -3 3.3 -1.6 0.8 -1.4 0.2 0-4.3 2-0.2 3-2.2 1.9-2.3zM487.8 110.3l4.9 0 0.3 2 0.7 1 7.8 5.9 1.9 2.1 3 5 1 0.6 1 0.1 0 28.7 -2 0.3 -1 0.8 -2.4 2.7 -3.6 5.7 -3.2 3.2 -2.8 2 -5 0.5 -13 2.6 -2.7 1.7 -0.6 1 -0.3 2 -2.7 0 -0.1-2 -1.8-2.9 -6.6-4 -3.2-3.3 -3-1.9 -1-1.6 -2.2-8.9 0.2-5.9 2-11 1-3.2 2-2.5 3.3-2 4.8-2 4.9-1.2 4.6 0.2 9.6 3 1.7 1 1.4 1.9 1.7 5.4 0.4 2.5 -0.4 2.3 -4.2 4.6 -1.8 4.3 -1 0.9 -2 0.2 -1.8-0.5 -1.2-1 -1-2.4 -0.3-2.5 -0.7-1 1.3 0 2.7 1.7 2 0 2-1.1 3.2-3.5 0.5-1 -0.1-2 -2-5.9 -1.4-1.9 -2.2-1.2 -2-0.4 -7-0.8 -4-0.1 -5 1.2 -1.9 1.3 -1.6 1.9 -3 5 -2.1 5.9 -1 4.9 0.4 5.9 1.1 3.9 1.9 3 6.2 5.1 4 2.2 5 1.3 7 0.3 6-0.5 7-1.7 2-1.2 5.2-4.5 4.5-7.9 0.7-2 0.5-6.9 -0.3-2.9 -0.6-1.1 0-10.7 0.7-5 -1.6-2.9 -1.5-2 -11.4-7.8 -1.2-1z"/>
<path fill="#990000" d="M449.2 110.3l4.4 0 -0.1 1 -1.5 2 -5.6 3.9 -4 4.6 -1 0.7 -2 0.3 0-3.5 2-0.3 2-1.4 4.8-4.3 0.7-1zM484.7 110.3l5.7 0 0.3 2 0.9 1 8.3 5.9 1.5 1.3 2 2.7 1.2 2.8 0.3 3 -0.3 2 0.8 1.3 0.5 3.6 0.2 6.9 -0.5 8.8 -1.1 3 -5.1 8.6 -6 5.4 -1.6 0.7 -11.4 2 -10 0.3 -3.9-1.3 -4.3-1.9 -6.8-5.5 -1-1.3 -1-2.8 -1-4.5 -0.2-3.7 0.2-3.8 1-4.4 2-7.1 2.4-3.4 2.3-1.9 5-2 4.3-0.5 5 0.3 6.4 1.2 2.5 1 1.2 1 0.9 1.6 2 6.2 0 2.3 -1 1.7 -5 5.1 -1 0.6 -1 0 -2-1.2 -2.2-2.6 1.4 0 1.8 0.9 2-0.2 2-1.2 1.9-2.4 0.5-1 -0.1-2 -1.8-4.9 -1.5-2.2 -2-1.1 -2-0.5 -10-0.8 -3 0.4 -2 0.9 -1.6 1.3 -4.2 6.9 -2.8 6.9 -0.3 4 0.2 3.9 1.1 3.9 1.3 2 4.3 4.2 5 3.5 5 1.7 7 0.8 8-0.6 5-1.4 4-2.7 3.9-3.5 4.5-8.9 0.6-6.9 0-18.7 0.3-1 -1.8-2.9 -1.5-1.6 -10-7 -4.8-2.2 -0.8-1zM439.4 172.3l0-0.4 1.8 0.4 1.2 1.3 1.4 2.6 0.2 2 -4.6 0z"/>
<path fill="#0000cc" d="M443.3 110.3l4.8 0 -0.4 2 -5.3 5.2 -1.5 0.7 -1.5 0.1 0-4.3 2-0.3 1-0.7 0.6-0.7zM491.4 110.3l3.4 0 0.3 2 1.7 1.9 5.2 4 4.4 4.5 2 0.4 0 7.8 -1-0.1 -1-1.2 -1.5-4.5 -2.2-4 -2.3-2.3 -7.8-5.5 -0.8-1zM470.1 123.1l1.3 0.1 10 4.3 2 0.5 3.5 2 1.5 2.3 1 4 0.5 3.5 -0.2 2 -0.3 1.1 -3.7 3.8 -1.3 3.9 -1.3 2 -2.7 1 -4.9-1 -2.1-2 0-2.7 0.9-3.2 1.3 1 0.8 1.8 2 2.5 1 0.6 1 0 1-0.7 1.9-3.2 4.6-4.9 0.3-2 -0.3-1.9 -2-6 -0.6-0.9 -1.9-1.6 -2-0.8 -8-1.8 -3-0.2 -5 0.7 -3 1 -3 1.5 -2.7 2.1 -1.5 2 -1.2 3 -2.2 9.8 -0.1 6.9 1.3 5.9 1.1 3 1.3 1.5 3 2 3 2.8 8 3.9 2 0.4 11-1.4 10-1.9 2-1 5-4.6 7-10.9 1-1.1 1-0.2 0 6.5 -2 0.2 -2 1.2 -1.3 1.6 -3.7 5.8 -3 3 -0.6 1 -2.4 0.7 -3-0.4 -2 0.2 -10 2.7 -1.5 0.7 -0.9 1 -0.4 2 -9.8 0 -0.4-3 -1.4-1.9 -3.6-2.5 -4-4.1 -3.2-1.3 -1.2-5.9 -2.4-6.9 1.8-12.1 2-8 0.9-1.5 2.8-2 11.7-4.9z"/>
<path fill="#cc0000" d="M451.2 110.3l3.4 0 0 1 -1.8 2 -4.4 2.5 -2 1.7 -4 4.9 -1 0.8 -2 0.2 0-2.4 2-0.3 1-0.7 3.8-3.8 3.8-2.9 0.8-1zM482.6 110.3l5.6 0 0.6 2 11.1 7.8 1.9 2 -0.4 1 -1-1.3 -10-7 -6.6-2.5 -1.1-1zM501.5 123.1l0.9-0.3 0.4 1.3 -0.4 0.4zM503 125.1l0.4-0.4 0.3 3.3 -0.3 9.5 -0.1-10.5zM464.2 129l8.2-0.3 4.2 0.3 4.7 1 2.4 1.9 2.7 7.9 -1 2.5 -3.5 3.4 -1.5 0.8 -2-0.1 -1-0.5 0-0.9 2 0.4 2-0.9 1.8-1.7 1-2 -0.3-2.9 -1.8-4 -1.5-2 -3.2-1.4 -8-1 -3 0.1 -3 0.8 -1 0.7 -1.8 1.8 -3.4 5.9 -2.4 5 -1 2.9 0 5.9 1 4 1.1 1.9 2.7 3 2.8 2.5 4 2.6 3 1.4 3 0.8 5 0.5 6-0.1 3-0.3 4-1.1 2-1 5-3.8 2.7-3.5 3-5.9 0.5-2 0.8-10.6 1 4.7 -0.6 6.9 -0.4 1.5 -4 7.5 -1.6 1.8 -6.4 5 -9.8 1.9 -7.2 0.2 -6.9-1.2 -2.6-0.9 -3-2 -5.5-4.4 -2-2.9 -1-3.3 -0.3-5.2 0.3-5.4 2-6.6 2-3.8 2.9-3.8zM439.4 171.3l0-0.4 2 0.4 1 1 2 3.2 0.6 2.7 -5.6 0z"/>
<path fill="#0000ff" d="M439.4 110.3l5.2 0 -0.3 2 -1.9 2.1 -3 0.7zM494.2 110.3l2.6 0 0.3 2 0.6 1 2.7 2.4 5 3.6 1 0.6 2 0.2 0 4.2 -2-0.6 -4-4.8 -7.2-5.6 -0.8-1.3zM470.1 122.1l0.6 0 0.7 0.7 2.3 0.3 3 1 4.7 2.5 4.1 1.4 2.9 1.9 1.2 2 1.6 8.9 -0.8 3.3 -2 1.4 -1 1.2 -0.6 1 -1.3 3.9 -1.8 2 -3.3 1 -5.8-1 -2.1-1 -1.2-2 0.1-1.9 2-3.5 0.5 0.5 0.1 4 1 1.9 3.4 1.6 3 0 2-1.6 2-5 3.7-3.8 0.7-2 0-2 -1.8-6.9 -1.5-1.9 -2.1-1.5 -2-0.8 -9-3.1 -3-0.3 -7 2.1 -5 2.2 -3 1.8 -1.4 1.5 -1.1 3 -1.9 8.9 -1.1 7.8 0.3 2 1.2 3.5 0.5 3.4 1.5 4.1 0.8 0.8 2.2 1 4 4.1 3.1 1.8 2.1 2 0.8 1.9 0.1 2 -2.5 0 -0.1-2 -1-1.9 -3.5-3 -1.3-2 -2.7-2.6 -2.2-0.3 -0.8-0.8 -0.5-4.1 -0.5-0.3 -0.6-2.7 -3.4-4.6 -2-0.7 0-1.5 2-0.6 1.4-2.4 1-6.9 2-5.9 0.6-3.4 1-2.1 1.5-1.4 1.9-1 8.1-3.9 4.5-1.3zM505.5 158.5l2.9-0.7 0 2.4 -3 0.6 -1 0.8 -1.6 1.8 -2.4 4.7 -2.9 3.2 -1.6 1 -7.5 0.3 -4 1.4 -4.1 2.2 -0.7 2 -5 0 0.3-2 0.5-0.7 1.8-1.2 8.2-2 5-0.6 3 0.3 1.8-0.7 0.4-1 4.1-3.9 3.7-5.8z"/>
<path fill="#0033ff" d="M496.4 110.3l2.6 0 0.8 3 3.6 3.1 3 1.4 2 0.1 0 2.7 -2-0.3 -1-0.6 -7.1-5.5 -1.5-1.9zM464.8 123.1l3.4 0 -5.8 2.3 -8 4 -1.4 1.6 -1.1 2.9 -0.5 3.3 -1.6 4.6 -0.4 5.3 -1.8 5.5 0.2 1 2.6 4 1 2.9 0.3 2.9 -0.3 0.3 -0.4-2.2 -1.7-3 -1.9-1.7 -2-0.9 0-7.4 2-2.6 1-5.2 2.4-4.8 0.6-3 1-2.6 0.9-1.3 1.2-1 5.5-2.9zM473.2 123.1l3.4 0 0.8 0.7 1.5 0.3 8.6 3.9 2.9 2.6 1 2.4 1.3 6.8 -1.2 4.9 -2.6 2 -2.5 6 -2.3 1.9 -2.6 1 -2.8 0 -4.6-1 -2.3-1 -1.7-2 -0.5-1.9 0.2-1 0.6-1.3 2-1.8 0.3 0.1 -1 3 -0.1 1.9 0.4 1 1.4 1.3 3 1.2 4 0.4 2-0.3 2-1.4 1.3-2.2 0.9-2.9 1.4-2 2.3-1.9 0.7-2 0.1-3 -1.3-5.9 -0.8-1.9 -2.6-2.6 -6.2-2.4 -4.8-2.5zM505.6 160.5l2.8-0.5 0 1.8 -2 0.2 -2 1.3 -1.6 2.1 -2.9 5.9 -2.5 0.6 0-0.8 2.6-2.7 3.4-5.9zM457.1 169.3l0.3-0.5 0.4 0.5 -0.4 0.5zM458 170.3l0.4-0.4 4.7 4.4 0.9 1.9 0.2 2 -1.9 0 -0.5-3 -3.4-3.8zM486 173.3l3.4-0.5 1.1 0.5 -2.1 0.4 -2.9 1.5 -1 1 -0.6 2 -5.2 0 0.6-2 1.4-1z"/>
<path fill="#0066ff" d="M498.8 110.3l2.4 0 0.3 2 1.2 1.9 2.7 1.7 3 0.3 0 2 -2-0.2 -2-0.8 -2.9-2 -2.1-2.1zM461.6 123.1l3.6 0 -3.8 1.4 -6 3 -2 1.6 -1 1.3 -0.4-0.4 0.4-1.1 2-1.9zM476.3 123.1l2.4 0 2.6 1 6.3 2.9 3.9 3 1.1 1.9 1.4 7.9 -0.5 3 -1.1 1.3 -0.4-0.3 0.6-4 -0.4-1.9 -1.2-6 -1.1-1.9 -3.5-2.6 -3.8-1.4 -4.2-2.3zM451.3 131l0.1-0.4 0.4 0.4 -0.4 2.5 -0.4 0.4 -0.6 3 -1.8 3.9 -1.2 6.5 -2 1.6 0-3.1 0.8-1.1 0.2-2 1-3 2.6-4.8zM470.5 145.7l1.4 0 -2 3 -0.1 1.9 0.9 2 1.7 1.3 3 1 5 0.6 3-0.5 1.9-1.4 1.6-2 2-4.9 1.1-1 1.4 0 -1.8 2 -1.2 4.2 -1.3 1.7 -2.7 2 -2.3 1 -1.7 0.1 -2.7-0.1 -3.7-1 -2.6-1 -2-1.8 -1-1.6 -0.3-2.5 1-2zM445.4 156.6l0-0.9 2 0.7 2 2 1 2.1 0.3 2 -0.3 0.5 -2-3.4 -3-2zM505.2 162.5l3.2-0.8 0 1.9 -2 0.2 -2 1.6 -1.3 2 -1.5 3.9 -1.2 1 -3.2 0 2.2-1 1-1.2 3-5.7zM457.1 170.3l0.3-0.4 0.2 0.4 -0.2 0.9zM457.6 171.3l0.8-0.1 0.8 1.1 -0.8 0.3zM459 173.3l0.4-0.8 2 1.9 1 1.8 0.1 2 -1.6 0 -0.2-2zM489.9 173.3l2.7 0 -3.9 1.9 -1 1 -0.4 2 -4 0 0.5-2 1.1-1z"/>
<path fill="#0099ff" d="M500.9 110.3l2.5 0 0.3 2 0.6 1 2.1 1.2 2 0.2 0 1.7 -2.8-0.2 -3.2-1.9 -1.3-2zM461.6 122.1l1.5 0 -1 1 -3.7 1.6 -5 3.1 -0.3-0.8 2.3-1.9zM478.3 123.1l1.1-0.3 2 0.3 4.6 2 4.9 2.9 2.5 2.4 1 4.6 0.5 4.8 -0.2 3 -0.7 1 -1 0 1.1-4 -2-8.8 -3.7-3.6 -8-3.8zM452.2 128l0.2-0.2 0.8 0.2 -1.8 2.7 -0.3-0.7zM450.3 131l0.6 0 -0.5 2.9 -3.4 6.9 -0.6 3.3 -1 2 0-3.5 0.6-0.8 0.4-2.6 2.3-4.3zM470.2 144.7l2.3 0 -3.1 2 -0.8 1 -0.4 2 0.5 1.9 0.6 1 1.1 1.2 2 1.3 6 1.4 2 0.1 3-0.5 2-1.1 2.5-2.4 1.5-4.5 1-1.5 0 1.6 -0.6 0.5 -0.4 3.5 -1 1.6 -1.9 1.8 -3.5 1.9 -4.6 0.4 -4.9-1.3 -2.2-1 -2.4-2 -1.5-1.8 -0.8-2.1 -0.2-1.1 0.7-1.9 1.1-1zM445.4 157.5l3 1.8 2 3.6 0 1 -2.9-3.4 -2.1-1.7zM506.6 163.4l1.8-0.1 0 2.4 -2 0.3 -1 0.6 -1.4 1.8 -1.5 2.9 -0.9 0 2.8-6.3zM455.1 168.4l0.4 0 0.2 0.9 -0.3 0.2zM456.1 170.3l0.3-0.5 0.3 0.5 -0.3 0.8zM456.7 171.3l0.7-0.2 3 4.1 0.5 3 -1.6 0 -0.4-3zM500 172.3l1.4-0.5 0 0.5zM492.1 173.3l3.5 0 -2.2 0.7 -1.6 1.2 -0.9 1 -0.3 2 -3.9 0 0.5-2 1-1z"/>
<path fill="#00ccff" d="M503.1 110.3l5.3 0 0 4.5 -2-0.1 -2-0.9 -1.1-1.5zM460.1 122.1l1.9 0 -1.6 0.3zM476.3 122.1l4.1-0.1 3.7 1.1 4.3 2 5 3.6 1 1.3 1 5.3 0.3 4.5 -0.3 3.4 -0.4-0.4 0.1-4 -0.7-2.6 -0.4-4.3 -1-1.9 -2.6-2.3 -4-2.4 -6-2.7zM457.1 123.1l2.3-0.3 0.4 0.3 -3.4 1.4 -4 3.2 -0.3-0.7 1.3-1.5zM451.2 128l0.2-0.2 0.6 0.2 -0.6 1.2 -0.7-0.2zM450 130l0.4-0.9 0.3 0.9 -0.3 1.2 -4.6 9.6 -0.4 2.5 -0.3-2.5 0.3-1.9zM470 143.8l1.6 0 -0.3 0.9 -1.9 0.4 -2 1.6 -0.6 1 -0.1 2 1.2 2.9 0.9 1 1.6 1.4 2 1.1 7 1.9 2-0.1 2-0.6 2-1.1 3.1-2.6 1.2-2 0.7-3.4 0 3.9 -1 2 -1.3 1.5 -4.3 2.9 -5.4 0.9 -3.3-0.9 -4-1.9 -2.6-2 -3.1-4 -0.3-1.9 0.3-2.1 2-1.9zM446.2 160.5l0.2-0.7 1.3 0.7 2.7 3.7 0 0.6 -1-0.3 -1.2-1.1zM507.1 165.4l1.3-0.1 0 2.9 -3 0.8 -2.3 2.3 0.2-2 1.1-1.9 1-1.2zM452.4 167.4l1.2 0 -0.2 0.7zM453.6 168.4l0.8-0.3 4 6 1 2.4 0.1 1.7 -1.6 0 -0.1-2 -0.7-1.9zM495.1 173.3l3.2 0 -1.9 0.6 -1.6 1.3 -0.8 1 -0.3 2 -3.7 0 0.4-2 0.9-1 1.2-0.9z"/>
<path fill="#00ffff" d="M506.3 110.3l2.1 0 0 1.9 -1-0.1 -1-0.8zM476.7 121.1l0.7-0.3 2 0.1 4.5 1.2 4.9 2 3 1.9 2.6 2.4 1 1.5 0.4 6 -0.4 0.4 -0.5-5.3 -1.3-2 -2.2-1.8 -6-3.6 -6-2.1 -1-0.1 -1.6 0.7 -2.8 0 2.4-0.6zM457.3 122.1l2.1-0.2 1.1 0.2 -2.1 0.3 -4 2.2 -3 3.2 -0.4-0.8 2.4-2.9zM450.2 128l0.2-0.3 0.7 0.3 -5.3 9.9 -1.4 4.9 -0.4-2 0.4-2.1 3-6.8zM496 136.9l0.4-0.4 0 6.3zM469.2 142.8l2.2-0.1 1.2 1.1 -3.2 0.2 -2 0.9 -1.8 1.8 -0.5 2 0.5 1.9 1.1 2 2.7 2.7 3 1.9 5 1.9 4 0.1 3-1 3-2 2.5-2.6 0.5-2.2 0.4 0.2 -0.4 2.7 -2.8 3.2 -3.4 2 -4.8 1 -1.9 0 -5.4-2 -2.7-1.9 -3.3-3 -1.8-3 0.1-4.8 1.1-1.1zM445.4 160.5l0-0.4 0.6 0.4 2.4 2.9 2.2 2 -0.2 0.7 -1.7-0.7 -2.3-1.8zM452.6 168.4l1.1 0 2.7 4.4 1.2 2.4 0.3 3 -1.6 0 -0.3-3zM505.9 168.4l2.5-0.6 0 2.4 -2 0.2 -2 1 -1 0 1-1.6zM497.8 173.3l2.8 0 -3 1.9 -0.8 1 -0.3 2 -3.3 0 0.2-1.8 0.9-1.2 1.1-0.9z"/>
<path fill="#33ffcc" d="M473.7 120.1l3.7-0.8 3.5 0.8 8.2 3 3.3 1.9 2 1.9 1 1.4 0.4 1.7 -0.4 0.4 -0.4-1.4 -2.6-2.5 -3-2 -4-2 -7-1.9 -3.8 1.5 -1.7 0 -0.3-1zM457.9 121.1l4.5-0.3 1.8 0.3 -5.8 0.4zM455 122.1l2.4-0.5 0.3 0.5 -2.3 0.7 -2 1.4 -2.6 2.8 -2.7 4 -2.1 3.9 -2 4.9 0.4 4.3 -2.3-2.3 -0.3-1 0.3-1 2.7-3.9 1.6-4.5 1-1.6 4.7-5.7zM464.5 122.1l0.9-0.5 3 0.5zM496 131l0.4-0.4 0.6 6.3 0.4 0.4 0 4.4 -0.4-0.9 -0.1-2.9 -0.5-0.5zM468.1 141.8l2.3-0.6 1 0.3 1.1 1.3 -4.1 0.3 -2 1.1 -1.7 1.5 -0.6 1 -0.2 3 0.8 1.9 1.7 2.2 5 4.2 3.4 1.5 -0.4 0.4 -2-0.2 -2.3-1.2 -4.7-4 -2-3.1 -0.3-2.7 0.3-3 0.7-1zM496.4 142.8l0-0.8 0 1.8zM492.4 145.7l0.3 0 -0.3 2.5zM491.4 149.7l0-0.7 0.5 1.6 -0.5 3.7 -3.3 4.2 -1.5 1 -2.7 1 -2.5 0.3 -1 0.6 -2-0.9 -3.5 0 0.5-0.5 3 0.4 4-0.3 3-1.1 3.1-2.4 2.4-3zM445.4 161.5l0-0.6 0.5 1.6 1.8 1.9 1.7 1.5 1.3 0.5 -2.4 0 -1.9-1 -1-1.6zM452.1 168.4l0.4 0 2.9 5.1 1 2.6 0.1 2.1 -1.9 0 -0.4-3 -1.8-4.3zM505.9 170.3l2.5-0.3 0 1.6 -6 1 0-0.3 1-0.1zM500.4 173.3l1.4 0 -2.2 2.9 -0.3 2 -3.2 0 0.3-2 0.8-1z"/>
<path fill="#66ff99" d="M476.1 117.2l1.3-0.4 2 0.4 0.5 1 2.5 1.5 9.1 3.4 2.9 2.3 1.5 2.6 -0.5 0.4 -3-3.2 -4-2.5 -10-3.2 -3 0.3 -2 1.4 -4-0.1 -2 0.6 -3.5-0.6 -1.5-0.6 -3 0.1 -4 1.3 -3 1.9 -5.7 7.2 -2.3 5.5 -1.8 3.3 0 2 1.2 2 -0.4 0.3 -4-0.9 0-5.3 2-0.2 1.2-0.8 2.6-4 1.2-3.9 4.4-4.9 2.4-2 4.8-2 5.2-0.9 3.3 0 3.9 0.6 5-2zM496 129l0.4-0.5 0.4 2.5 -0.4 0.2zM497 131.9l0.4-0.6 1.4 8.5 -0.4 1.9 -1 1.5 0.3-3.4zM468.2 139.8l2.2-0.6 1 0.4 1.1 1.2 -0.1 1.7 -1-0.9 -2-0.2 -2 0.9 -2 1.5 -1 0.2 1-1.6zM463.3 144.7l0.6 0 -0.5 1.8zM494.2 144.7l1.3 0 -1.7 2 -1.4 7.8 -1.9 3 -2 2 -1.9 1 -3.2 0.2 4-1.7 3.3-3.4 1.4-3 0.3-5.9zM462.3 147.7l0.1-0.7 0.4 0.7 0.1 2 1.1 2.9 1.4 1.7 5 4.3 2 1.2 2.6 0.7 -2.6 0.3 -2.7-1.3 -4.3-3.6 -2-2.2 -1-2.3zM478.8 161.5l3.6-0.4 0.7 0.4zM446.9 166.4l0.5-0.6 1.1 0.6zM451.1 168.4l0.3-1 0.4 1.9 2.7 5.9 0.3 3 -2.7 0 0.1-5.9 -0.8-1.5zM504 172.3l4.4-0.7 0 1.3 -2 0.1 -3 1.1 -1.5 2.1 -0.2 2 -2.8 0 0.2-2 0.8-1 2.1-1.9z"/>
<path fill="#99ff66" d="M475.8 116.2l4 0 3.6 2.6 5.2 2.3 -0.2 0.7 -7.3-2.6 -1.9-1 -0.7-1 -1.1-0.3 -7 3.3 -2-0.6 -3-0.2 -6 0.4 -3 0.7 -4 2.1 -6.6 7.4 -0.5 1.9 0.1-3.2 1-1.5 3.9-4.1 2.8-2 4.4-1.9 3.3-1 3.6-0.5 6-0.2 5-0.9zM488.6 122.1l0.8-0.4 2 0.4 2.2 1 1.8 2 0.4 0.9 -0.4 0.8 -3-3.1 -2-1.1zM495.7 127l0.7-0.2 0.4 1.2 -0.4 0.6zM496.9 129l0.5-0.3 2.2 7.2 1.9 2.9 -0.1 2.1 -3 2.5 -0.3-0.6 0.6-4zM444.2 132.9l0.5 0 -0.3 1.4 -2 3 -1 0.7 -2 0.3 0-2.3 2-0.2 1-0.6zM467.7 137.9l2.7-0.9 1.5 0.9 1.5 2.5 0 2.5 -0.3-1.1 -1.7-1.9 -1-0.4 -1 0.1 -3 1.9 -2 2.3 -1 0.1 2-3.5zM439.4 143.8l0-0.7 3.2 0.7 1.8 1.5 0 1.2 -1-1.1 -4-0.5zM495.3 144.7l1.2 0 -1.7 3 -0.4 4.5 -1 2.7 -2 3.1 -1.4 1.5 -1.4 1 -2.2 0.8 -0.2-0.8 1.2-0.3 2-1.6 2.4-3 1.3-3 0.3-5 0.8-1.9zM462.3 145.7l0.2 1 -0.5 1 -0.1 2 0.9 2.9 1.4 2 2.2 2.1 4 3.3 1.5 0.5 -0.5 0.3 -1.8-0.3 -3.2-2 -2-1.9 -2-2.8 -1-2.4 -0.2-1.7 0.2-2.5zM472 161.5l0.4-0.6 1.9 0.6zM475.6 161.5l3 0 -0.2 0.3zM482.3 161.5l3.1-0.4 0.9 0.4 -2.9 0.4 -1 0zM448.4 167.4l2.1 0 0.6 2.9 -0.7 0.1 -0.8-2zM451.2 171.3l0.2-0.9 0.5 2.9 0.5 1 -0.2 3.9 -0.8 0zM504.7 173.3l3.7-0.4 0 1.8 -3 0.6 -0.9 0.9 -0.4 2 -2.8 0 0.3-2 0.8-1.4 1-1.1z"/>
<path fill="#ccff33" d="M469.6 116.2l6.3 0 -5.5 1.5 -6 0 -4 0.7 -6 2 -2 1.1 -2.9 2.6 -3.6 3.9 -0.5 1 0-2.1 1-1.2 3.7-3.6 4.5-2.9 2.2-1 5.6-1.5zM481.3 117.2l0.1-0.4 1.8 0.4 6.2 3.6 1.4 0.3 -0.4 0.4 -2.1-0.4 -6.2-2.9zM491.1 122.1l0.3-0.3 2.4 0.3 1.6 1 1.3 2.9 -0.3 1 -0.3-1 -2.7-2.9zM496.5 127l0.9-0.2 3 5.3 1 0.8 1 3.2 0 5.8 -3 1.9 -1.3 0 1-1 1.7-3 -1.4-3.6 -1.3-6.2zM443.9 131.9l0.5-0.6 0 1.3 -2 2.8 -1 0.6 -2 0.2 0-1.8 2-0.4zM467.7 135.9l2.7-0.4 2 0.9 1.1 1.5 0.9 2.6 0 1.5 -1-0.9 -0.3-1.3 -1.7-2.1 -2-0.4 -2.4 1.5 -3.5 5 -0.5 0 0.4-2.2 2-3.7zM439.4 144.7l1.6 0 2.4 0.7 1 1 0 2.8 -1-1.4 -4-0.8zM461.9 144.7l0.5-0.5 0 1.5 -0.8 1 -0.5 2 0.7 3.9 1 2 2.6 2.8 3 2.5 1.5 0.6 -0.5 0.4 -1.8-0.4 -2.8-2 -3.4-4.5 -1-2.4 -0.3-2.9 0.3-1.8zM496.4 144.7l1.1 0 -1.6 3 -0.5 5.4 -1 2.4 -2 3 -2 2 -1.8 1 -2.6 1 -4.6 0.9 -0.9-0.9 4.9-0.6 4-1.9 1.6-1.5 3-4.9 0.6-4.9 0.8-2.6zM470.1 161.5l0.3-0.4 1.4 0.4zM474.2 161.5l2.3 0 1.9 0.7 1.8 0.3 -0.8 0.5 -1 0 -3.5-0.5 -0.5-0.2zM447.2 167.4l1.4 0 1.1 1 0.7 1.6 0 1.6 -0.6-1.3zM504.7 175.2l1.7-0.7 2-0.2 0 3.9 -4.7 0 0.3-2z"/>
<path fill="#ffff00" d="M460.7 116.2l11.3 0 -10.6 0.5zM481.2 116.2l2.2 0 2.1 1 4.9 2.9 0 0.4 -2.2-0.4zM456.2 117.2l3.2-0.4 1 0 0.2 0.4 -4.2 1.2 -4 2.1 -4 3.1 -3 3.6 0-1.6 2-2.5 5.2-3.9zM490.6 121.1l0.8-0.2 0.6 0.2zM493.5 122.1l1.7 0 -0.8 0.3zM495.9 124.1l0.5-0.5 0.8 1.5 -0.8 0.2zM497.1 126l0.3-0.8 2.8 3.8 1.2 0.8 1 1.8 0 5.2 -1-2.7 -1-0.9zM444 130l0.4-0.7 0 2.1 -2 2.2 -1 0.6 -2 0.3 0-1.9 2-0.2zM466.8 134.9l2.6-0.5 3.1 0.5 1.9 2.3 1 2.5 0 1.9 -1 1.5 -0.4-4.3 -1.6-2.3 -2-1 -3 0.8 -2.5 2.5 -2.5 5.4 -1.8 2.5 -0.5 3 0.6 2.9 2.4 4 3.3 3.2 2 1.2 2.1 0.5 -0.1 0.8 -4.7-1.8 -2.3-1.9 -3-4.4 -1-1.9 -0.3-1.7 0.3-4.2 2.5-3.6 2.5-5.8zM497.3 144.7l1.3 0 -1.6 3 -0.6 6 -2 4 -3.9 3.8 -4.4 1.9 -4.7 1.1 -2.7-0.1 -8.3-1.9 1-0.3 4 0.2 4 0.9 3 0 2-0.3 5-1.9 2.9-2.6 2.5-3.9 0.8-3 0.7-4.9zM439.4 146.7l2 0 2 0.5 1 1.3 0 15.2 -1-2.9 -3-1.5 -1-0.1zM446.3 167.4l0.9 0 1.2 1 1.5 2.9 -0.5 0.3z"/>
<path fill="#ffcc00" d="M456.2 116.2l4.6 0 -3.4 0.5 -2 0.9 -5 3.1 -4 3.6 -0.3-0.2 0.3-1.1 2-2 5.3-3.8zM482.9 116.2l2.7 0 6.3 3.9 -1.7 0 -5.8-3.5zM496.9 124.1l0.5-0.2 5 6 0 2.4 -0.3-1.3 -2.7-2.7zM444.1 128l0.3-0.6 0 2.1 -1 1.5 -2 1.5 -2 0.3 0-2 2-0.3zM466.2 133.9l3.2-0.4 3.2 0.4 2.9 3 1.1 1.9 0.3 2 -0.5 1.5 -1 0.7 -0.1-3.2 -0.6-1.9 -1.4-2 -1.9-1.5 -2-0.2 -2 0.5 -2 1.4 -1.4 1.8 -2.6 5.9 -1.6 1.9 -0.8 2 -0.2 2 1.2 3.9 1.9 3 2.5 2.8 4 2.5 4 1.3 5 0.9 5 0.2 5-1.3 4-2.1 2.3-2.4 1.3-1.9 1-2 0.8-3 0.6-5 1-1.7 1-0.3 0.3 0.1 -1.7 3 -0.6 6.1 -1 2.5 -2 3.2 -2.3 2 -3.4 1.9 -5.1 2 -2.2 0.2 -4.3-0.2 -3.9-1 -7.8-2.9 -1.4-1 -2.6-2.9 -3-4.6 -0.6-4.3 0.6-3 2.7-3.9 2.3-5.3 1.3-1.6zM439.4 158.5l0-0.3 1 0.1 3 1.5 1 3.5 0 2.4 -1-1.4 -4-1.1zM445.1 166.4l0.3 0 0.2 1 0.8 0.3 4 5.1 0 1.6 -0.6-1.1 -3.5-4z"/>
<path fill="#ff9900" d="M456.4 115.2l14-0.3 2.3 0.3 -11.3 0.1 -4 0.4 -3 1.1 -3 2 -4 3.2 -2 2.4 0-1.4 3.7-3.8 4.3-3zM485.4 116.2l2.1 0 1.9 1 2.4 2 -0.4 0.4 -1-0.3 -2-1.6zM493.2 121.1l0.2-0.5 0.8 0.5zM497.6 124.1l0.8-0.3 2 2.2 1.4 2 -0.4 0.5 -1-0.7zM444.1 126l0.3-0.4 0 1.9 -1 1.6 -2 1.6 -2 0.3 0-2.2 2-0.2zM465.6 132.9l2.8-0.3 3.7 0.3 -0.7 0.4 -4 0.1 -2 1 -1.5 1.5 -2.5 5.5 -3.4 5.3 -0.3 2 0.2 2.9 0.9 2 4.6 6.4 3 2 10 3.1 5 0.6 3-0.6 3-1.1 5-2.8 3.4-3.7 1.9-4.9 0.7-5.9 1-1.5 1-0.6 0 0.8 -1.5 3.3 -0.5 5.3 -2 4.5 -1 1.3 -3 2.7 -5.4 2.9 -3.2 1 -3.4 0.2 -4.6-0.2 -3.8-1 -6.8-2.9 -2.8-1.9 -5-6.9 -0.8-5 0.8-3.5 3.5-5.4 1.5-3.7 1.7-2.2zM472.3 133.9l1.1-0.4 1.1 0.4 3.9 4.5 0.6 2.4 -1.2 2 -1.4 0.5 -0.4-0.5 0.8-2 -0.8-2.9 -2.1-3zM439.4 163.4l0-0.8 1 0.1 3 1.2 2.3 4.5 3.9 4.9 -0.2 0.7 -3-2.7 -3-4.3 -2-1.2 -2-0.2z"/>
<path fill="#ff6600" d="M456.2 114.2l3.2-0.4 11-0.4 2 0.3 1 0.9 1 0.3 2.4 0.3 -4.3 0 -2.1-0.4 -10 0.4 -2-0.4 -4 0.9 -3 1.8 -5.5 4.6 -1.2 2 -0.3 1.6 -2 2.4 -1.6 0.9 -1.4 0.1 0-2.3 2-0.3 1.8-1.4 0.9-1 1.3-2.7 2-2.3 3.9-2.9zM487.2 116.2l0.2-0.7 2.1 0.7 3.8 3 -0.9 0.2 -0.6-0.2 -3.4-2.6zM493.2 120.1l0.2-0.8 2.6 1.8 -1.8 0zM496.4 122.1l0-0.4 1.5 0.4 -0.5 0.5zM497.9 123.1l0.5-0.5 0.7 0.5 3.3 3.8 0 2.1 -0.3-1zM465 131.9l2.4-0.3 4 0.1 4.1 1.2 4.9 4.8 0.7 3.1 -0.7 1.5 -2 1.5 -2.7 0 1.9-1 1.2-2 -0.1-1 -1-1.9 -2.4-3 -1.9-1.6 -1.5-0.4 -0.5-0.5 -4 0 -2 0.7 -2 1.8 -1.4 2 -1.6 4 -2.7 3.8 -0.9 2 -0.2 2 0.4 3.9 1 2 4.5 5.9 1.9 1.5 2 1 8 3 4 0.7 3 0.1 4-0.8 2-0.8 4-2.1 4.3-3.6 1.2-2 1.3-2.9 0.6-2 0.6-5.6 2-2.8 0 1.5 -0.8 2 -1.2 6.9 -2 4.1 -2 2.7 -4.1 3 -3.7 2 -3.8 1 -4.4 0.2 -4.6-0.2 -4.1-1 -6.1-3 -2.9-1.9 -5.3-6.8 -0.9-6 0.9-4 3.6-5.9 1.4-3 1.9-2.9zM439.4 165.4l2 0.1 2.8 1.9 0.8 1.9 5.4 5.9 0 3 -0.5 0 -0.5-2.5 -1-0.5 -2-1.9 -3.9-4.9 -1.1-0.7 -2-0.2z"/>
<path fill="#ff3300" d="M457.2 110.3l19.4 0 0.1 1 1.7 1.2 2 0.7 6.8 1 4.2 2 3 2.5 4 2.4 2 1.7 2 2.8 0.1 1.4 -4.1-4.5 -4-2.3 -4-3.4 -2-1.2 -6-0.8 -1 0.4 -5.8 0 -3.2-1.3 -2-0.3 -12 0.3 -4 0.8 -2 0.9 -3 2 -3 2.7 -1.6 1.8 -0.5 2 -1.9 2 -1.7 0.9 -1.3 0.1 0-2.4 2-0.3 1-0.7 4.4-5.5 2.4-2 7.1-3.9 0.8-1zM464 131l3.4-0.5 4 0.1 3.4 0.4 3.3 0.9 1.5 1 1.8 2.3 1 1.9 0.7 2.7 -0.4 2 -1.3 1.7 -2 0.9 -1-0.1 -0.4-0.5 1.4-0.8 1.1-1.2 0.4-2 -1.6-2.9 -3.9-3.7 -4-1.6 -4-0.2 -3 0.9 -1.8 1.6 -6.6 11.8 -0.5 4 0.3 2.9 0.8 2 4.3 5.9 1.5 1.5 8 4.1 3 0.9 4 0.7 4 0 4-0.6 3-1.1 5-3.1 3.5-3.4 3.1-6.9 0.4-4.9 1-2.9 1.1-1 -1.1 9.2 -3 6.2 -1.6 2.3 -6.4 4.9 -2.2 1 -4.4 1 -3.4 0.2 -6.8-0.2 -4.5-1 -5.6-3 -2.7-1.9 -4.4-4.9 -1-1.7 -1-4.8 0-2.8 1-4.1 2-4 4-7 1-1.3zM439.4 167.4l2 0 2 1.6 3.3 4.3 1.7 1.6 1 0.3 0.5 3 -3.2 0 -0.9-3 -3.4-4.5 -1-0.9 -2-0.3z"/>
<path fill="#ff0000" d="M453.3 110.3l5.5 0 -0.2 1 -1.2 1 -6 2.6 -3 1.9 -3.4 3.3 -2.6 3.9 -2 0.9 -1 0.1 0-2.3 2-0.3 1-0.7 4-4.6 6.4-4.8zM474.6 110.3l10.6 0 0.1 1 0.7 1 5.5 2.9 8.4 5.9 2.5 2.9 0.3 1.1 -0.3 0.4 -1.8-2.4 -1.2-1.1 -4.5-2.8 -4.5-3.7 -2-1 -5-0.8 -1-0.1 -1.3 0.6 -2.6 0 -3.8-2.9zM463.6 130l3.8-0.5 5 0.2 4.5 0.3 3.7 1 1.9 1.9 1.9 4.7 0.5 2.2 -0.5 2.1 -3 3 -2 0.6 -2.8-0.8 3.8-0.6 1.5-1.3 1-2 -0.1-2 -0.8-1.9 -2.6-3.5 -3-1.8 -6-1.3 -5 0.2 -3 1.7 -1.3 1.7 -5 8.9 -1.3 2.9 -0.3 3 0.2 4.9 1.2 3 5.1 5.9 7.4 4.5 4 1.1 8 0.8 6-0.9 3-1.1 6-4.1 2.8-3.3 2.9-5.9 1.3-8.9 1 0 -0.9 8.9 -3.1 6 -1.9 2.9 -5.1 4 -4 1.9 -5.2 0.9 -6.8 0.2 -3.5-0.2 -4.5-0.9 -2.8-1 -4.4-3 -3.4-2.9 -2.4-2.8 -1-2.1 -0.6-6 0.5-5.9 2.1-5.5 4-6.7 1.5-1.5zM439.4 169.3l1.6 0 1.4 0.9 4 5.3 0.7 2.7 -3.3 0 -0.3-2 -1.1-2.2 -1-1.2 -2-0.6z"/><path d="M450.6 110.3l-0.4 2 -0.8 1 -7 6.3 -1 0.6 -2 0.3M475.4 144.7l3 2.2 2 0.1 2-1.2 3.8-4 0.4-3 -2-5.9 -1.2-1.9 -1.4-1 -3.6-1 -6-0.8 -4 0 -4 0.5 -4.5 2.3 -3.1 3.9 -1.4 2.7 -2.1 7.1 -0.6 4 0.1 4.9 1.1 4.9 0.8 2 1.6 2 6.1 4.8 3 1.7 6 1.6 5 0.3 6-0.4 9-1.8 2.3-1.3 5.4-4.9 4.9-8.9 0.7-3 0.1-4.9 -1.2-5.9 0.6-13.8 -0.4-0.9 -2.4-4 -11-7.8 -1-1 -0.5-2" fill="none" stroke="#d8f08a" stroke-width="0.45" stroke-opacity="0.5"/>
<rect x="126.4" y="331.3" width="69" height="69.2" fill="#80ff80"/><path fill="#000099" d="M151.2 331.3l4.6 0 0.7 7 -0.2 2 -0.9 2.4 -3 5.5 -4.5 5.2 -1.5 6.4 -2.7 4.6 -0.6 3 0.7 2 0.8 1 2.8 2.4 5 2.3 3 0.9 3 0.2 3-0.3 3-1.1 3-1.7 1.4-1.7 0.1-2 -0.6-1 -1.9-1.5 -3-1.3 0-0.3 2-0.5 2 0.4 3 1.9 1 0.2 1 3.1 -1 3.2 -5.1 3.8 -3.9 1.7 -8 0.3 -3.8-1 -5.7-3 -4.1-3 -1.4-1.5 -1-2.4 -1.4-7.1 0.4-3.1 2-2.8 4-3.1 6.5-7.1 2.7-4 0.2-3 -1.4-4zM167.7 331.3l8.3 0 0.8 5 1.2 3 2.1 3 5.3 5.9 2 1.4 4 1 4 0.2 0 2.5 -9.6-0.9 -2.7-1 -4.7-4.7 -2.5-1.4 -3.5-2.9 -5-2.3 -1-1 -0.4-1.8 1.6-4zM192.6 383.5l2.8-0.7 0 11.5 -4 0.4 -1.5 0.8 -1.2 2 -0.2 3 -5.3 0 0.4-5 1.8-5.3 2-2.7zM126.4 396.5l0-0.4 3.6 0.4 0.4 1 0.2 3 -4.2 0z"/>
<path fill="#990000" d="M149.1 331.3l4.2 0 0.2 3 1 4 -0.1 2.5 -1 2.5 -2 3.1 -5.1 5 -1.9 4.3 -3 0.9 -1 0.6 -0.8 1.2 -0.4 2 0.9 7 1.4 3 2.9 2.6 3 1.9 5 2.3 3 0.5 4 0.1 4-0.7 3-1.4 2-1.3 3-3.1 0-1.9 -3-2.7 -2-1 -3.3-0.3 1.3-1.2 2-0.1 1.3 0.3 2.7 1.7 1 0.2 1 1.6 0 5.2 -1 1.4 -3.1 2.9 -3 2 -2.5 1 -8.4 0.5 -2.7-0.5 -8.3-3.9 -5-3.8 -1-1.4 -2.3-8.9 0.2-3 2.6-4 5.5-4.7 3.8-4.4 3.1-5 0.4-2 -1.3-4.6zM172.9 331.3l4.8 0 0.2 3 0.9 3 2.8 5 3.8 4 2 1.5 3 0.9 5 0.2 0 3.3 -8-0.8 -3-1.7 -3-3.9 -4.1-3.5 -3.3-5 -0.9-2zM188.3 393.5l1.1-0.4 6 0.1 0 2 -4 0.7 -1.4 1.6 -0.4 3 -2.6 0 0.3-5zM126.4 398.5l0-0.4 1.8 0.4 0.4 2 -2.2 0z"/>
<path fill="#0000cc" d="M154.3 331.3l16.4 0 -0.3 3 -1.1 3 0.2 1 0.9 0.8 3 1.2 3 3.2 4 2.7 2.3 3.2 1.7 1.5 2 0.9 4 0.8 5 0.3 0 1.3 -11.3-0.8 -3.9-2 -2.8-2.5 -7-5.2 -8-3.2 -2-0.3 -1 0.4 -3.7 4.7 -3.3 5.7 -2.3 2.4 -1.3 2 -2.7 11 0.1 2 1.1 2 3.1 2.4 3 1.1 4 0.8 5-0.7 2-1 1.8-1.6 0.5-1 -0.1-1 -0.6-1 -2.6-2 1-0.4 2.2 0.4 1.8 1 1.5 2 -0.1 2 -1.3 2 -1.4 1 -5.7 2.3 -7 0 -6.1-2.3 -4.5-3 -2.3-3 -0.4-2 0.1-6 0.2-0.8 3-0.3 1-0.9 1.2-5 0.8-1.9 4-3.7 3.3-5.5 0.6-2 0-2zM192.9 380.4l2.5-0.3 0 12.1 -4-0.4 -3-1.5 -1 0.5 -1 1.7 -0.5 2 -0.1 6 -5.5 0 0.1-2.7 1-3.8 2-4.4 2.3-3.1zM126.4 395.5l3.4 0 1.4 1 0.7 4 -2.1 0 -0.4-2.5 -1-1.1 -2-0.3z"/>
<path fill="#cc0000" d="M148.1 331.3l3.4 0 0.2 3 1.3 4 0 2 -0.6 2.1 -2 2.8 -4.2 4.2 -2.8 3.4 -4 3 -1.3 1.6 -0.7 2 -0.1 2 1.6 8 1.5 2.3 4 3.1 6 3.3 3 1 7 0 3-0.5 5-2.6 3-2.4 0.2 0.8 -2.2 2.5 -3.1 2.5 -1.9 1.1 -4 0.8 -6 0.4 -2-0.2 -5-2.5 -4.1-1.6 -5.6-4 -1.3-1.9 -0.5-4.1 -2-5 -0.1-2 2.5-4 7.8-7 1.8-2.1 1.8-3 1.2-3 0.3-2 -1-5zM175.7 331.3l2.8 0 0.3 4 1 3 2.3 4 2.3 2.6 3 2.1 2 0.6 6 0.2 0 3.1 -6.7-0.5 -2.3-1 -1-0.9 -7.1-8.2 -2.1-5zM163.9 364.4l1.5-0.6 2 0.2 4 2 1 1.3 0 6.2 -0.8-0.1 0.7-3 -0.2-2 -0.7-0.9 -4-2.4zM191.4 394.5l4-0.2 0 1.4 -2 0 -1.8 0.8 -1.4 2 -0.2 2 -1.6 0 0.5-4 0.6-1z"/>
<path fill="#0000ff" d="M158.2 331.3l5.7 0 -0.2 2 -1.7 4 0.9 2 2.5 1.6 5.3 2.4 7 5 3.7 3.4 3 1.4 4 0.7 7 0.3 0 0.9 -12.3-0.6 -3.8-2 -11.9-8.5 -3-1 -3 0 -2 0.9 -2.7 2.5 -3.3 5.3 -3.7 4.8 -0.9 2 -0.4 4.2 -0.8 1.8 0.2 4 1.4 2 2.2 1.6 4 1.2 5-0.1 3.2-1.7 0.7-1 0.1-1 -0.3-1 -1.9-2 1.6 0 1.7 1 1.8 2 0.1 1.1 -1 1.5 -1.9 1.4 -2.3 1 -2.8 0.5 -5.4-0.5 -5-2 -1.4-1 -1.7-2 -0.5-3 1.8-5 1.2-5.7 1-2.3 3.7-4 4-7.1 1.8-4zM194.2 378.4l1.2 0 0 2.3 -2 0.2 -1 0.5 -6.9 6.1 -1.4 2 -2.2 5 -0.8 3 -0.2 3 -1.9 0 0.4-5.1 1-3 2-4.1 2.4-2.8 6.6-6zM131.1 396.5l0.3-0.4 0 1.7zM131.6 398.5l0.8-0.3 0.1 2.3 -0.7 0z"/>
<path fill="#0033ff" d="M159.5 343.3l2.9-0.8 4.2 0.8 3.8 2 10 7.6 3.5 1.5 -2.5 0.1 -2.7-1.1 -6.9-4 -4.4-3.6 -2-0.9 -3-0.2 -4 2.1 -2.5 2.6 -2.4 4 -3.6 5 -0.5 2.3 -0.5-0.3 0-1 0.5-2.6 1-1.8 2.3-2.6 3.7-6zM185.2 354.4l4.2 0.6 6 0.2 0 1.2 -4-0.1 -6.6-0.9zM148.3 362.4l0.1-0.3 0.4 1.3 0 4 1.1 2 2.5 1.7 4 0.8 2-0.1 2-0.6 1.2-0.8 0.5-1 -0.1-2 0.4-0.4 1.1 0.4 0.9 1 0.3 2 -1.9 2 -3.4 1.1 -3.3-0.1 -3.9-1 -1.8-0.9 -2-1.7 -0.9-2.4 0-2zM192.2 377.4l3.2-0.3 0 1.5 -2 0.2 -2 1 -7.4 6.7 -2.1 3 -2.1 5 -0.8 6 -1.4 0 0.8-6.3 2-5.5 1-1.6 8-7.7zM131.1 395.5l1.3-0.3 0.3 0.3 0.1 2 -0.4 0.7 -0.2-1.7z"/>
<path fill="#0066ff" d="M132.2 331.3l0.2 1 -0.5 0zM163.4 344.3l3.7 1 6.3 4.7 7.6 4.4 -0.6 0.4 -2-0.4 -2.5-1 -6.4-3 -3.1-2.5 -2-1.1 -2 0 -3 1.1 -3.6 3.5 -0.9 2 -3.1 4 -1.7 3 -0.5 2 0.1 4 1.7 2.6 2 1.1 3 0.2 2-0.5 1.5-1.4 0.3-2 0.7 0 1.1 1 0.5 2 -1.1 1.6 -2 0.8 -3 0.1 -3.4-0.5 -2.6-1.5 -1-1.1 -0.4-1.4 -0.2-2 0.6-5.4 1-2.6 7-10 3-2.2zM182 355.4l3.7 0 3.7 0.7 6 0.1 0 2 -8-0.7zM193.3 375.4l2.1-0.1 0 1.8 -2 0.1 -2 0.8 -9.3 8.5 -1.4 2 -1.7 4 -1.1 4 -0.3 4 -1.5 0 0.3-3.9 2-6.4 1.8-3.7 9.4-9.1zM134.1 390.5l1.9 0 1.3 2 -0.7 2 -1.8 2 -0.9 2 -0.1 2 -0.5 0 -0.3-3 -0.8-2 -1.2-1z"/>
<path fill="#0099ff" d="M126.4 331.3l6 0 -1 2 0 2.2 -2 0.1 -1 0.7 -2 0.2zM162.9 346.3l2.5 0.5 5 3.6 7 3.6 3 1.1 2.4 0.3 3.6 1.6 3 0.7 6 0.2 0 3.3 -4-0.3 -5-1.3 -5-3 -4-1.2 -5-2.5 -4.9-1.5 -3.1-1.7 -2-0.5 -2 0.3 -3 1.7 -1.7 2.2 -0.3 1.2 -1.7 1.8 -1.9 3 -1 2 -0.2 2 0.5 3 1.3 1.5 2 0.8 2-0.1 1-0.4 1.7-1.8 1 0 0.2 2 -0.9 1.2 -2 0.8 -3.1 0 -2.7-1 -1.2-1.3 -0.6-2.7 0.6-5.6 7-10.6 2.7-1.9zM193.3 372.4l2.1-0.4 0 3.6 -3 0.3 -2 1.1 -9.2 8.5 -1.5 2 -1.6 4 -1.5 5 -0.3 4 -2.4 0 0.5-3.4 3-8 2-3.6 4.6-4.1 4.4-5zM133.2 389.5l1.2-0.5 2 0.3 2 2.3 0 2.9 -2.6 4 -0.2 2 -1.4 0 0-3 0.2-0.9 2.6-3.1 0.1-1 -0.7-1.5 -1-0.5 -1 0.1 -1.2 0.9 -1.8 2.4 -0.4-0.4 0.2-1z"/>
<path fill="#00ccff" d="M126.4 336.3l0-0.7 2-0.2 2 0.3 1 0.6 -3 0.2 -0.7 0.8 -1.3 0zM160 349.4l2.4-0.6 2 0.4 3 1.8 9 3.9 5.3 1.5 4.7 2.7 4 1.1 5 0.4 0 12.4 -3 0.6 -2 1.4 -11.6 11.5 -3.9 10 -0.5 4 -3.3 0 0.3-2.4 3.4-5.6 2.6-6.4 5.8-5.7 4.6-6 1.2-3 0.8-6 -0.6-1 -1.4-1 -3.5-1 -1.6-1 -3.3-3.5 -8-4.3 -2-0.7 -4-0.5 -2-0.9 -3 0 -2 0.6 -1 0.6 -1 1.4 -0.3-0.7 0.3-1.2 1.8-1.8zM154.6 355.4l0.8-0.8 0 1.1zM153.9 356.4l0.5-0.8 0.3 0.8 -2.7 5 -0.2 3 1.4 2 1.2 0.7 2 0.1 1.3-0.8 1.2 0 -1.5 2.1 -2 0.3 -2.6-0.4 -1.4-1.2 -0.6-1.8 -0.2-3 0.8-2.3zM134 387.5l1.4-0.1 1.6 1.1 2.5 3 0.4 3 -1.2 4 -0.2 2 -3.2 0 0.1-2 2.8-4 0.2-2 -0.7-2 -2.3-1.6 -1 0 -1 0.7 -3.7 4.9 -3.3 0 0-0.3 2-0.2 0.9-0.5 2.1-3.9 1-1.2z"/>
<path fill="#00ffff" d="M159.7 351.4l3.7-0.1 4 1.5 3.3 0.6 4.7 2.5 3.9 1.5 5.1 4.3 5.1 1.7 1.2 1 0.4 1 -1.5 6 -0.8 2 -5.4 7 -5.4 5.1 -1.3 2 -2.3 6.2 -2.3 3.8 -0.5 3 -2.9 0 0.5-3 3.9-5 3.2-7 5.2-5.1 3.8-5 1-3 -0.2-4 -1-2 -4.1-3 -3.4-4 -4.2-3.4 -4-2.4 -3-0.2 -2 0.3 -2-1 -2 0 -2 0.8 -2 2 -0.3-0.1 0.3-1.4 1-1.3zM154.2 357.4l0.2-0.4 0.4 0.4 -0.9 2 -1 3 0.1 1 1.4 2.1 1 0.6 2.3 0.3 -1.3 0.9 -1.1 0.1 -1.9-0.6 -1-0.9 -0.6-1.5 0.1-2 0.5-2zM132.4 386.5l2-0.5 2 0.5 2 1.9 3 4 0.3 2.1 -0.8 6 -2.9 0 0.2-2 1.6-4 0-2 -0.9-2 -2.5-2.5 -1-0.4 -2 0.2 -2.4 2.7 -1.4 3 -3.2 0.7 0-3.4 2-0.4z"/>
<path fill="#33ffcc" d="M158.4 353.4l4-0.6 1 0.2 2.2 1.4 -2.2 0 -1-0.7 -2 0.1 -2 0.9 -2 2 -0.4-0.3 0.4-1zM169 354.4l1.4-0.1 2.2 1.1 5.5 4 3.4 4 3.9 2.6 1 1.5 0.4 3.9 -0.4 2 -0.9 2 -2.1 3 -7.6 8.1 -2.4 5.8 -3.8 5.2 -0.6 3 -2.5 0 0.2-2 0.7-1.9 4.6-5.1 2.4-5.4 5.6-5.7 3.2-4 0.7-1 0.8-3 -0.4-3 -1.2-2 -10.7-10.8zM155.2 357.4l0.2-0.4 0.4 0.4 -0.4 1.1 -0.5-0.1zM154.2 359.4l0.2-0.7 0.3 0.7 -0.7 3 0.3 1 1.1 1.5 1.4 0.5 -0.4 0.5 -2-0.2 -1.2-1.3 0-3zM134.4 384.5l1 0 1.7 1 6.6 7 0.1 2 -0.9 4 -0.1 2 -2.1 0 0.7-6 -0.2-2 -1.1-2 -3.7-3.8 -1-0.6 -2 0.1 -1.9 1.3 -3.1 3.5 -2 0.5 0-4.2 2-0.2 2.9-1.6z"/>
<path fill="#66ff99" d="M133.3 338.3l1.7 0 1.8 1 0.3 2 -0.7 1.3 -1 0.7 -1 0.2 -1-0.5zM158.9 354.4l2.5-0.5 2.2 0.5 -3.2 0.4 -2 1 -1.6 1.6 -0.4 0.9 -0.3-0.9 0.3-0.7 1-1.3zM166 354.4l2.9 0 4.5 3 6.7 7 3.4 3 1 2 0.3 3 -0.4 2 -1 2 -3 3.6 -5.5 5.5 -3.3 7 -3.8 4 -0.9 2 -0.1 2 -2.7 0 0.3-2.9 1-1.9 4.8-4.2 3.2-6.1 8.4-9 1.1-2 0.3-2 -0.3-2 -1-2 -5.5-5.5 -3.7-4.5 -4.3-3.5zM155.4 358.4l0.8 0 -1.3 3 0 1 1.5 2 0 0.3 -1 0.1 -1-0.9 -0.2-1.5 0.2-1.7 0.4-0.3zM134.4 383.5l1 0.7 1.8 0.3 3.2 3.1 5.2 3.9 0.6 2 -1.2 4 -0.3 3 -2.1 0 0.9-6 -0.2-2 -6.9-7.5 -1-0.3 -2 0.1 -5 2.7 -2 0.2 0-2.5 7-1.1z"/>
<path fill="#99ff66" d="M192.3 331.3l3.1 0 0 3.1 -2-0.5 -1-1.4zM133.3 337.3l1 0 -0.9 1.4 0.3 3.6 0.7 0.7 1-0.1 1.4-1.6 -0.3-2 -1.7-1 2.6 0 1.1 1 0.2 2 -0.3 1.2 -1.7 1.8 -1.6 1 -3.6 1 -5.1 0.3 0-1.4 2-0.1 2-1.2 1.6-3.6 0.3-2zM159.2 355.4l2.2-0.5 2.1 0.5 -3.1 0.4 -2.9 2.6 -1.6 3 0.5 3 -1.1-1 0.1-3.2 2-3.4zM167.1 355.4l0.3-0.9 3.2 1.9 6.5 7 4.2 4 1.4 2 0.7 3.2 -0.9 2.8 -1.1 1.6 -8.6 9.5 -2.4 5.1 -4.3 3.9 -1.2 2 -0.3 3 -4.7 0 0.4-3 1.2-2 2.1-2 5.2-3 3.6-5.5 3.4-3.6 5-6 0.8-2 -0.5-3 -1.2-2 -4.5-4.5 -4-5.4zM126.4 383.5l5-0.3 4.1 0.3 -3.1 0.4 -4 1.4 -2 0.2zM137.1 384.5l1.5 0 2.8 2.4 4.3 2.6 2.3 2 0.5 2 -1.5 4 -0.3 3 -2.3 0 0.1-2 1.4-5 -0.7-2 -4-3z"/>
<path fill="#ccff33" d="M190.8 331.3l2.3 0 0.1 1 0.7 1 1.5 0.3 0 3.3 -3-0.5 -1-1zM129.4 337.3l4 0 -1.1 1 -0.4 1 -0.5 3.6 -1.3 2.4 1.3 0.4 2-0.1 2-0.6 2.2-1.7 1.1-2 0-1 -0.4-1 -1.3-1 2.2 0 0.6 1 0.5 2 -0.8 2 -2 2 -3.7 2 -5.2 1 -2.2 0.1 0-5.5 2-0.3 1-0.6 1.3-2.7 0.2-1zM162.1 355.4l5.2 0 2.9 2 2 2 -0.8 0.3 -6-3.8 -2-0.1 -3 1.4 -2.3 2.2 -0.9 2 -0.1 1 0.5 2 -0.4 0 -0.9-1 0.1-3.4 1-1.8 2-1.8zM172 360.4l0.4-0.9 2.8 3.9 5.2 5.3 1.2 2.7 -0.1 3 -2.1 3.1 -7.3 8 -2.7 4.7 -1.3 1.3 -3.7 2.1 -2 1.9 -1.2 2 -0.4 3 -4.1 0 0.1-4 0.8-2 2.9-2 6.9-3.4 7.7-8.7 3.9-6 0.4-2 -0.6-2 -5.4-6.8zM126.4 381.4l7.3 1 -3.9 1.1 -3.4 0.1zM138.5 384.5l1.4 0 5.2 3 4.5 3 1.8 2 0 1 -2.4 4 -0.3 3 -2.3 0 0.1-2 1.7-5 -0.5-2 -1.3-1.3 -4.4-2.7z"/>
<path fill="#ffff00" d="M190.4 331.3l0.3 0 0.1 2 0.6 1.7 2 1.8 2 0.2 0 0.3 -3 0 -2-1.9zM126.4 338.3l4-0.3 0.9 0.3 -0.9 2.7 -1 1.4 -3 0.7zM139.2 338.3l0.2-0.7 1 0.7 1 1 0.2 1 -0.2 2.3 -2 2.7 -5 3.1 -4 1 -4 0.1 0-1.3 6-0.5 2-0.7 3-1.8 1.9-1.9 0.9-2 -0.3-2zM161.9 356.4l4.5-0.2 3.3 2.2 2 2 -0.3 0.3 -5-3 -2-0.4 -2 0.3 -2 1.4 -1.2 1.4 -0.5 1 -0.3 3.4 -1.1-1.4 0.1-3.1 1.4-1.9zM172.3 361.4l0.5 1 -0.4 0.9zM173.3 363.4l5.9 7 0.6 2 -0.4 2.2 -4.9 6.8 -3.8 4.1 -2.3 3.1 -1 0.9 -5 2.4 -3.8 2.6 -1.2 2 -0.4 4 -3.3 0 -0.3-2 -1-0.5 -1 1.5 0 1 -3.1 0 0.2-2 2.3-5 0-1 -0.6-1 -2.8-2.4 -7.4-4.6 2.4 0 9 5.5 4 1.2 4-0.3 5-1.9 2-1.2 6.5-6.4 3.1-6 0.5-3 -0.3-2 -2.8-5.2zM126.4 379.4l2.2 0 6.8 3 -9-0.7z"/>
<path fill="#ffcc00" d="M140.3 338.3l0.1-0.5 2 1 0.4 2.5 -0.4 2.2 -2.3 2.8 -4.8 3.1 -3.3 1 -5.6 0.3 0-1.4 6-0.3 3-1.1 3-1.9 2.5-2.7 0.7-2 -0.4-2zM126.4 339.3l1.6 0 -0.4 1 -1.2 0.1zM162.5 357.4l3.2 0 5 3 -0.3 0.4 -4-1.8 -3-0.2 -2 1.4 -0.9 1.2 -0.8 2 0 2 -0.4 0 -0.9-1.7 0.1-2.3 1.3-2zM173.4 365.4l0-0.3 3.1 5.3 0.4 2 -0.5 2.7 -2 4.3 -2 2.7 -5.3 5.4 -3.3 2 -5.8 2 -2.6 0.1 -5-2 -5-3.4 -5-2.6 -3.5-0.1 0.5-0.4 5.5 0.4 2.6 1 4.9 3.6 3 1.1 5 0.1 5-1.4 6-4.5 3.5-4 1.2-3 0.3-2 -0.1-4 -0.4-2 -0.5-0.8zM126.4 377.4l2.5 0 2.2 1 4.9 3 0.6 1 -0.2 0.4 -1.2-0.4 -0.8-0.6 -5-1.9 -3-0.3zM151.4 397.5l1-0.6 1 0 1 1.6 0.1 2 -3.8 0z"/>
<path fill="#ff9900" d="M189.2 334.3l0.2-0.6 0 2.6zM135 335.3l1.4 0 1 0.5 3 0.4 2 1 1 1 0.6 3.1 -0.6 3.1 -2.5 2.9 -4.6 3.1 -2.1 1 -3.7 1 -4.1 0.1 0-1.8 6-0.6 3-0.9 4-2.4 2.4-2.5 1.2-3 -0.4-2 -1.2-1.4 -2-1.4 -1-0.1 -1.1 0.9 -0.9 0 -1-0.7 -3-0.2 0-0.5zM189.4 336.3l1-0.1 0 1zM162 359.4l1.4-0.7 2 0.1 2.1 0.6 3.3 2 -0.4 0.5 -2-1.1 -4-0.7 -2.1 1.3 -1.4 2 -0.4 2 -0.4 0 -0.3-2 0.5-2zM173.4 367.4l1.2 4 0 3 -1.1 4 -1.1 2.1 -2.9 3 -4.9 4 -2.1 1 -3.7 1 -4.4 0 -3-0.9 -7-4.6 -3-0.8 -3.1 0.3 -6.9-4.6 -2-1 -3-0.3 0-2.7 3 0.4 10 6.7 4.3 0.4 2.7 0.9 5 3.8 2 0.7 2 0.2 5-0.8 3-1.1 2-1.3 5.5-4.4 1.2-2 1.2-3z"/>
<path fill="#ff6600" d="M133.4 331.3l5.4 0 0.5 2 4.1 2.8 1 1.1 0.9 3.1 -0.6 4 -1.3 2.4 -1.6 1.6 -7.4 5.2 -3 1.1 -5 0.3 0-2.7 5-0.3 5-1.8 5.4-3.8 1.4-2 0.8-2 -0.1-3 -1.5-1.9 -3-1.3 -3 0.3 -2-0.9 -2 0.1 0-2.1 1-1.2zM188.4 331.3l1 0 -0.3 4 0.5 1 1.8 1.7 4 0.4 -4 0.5 -1.6 1.4 -1.4 2.1 -2 0.3 -1-0.6 -1-1.2 -0.3-2.6 3.8-5zM163.2 360.4l1.2-0.3 2.8 0.3 3.5 2 0.7 0.6 0 0.7 -4-2 -3-0.1 -1.3 0.8 -1.9 3 0.1-3zM126.4 370.4l0-0.3 1 0 2 0.9 2.9 3.4 7.1 5.5 2 0.9 4.2 0.6 1.8 0.7 4 3 2 0.9 4-0.2 6-1.7 5-3.1 2.5-2.6 1.5-2.4 0.4 0.4 -0.4 1.6 -2 3 -7.2 5.5 -2.8 1 -6 0.4 -2.6-0.4 -6.4-4.5 -4-0.9 -2.1 0.3 -8.9-6.2 -2-0.7 -2-0.1zM173.4 371.4l0-0.3 0 4.4z"/>
<path fill="#ff3300" d="M137.9 331.3l6.9 0 0 1 2.1 5 0.2 4 -0.7 3.3 -1 1.9 -2 2.4 -9 7.6 -4.9 2.9 0.1 1 4.4 7 0.6 5 1.6 2 5.6 4 6.3 2 4.3 2.5 2 0.4 8-1.1 3-1.1 4-3 3-3.8 0 1.6 -3 4.5 -6.1 4.1 -2.7 1 -4.2 0.8 -3 0 -2.1-0.8 -2.9-2.6 -2-1.1 -6.7-1.4 -6.9-5 -3.4-3 -1-0.6 -2-0.3 0-17 6-0.6 4-2 6-4.3 1.8-2.3 0.8-2 0.2-3 -0.4-2 -2.4-2.6 -2.9-1.4 -1.1-1zM180 331.3l8.6 0 -0.2 2.5 -3.7 4.5 -0.2 1 0.7 2 1.2 0.9 1 0.1 1-0.7 2-2.4 3.2-0.9 1.8 0 0 2.1 -2 0.4 -0.6 0.5 -0.9 3 -0.8 1 -1.7 0.5 -2-0.3 -2-1 -2-1.9 -2-3.6 -1.1-3.7zM164.6 361.4l1.9 0 2.6 1 2.3 1.7 0.3 0.3 -0.3 0.6 -4-2 -2-0.2 -1 0.2 -2 1.8 -0.3-0.4 0.3-1.4zM171.8 365.4l0.6-0.3 0 1.3zM192.1 397.5l1.3-0.6 2-0.2 0 3.8 -4.2 0 0.2-2z"/>
<path fill="#ff0000" d="M142.9 331.3l6.5 0 0.2 3 1.3 4 0.1 2 -1.6 3 -2.9 4 -4.1 4.4 -4.4 3.7 -2.2 3 -0.6 3 2.5 10 1.7 1.8 5 3.7 7 3.3 2 0.6 10-0.6 4-2.1 4-3.5 0.2 0.8 -2.3 3 -2.5 2 -4 2 -7.4 1.3 -2 0 -5-2.9 -2-0.8 -3.4-0.6 -2.2-1 -6.4-5 -1.2-6 -2.8-3.9 -2-1.4 -2-0.3 0-3.9 4-0.3 2-0.5 2-1.1 8-6.3 3.5-4.4 1-4 -0.3-3 -0.6-2 -2.6-3.3zM177.6 331.3l3.2 0 0.2 4 0.8 4 1.7 3 2.9 2.5 2 0.5 2-0.7 2-3.9 1-0.7 2-0.3 0 9.5 -4-0.2 -3-0.6 -2-1.1 -2-1.8 -3-3.3 -2-3.1 -1.4-3.8zM163.8 363.4l1.6-0.5 3.1 0.5 2.9 1.7 1 1.1 0 1.7 -1-1.5 -5-2.5 -1-0.1 -2 0.7 -0.2-0.1zM172.3 373.4l0.1-0.3 0 1.4 -0.4-0.1zM192.2 395.5l3.2-0.2 0 1.7 -2 0.2 -1 0.6 -0.5 0.7 -0.3 2 -2 0 0.1-2 0.7-1.9z"/><path d="M175 331.3l0.5 4 2.2 5 7.7 8.9 2 1.2 2 0.5 6 0.5M161.9 365.9l2.5-0.9 3 0.6 4 2.4 0.7 2.4 -0.7 2.6 -3 2.4 -4 2.3 -3 0.9 -7 0.1 -4-1.1 -5-2.7 -3.4-2.5 -2-2 -0.9-2 -1.3-8 0.9-3 1.7-1.8 3-2 3-3.9 5-5 1.9-3.4 0.2-3 -1.2-4 -0.3-3M195.4 393.9l-4 0.2 -2 0.8 -1 1.6 -0.4 4" fill="none" stroke="#d8f08a" stroke-width="0.45" stroke-opacity="0.5"/>
<rect x="203.5" y="331.3" width="69" height="69.2" fill="#80ff80"/><path fill="#000099" d="M210.3 331.3l4.2 0 0 2.3 -1 2 -1 0.2 -2.8 1.5 -0.9 1 -0.3 1 0.9 3 1.1 0.7 1 0 0 0.4 -2.6-0.1 -3.4-2.8 -2-0.2 0-4.7 2-0.3 4-2 0.7-1zM257.2 331.3l2.5 0 -0.2 5.2 -1.3-0.2 -0.8-1zM267.5 345.3l0-0.9 5 0.6 0 2.6 -3-0.3zM237.3 350.4l2.2-1 3 0.7 5 3.6 9 4.3 3 1.9 1.3 4.5 1.7 1.8 2.4 1.2 1.3 2 -0.1 2 -0.6 1.4 -5 4 -5 5.8 -3 5.1 -6.7 4.8 0.3 1 1.4 1 3 1 2 1.4 0.7 1.6 0.2 2 -30.4 0 -0.3-3 -1.2-2.4 -1-0.9 -2-0.4 -2 0.8 -1 1 0-1.3 0.8-0.8 0.1-1 -0.3-2 -0.6-0.8 -1-0.8 -4.1-1.4 -1.4-1 -1.5-2.6 -1-0.2 0-0.3 2 0 1.1-1 0.9-2.1 1-0.9 1-0.5 1 0.4 2.8 4.2 7.2 7.1 3 3.7 2 1.1 2 0 3-0.9 1 1 0.7 0 1.3 1 2 0 1-1 2 0 3-3 0-2.5 5-3.3 1.7-2.2 1.7-7.1 4.1-5 0.4-2 -0.1-3 -0.8-1.9 -1-0.9 -2-0.6 -3.4 0.4 -1.6-2.7 -0.8-3.3 -1.2-2 -3-2.6 -2-1 -1-0.1 -1.4 0.7 -3.3 4 -1.8 4 0.1 1 0.8 1 1.6 0.8 1 1.3 -6 1.1 -2-0.3 -1-0.9 -0.8-2 0.8-3.8 1.8-2.2 4.1-3z"/>
<path fill="#990000" d="M214 331.3l0.5 0 0 4 -0.5 1 0.5 0.6 0 3.4 -0.3 0 0.2-1 -0.5-2 -1.4-0.1 -1 0.4 -1.6 1.7 0.1 1 1.5 1.8 1-0.3 0.5 0.5 -1.5 0.3 -0.3 0.7 -1.6 0 -1.2-1 -1-2 -0.4-2 0.5-1 1.1-1 4.9-2.5zM256.4 331.3l1.7 0 0 4 -0.6 0.6 -1-1.6zM267.9 346.3l4.6 0.3 0 2 -3-0.6zM237 348.3l2.5-0.5 3.1 0.5 4.9 3.9 9 4 3 2.1 1 2.4 0 2.7 0.7 1 1.3 1.4 3.5 1.6 1.3 2 0 2 -0.8 2.2 -5 4 -5.2 5.9 -2.8 4.6 -3.4 3.4 -0.3 1 0.6 1 2.7 2 0.7 1 0.6 2 0.1 2 -3.1 0 0-1 -0.9-1.5 -5-1.4 -2-2.2 0-0.9 1-1 0-1.9 4-1.6 3.4-2.5 2.6-5.8 6-6.9 3.6-2.4 0.5-1 -0.2-1 -0.9-1.1 -3-0.9 -0.7-1 -0.3-2.9 -2-1.7 -1-0.6 -3 0.5 -1.5-0.3 -2-4 -1.1-1 -6.4-4.8 -2-0.4 -2 0.5 -0.8 0.7 -3.2 4.4 -4 2.9 -1.1 1.7 -0.1 2 1.2 1.4 6.1 0.6 -1.1 1.1 -4 1.3 -2-0.1 -1-0.6 -1.4-1.7 -0.5-2 0.9-3.8 2-3 4-3.2 2-3.3zM206.5 383.5l2.2 0 2.8 2.9 4.6 1.1 1.4 0.8 0.7 1.2 0 1 -1.4 3 -0.7 0 0-1 -1.6-2.3 -2-1.2 -2.4-0.5 -2.1-1 -2.5-2.6 -1.7-0.4 1.7 0zM234.2 395.5l1.3 0 0 0.5zM203.5 396.5l0-0.8 1 0.1 1 0.6 0.7 4.1 -2.7 0zM226.4 399.5l1.1 0 0.1 1 -1.2 0z"/>
<path fill="#0000cc" d="M203.5 331.3l9 0 -0.6 2 -1.1 1 -3.7 2 -1.5 2 0.2 1 2.1 3 -1.5 0 -0.9-0.6 -2 0zM259 331.3l2.2 0 0.3 4 1 1.9 3 1.9 3 3.3 2 0.7 2 0.1 0 2.6 -4.6-0.5 -3.4-3 -1 0 -2-2 -0.2-2 -1.8-1 -0.6-1zM238.9 352.4l1.6-0.4 1.9 0.4 4.1 3 2 2 1.5 4 1.5 1.4 5.3 0.6 0.9 1 1.3 5 0 2 -0.6 2 -1.3 2 -2.8 3 -2.8 7.4 -1.7 1.7 -3.7 2 -1.6 0.4 0-0.6 4.8-4.8 2.2-8.2 4.1-4.9 0.5-1 0.1-2 -0.3-1 -1.4-1.7 -1-0.4 -4.2 0.1 -2.1-1 -1-6 -1-2 -1.7-1.8 -4-0.1 -1.9 1.9 -1.7 3 -0.2 2 0.3 1 1.5 1.8 0 1.2 -1-0.7 -5.4-1.3 -0.4-1 0.4-1 3.4-3.3 3-4.4zM212.1 375.4l0.4-0.1 1 0.9 7.2 9.3 6.8 6.8 2 0.9 2-0.3 1 0.2 0.3 2.4 -1.3 2 -1 0.1 -2-0.4 -4-1.9 -0.3 5.2 -3.4 0 -0.1-2 -1.2-2 -1-0.5 -2-0.1 -1 1.1 0-1.8 3-2.9 2-0.4 1 0.3 0.2-0.7 -4.2-5 -1-0.4 -4-0.5 -2-2.1 -1-0.4 0-2.1 1-1.6 0.2-2 0.8-1.7zM222.5 392.3l-0.7 0.2 0.7 0.5zM242.5 394.5l0.3 0 -0.2 1 1 5 -11.5 0 0.4-2.1 5-1 2.1-1.9 1.9 0z"/>
<path fill="#cc0000" d="M256.3 331.3l0.7 0 0.1 3 -0.6 0.4zM214.5 333.3l0-0.3 0 6.7 -1-1.9 -1.8 0.5 -0.9 1 0.1 1 0.6 0.7 1 0.2 1-0.6 0 0.9 -0.9 0.8 -2.1 0.5 -1-0.4 -1-2.1 0-2 0.9-1 1.7-1 2.4-0.8zM237 347.3l3.5-0.3 3 0.8 5 4.2 9 4.2 2 1.7 1 1.8 0 3.7 -1-3.1 -3-1.9 -9.9-5 -3.1-2.6 -2-1 -2-0.1 -2 0.8 -3.7 4.9 -4.3 3 -1.6 3 0.1 3 1.5 1.7 2 0.4 3-0.4 1.6 0.3 -4.6 2.1 -2-0.1 -1-0.6 -2-2.4 -0.3-1 0.3-3 1-2.5 2-2.8 3.3-2.7 2.7-4.6zM268.5 347.3l4 0.4 0 1.2 -3-0.4zM265 367.4l1.7 0 0.8 1 0.3 1 -0.2 3 -0.9 2 -5.3 4 -5.3 6.1 -1.6 3.1 -3.3 3.9 -0.1 1 2.4 2.4 1 1.6 0.4 4 -1.7 0 -0.1-2 -1.3-2 -5.3-2 -2-1.4 0-1 6-3 2-1.6 3-5.2 5-5.8 4-2.9 1-1.2 0.7-2 -0.5-2zM203.5 384.5l2-0.1 2-0.7 2 3 2 1.2 2.4 0.6 1.8 1 0.6 2 -0.8 0.5 -2-2.2 -5.2-1.3 -2.8-1.5 -2-0.4zM203.5 395.5l0-0.9 2 0.7 1 2 0.1 3.2 -3.1 0z"/>
<path fill="#0000ff" d="M261 331.3l1.6 0 0.2 3 0.7 1 5 5 2 1.2 2 0.2 0 2 -3-0.3 -2-0.8 -2-2.7 -2-1.2 -1-0.1 -1 1.7 0-1 -1-1 0.5-2zM203.5 342.3l0-0.8 3.2 0.8 -3.2 1zM239.5 354.4l1-0.4 2 0.4zM243.1 355.4l0.4-0.4 0.7 0.4zM244.2 356.4l0.3-0.8 1.5 1.8 1.7 7 1.8 0.8 4-0.1 1.1 0.3 1.1 1 0.7 3 -0.9 3 -3.6 4 -0.8 2 -0.6 4 -1 2.6 -4 3.6 -0.5-0.1 0.5-1.5 2.5-3.5 2.5-7.6 1-1.6 2.8-2.9 0.9-2 -0.5-2 -1.2-1.4 -1-0.5 -5.7-0.1 -1.3-1 -0.4-6zM237 357.4l0.5-0.8 0.1 1.8 -0.8 1 -0.2 1 0.1 1 0.8 1.6 0 1.5 -1.8-2.1 -0.2-1 0.8-3zM211.3 372.4l2.3 0 2.1 5 5.9 7.1 5.9 5.7 5 2.3 0 1 -3 0.3 -2-0.7 -7-7.2 -7-8.8 -1-0.6 -1 0.6 -1 2.1 -0.8-1.8 0.1-1 0.6-3zM216.5 395.5l2.8 0 1.2 0.9 0.9 2.1 0.1 2 -6 0 0-3.9z"/>
<path fill="#0033ff" d="M262.4 331.3l1.4 0 0.2 2 0.6 1 4.9 4.9 1 0.6 2 0.2 0 1.8 -3.1-0.5 -5.9-5.5 -1-2zM203.5 343.3l1-0.4 3.1 0.4 -3.1 0.3zM212.5 343.3l1.6 0 -0.6 0.4zM239.3 355.4l2.2-0.2 2 0.4 1.2 1.8 1 7 1.3 1 -1.8 0 -0.7-0.8 -0.5-6.2 -1.2-2 -1.3-0.7 -2 0.2zM238.4 356.4l0.6 0 -0.5 0.9zM237.1 359.4l0.4-1 0 4.7 -0.6-1.7zM252.4 366.4l1.1-0.2 1.2 1.2 0.3 2 -0.5 2 -3.7 4 -2.3 7.5 -4 5.7 0-2.8 2.6-4.4 2.4-5.8 3.4-4.2 1.1-2 -0.1-1zM209.5 373.4l0.6 0 -0.6 5.2zM214.1 373.4l0.4-0.4 0 1.6zM214.8 375.4l0.7-0.5 1.2 2.5 7.5 8.1 4.3 3.7 2 1 1 1 0 0.5 -2-0.1 -1-0.5 -4.3-3.6 -7.7-8.9zM216 398.5l0.5-0.4 1.3 0.4 0.5 2 -2.8 0 0-1.4z"/>
<path fill="#0066ff" d="M263.8 331.3l1.7 0 0.2 2 0.6 1 2.2 2.3 2 1.4 2 0.2 0 2 -3-0.7 -4.3-4.2 -0.9-1zM215.5 340.3l0-0.4 1.3 2.4 0.2 1 -0.4 2 -2.1 2.1 -2 1.1 -4-3.3 -2-0.4 -3-0.1 0-0.6 1 0 1-0.8 1.2 0 1.8 1 4-0.1 1.4-0.9 1.4-2zM239.2 356.4l1.3-0.5 2 0.2 1 1 1 4.4 0 2.9 0.7 1 -0.8 0 -0.1-2 -0.8-1.1 -1.1-3.9 -0.9-1 -1-0.2 -1 0.6 -0.7 1.6 -0.3 5 -0.1-3 -0.9-0.4 0-0.6 0.6-1 0.4-2.2zM250.6 366.4l2 0 0.9 1 0.4 2 -0.3 1 -3.4 4 -1.1 2 -1.6 4.8 -2.6 4.3 -0.4 1.4 -1 0.5 -0.7-1.9 0.5-2 3.7-5.1 1.5-3.1 3.7-4.9 0.3-1 -0.4-2zM217.1 377.4l0.4-0.1 4.7 4.1 5.3 5.6 3 2.1 0.4 0.4 -0.4 0.5 -1.7-0.5 -3.7-3 -7.6-8z"/>
<path fill="#0099ff" d="M265.3 331.3l2.2 0 0.3 2 0.7 1.1 2 1.5 2 0.3 0 2.3 -2-0.2 -3.5-3 -1.5-1.9zM215.5 338.3l0-0.5 1 1.2 3 1.8 0.4 1.5 -0.4 1.4 -2 3.3 -4 4.4 -1.7 1 -1.3 0 -1.2-1 -1.4-3.1 -1-1 -1.4-0.6 -2-0.1 0-1.6 3-0.4 3.4 0.7 2.6 1.7 2-0.4 1.5-1.3 0.4-1 0.1-1 -1-3.3zM239.5 357.4l2-0.3 1 0.9 1 3.6 0 3.1 -0.6-0.3 -1.4-2.7 -1-0.5 -2 4.2 0-5.6zM249.3 366.4l1.6 0 1.2 1 0.5 1 -0.1 1.5 -3.5 4.5 -2.5 5.3 -3.3 4.8 -0.2 1 0.5 2.4 -2.3-1.4 -1-1 -0.2-1 1.2-2.1 4.8-5 4.8-7 0.3-2zM208.4 373.4l0.1 3.5 -0.3-2.5zM217.8 377.4l0.9 0 -0.2 0.8zM218.7 378.4l1.2 0 -0.4 0.6zM219.9 379.4l0.6-0.4 0.9 0.4 2.6 2 3.7 4.1 3.8 2.8 0 1.6 -4.7-3.4z"/>
<path fill="#00ccff" d="M267.2 331.3l5.3 0 0 5.2 -2-0.2 -2-1.5 -1.1-1.5zM215.5 337.3l7.2 2 0.7 1 -0.3 1 -3.6 5.2 -6 6.6 -2.2 1.3 -3.8 0.3 -2-4.2 -2-0.5 0-3.8 2.3 0.1 1.7 0.9 2.4 4.2 1.6 0.7 1-0.3 5.4-5.5 1.4-3 -0.2-2 -2.6-1.9zM203.5 356.4l0-1 2 0.2 0.5 0.8 -0.5 1.5 -1 0.7 -1 0.1zM240.3 360.4l0.2-0.4 1 0.6 2.1 4.8 -3.1-0.6 -1 0.3 0-3.2zM249.4 367.4l0.1-0.4 1.2 0.4 0.3 1 0.1 1 -0.6 1.7 -2.6 3.3 -2.4 4 -3.9 4 -1.1 2.1 0.2 1 2 2 -0.2 0.6 -5.1-1.6 -0.9-0.7 -0.5-0.3 8.2-8.1 4.8-6 0.7-2zM206 372.4l0.5-0.5 1-0.2 1 0 1 0.6 -1.4 2.1 0.4 1.6 0 3.4 -2.3-5zM217.8 376.4l1 0 -0.3 0.9zM218.6 377.4l0.9-0.3 7 4.2 3 3.6 2.9 1.6 0.4 1 -0.3 1.2 -1-0.1 -3-2.1 -5-5.4z"/>
<path fill="#00ffff" d="M271 331.3l1.5 0 0 1.5 -1.4-0.5zM216.3 337.3l3.3 0 0.9 0.5 4 0.4 1.5 1.1 0.3 1 -0.5 1 -3.1 3 -8.2 9.6 -4.6 3.5 -2.1 3 -1.1 3 0 3 0.7 2 2.2 3 -2.1 1.1 -0.8 0.9 0 1 1.3 4 0.5 0.7 0 2.4 -0.8 0.9 -1.2 0.1 -1 1 -2 0 0-34.3 1.5 0.2 1.4 1 2.1 3.5 3 0.2 2-1.1 5.1-5.7 4.1-6 0.1-1 -0.9-1zM239.4 365.4l1.1-0.5 2.2 0.5zM247.3 366.4l1.2 0 1 1 0 3.2 -5 6.7 -4.3 4.1 -3.2 4.1 5.5 2.8 1 0.9 0 0.8 -5-2.1 -2-0.2 -2 0.3 -2 1.6 -0.2-2.1 -0.8-1 -3-2 -3-3.6 -4.1-2.5 -4.9-4 0-0.3 1 0 5 3.7 5 1.6 2.5 3 1.5 1.2 3 0.5 2-0.8 2-1.5 8.5-9.4 1.3-3 0-2z"/>
<path fill="#33ffcc" d="M218.5 337.3l5-0.5 3 0.5 2 1.2 1.3 1.8 0.1 1 -1.3 1 -3.1 1.2 -1 0.8 -9 10.5 -5.4 4.6 -2.1 5 -0.1 2 0.9 3 -0.3 0.4 -1.4-1.4 -0.9-4 0.3-2 2-3.9 1-1.2 5.4-3.9 10.4-12.1 0.5-1 -0.4-1 -1.9-1.3zM246.1 366.4l1.4 0 0.8 1 0.2 2 -1 2.3 -3 3.9 -6.7 6.8 -1.4 1.1 -1.9 0.5 -2 0.1 -2-0.6 -3-3.7 -5.8-2.4 -5.4-4 0.2-0.4 1-0.2 1 0.3 5 3.9 4 0.7 1.5 0.7 1.2 1 1.1 2 1.2 0.9 2 0.6 1-0.2 2-1.3 7.4-8 2.1-4 0.1-2zM203.5 378.4l0-0.4 1.4 0.4 1.6 3 -0.9 1 -2.1 0.7zM233.9 388.5l0.6-0.5 2-0.3 6 1.7 1 0.8 0 2.3 -6-3.5 -3-0.1z"/>
<path fill="#66ff99" d="M219.8 336.3l3.7-1 4 1 3.1 2 0.9 1 -0.2 1 -1.5 2 -1.3 0.3 -0.5-0.3 1-1 0.1-1 -0.3-1 -1.3-1.2 -3-1.3zM259.9 339.3l0.6 0 0 1.7 -0.5-0.7zM225.5 343.3l2-0.6 0.4 0.6 -1.4 0.4 -1.7 1.6 -8.7 11.1 -5.3 4 -1.3 2.9 -0.4-0.9 0.3-2 0.6-1 4.8-4 8.7-10.3zM208.5 363.4l0.3 0 0.1 3 0.8 3 -0.2 0.3 -1-1.3 -0.2-1 -0.2-3zM244.6 366.4l1.5 0 0.9 1 -0.3 3 -3.2 4.8 -3 2.9 -0.4-0.7 2.9-3 2.3-4 0.2-3zM216.2 371.4l2.4 0 5.9 4.7 1.2 0.3 0.8 0.8 2 0.5 -4-0.3 -2.1-1 -3.9-3.1 -3-0.8zM229.1 378.4l1.3 0 2.1 2.6 2 0.8 2-0.6 2-2 0.8 0.2 -1.7 2 -1.5 1 -2.6 0.3 -2-0.9zM239.2 378.4l0.3-0.3 0.7 0.3 -0.7 0.9zM233.5 389.5l3-0.5 2.7 0.5 2.3 1.5 2 0.4 0 1.1 -2 2 -1.4 0 -0.6-1.7 -2-2.1 -1-0.5 -2-0.1zM232.5 390.5l0.7 0 -0.5 1zM269.3 390.5l3.2-0.5 0 4 -3.7-0.5 -0.5-1 0.2-1z"/>
<path fill="#99ff66" d="M222.7 331.3l2 0 0.1 1 0.6 1 6.1 4.6 0 3.5 -0.3-2.1 -0.9-1 -1.8-1.4 -3-1.2 -3-0.2 -2.4 0.8 -2.9 0 1.3-0.3 3.6-2.7zM256.4 338.3l2.1-0.3 1 0.3 0.2 1 2.8 3 0.3 1 -1.3 3.4 -3-0.2 -2-1.8 -1-1.9 -0.6-2.5 0.4-1zM224.8 345.3l0.7-0.5 0.5 0.5 -2.5 4.4 -4 5.4 -3.4 3.3 -4.7 3 -0.9 1.4 -0.1-1.4 0.5-1 5-4zM209.4 363.4l0.5 0 0.2 3 0.7 2 0 3 -0.3 0 -0.3-2 -0.7-1 -0.4-3zM242.8 366.4l1.9 0 1 1 -0.2 2.8 -1 2.1 -7 8.2 -2 1.1 -2.3-0.2 -1.7-1.6 0-0.7 3 1.3 2-0.5 4.4-4.5 2.2-3 0.9-2 0.1-3zM214.9 370.4l1.6-0.8 2.9 0.8 6.1 5 -1 0.6 -1-0.4 -5-4 -4.7-0.2zM269 389.5l3.5-0.4 0 0.8 -2 0.2 -1 0.6 -0.7 0.8 -0.2 1 0.9 1.1 3 0.5 0 0.9 -6 0.2 -0.1-1.7 0.8-2zM233.4 390.5l2.1-0.4 2.2 0.4 2 2 0.4 1 -0.2 1 -1.4 0.8 -1-0.8 -0.2-1 -0.8-1 -1-0.5 -2 0.7 -0.7-1.2zM265.1 396.5l0.5 0 0.1 4 -3 0 0.8-3z"/>
<path fill="#ccff33" d="M218.9 331.3l8.9 0 0.3 2 3.4 3.4 0 1.1 -3-2.2 -4-2.2 -1-0.2 -3.7 2.1 -2.3 1 -1.2 0 1.8-2zM254.7 337.3l0.8-0.3 3 0.3 0 0.5 -2 1.1 -1.1 1.4 0.6 3 1.5 2.3 1 0.6 2 0.1 2-3.1 2 0.1 1 1.1 1 4.1 -1 3.1 -1 1.5 -1 0 -2.7-3.7 -2.9-2.1 -3.5-4 -1.7-4 0.3-1zM225.3 346.3l0.2-0.3 0.5 0.3 -0.5 1.9 -2 4.4 -1.8 2.8 -4.4 4 -4.8 2.7 -0.9 1.3 0 1 0.9 2.3 1 0.6 3 0.2 2 0.9 6.8 6 -0.8 0.4 -0.6-0.4 -4.4-3.8 -2-0.9 -2 0.5 -1.6 1.2 -2.6 0 -1.1-5 0.3-3.9 1.8-2.1 3.2-1.8 2.6-2.2 4.7-6zM241.2 366.4l1.7 0 1.2 1 0 2 -0.6 2.4 -1 1.7 -5.5 5.9 -1.5 1.1 -1.6-0.1 -2.6-2 1.3 0 0.9 0.7 2-0.1 3.9-3.6 2.3-3 0.7-2 0-3zM270.1 388.5l2.4-0.3 0 0.6 -2 0zM267.8 389.5l1.6 0 -0.9 0.3zM266.4 390.5l1.1-0.7 0.3 0.7 -1 2 0.3 2 1.4 0.6 4 0.1 0 0.9 -2 0.2 -2 1 -0.7 1.2 -0.1 2 -2.5 0 -0.1-2 -0.6-0.8 -1 1.1 -0.2 1.7 -1.8 0 0-2.2 1-2.1zM233.5 392.5l0-0.5 1-0.5 1 0 1 0.5 1 1.1 1 2.4 -1.3 0 -0.7-0.7 -3-1.3z"/>
<path fill="#ffff00" d="M216.5 331.3l2.9 0 -0.3 2 -0.7 1 -0.7 1 -1.2 0.3 -0.3-0.3zM227.4 331.3l2.8 0 0.3 2 1.6 3 -0.6 0.3 -2.9-2.3 -1.1-1.7zM241.7 331.3l8.7 0 0.1 3 1.1 1 1.9 0.7 3 0.3 -3 2 -0.6 1 0.5 2 1.5 3 -0.4 0.2 -1-1 -2-2.9 -1.2-5.3 -0.8-0.6 -2-0.6 -4.9-0.8 -0.8-1zM232.4 337.3l0.1-0.3 0 2.3zM266 345.3l0.5 0 0.2 2 0.8 0.9 0 0.6 -0.9 1.6 0 2 -0.7 2 -1.1 7 -0.3 0.7 -1 0.4 -1-1.8 -0.2-7.3 -1.2-2 -2.8-3.1 0.2-0.4 1.2 0.4 1.4 1.1 2.4 2.9 1-0.2 0.8-1.7 0-3.1zM226.3 346.3l0.2-0.2 0.3 0.2 -1.3 5.7 -2 4.1 -1 1.3 -4.8 4 -1.4 2 2.8 4 3 3 -0.6 0.4 -4-2.7 -4-0.1 -1-0.4 -1-1.7 0-2.9 1.6-1.6 4.4-2.4 3.8-3.6 2.7-4zM239.9 366.4l1.4 0 1.3 1 0 3 -1.1 2.6 -5 5.5 -2 0.6 -2.1-0.7 2.1-0.4 2-1 3.6-4.6 0.9-3 -0.1-2zM222.1 371.4l0.4-0.6 0.9 0.6 -0.9 0.3zM223.2 372.4l0.3-0.8 0.9 0.8 -0.9 0.3zM224.2 373.4l0.3-0.9 0.7 0.9zM269.5 387.5l3-0.3 0 0.6 -2 0.3 -1 0.5 -1.7-0.1zM266 389.5l1.5-0.7 0.2 0.7 -1.9 2 -3.9 6 -0.4 3 0-4.2 2-3.9zM269.2 396.5l3.3-0.2 0 1.7 -2.1 0.5 -0.5 2 -2.5 0 0.2-2 0.4-1zM212 398.5l0.5-0.7 1-0.3 1 0.9 0 2.1 -2.8 0z"/>
<path fill="#ffcc00" d="M215.5 331.3l1.3 0 -0.3 3 -1 1.8zM229.8 331.3l3.1 0 0.8 5 -0.2 2.2 -1-0.9 -0.2-1.3 -2.1-3zM237.8 331.3l6.1 0 0.4 1 2.2 0.3 1.7-0.3 0.2-1 4.3 0 0.3 2 2 2 -0.5 0.7 -3 0.4 -0.5 1.9 0.9 3 2.1 3 -0.5 0.4 -2-2.2 -2.3-4.2 -1.7-1.8 -2-0.7 -5-0.5 -1.7-1 -0.7-1zM227.4 345.3l0.1-0.3 0.6 0.3 -0.6 4.6 -2 5.7 -1.8 2.8 -3.5 3 -1 2 0.7 3 2.5 3 -0.9 0.3 -4-3.9 -2-1.4 -0.5-1 0.7-1 7.3-6 2.1-4zM258.3 349.4l0.2-0.3 1 0.3 2.2 3 1.6 5 0.2 2.2 1-1 1.7-5.2 1.3-1.9 -0.9 10.9 -1.1 2 -1 0.3 -1.3-0.3 -1.7-2 -0.2-9zM239.2 366.4l0.6 0 1.1 1 0.2 2 -0.6 2.6 -2 2.9 -2.6 2.5 -1.4 0.4 -1.9-0.4 2.9-1.2 2.4-2.8 1.2-3zM222.2 370.4l0.3-0.8 3 2.8 0.4 1 -0.4 0.2zM268.3 386.5l4.2-0.6 0 1.1 -2 0.2 -4 1.9 -1 0.9 -3.2 4.5 -0.8 2.1 -0.5-1.1 0.2-1 1.3-3.1 2.7-2.9zM211.7 395.5l1.8-0.1 1 1 0 3.1 -1-1.1 -1 0.5 -0.2 1.6 -2.1 0 0.3-3.7zM269.7 398.5l0.8-0.6 2-0.4 0 3 -3.1 0z"/>
<path fill="#ff9900" d="M232.3 331.3l6.2 0 0.2 2 1.8 1.6 7.1 1.4 1.9 2.1 1.2 2.9 1.4 2 6.4 6.1 2.6 4 -0.6 0.7 -5-6.4 -4-3.3 -3.2-5.1 -1.8-1.7 -3-0.8 -7 0 -2 3 -1 0.8 -0.3-0.3 0.2-4 -0.9-3zM252.7 331.3l1 0 0.1 1 0.7 0.9 0 1.5 -1.1-0.4 -0.5-1zM229 344.3l0.5-0.2 0.5 0.2 -1.5 7.9 -3 6.2 -3.9 4 -0.7 2 1.1 3 4.7 5 1 2 0.2 1 -0.4 0.3 -1-1.2 -0.2-1.1 -5.9-6 -1.1-2 -0.3-2 0.9-2 3.5-3 1.5-2 2.2-5 0.4-3.5 0.8-2.6zM267.4 350.4l0.4 0 0.7 1.6 0.2 1.4 -1.2 10 -1.2 2 -2.8 0 1.7-1 1.4-3zM261.5 358.4l0-0.4 0 5.4zM238.4 366.4l0.3 0 0.8 1 0 2 -0.9 3 -1.1 1.9 -2.1 2.1 -2.5 1 -3.4 0 2-0.3 4.1-2.7 1.4-3zM268.4 384.5l4.1-0.4 0 1.8 -3 0.3 -2 0.9 -4 3.4 -2.5 4 -0.5 6 -1.2 0 0.4-5 0.8-3.6 1-2.4 4.9-4zM211.2 393.5l2.3 0.6 1 1.2 0 1.4 -1-1 -2 0.3 -1.3 2.5 -0.1 2 -0.8 0 0.2-5.3 1-1.4z"/>
<path fill="#ff6600" d="M254.1 331.3l0.5 0 -0.1 2.2zM236 336.3l1.5-0.2 3 0.7 5 0.3 2 1 1 1.1 2.3 4.1 2.7 2.8 2 1.2 4 5 1 1.6 0 2.9 -0.5-1.4 -2.5-3.1 -7-5.9 -4-6.9 -1-0.7 -3-0.5 -3 0.4 -1.3 0.6 -5.6 6 -0.6 1 -1.2 5.1 -3.3 4.6 -0.6-0.6 2-5 0.6-5.2 0.4-0.9 2.4-2zM268.3 350.4l0.2-1 2 2.4 2 0.4 0 3.8 -1 0.2 -1 0.8 -2 7.4 -0.7 1 -1.3 0.5 -0.3-0.5 1.8-4zM226.5 356.4l0 1.3 -0.5-0.3zM225.3 358.4l0.2-0.4 0.2 1.4 -2.6 4 -0.1 2 1 2 6.5 7.2 1 0.2 2-0.9 4-7.4 0.5 0.9 -0.5 3.2 -1 2.8 -1.7 2 -2 1 -2.3 0.8 -1.9-0.8 -1.3-3 -1.4-2 -3.4-3.2 -1.2-1.8 -0.5-2 0.5-2zM265.3 381.4l3.2 0.7 4 0.2 0 2.1 -3 0.1 -2 0.7 -5.5 4.3 -2.2 5 -0.3 6 -1.7 0 0.7-9 0-4.1 1-1.5 3-2.1 2-2.2zM208.7 392.5l1.8-1 2 0.5 2 1.5 0 2 -1-1.4 -1-0.3 -2 0.4 -1.4 3.3 -0.2 3 -0.5 0 -0.2-6z"/>
<path fill="#ff3300" d="M255.1 331.3l0.5 0 -0.1 3.1zM239.3 338.3l5.2-0.1 2.2 1.1 3.8 6.3 7 6.3 2 2.4 1 2.1 0 2.1 -0.4-1.1 -2.6-2.5 -7-3.5 -2.8-2 -3.1-4.1 -0.1-3 -0.6-1 -1.4-0.4 -1.1 0.4 -1 3 -3.9 1.5 -1 0.7 -3 5.8 -4 3.8 -0.4-0.7 0.3-1 2.5-4 0.6-4.1 0.5-1 5.3-6zM268.5 348.3l2 1.4 2 0.2 0 27.2 -2.8 0.3 0 1 1.6 1 1.2 0.1 0 3 -7 0.1 -5.4 3.9 -1 2 -1.2 12 -1.9 0 -0.5-5 -1.9-3 -0.1-1 3-6 6-6.8 1.9-1.3 3.2-1 0.7-1 0.8-4 -0.3-3 -1.3-1.4 -2.1-0.6 1.1-0.2 1.8-1.8 0.7-2 0.5-4.2 1.8-3.8 0-1 -2.8-3.8zM227.4 356.4l0.1-0.4 0.7 0.4 -0.7 1.3 -0.3-0.3zM226.3 358.4l0.2-0.4 0.4 0.4 -0.4 1.3zM225 360.4l0.5-0.5 0.6 0.5 -1 3 0 1 0.7 2 1.7 1.9 2 1.5 2 0.3 5-3.1 0.3 0.4 -2.2 6 -1 1 -2.1 0.9 -1-0.1 -1-0.7 -2.1-3.1 -3.9-4.2 -0.9-2.8 0.7-2zM204.6 390.5l3.9-0.7 3 0.3 1.4 0.4 2 2 -0.4 1.5 -2-1.9 -2-0.3 -1.2 0.7 -0.9 2 -0.4 6 -0.6 0 -0.3-4 -0.7-2 -0.9-1.5 -2-0.9 0-1.5z"/>
<path fill="#ff0000" d="M214.4 335.3l0.1 1.6 -0.4-0.6zM211.8 337.3l1.7-0.3 0.5 0.3 0.5 2 -1.4 2 -2 1 -0.6-0.4 -0.7-2.6 0.5-1zM241.2 340.3l2.3-0.1 1 0.4 1 1.4 0.6 3.3 1.7 3 2.7 2.4 7 3.8 2 2.3 0 1.5 -4-2.4 -8-3.5 -3-2.7 -2-1.2 -3-0.6 -2 0.4 -1.3 1.1 -2.7 4.2 -4.7 3.8 -1.7 3 -0.4 2 0.1 2 1.7 2.6 2 0.9 5-1.2 0.3 0.7 -3.3 2.9 -1 0.5 -1 0 -2-1.2 -3-3.2 -0.6-2 0.3-2 1.3-3.1 2-3.2 4.3-4.7 1.7-4.5 1-1.1 3-1.8zM268.8 348.3l0.7-0.1 3 0.5 0 1.3 -3-0.6zM259.6 358.4l0.9-0.1 0 2.6zM266 367.4l1.5-0.4 1 0.2 0.9 1.2 0 6 1.1 1.2 2 0.2 0 4.4 -3-0.5 -2-1.7 -1-0.3 -2 0.1 -2 1.4 -2 2.6 -2.8 2.7 -1.3 2 -1.7 5 1.2 4 0.2 5 -1.7 0 -0.2-3 -0.4-1 -1.3-1.4 -2.5-1.6 -0.6-1 0.4-1 4.2-4 1.5-3.1 5.9-7 4.1-2.9 1-1.1 0.8-2 0-2 -0.3-1zM203.5 384.5l2 0 2.8 3 5.3 2 1.9 2 0 2.1 -0.5-1.1 -1.5-1.5 -2-1 -3 0.1 -2.4 1.4 -0.1 1 1.4 6 0.1 2 -1.3 0 -0.1-2 -0.6-1.6 -1-0.8 -1-0.1z"/><path d="M214.4 331.3l-0.9 3.7 -4.7 2.3 -0.9 2 1.1 3 1.5 1 2.4-1 1.6-2.1M258.1 336.3l-0.6-1 0-4M272.5 347.3l-3-0.4 -2-1.1M237.5 365.7l-6 0.4 -2-0.6 -1.3-2.1 0.2-2 1.1-2.4 5-3.6 3-4.2 1-0.7 2-0.3 2 0.6 11 7.4 3 0.9 3 1.9 1.2 3.4 1.8 1.9 2.1 1.1 1 2 -0.1 2 -0.5 1 -4.5 3.4 -5 5.8 -3.5 5.9 -4.5 2.8 -3 1M243.7 393.3l2.8 1.9 5 1.7 1.1 1.6 0.1 2M215.2 395.2l1.5-2.7 -0.4-3 -1.3-1 -3.4-1 -1.7-1 -2.2-3M234.9 395.5l1.1 0.5" fill="none" stroke="#d8f08a" stroke-width="0.45" stroke-opacity="0.5"/>
<rect x="282" y="331.3" width="69" height="69.2" fill="#80ff80"/><path fill="#000099" d="M296.3 331.3l3.3 0 -0.6 2.8 -2.3 3.2 -5.3 4 -3.4 4.1 -4 2.6 -2 0.4 0-4.3 3-0.5 4-3.6 3-1.3 2-1.4 1.6-2zM322.4 331.3l11.5 0 0.4 4 0.9 2 1.8 1.8 4.4 3.2 3.1 5 0.7 2.1 0.1 2 -0.2 2 -0.6 1 -1.5 0 -4-4 -1.2-2.1 -2.9-3 -5.3-4 -0.6-0.8 -0.2-1.2 -2.8-3 -1.1 0 -1.9-1zM293.9 351.4l0.5 0 -0.4 1.2zM301.6 351.4l3.4-0.8 2 0.2 2 1.2 0.7 1.4 1.6 1 -2.5 0 -0.8-0.8 -2-0.2 -1 1 0 1 -0.7 1 -0.4 2 -0.9-1.2 -2.4-1.8 -0.2-2zM292.8 353.4l0.2-0.3 0.5 0.3 -0.5 0.5zM291.6 354.4l0.9 0 -0.5 0.7zM288.8 355.4l2.2-0.4 0.8 0.4 -2.8 1.6 -1.9 2.4 -1.2 0 1.1-2.4zM326 355.4l1 0 0 1zM346 362.4l0-0.4 5 0.7 0 2.8 -2-0.2 -1-0.4 -2-1.4zM298.7 365.4l2.3 0 0.2 2 -8.2 5.7 -1 0.3 -2-0.8 -2-2.8 0-0.6 3 1.2 2-0.2 1.2-0.8 2.8-3zM318 366.4l5-0.3 3 0.3 1 0.9 0 1.1 1 1 0 1.2 -3-0.2 -2-0.7 -3-1.6zM304.4 369.4l0.6 0 0 3.1zM311.9 377.4l1.4 0 2.5 1 -2.8 1.2 -4-1.2 2-0.3zM341.6 378.4l0.8 0 -0.4 0.9 -1 0.6 0-0.9zM297 383.5l0-1 2 0.4 0.8 2.6 -0.8 0 0-1 -1-1zM329 384.5l0.5 0 -0.5 3.2zM282 388.5l2 0 1.8 1 1.2 1.8 1 4.4 0.1 4.8 -1.6 0 -0.2-5 -0.8-3 -1.5-1.5 -2-0.3zM306 393.5l3-0.8 3 0 2 0.3 2.2 1.5 -9.2 0.4 -1-0.1zM347.8 395.5l3.2 0 0 5 -3.5 0z"/>
<path fill="#990000" d="M297.8 331.3l3.5 0 -0.2 2 -1.3 2 -2.7 3 -5.1 3.5 -2.8 3.5 -4.2 3.6 -1 0.8 -2 0.4 0-3.7 3-0.5 2-1.2 4-4.4 4-2.4 2.3-3.6zM321.1 331.3l3 0 1 4 2.9 1 1 0.7 0.8 1.3 0.8 3 -1.6 0 0-1 -0.6-1 -2.4-3 -2.6 0 -1.6-1zM331 342.3l0-0.8 2 0.5 2-0.2 2.5 1.5 2.5 2.8 0.6 1.2 0.3 4.1 -0.9 0zM303.4 352.4l1.6-0.4 2 0.2 1 0.5 1.6 1.7 -2.6-0.4 -1 0.6 -2 2.1 -1.1-2.3 -0.1-1zM322 354.4l2.8 0 1.4 1 1.8 2 0 1 -2.5-1 -1.3-2 -1.2-0.6 -1 0zM287.4 355.4l1.6-0.6 1 0 0.6 0.6 -2.1 1 -2.3 3 -1 0 0.8-2.5zM346.8 364.4l0.2-0.6 4 0.6 0 2.1 -3-0.7zM300.1 365.4l0.9 0 4 4 0 5.8 -1-3 -3-1.6 -3 0.2 -4 3.1 -2 0.7 -2-0.8 -1-1.2 -1-2.5 1.2 0.3 1.8 1.6 2-0.1 6-4.9zM321 365.4l3-0.9 2 0.5 1 1.4 0 1.7 -5.5-0.7 -2.6-1zM308.1 378.4l8.1 0 -2.2 2 -1 0.3 -1.6-0.3zM296.9 380.4l1.1-0.1 1 0.5 1.7 1.6 1.2 3.1 -0.2 2 -0.7 0 -1-1 -1-2 -1-1 -2-1.1 0-1zM282 387.5l2 0.1 3 2 1.2 3.9 0.5 7 -1.1 0 -0.2-5 -1.1-4 -1.3-1.5 -3-0.7zM307.8 391.5l3.2-0.2 3 0.8 1 0.4 1 1.2 1.3 0.8 -2.1 0 -1.2-0.7 -1-0.1 -7 0.1 0-1.1zM346.8 395.5l4.2 0 0 5 -4.7 0z"/>
<path fill="#0000cc" d="M295.1 331.3l1.8 0 -0.4 3 -1.5 2.7 -5 3.3 -4 4.1 -2 0.9 -2 0.2 0-4.8 3-0.7 0.9-0.7 0.5-1 4.6-0.1 1-0.4 2.5-2.5zM325.5 331.3l10.7 0 0.4 4 1.4 2.2 6 3.5 0.6 1.3 2.5 3 1.9 0.9 2 0.1 0 17.4 -3.1-0.3 -1.9-0.8 0-6.2 -2-2 -1 0 -0.8-1 0.5-2 -0.1-3.1 -0.6-2 -1.2-2 -3.8-3.5 -4-1.4 -1-0.7 -2-3.2 -4-2zM297.5 348.3l1.8 0 -0.3 1 -0.5 0.1 -2.5 2.9 0 1.8 1-0.5 1.6-3.2 1.4-0.9 2 0.5 5-0.9 1 0.1 1 0.7 2.2 2.5 0.3 1 1.7 1 -2.8 0 -1.4-1 -1-1.5 -2-0.6 -2 0 -2 1.1 -0.3 1 0.6 2 0.9 1 0.8 2 -3 0 -5 2.4 -2-4.2 -3 0.5 -3 1.7 -0.2-0.4 0.4-1 1-1 1.8-0.6 2.4-2.4 1.6-3zM295.1 364.4l0.9-0.9 2 0.4 1.4 1.5 -5.2 5 -1.2 0.6 -2 0.1 -2.8-1.7 0.8-0.5 3-0.3 1-0.7zM317.3 366.4l1 0 -0.3 0.8zM318.2 367.4l0.8-0.3 5 1.7 3 0.2 1 0.4 0 5 -1 1 0 1 -2 0 -1 1 -3 0 0-0.3 2-0.7 0.2-2 -0.8-2 -3.4-3.4zM310.9 377.4l3.8 0 -1.7 0.4zM342.3 378.4l0.7-0.4 0.3 0.4 -0.6 2 -1.7 1.2 -1.8-0.2zM330.3 383.5l2.7-0.1 0.5 1.1 -3.5 3.2 -1 1.7 0-3.3zM282 390.5l0-0.5 2 0.2 1 0.6 1 1.3 0.8 4.4 0.2 4 -2.1 0 -0.4-5 -0.5-1.4 -1-0.7 -1-0.1zM306 394.5l8-0.1 0.3 0.1 0 1 -4.3 0.8 -3-0.1 -1-0.3z"/>
<path fill="#cc0000" d="M299.4 331.3l2.7 0 -0.1 2 -1.4 2 -2.9 3 -4.7 3.1 -3.4 3.9 -5.6 5.4 -2 0.4 0-3 2-0.2 2-1.1 2.9-2.5 2.5-3 4.6-3.3 2.7-3.7zM320.6 331.3l1.8 0 0.8 4 2 1 -2.4 0 -1.5-1zM334 345.3l0-0.9 1 0.7 0.8 1.2 -0.8 0.1zM336 347.3l0-0.8 0.8 0.8zM337 348.3l0-0.8 0.8 0.8zM305.2 353.4l1.8-0.2 1.5 1.2 -2.5 0.3 -0.8 0.7 -0.3 1 -0.2-2zM288.9 354.4l2.2 0 -1.1 0.1 -2 1.3 -1.2 1.6 -0.8 1.8 -1.3 0.2 1.3-3.5zM322.1 354.4l2 0 0.9 0.8 1 0.2 1 0.9 1 2.5 -2 0.2 -1-0.3 -2-2.3zM322.1 364.4l1.9-0.9 2 0.8 1 1.8 0 1.3 -1-0.8 -6-0.4 -0.1-0.8zM346.7 364.4l0.7 0 1.6 0.9 2 0.1 0 1.6 -3-0.6 -1-1zM301.1 366.4l0.9 0 2 1.6 1 3.9 0 3.9 -1-2.6 -4-1.8 -3 0.5 -3 2.7 -2 0.6 -2-0.8 -1-1.3 -0.3-1.7 0.3-0.1 2 1.9 2-0.1 7.7-5.7zM348.4 371.4l2.6-0.3 0 0.3zM307.8 378.4l1.6 0 2.6 1 3-0.4 0.6 0.4 -1.6 1.6 -1 0.4 -2-0.5zM295.9 380.4l1.1-0.9 1 0 2 1.2 2.5 3.8 0.7 2 -0.1 1 -2.1 0 -2-4 -1-0.8 -2-0.3zM282 387.5l0-0.6 2 0.3 2 1.1 1 1 0.5 2.2 -0.5 0.1 -0.4-1.1 -1.6-1.6 -3-0.5zM307.8 390.5l2.3 0 3.9 1 1.7 1 1.9 2 -1.6 0 -2-1.6 -1-0.1 -7 0.2 0-2zM287.6 392.5l0.4-0.8 1 4.6 0.1 4.2 -0.8 0zM346.5 395.5l1.4 0 -0.3 5 -1.8 0 0.1-4z"/>
<path fill="#0000ff" d="M294.3 331.3l1 0 -0.2 3 -1.1 2 -1.1 1 -1.9 1 -3-0.1 -0.7 1.1 -2.3 2 -3 0.6 0-4.6 9 0 2.4-2zM335.8 331.3l1.7 0 0.3 3 1.2 2.3 2 1.3 3 0.9 1 1.7 0 2.7 -1-1.3 -5.8-3.6 -1-1 -1.2-2.7zM345.1 343.3l1.1 0 0.8 0.8 2 0.6 2 0.1 0 7.9 -2-0.4 -0.4-0.9 0-3.1 -2.8-3zM306.8 347.3l1.2 0 1 0.5 4.1 4.6 0.3 1 1.7 1 -2.4 0 -1.7-1 -0.3-1 -2.7-2.6 -3-0.2 -4 0.8 -1.5 1 -3 6 0.5 0.8 4-0.4 2.1 0.6 -1.1 0.1 -2.6 1.9 -0.7 2 0.3 2.2 -3 0.5 -2.6 3.3 -1.4 0.7 -1 0.1 -3-0.7 3.6-2.1 1-3 -0.2-2 -1.4-2 -3 0.1 0-0.4 1.8-1.7 3.3-2 1.7-2 0.2-1.4 1-1.6 1-1.1 3-1.2 1 0.7 2 0.1zM316.5 366.4l0.7 0 7.3 7 0.8 2 -1.1 1 -2.2 0.9 -1-0.6 -3.1-0.3 2.1-1 0.2-1 -0.7-2 -2.5-3.7zM314.7 377.4l0.3-0.5 2 0.5zM343.9 377.4l0.3 2 -0.7 2 -1.5 1.2 -3 0 1-1.2 2.2-1zM336 383.5l0.4 0 -0.3 2 -0.8 1 -4.3 2.2 -2 1.8 0-1.5 1-2 1.4-1.5 0.3-1 3.3-0.1zM282 392.5l1-0.2 1 0.3 1 1.6 0.4 6.3 -3.4 0zM313.1 395.5l3.3 0 -6.7 4 -0.4 1 -1.8 0 -1.5-3.2 0-1.5 4 0.2z"/>
<path fill="#0033ff" d="M293.1 331.3l1.1 0 -0.2 2.8 -1.5 2.2 -1.3 1 -1 0 2.5-3zM337.5 331.3l1.4 0 0.3 3 0.8 1.2 2 1.3 2.4 0.5 0.6 0.7 0 3 -1-1.9 -4-1.6 -1.4-1.2 -0.9-2zM308.7 337.3l2.5 0 -2.2 0.7zM307.6 338.3l1 0 -2.1 5 8.6 9.1 0.3 1 1.9 1 -2.5 0 -1.7-1 -0.3-1 -2.5-3 -1.3-1.4 -1-0.4 -6 1.2 -1-0.2 -1-0.8 0-1 1 0.8 1 0 2.2-1.3 0.8-1 -0.1-1 -1.9-0.7 -1 0 0-0.3 1-0.2zM347.9 344.3l3.1 0 0 0.4zM288.7 359.4l2.3-0.5 1 0.4 0.8 2.1 -0.1 3 -0.7 2 -1.1 1 -0.9 0.2 -2-0.2 2.3-2 0.4-1 -0.1-2 -2-2zM315.6 366.4l0.6 0 0.9 1 0.6 2 2.4 3 0.6 2 -0.1 1 -2.2 1 -2.4 0.5 -5.1-0.5 4-3 0.5-1zM344.5 378.4l0.6 0 0.1 2 -0.2 1.1 -1 1.2 -1 0.8 -4 0.6 -2 3.2 -1.5 1.2 -4.8 2 -1.6 0 1.8-2 4.1-2.4 0.6-0.6 0.6-2 4.8-0.6 2-1.1 1-1.4zM316.4 395.5l1.6 0 -1.4 1 -1.3 2 -0.2 2 -10.1 0 0-2 1-1.4 2 1.1 2-0.1z"/>
<path fill="#0066ff" d="M291.9 331.3l1.2 0 -0.1 2.3 -1.9 2.7 -1.6 0 1.9-2zM338.8 331.3l1.6 0 0.2 2 0.6 1 3.8 2.3 0 1.8 -1-1.5 -2-0.1 -2-1.1 -1-1.4zM310.5 337.3l3.4 0 -1.3 1 -0.2 1 -1.7 2 -0.4 1 -0.1 2 1.8 2.9 5 5 0.3 1.2 -0.3 0.6 -1.9-0.6 -0.3-1 -4.4-5.1 -2.4-1.9 -1-0.2 -1 0.3 -2.5 1.8 -1.5 0.4 -1-0.2 -1-0.7 0-1.5 3-2 2 0 1-0.7 2.3-4.3zM287.6 360.4l1.4 0 1.3 1 0.5 1 0.1 1 -0.5 2 -1.4 1.2 0.5-3.2 -0.9-2zM314.8 366.4l0.5 0 0.7 7 -6.7 4 -0.7 0 -0.6-0.9 -1.3-0.1 0.3-0.4 1 0.3 1-0.3 2.9-2.6zM347.7 372.4l3.3 0 0 1.1 -2-0.3zM306 374.4l0-0.7 0.4 1.7 -0.4 0.4zM344.9 377.4l0.7 0 0.4 0.6 0.2 1.4 -0.2 2.3 -1.2 1.8 -4.8 2.5 -3.7 3.5 -5 2 -2.3 0.2 0-0.3 1-0.3 1-0.9 5-2.3 1.5-1.4 1.5-2.8 2 0.4 3-1.4 1.4-2.3 0.1-1zM317.8 395.5l2.3 0 -1.1 1 -0.6 4 -3.9 0 0.3-2z"/>
<path fill="#0099ff" d="M290.6 331.3l1.4 0 0 1.2 -1 2.4 -1 1 -0.3-0.6 0.7-2zM340.2 331.3l4.8 0 0 5.2 -3.1-1.2 -0.9-0.8 -0.6-1.2zM313.5 337.3l2 0 -0.5 2.2 -2.3 3.8 -0.2 2 1.5 1.8 3.3 2.3 0.9 2 0.2 2 -0.4 0.3 -6-6.2 -2.1-3.2 -0.2-2 0.3-1 1.7-2 0.3-1zM287.6 361.4l0.4-0.3 0.5 0.3 0.7 1 0.1 2 -0.3 1.2zM313.9 366.4l0.3 0 -0.2 2.2 -1.7 4.8 -3 3 -2.3-0.3 -1-1.7 0-3.2 1 1.6 2 0.1 1-0.7 2-3.1 1.7-1.7zM347 372.4l2 0.8 2 0.1 0 3.7 -2 0.1 -1 0.9 -1 4.1 -1 1.6 -4 2.5 -3.6 3.3 -1.6 1 -5.9 3 -1.9 0.1 -1-0.4 0-0.7 1-0.8 4-0.9 4-1.9 3.4-3.4 3.6-1.4 1-0.9 0.6-0.8 0.8-3 -1.4-3 1.9-2zM319.8 395.5l2.4 0 0.6 5 -5.1 0 0.8-4z"/>
<path fill="#00ccff" d="M289.3 331.3l1.2 0 0 1 -0.4 2 -1.1 1.3zM342.7 331.3l2.3 0 0 2.5 -2-0.7zM315.7 337.3l0.4 0 0 1 0.1 5 0.6 1 4.4 1 2.2 1 0.8 1 0.2 1 -0.8 3.1 0.4 0.8 2-0.7 1 0.1 2 0.6 1 0.7 0.7 2.5 -1.2 2 -0.5 0.1 -1-2.1 -2-1.7 -4-0.3 -1.5 1 -1.1 0 -0.9-1 -0.6-2 -1.3-2 -3.8-3.1 -0.8-1.7 0.3-1.3zM285.5 360.4l0.8 0 1.7 2.2 0.3 1.8 -0.3 2 -0.5-2zM312.2 367.4l0.8-0.3 0.2 0.3 -2.9 5 -1.3 1 -2-0.1 -1-1.9 0-1.5 1 0.4 2-0.3zM347 373.4l0.2 2 -0.2 0.4 -1 0.1 -0.3-0.5 0.3-1zM347.5 376.4l3.5-0.2 0 4.8 -1.5 0.4 -2.2 3.1 -4.3 3 -2 2 -5 2.6 -2.8 2.4 -2.4 3 -0.5 3 -8.4 0 0-5 4.1 0 1.6-1 0.4-1.3 3-0.1 5-2.3 3-2 2.4-2.3 2.6-1.3 2-1.7 0.8-1.1 0.6-2z"/>
<path fill="#00ffff" d="M288.3 331.3l0.9 0 0 1 -0.2 2 -1 1.7zM316.7 338.3l0.3 0 0.5 2 1.5 2.5 2 1.1 3.9 1.4 3.1 3.8 3 2.2 0.9 1.1 2 5 -0.9 0.8 -4 0.3 0-0.9 1.2-2.2 0.1-1 -1.3-1.7 -2-0.4 -3 0.4 -2.2-0.3 -0.5-1 2.2-3.1 -0.1-1 -1.4-1.3 -5.1-0.7 -0.9-0.2 -0.6-0.8 0.6-5zM282 360.4l3.4 0 1.6 3 0.1 2 -3.1-2.4 -2-0.3zM300 362.4l0-0.4 0.3 0.4 -0.1 2zM309.8 367.4l2.2-0.3 0.3 0.3 -3.4 3 -1.9 0.2 -1-0.9 0-1 2-0.4zM349.6 380.4l1.4-0.3 0 6.2 -2 0.2 -2 0.8 -1.6 1.2 -2.4 2.9 -1 0.7 -4 0.7 -2 1.3 -2.3 3.4 -0.4 3 -3.9 0 0.1-2 1-2 4.7-4 4.8-2.6 2.5-2.4 3.5-2.2 1.8-1.8 1.2-2.6zM295.9 383.5l4.1 4.3 -2 0.2 -2-1.1 -0.5-1.4z"/>
<path fill="#33ffcc" d="M287.4 331.3l0.8 0 -0.2 3.2 -0.9 1.8 -0.6 0zM317 338.3l0-0.9 1.1 0.9 1.1 2 1.8 2 6 2.9 2.8 3.1 3.2 2.8 4 6.6 0.4 1.7 -0.4 2.1 -1 0.5 -1-0.2 -4-2 -2-0.3 0-0.7 0.7-0.4 3.2-1 0-2 -1.3-3 -1.6-1.6 -2.3-1.4 -2.7-3.7 -1-0.7 -4.6-1.7 -1.2-1zM346 339.3l1 1 4 0.7 0 2.3 -1.4 0 -2.4-1 -1.2-1.3zM282 360.4l1.3 0 -0.1 1 0.7 1 3.1 2.9 0 1.2 -2-1.4 -3-0.5zM302.5 360.4l0.5-0.3 0.5 0.3 -0.1 1 -0.4 1.7 -1 1.8 -1.2-0.5 -0.8-1.2 1-1.8zM308 366.4l4.5 0 -4.5 2.2 -3-0.2 1-1.3zM294.9 383.5l0.6 1 0.5 2 2 1.4 2.6 0.6 0.3 1 -0.9 0.7 -1-0.1 -2.1-0.6 -1.9-1.5 -1-1.5 -0.1-1zM347.7 386.5l3.3-0.8 0 4 -2 0.2 -1 0.6 -1.6 2 -0.3 1 -1.1 0.6 -1.1 0.4 -5.9 0.3 -1.6 1.7 -0.7 4 -2.9 0 0.5-3 2-3 3-2 3.7-1.1 2.7-2.9z"/>
<path fill="#66ff99" d="M286 331.3l1.2 0 -0.2 4 -0.8 1 -1.2 0 0.8-1zM317 337.3l1.2 0 1.5 1 1.3 1.9 2 1.7 3 1.2 3.3 0.2 1.5 3 3.2 2.2 2.6 3.9 2.6 3 1 2 0 3 -0.9 2 -1 1 -2.3 0.7 -2-0.4 -4.8-3.3 0.8-0.6 1 0.1 5 1.5 0.8-1 -0.3-3 -2.9-5 -1.6-2 -2.6-2.1 -3.4-3.6 -5.3-2.4 -1.7-1.8 -0.4-1.2zM346 338.3l0-0.5 1 0.9 4 0.5 0 2.2 -4-0.8 -1-1.2zM303.9 359.4l1.1 1.4 0.5 1.6 1.5 1.8 4.4 1.2 -2.1 1 -4.3 1.2 -1-1.2 -1 0 -1-1 -0.2-1zM282 365.4l0-0.8 3.8 0.8 -0.8 0.5 -3-0.2zM292.8 383.5l1.2-0.8 1 0.6 -0.9 2.2 0.1 1 1.8 2.2 3 1.1 1-0.3 0.6-1 0.4 0 1 1 0.8 0 2.2 3.7 0 1.4 -4.7-1.1 -5.3-4 -2-2.5 -0.5-2.5zM348.2 389.5l2.8-0.5 0 5.5 -11 0 -2.3 3 -0.5 3 -1.8 0 0.4-3 1.2-2.2 1-0.8 5-0.2 2-0.6 2-3.2z"/>
<path fill="#99ff66" d="M282.3 331.3l3.8 0 -0.2 4 -0.7 1 -3.2 0 0-4zM317.9 337.3l1.6 0 -0.5 0.4zM346 337.3l5 0.8 0 1.3 -4-0.6zM319.7 338.3l0.3-0.4 1.5 0.4 4.5 3.2 4 0.8 3 3.6 2 1.4 8 8.1 1 0 1 1.4 0 5 -3 1 -2.4 1.6 -6.1 2 -1 1 -0.5 3.5 -1 2.3 -2 0.3 0-4.1 -0.8-1 0.8-2 1-0.3 0.6-0.7 -0.1-2 -0.8-2 0.3-0.4 1.4 0.4 3.6 2.5 2 0 1.9-1.5 0.5-1 0.3-2 -0.4-2 -4.7-7 -3.6-3.2 -2.3-2.9 -0.7-0.5 -4.6-1.5 -1.4-0.8 -2-2.2zM304.9 359.4l3.1 3.3 3.6 1.7 1 1 -6.2-1 -1.4-2.6zM282 366.4l0-0.4 4 0.4 -1 0.4 -3-0.1zM290.6 381.4l1.4-0.5 2 1.4 1 0.1 -1.8 1.1 -0.6 1 -0.1 1 0.8 2 2.7 2.7 4 2.7 3 1 2-0.3 0 3.9 -0.5 0 -0.5-0.8 -4-1.2 -1-0.6 -6-6.3 -2-3.3 -0.6-2.9zM338.1 396.5l0.9-0.5 -0.5 4.5 -1.3 0 0.1-2z"/>
<path fill="#ccff33" d="M282 331.3l2.2 0 -0.6 4 -0.6 0.2 -1 0.1zM319.7 337.3l2.2 0 3.1 0.9 3 3 0 0.4 -3.1-0.3zM346.9 337.3l4.1-0.1 0 0.6zM305 359.4l1.8 0 3.2 2.8 2.3 1.2 0.7 1 -1 0.3 -3.3-1.3 -1.7-1.4zM329 361.4l0.5 0 0.8 1 1.7 3.5 6-0.9 5-3.3 2-0.1 0 1.8 -1 0.9 -8 2.5 -1.6 1.6 -0.4 3 0.3 7 -1.5 3 -1.8 1 -1 0 -3-1.6 -0.9-1.4 -0.1-1 2-2 0-1 1-1 0-1.9 2-0.8 0.5-1.3 0.1-2 -0.6-1.5 -2 0.3 -0.5 1.2 -0.5 0 0-3 0.8-1zM312.7 365.4l0.3-1 0.9 1zM282 367.4l0-0.4 4.5 0.4 -0.5 0.4 -4 0.1zM289.3 379.4l1.7-0.3 1 0.3 1 1.8 1 0.2 -2.2 0 -0.8 0.6 -0.2 1.5 0.7 3 2.2 3 -0.7 0.2 -2-2.3 -2-3.7 -0.3-2.3zM293.8 390.5l0.2-0.7 0.8 0.7zM294.7 391.5l0.3-0.8 5 4.5 4.4 1.3 -0.4 4 -0.5 0 -0.5-1.3 -3-1.2 -2-1.5zM338.9 397.5l0.1-0.3 0.1 3.3 -0.5 0z"/>
<path fill="#ffff00" d="M348.9 336.3l2.1 0 0 0.3zM321.3 337.3l3.9 0 1.8 2 0 0.5 -2-1.2zM305 358.4l2-0.3 2 0.6 5 4 1 2.7 -1.2 0 -1.8-2 -2.1-1 -3.9-3.6zM342.7 364.4l1.3-0.3 0.6 0.3 -2.7 2 -4.9 1.4 -1.4 1.6 0.1 3 1.5 4 0.5 4 -0.4 2 -1.3 0.1 -1 1 -0.7 0 -1.3-1 -3 0 -2 1 -3-0.3 -1.2-0.8 -0.8-2 0.2-1 2.2-2 1.6 0 0 2 0.9 1 2.1 1.3 1.5-0.3 2.1-4 0.3-8 1-2 1.7-1 2.4-0.5zM282 368.4l0-0.4 5 0.4 -3 1.5 -2 0.3zM288.8 378.4l2.6 0 -1.8 1 -1 2 0.1 1 1.7 4.1 2.3 3 -0.7 0.2 -2.1-2.2 -1.9-3.7 -0.2-3.4 0.1-1zM292.8 390.5l0.2-0.7 0.6 0.7 -0.6 0.2zM293.7 391.5l0.3-0.7 5 6.1 4.3 1.6 0.7 0.7 0 1.3 -7.1 0 -0.4-3 -1.1-3z"/>
<path fill="#ffcc00" d="M346 335.3l1 0.4 4-0.1 0 0.8 -5-0.1zM306.9 356.4l2.4 0 6 5 0.8 1 0.2 1 -0.3 2 -1.1 0 -0.9-2.3 -5-3.9 -3-1.3 -0.2-0.5zM343.4 365.4l0.6-0.2 0 1.1 -1.5 2.1 0.1 1 3.4 2.6 0 0.6 -1.8 1.8 -0.2 2 -1-0.6 -1-0.1 -1 0.1 -1 0.6 -1 3.4 -0.7 0.6 -0.3 2 -0.9 0 -0.1-5 -1.5-5 0.1-3 0.3-1 1.4-1 2.7-0.5zM283.6 369.4l2.4-0.3 0.7 0.3 -1.9 5 -0.8 0.9 -2 0.2 0-6zM287.2 378.4l0.8-0.3 1 0.3 -1.5 2 -0.1 2 -0.4 0.9 -0.2-3.9zM322 378.4l2.2 0 -0.7 2 1 2 1.5 0.7 3 0.4 -2 1.5 -2 0.3 -2-0.5 -1.3-1.3 -1-2.1 0-2zM287.4 383.5l0.6-0.2 0.6 2.2 3.1 4 -0.7 0.3 -2-1.8 -1-2.1zM291.7 390.5l0.3-0.8 3 3.7 2.1 5.1 0.2 2 -2.3 0 -0.5-5 -0.8-2zM340 396.5l0.3 1 0 3 -0.4 0z"/>
<path fill="#ff9900" d="M346 334.3l0-0.8 5 0.3 0 1.6 -5 0zM295.4 344.3l1.6-0.8 2 0.6 0 2.3 -3 0.4 -1-0.3 -0.3-1.2zM307.5 355.4l2.2 0 2 1 5.2 4 1 2 0 1 -0.9 1.9 -1.1 0.1 0.2-2 -1.1-1.9 -5-4.3 -2.2-0.8zM343.7 366.4l0.3-0.3 0.3 0.3 0.2 2 1.5 2.5 0 0.8 -5-1.6 -2 1.7 -1-0.1 -0.3-1.3 0.3-0.8 1-0.4 2 0.1zM286.8 369.4l0.2 3 -0.5 2 0.5 1 2.2 2 -1.8 1 -0.9 2 1.1 5.1 -0.6 0.2 -2-6.8 -1-0.8 -2-0.2 0-2.9 2.1-0.6zM340.5 375.4l1.5 0 1.9 1 -1.9 0.2 -2 1.8 0 0.8 -0.5-0.8 0-2zM318.6 378.4l3.8 0 -1.3 1 -0.1 1 0.4 2 1.6 2 2 0.7 2-0.1 1-0.6 0 1 -1 1.8 -1 0.4 -1.4 1.9 0.2 1 2.2 1.5 0 1.5 -1.3 1 -3.3 0 1.4-4 -0.2-1 -4.6-6.9zM287.7 386.5l0.3-0.8 0.7 1.8 3.3 3.4 2 3.1 1 3.3 0.2 3.2 -1.8 0 -0.2-3 -1-4 -1.8-3 -2.4-2.3zM341.8 395.5l0.8 0 -0.6 0.7zM340.8 396.5l0.9 0 -0.3 4 -0.7 0z"/>
<path fill="#ff6600" d="M309 331.3l7 0 0 4 3.2 1 -2.9 0 -0.3-0.9 -2 0.2 -2.5-0.3 -2.4-3zM346 331.3l5 0 0 3 -5-0.5zM295 342.3l3-0.8 1 0.2 1 0.7 0 1.9 -1 0.6 -1-0.9 -1 0 -1.6 1.3 0.4 1 2.2 0.6 0.5 0.4 -2.5 0.3 -5 3.8 -1 0.3 -1.4-0.3 -0.1-1 0.4-1 2.1-2.1 2-3.1zM308.8 355.4l3 0 6.2 3.3 1 1.1 0.6 1.6 -0.6 3 -1 0.7 -0.3-2.7 -1.7-2.4 -5-4.1zM344.9 365.4l0.3 0 1.2 4 0.2 1 -0.6 0.3 -1.2-1.3 -0.3-1zM286.9 372.4l0.1-0.7 0.4 1.7 1.6 3.4 -1.5-0.4 -0.8-1zM318.7 377.4l1.3 0.2 -1 0.7zM282 378.4l0-0.9 3 0.6 1.4 6.4 0.9 2 -0.3 0.5 -1.2-1.5 -1.8-3.6 -1-0.8 -1-0.1zM317.8 378.4l0.2-0.3 0.9 0.3 0.3 4 1.2 2.1 2.6 2.8 1 0.6 1-0.4 2-0.8 1-1.4 0 6.2 -1 1.1 -3 1 -1 0.9 -2.8 0 -0.9-1 -0.5-3 0.3-3 -1.6-3 -0.6-2.1zM288.7 389.5l0.7 0 2.6 3.1 1.1 2.9 0.4 5 -1.9 0 -0.2-3 -0.8-4zM342.7 395.5l1.5 0 -0.9 1 -0.2 4 -1.6 0 0.2-4z"/>
<path fill="#ff3300" d="M303.7 331.3l7.1 0 0.2 1.1 2 1.4 1.3-0.5 0.3-2 4.7 0 0.8 4 1.6 1 -3.1 0 -1.6-0.4 -0.4 0.4 -7 0 -1.6-0.7 -3 0.5 -1 1.1 -1.1 3.1 -1.9 2.5 -1-0.1 -1-0.7 -2-0.2 -2 0.8 -1.8 1.7 -1.6 3 -2.3 3.1 0.7 0.7 3-2.1 1-0.2 1 0.3 -1.4 1.3 -1.6 2.3 -1 0.8 -4 0.3 -1.8-0.4 0.2-2 1.1-2 4.1-4.1 2.3-3 5-3 5.1-4 0.6-1zM311.6 355.4l2.1 0 1.3 0.6 4.9 0.4 1.7 2 0.8 2 -0.2 2 -0.6 1 -1 1 -1.6 0.6 0.4-3.6 -1.2-2zM327.5 360.4l0.5-0.5 0 2.8 -0.8 0.7 -0.2 1.6 -0.4-1.6zM345.8 365.4l0.2-0.7 1 1.7 2.1 2 0.4 1 -0.2 1 -1.3 0.4 -0.6 0.6 -0.5 0 -0.9-2.8zM287.9 372.4l0.1-0.4 0.4 1.4 2.6 3.4 1 0 3-1.2 1.8-2.2 1.2-0.6 3 0.4 3 1.9 0.5 1.3 2.6 2 1.9 2.5 3 2 2-0.3 3.2-4.2 0 4 2.5 5.1 -0.3 4 0.3 2 0.7 1 -1.8 0 -1.1-1 -0.5-1.2 -3-2.2 -6.7-2.6 -5.8-7.1 -2.5-2.1 -2-0.8 -1 0.1 -1 1.8 -1 0.7 -2-2.6 -1.8-0.1 -1.3-1 -1.1-2zM282 380.4l1-0.1 1 0.7 1.3 3.5 1.7 2.6 0 1.4 -3-2.5 -2-0.4zM288.1 390.5l1.1 0 1.8 3.6 0.7 6.4 -1.8 0 -0.4-6zM344 395.5l1.5 0 -0.4 1 -0.2 4 -2.1 0 0.3-4z"/>
<path fill="#ff0000" d="M301.2 331.3l3.1 0 0.1 2 0.6 1.4 5.2 1.6 -3.2 0.3 -4 4.1 -0.7-0.4 0.4-2 -0.7-1.1 -3.3 2.1 -4.7 2.3 -4 4.7 -3.3 3.1 -0.8 2 0 1 1.1 1 2 0.2 3-0.6 0.1 0.4 -1.1 1 -2 0.2 -2 1.1 -0.7 0.7 -1.2 3 -3.1 0 0-9.4 1-0.1 2-1 4-3.4 3.6-4.2 4.3-3 3.5-4zM319 331.3l2.2 0 0.7 4 1.5 1 -1.9 0 -1.8-1zM313.5 355.4l7.5 0 2-0.7 1.5 0.7 1.6 2 1.9 1 0 1.6 -0.8 1.4 -0.6 3 0.4 0.4 0 1.7 -1-1.5 -2-0.3 -3 0.8 -2.1-0.1 1.1-0.7 1.7-2.3 -0.3-3 -2.4-3.2zM346.6 365.4l0.4-0.4 1 0.9 3 0.5 0 4.9 -3.2 0.1 0.7-1 0-1zM298.9 370.4l2.1-0.1 3 1.5 1 2.8 0 2.3 -2-2 -4-1.7 -1 0.1 -1.5 1.1 -0.4 1 0.5 1 3.4 1.9 9 9.1 6 2.7 2 1.8 0.5 1.6 1 1 -1 0 -2.5-1.9 -2-0.9 -5-0.1 -2 1 -1.4-3.1 -1.6-1 -1 0 -0.5-1 0.3-1 -0.3-2 -1.5-2.7 -2-1.3 -1 0.1 -1 1 -1-0.9 -0.6-1.3 0.2-2 -0.6-0.5 -3.8-0.5 -1.3-2 -0.2-1 0.3-1 1 1.5 1 0.4 2 0 4-3zM306.8 378.4l1.3 0 2.9 1.8 2 0.5 2.2-1.3 0.8-0.2 0.2 0.2 -1.2 2.9 -1 1 -2 0.2 -2.1-1.1 -1.9-2zM282 385.5l0-0.3 1 0 2 1.2 2 2 0 1.4 -2-1.8 -3-0.6zM287.6 390.5l0.4-0.3 1 2.3 1 5.7 0 2.3 -1.1 0 -0.2-6zM345.6 395.5l1.1 0 -0.4 5 -1.6 0 0.2-4z"/><path d="M298.8 331.3l-0.6 3 -3 4 -4.2 2.9 -4 4.4 -3 1.7 -2 0.3M325.8 336.3l-2.1-1 -0.8-4M329.7 341.3l-0.8-2 -1.5-2 -1.2-0.8M301.3 343.3l5.8-6 0.9-0.6 1.6 0M340.1 351.5l-2-4.2 -2.6-3 -3.9-1.4M316.7 355.1l-6.7-0.5 -3-1.7 -2 0 -0.7 0.5 -0.2 1 0.2 2.7M325.6 355l-1.1-0.6M328 357.7l-0.6-0.9M286.1 359.4l1.8-3 3.1-1.4 2-2 1.6-2.6 2.2-2.1 2.7-0.5M351 365.1l-2-0.2 -3-1.5M301.2 365.6l-1.4 1.8 -6.8 5.2 -2 0.1 -3-2.8M316.5 365.9l9.5 1.1 1 0.7M305 370.3l-0.4-1.3M306.9 377.3l-1.6-0.9 -0.1-0.7M320.7 377.4l-0.7-0.5 -2 0.1 -1 0.9 -4 1.2 -3.9-0.8M308.9 378.3l-1.8-0.9M340 380.2l2.8-2.8M296.3 382.7l2.1 0.8 1.9 3.3M282 388.7l3 0.7 1.7 2.1 0.8 3 0.4 6M328.5 391l0.3-5.3M306 393.5l7-0.3 2.7 1.3 2 0.3M348.2 400.5l0.2-5" fill="none" stroke="#d8f08a" stroke-width="0.45" stroke-opacity="0.5"/>
<rect x="361.2" y="331.3" width="69" height="69.2" fill="#80ff80"/><path fill="#000099" d="M385.2 331.3l12.4 0 0.3 4 1.1 2 5.2 2.5 4 4.1 5.5 2.4 1.5 1.3 1 2.3 0.5 4.5 -0.2 9 -1.3 9.4 -1 2.8 -1.8 1.8 -2.7 2 -2.7 1 -5.4 1 -5.4 0.4 -1.2 0.6 -3.8 0.1 -1 1 -2 0 -1-1.1 0-0.8 2 0.8 5.9-2 7.1-0.8 2-0.5 1-0.7 2-0.4 5.7-5.6 1-2 0.8-7 -0.8-9 -0.8-2 -2.4-3 -1.5-1.6 -2-1.1 -7-2.2 -5-0.7 -9 0.3 -8 0.9 -3 1.5 -5.4 4.9 -3.6 5.8 -1 0.9 -2 0.9 -2 0.2 0-3 2-0.2 1-0.5 5-6 4.7-4.2 4.8-2 7.5-1.5 3.2-1.5 0.8-1 -0.2-1 -4.1-3 -0.7-1.5zM422.4 331.3l7.8 0 0 7.7 -2-0.4 -4.9-4.3 -0.6-1zM426.1 355.4l0.8 0 1.3 0.8 2 0.1 0 5.9 -2-0.4 -1-1.2zM384.8 363.4l2.4-0.9 2 0.1 5 1.8 1.1 1 -6.1-0.3 -1 0.3 -0.9 1 -1.8 6 0.5 8 -0.8 0 0-12 -0.8-4zM361.2 373.4l0-0.7 2 0.1 1.9 0.6 1.2 1 0.9 1.5 3.5 9.6 1.1 2 4.9 4 3.5 3.6 3.2 2.4 0.7 1 0.4 2 -6.2 0 -0.4-2 -2.7-5 -1-1 -4-2.2 -1.3-4.8 -1-2 -4.7-4.7 -2-0.5zM386.2 381.4l0-0.9 0.9 0.9zM427.5 383.5l2.7-0.6 0 17.6 -23.9 0 0.7-2 1.2-1 2.2-1 6.8-1.4 6-4 1.5-1.6 1-2 0.5-2.7zM402.2 398.5l0.5 0 0.3 2 -0.8 0z"/>
<path fill="#990000" d="M386.8 331.3l2.8 0 -0.4 1.9 -1 0.3 -0.6-0.2 -0.8-1zM421.1 331.3l3.3 0 0.3 2 1.5 1.8 2 1.3 2 0.3 0 4.4 -2-0.6 -2.6-3.2 -3.6-3 -0.8-1.6zM399 341.3l3.2 0.2 3.3 2.8 6.1 3 2.9 3.1 0.9 3 0.2 8 -1.4 10.1 -1 2.3 -5 4.8 -1.8 0.8 -10.2 1.6 -4 1 -3 1.2 -2.7-1.8 -1.3-1.9 0-8.6 0.7-1.5 0.3-4 1-1.2 3-0.1 4.6 1.3 -0.6 0.6 -5 0.7 -1.2 1.7 -1 4 0 5 0.8 2 1.4 0.7 7-0.8 7-0.2 4-1.9 5.7-5.8 1.1-4 -0.3-6 -0.8-5 -1.2-3 -3.5-4.6 -4-1.9 -4-1.2 -5-0.7 -10-0.2 -6 0.7 -3 1.2 -5.3 4.7 -1.6 2 -2.1 3.9 -2.1 2.1 -1.9 0.6 -2 0.2 0-2.2 2-0.2 2-1.2 4-5.7 6.3-5.6 2.7-1 10-1.4 6-1.2zM426.2 355.4l4 0.1 0 2.5 -2-0.4zM361.2 372.4l0-0.4 4 0.4 2 1.5 1 1.3 1 2.4 1.5 5.9 1.6 3 7.9 7.4 5 3.6 1 1 0.5 2 -4.2 0 -0.4-2 -0.7-1 -2.7-2 -3.5-4.1 -4-2.7 -2.5-6.3 -1.9-3 -1.7-4 -1.9-1.4 -2-0.2zM427.2 382.4l3-0.8 0 2.9 -1 0.1 -1.5 0.9 -2.5 6.3 -5 4.2 -3 1.2 -6 0.3 -1.7 1 -0.5 2 -6.8 0 0-2.8 3 0 5.8-2.2 5.2-1.3 6-3.5 1.4-1.2 1.4-2 0.4-2z"/>
<path fill="#0000cc" d="M385.2 331.3l0.4 0 0.6 2.9 2 1.2 1 0.2 1.1-0.3 1.3-1 0.6-3 7.3 0 0.2 3 1.5 2.4 2 1.2 2 0.5 3.4 3.9 1.6 1.2 4.7 1.8 1.5 1 0.9 3.1 0 6 0.6 3 -0.6 8 -1.1 7.6 -1 3.3 -2.1 2.1 -2.5 1 -7.6 2 -10.3 0 14.5-2.6 2-1 3-2.7 1.5-1.7 0.9-2 1.6-10 0.1-8 -0.4-3 -1.7-3.3 -2-1.4 -5-2.4 -4.1-4 -2.9-0.6 -5 0.2 -7.6 2.4 -10.4 1.7 -3 1.6 -5 4.5 -4.8 6.3 -1.2 0.5 -2 0.2 0-2.8 2-0.2 1-0.5 5-5.4 3.2-2.9 3.7-2 7.1-2.2 2-1 0.8-0.8 0-1 -1-3zM425.9 331.3l4.3 0 0 4.1 -2-0.3 -1.2-0.8 -0.8-1zM425.9 356.4l0.6 0 1.7 2.7 1 0.6 1 0.1 0 3.9 -2.5-0.3 -1.5-1.2 -0.4-1.8zM379.2 361.4l1 0.7 3-0.2 3-0.7 3 0.1 3.2 1.1 1.7 1 0.8 1 -1.7 0 -4-1.2 -2 0.1 -1 0.5 -0.8 1.6 -0.2 4.4 -0.2-1.4 -1.8-2.5 -2-1.5 -2-0.4zM361.2 375.4l0-0.6 1 0.1 1 0.3 1 0.9 1.5 3.3 2.5 3.5 2.6 6.6 4.6 3 2.8 3.8 2.8 2.2 0.4 2 -6.1 0 -0.2-3 -0.6-2 -1.3-1.6 -4-1.8 -0.9-2.6 0.3-2 -0.6-2 -1.4-2 -2.4-1.9 -3-0.5zM428.4 386.5l1.8-0.5 0 14.5 -8.7 0 0.6-2 1.8-2 4.7-3 0.1-1 -0.5-0.5 -0.5-2.5zM411.2 398.5l3.4 0 1.6 1 0.2 1 -6.1 0 0.1-1z"/>
<path fill="#cc0000" d="M420.8 331.3l1.7 0 0.3 2 0.7 1 3.7 3.4 2 1 1 0 0 3.4 -2-0.6 -2.2-3.2 -4.5-4 -0.5-1zM382.1 344.3l11.1-0.7 5 0.3 2.6 0.4 8.1 3 1.3 1 3 3.6 1 2.3 0.4 7.2 -0.4 6.3 -1.6-10.3 -1.1-3 -2.7-4 -1.6-1.7 -2-1 -7-2 -12-0.6 -6 0.5 -2 0.5 -3 1.9 -4.7 4.4 -2.3 4 -2.5 3 -1.7 1 -2.8 0.2 0-1.5 3-0.4 1.7-1.3 3.3-5.3 6-5.8 1.9-1zM427 355.4l3.2-0.2 0 1.3 -1.4-0.1zM387.9 365.4l1.3-0.4 3.5 0.4 1.6 1 -4.1 0.7 -1.4 1.3 -0.5 2 -0.3 5 0.1 2 0.5 1 1.6 0.8 5-0.4 8.1 0.6 -6.1 0.6 -6 1.6 -1.3 0.8 -1.4 0 -1.4-1 -0.9-1 -0.6-8 1.5-6zM413.2 368.4l0 3.5 -0.4-0.5zM361.2 372.4l0-0.8 2 0.1 2.8 0.7 1.4 1 1.8 2.8 1.5 6.2 1.9 4.1 9.6 8.6 5.2 3.4 0.7 2 -3.9 0 -0.3-2 -0.8-1 -3.8-3 -3.1-3.5 -4-3 -1-1.4 -4.4-11.2 -2.6-2.4zM411.7 372.4l0.5-0.5 0.6 0.5 -4.6 5 -2 1 -0.2-1 1.2-0.5 2-2.3zM403.8 378.4l2.2 0 -1.8 0.4zM428.1 381.4l2.1-0.3 0 1.8 -2 0.4 -1 0.5 -1 1.4 0-1.9zM425.2 385.5l0.7 0 -0.6 3 -1.1 1.8 -5.5 4.2 -2 1 -4.5 0.6 -3 0.9 -1.8 1.5 -0.6 2 -3.8 0 0-1 -0.8-2 4-0.5 3.6-1.5 5.4-1.4 2-0.9 4-2.2 2-1.6 1.7-1.9z"/>
<path fill="#0000ff" d="M399.2 331.3l1.4 0 0.1 2 0.8 2 1.7 1.6 3.4 1.4 4.6 4.5 6 2.4 1 3.4 0 1.8 -1 0.2 -0.8-3.3 -1.2-1.4 -6-2.6 -4-4.4 -3.9-1.6 -1.1-1 -0.8-2zM384.2 336.3l0-0.8 1.4 0.8 0.7 1 0.7 2 -0.7 1 -2.4 1 -6.7 1.6 -0.5 0.4 -1.5 0.4 -0.8-0.4 1.8-0.5 7-3.4 0.9-1.1zM372.5 344.3l1.7-0.6 0.2 0.6 -1.2 0.6 -3 2.6 -6 6.6 -1 0.5 -2 0.2 0-2.3 3-0.5 5.6-5.7zM417.7 356.4l0.6 0 0.3 10 -2.7 13 -1.3 1 -6.4 1.4 -4 1.7 -7.7 0 0.6-1.1 6.1-0.2 6-1.5 3-1.4 2.3-1.9 1.4-3 1.6-11zM425.1 356.4l0.1-0.7 0.7 4.7 0.9 2 1.4 0.8 2 0.2 0 1.4 -2.4-0.4 -2-1 -0.6-0.7 -0.3-2.3zM384.3 360.4l2.9-0.8 3 0.6 4.3 2.2 0.8 1 0.2 1 -0.5 0 -1.8-1.4 -4-1.4 -3 0 -3.1 0.8 -1.6 1 2.7 3.5 0 1.5 -3-2.8 -1-0.2 -1-0.8 0.5-2.2 -0.5-1 4-0.5zM361.2 381.4l0-0.7 3 0.6 2 1.5 1.6 2.7 -0.6 0.1 -3-2.8 -3-0.4zM368 386.5l0.2-0.7 0.4 3.7 0.6 1.7 1 0.9 3.2 1.4 1 1 0.9 2 0.4 4 -1.6 0 -0.2-3 -1.7-2.6 -2-1 -2.6-0.4 0.6-2 -0.4-3z"/>
<path fill="#0033ff" d="M400.7 331.3l1.1 0 0.5 3 0.6 1 1.4 1 -0.1 0.5 -2-0.5 -1-1.3zM384.2 335.3l0.2 3 -0.7 1 -1.6 1 -5.2 2 -1.7 0.4 -0.6-0.4 7.6-3.6 1.5-1.4zM406.3 338.3l2.2 0 3.7 3.8 3 1.6 2 0.6 0 0.5 -2.5-0.5 -4.5-2 -2.5-3zM372.6 343.3l1.6-0.5 0.4 0.5 -1.4 0.5zM370.7 344.3l1.5-0.5 0.4 0.5 -3.4 2.6 -4 4.5 -2 1.2 -2 0.1 0-1.7 2-0.2 2-1 4-4.5zM417.9 346.3l0.3-0.6 0 3.6zM418.1 350.4l0.1-1 0 2.7zM387.2 357.4l2 0.3 6.5 3.7 1 2 -0.4 2 -0.4-1 -1.7-2 -5-2.3 -2-0.3 -3 0.8 -3 0 2-0.4zM419.1 358.4l0.1-0.8 1.1 8.8 -1.1 3.9 -1.5 3.1 0.3 3 -0.7 4 -1.1 1.1 -6 0.3 -0.5-0.4 3.5-0.6 2-1.1 1.2-2.3 2.2-11 -0.1-5zM423.9 359.4l0.3-0.7 0.4 0.7 0.1 2 1.5 2.3 4 1.2 0 0.6 -1.8-0.1 -0.2-0.6 -3-0.4 -1-0.8 -0.6-1.2zM381 366.4l0.2-0.6 1 0.5 2 2 0 2.1 -0.3-1zM361.2 382.4l2.2 0 2.8 1.9 1.2 2.2 0 3 -0.3 0 -0.3-3 -2.6-2.5 -3-0.5zM406.6 382.4l2.6-0.5 0.4 0.5 -1.4 0.4 -3 1.8 -2 0.6 -12.1-1.7 11.1 0.1 3-0.5zM367.2 392.5l1 1.5 3 0.2 1.8 1.3 1.2 3 0 2 -1.3 0 -0.4-3 -2.3-2.5 -3-0.5z"/>
<path fill="#0066ff" d="M401.9 331.3l1.3 0 0.4 3 0.8 1 -0.2 1 -2-1.9zM380.4 338.3l1.8-0.4 0.4 0.4 -1.4 1 -10 4.7 -6.7 6.4 -3.3 0.6 0-1.5 3-0.4 5-4.9zM408.7 338.3l1 0 1.3 1 3.5 3 -0.3 0.6 -3.1-1.6zM414.6 343.3l0.6-0.3 1.1 0.3zM419.2 349.4l0.6 7 1.3 3 1.1-0.4 2-3.1 0.1 2.5 -0.7 2 0.1 2 0.6 1 1.9 1.5 2.4 0.5 -0.4 0.3 -5 0.1 -1 1.1 -3.6 6.5 -0.4 6.7 -0.4-1.7 0.2-5 1.8-5 0.3-2 -1-10 -0.9-2 0-3 0.9-1zM388 355.4l2.4 1 1.8 1.5 3.8 1.5 1.4 1 0.8 1.6 0 1.4 -0.1 1 -0.8 1 -0.6-2 -1.4-2 -6.1-3.4 -2-0.3 -2.7 1.7 -1.3 0.2 -0.2-0.2 2.2-1.7 1-1.5zM380.9 367.4l0.3-0.7 2 1.7 0.5 1 -0.5 0.5zM383.8 370.4l0.4-0.3 0 1.8zM415.9 381.4l1.3-0.4 0 0.5zM409.2 382.4l5-0.2 1-0.4 0.3 0.6 -5.3 0.4 -3 1.9 -1.9 1.8 -0.6 1 -1.5 0.3 -1.8-0.3 -2.2-1.4 -5.5-0.6 -2.5-0.9 -1.8-0.1 4.8-0.5 9 1.1zM361.2 383.5l1.4 0 2.3 1 1.8 2 0.5 1 -1 0.1 -1-1.3 -2-1.4 -2-0.2zM368.1 395.5l2.1-0.3 1.8 1.3 0.7 2 0.2 2 -1.5 0 -0.6-3 -1.6-1.7z"/>
<path fill="#0099ff" d="M403.1 331.3l1.4 0 0.1 2 0.9 2 0 1 -1.3-1.1 -1-1.7zM380.5 337.3l1.9 0 -11.2 5.7 -3 2.1 -0.3-0.8 1.3-1.1 6.4-3.9zM406.1 337.3l0.1-0.5 2.1 0.5zM409.8 338.3l1.7 0 3.7 3.6 1 0.4 -1.8 0zM366.8 345.3l0.4-0.3 0.8 0.3 -2.8 3.2 -1.5 0.9 -2.5 0.2 0-1.4 3-0.5zM419.2 348.3l0-0.2 2 4.8 1 1.2 1 0.1 1-0.8 0 2.6 -2 4 -1 0.6 -1-1.8 -0.2-2.4 -0.8-2.4zM386.1 355.4l4.6 0 2.5 1.4 4.3 1.6 1.8 2 0.3 2 -0.4 2 -1.4 1 0.3-2 -0.4-2 -1.5-1.6 -3.3-1.4 -3.7-2.6 -2-0.2 -1 0.7zM384.1 357.4l1.1-0.7 0.3 0.7 -2.3 1.5 -0.1-0.5zM423 365.4l7.2 0.9 0 0.5 -4 0.3 -2 0.8 -4.2 5.5 -0.8 2.8 -0.3-1.8 0.3-2 1.7-3 1.3-3.5zM380.1 367.4l0.1-0.6 4 4.6 0 9.2 -2-1.8 0.2-6.4zM409 383.5l2.2-0.4 1 0.4 -2 0.4 -1 0.7 -1.9 1.9 -0.2 1 -0.9 1 -5.1 0 -0.9-0.8 -3-0.7 -5.7-0.5 -2.4-1 -1.2-1 3.6 0 1.7 0.7 7.7 1.3 1.3 1.1 1 0zM361.2 385.5l0-0.8 3.2 0.8 1.8 1.9 0 2 -2-2.3 -1-0.5 -2-0.2zM367.2 395.5l1.8 0 1.2 1 1 1.4 0.3 2.6 -2.2 0 -0.5-2 -0.6-0.5z"/>
<path fill="#00ccff" d="M404.5 331.3l1.2 0 0.2 2 1.8 3 -0.5 0.6 -1-0.4 -1-1.7zM380.7 336.3l2.2 0 -6.7 2.8 -7 4.2 -0.2-1 6.1-4zM411.5 338.3l0.7-0.3 0.6 0.3 3.1 3 -0.7 0.3 -0.6-0.3zM416 342.3l0.2-0.6 1 0.6 0.1 1zM367.8 343.3l0.4-0.3 1 0.3 -1 0.6zM366.7 344.3l0.5-0.4 0.5 0.4 -2.9 3 -1.6 0.8 -2 0.3 0-1.5 3-0.7zM419.2 346.3l3 4 2 1.2 0 2.3 -1 1 -1 0.3 -1-1 -1.2-4.7 -0.8-1.2zM390.6 355.4l2.2 0 5.7 2 1.1 1 0.8 1 0.6 2 0 1 -0.7 2 -1.1 0.6 0.3-3.6 -1.3-2.3 -2-1.2 -2.1-0.5zM384.2 356.4l1-0.4 0.1 0.4 -2.1 1.9 -0.2-0.9zM382.1 358.4l1.1 0 -1 0.8zM424.3 367.4l1.9-0.3 4 0.1 0 1.4 -2 0 -2 0.8 -1.1 1 -0.9 1.7 -3.3 2.3 -1.4 2 -0.3 1.4 0-2.4 1-2.5 3-4.5zM379.6 368.4l0.6-0.5 3 4.1 0 2.9 -0.8 2.5 0.9 2 2.9 3 0.3 1.1 1.7 1.4 3 1.3 8 1.2 2.2 1.1 -3.3 0 -0.9-0.6 -6.8-0.4 -2.5-1 -1.3-1 -1.4-2.4 -3-1.5 -1-1.2 -0.3-1 -0.4-6zM411.5 383.5l2.3 0 -1.6 0.4 -2 1.4 -2.3 3.2 -2 0 2.1-3 1.2-1zM361.2 386.5l0-0.3 2 0.2 1 0.6 2 2.2 0.3 1.3 -0.6 0 -2.7-1.8 -2-0.2zM367.2 396.5l0-0.6 1 1.6 -1 0.3zM368 398.5l0.2-1 1 0.6 0.4 2.4 -1.4 0zM401.1 398.5l0.1 2 -0.5 0z"/>
<path fill="#00ffff" d="M384 331.3l0.2 2.4 -0.5-0.4zM405.8 331.3l1.2 0 0.5 3 0.8 1 0.1 1 -1.2 0 -1-2zM382.3 334.3l0.9-0.3 0.3 0.3 -0.3 1.1 -1.8 0.9 -5.2 1.5 -7.1 4.5 -0.9 0.5 -0.5-0.5 5.4-4zM410.7 337.3l2.3 0 1.5 1 2.7 3 0.2 1 -5.2-4.6zM366.6 343.3l0.6-0.4 0.5 0.4 -0.5 0.4zM365.1 344.3l1.1-0.6 0.3 0.6 -2.3 2.1 -3 0.4 0-1.5 3-0.3zM419.2 345.3l3 2.7 1 0.2 1 1.2 0 2.3 -2-0.9 -1-1.1 -2-3.2zM392.4 355.4l2.4 0 -0.6 0.4zM382.9 356.4l1.3-0.3 0.1 0.3 -1.1 0.7zM395 356.4l0.2-0.4 1 0 2.6 0.4 2.5 2 0.9 1.8 0.2 2.2 -0.2 1.2 -1.5 1.8 -1.6 0 1-1 0.9-2 -0.3-2 -0.5-1 -1-1.3 -2-1.3zM381.8 357.4l0.4-0.4 0.8 0.4 -2 2 0.2-1.3zM379.1 367.4l1.5 5 0.1 6 0.8 2 0.7 0.8 3 1.2 1 1.1 0.7 2 2.3 1.5 4 1.1 6 0.4 -3 0.6 -6.4-0.6 -4.4-2 -4.2-3.9 -1-1.4 -1-3.3 -0.6-8.5zM427.3 368.4l2.9-0.1 0 3.1 -3 0 -3.1 3 -1.9 0.9 -2 2.3 -0.2-0.2 0.2-2.2 1-1.4 2.7-2.4 1.4-2zM413.9 383.5l1.3 0 -1 0.4zM411.3 384.5l1.9-0.4 0.5 0.4 -2.5 1.5 -2 2.5 -1.4 0 1.4-2.4zM361.2 388.5l0-0.3 2 0.2 3 2 0 2.4 -1-1.1 -2-0.9 -2-0.1zM397.6 397.5l3.6 0 -0.4 3 -5.4 0 0.6-2z"/>
<path fill="#33ffcc" d="M380.1 331.3l4.1 0 0 1.3 -1 1.7 -7 2.5 -4 2.1 -4 2.8 -0.6-0.4 3.5-3 5.1-2.3 2.7-1.7 0.9-1zM407 331.3l1.2 0 0.4 3 -0.4 0.8 -1-1.4zM408.5 335.3l0.7-0.2 0.3 1.2 -0.3 0.4zM412.8 337.3l1.8 0 1.6 1 1.6 3 -0.7 0 -2.9-3.1zM366.5 342.3l0.7-0.6 0.4 0.6 -0.4 0.3zM418 342.3l0.2-0.7 0.6 1.7 -0.6 0.4zM365 343.3l1.2-0.7 0.3 0.7 -3.1 2 -2.2 0.2 0-1.3 3-0.3zM418.9 344.3l0.3-0.5 3 2.2 1 0.2 1 1.2 0 2.3 -1-1.2 -1-0.2 -2-1.9zM382.8 355.4l1.7 0 -2.3 1.5 -2 2.6 0-1.4 1-1.7zM394.7 355.4l4 0 3.5 2 1 1.5 0.5 2.5 0 2 -0.8 2 -1.7 0.8 -0.6-0.8 1-1 0.6-2 -0.2-2 -0.9-2 -2.9-2.4zM378 367.4l0.2-0.6 1.4 12.6 1.6 2.9 5 4.6 2 1 4 1.1 5.4 0.5 -3.4 0.4 -5-0.4 -4.6-2 -3.4-2.9 -2-2.9 -1-2.5 -0.8-8.8zM427.9 371.4l2.3-0.2 0 0.2zM423.7 374.4l0.5-0.2 0 1.3 -4 3.4 -0.4-0.5 1.4-2.5zM415.1 383.5l0.1 1 -5 3.8 -0.2-0.8 0.7-1zM361.2 390.5l2 0.1 2 1 0.4 0.9 -0.4 0.4 -4-0.4zM396.1 395.5l1.2 0 2.9 0.9 1 1.1 -3 0.3 -1 0.7 -0.6 2 -5.4 0 0-2.2 2.3-1.8z"/>
<path fill="#66ff99" d="M377.5 331.3l3.3 0 -0.5 2 -0.9 1 -9.2 4.6 -5 4.5 -4 1 0-1.2 3-0.4 5-4.5 5-2.3 2-1.4 0.9-1.3zM408.1 331.3l1.3 0 0.4 3 1.9 2 -1.5 0.3 -0.6-0.3 -1.4-3zM414.5 337.3l1.8 0 1.1 1 2.2 4 4.6 3.8 0 1.6 -1-1.2 -1-0.3 -3-2 -0.4-1.9 -2-3zM383 354.4l1.9 0 -2.7 1.3 -1.7 1.7 -0.3 1.1 -0.3-0.1 -0.5-1 0.4-1 0.9-1zM395.6 354.4l2.6 0 2.8 1 3.2 2.4 0.9 2.6 0.1 2.3 -0.9 3.7 -1.1 1.1 -2.8-0.1 -1.9-1 2.7-0.2 1.4-0.8 0.7-1 0.4-1 0.1-2 -1-3 -2.6-2.5zM377.8 366.4l0.4-0.5 0 1.2 -0.7 1.3 -0.1 2 0.5 6 0.7 4 1 2 2.6 2.9 3 2.5 3 1.3 3 0.8 5 0.3 1-0.7 4.2 0 -2.2 0.5 -4 2 -1-0.1 -5.7-1.4 -6.6-3 -0.7-0.8 -3-4.8 -1.3-3.5 -0.7-5.4 0-3.6 0.6-2zM424.1 375.4l0.1 1.1 -1 1.2 -2.9 2.7 -1.1 0.3 0-0.5 2-2.4zM415.1 384.5l0.5 0 -0.2 1 -2.2 2 -1.4 1 -1.7 0zM361.2 392.5l2-0.1 2 0.6 1 1.1 0 0.6 -2-1 -3-0.1zM394.1 393.5l1.1-0.6 2 0.6 3 1.7 1 1.4 -3-0.8 -3 0.2 -3 1.9 -1 2.1 0-3.7z"/>
<path fill="#99ff66" d="M375.6 331.3l2.1 0 -0.2 2 -0.8 1 -1.2 1 -5.3 2.4 -5.1 4.6 -3.9 0.8 0-1 3-0.5 4.9-4.3 5.1-2.7 1-1.3zM409.2 331.3l1.5 0 0.2 2 0.5 1 2.1 2 -2.1 0 -1.2-1.2zM417.8 338.3l0.6 0 1.9 3 2.9 2.7 0 0.8 -1.5-0.5 -1.5-1.2 -2-3.1zM395.1 353.4l2.7 0 3.1 1 3.8 2 0.7 1 0.8 1.6 0.2 3.4 -1.2 5.7 -1 1.2 -1 0.4 -2-0.3 -1.8-1 -0.6-1 0.4-0.5 2 0.5 2-0.3 1-1.1 0.7-1.6 0.2-2 -0.1-2 -0.6-2 -1.2-1.5 -3-2 -3-0.7 -4.9 0.2zM380.2 354.4l3-0.5 2.8 0.5 -3.8 0.2 -2 1.3 -0.8 1.5 -0.4 3 -0.9-2 0-1 1-2zM376.1 365.4l2.1-0.7 0 0.9 -1.8 2.8 0.1 7 1 5 2.2 4.1 1.7 2 1.8 1.4 4 2.1 4 1.1 5 0.2 4.7-1.8 1.6 0 -2.8 3 0.8 2 -0.3 0.5 -3-1.2 -2-0.1 -2 1 -2.1 1.8 -0.5-3 -1-1 -6.4-3.8 -1.7-0.2 -1.4-1 -0.4-2 -3.5-5.4 -1-3.9 -0.1-7.8 0.1-1.1zM422.1 378.4l1.1-0.6 0.3 0.6 -0.3 0.8 -2.3 2.2 -1.7 0.6 -0.5-0.6zM416.8 383.5l0.4-0.6 0.5 0.6 -0.5 1.4 -1 1.4 -2.9 2.2 -1.4 0 3.6-3zM361.2 393.5l1.3 0 2.9 1 -0.2 0.3 -4-0.2z"/>
<path fill="#ccff33" d="M373.4 331.3l2.3 0 -0.2 2 -0.8 1 -6.5 3.7 -3.4 3.3 -3.6 0.6 0-1.1 2-0.1 2-1 2.6-2.4 4.3-3 0.9-1zM410.7 331.3l1.6 0 0.1 2 0.5 1 1.3 1.5 0.9 0.5 -1.9 0 -1.3-1 -1.1-2zM418.4 338.3l1 0 3.8 4.5 0.3 0.5 -0.3 0.4 -1.1-0.4 -1.9-1.9zM393.6 352.4l4.8 0 4.8 2.3 2.2 0.7 1 1 0.8 2.2 -0.4 8.8 -0.6 2.5 -2 2.1 -2 0.3 -2.1-0.9 -1.9-1.9 -0.7-2.1 0.7-0.2 2 1.5 2 0.6 1 0 1.5-0.9 1-2 0.7-5 -0.5-3 -1.7-2.2 -2-1.4 -3-1.1 -3-0.3 -3 0.3 -0.7 0.7 -6.4 0 0.1-1 5 0.1zM380.1 353.4l4.1-0.6 2 0.6 -5 0.4 -2.8 2.6 -0.2 1 0.5 3 -0.5 1 0 3.2 -2 1.3 -0.8 1.5 -0.2 4 0.4 7 1.2 3 1.4 2.1 0.4 1 -0.4 0.1 -3-4.1 -1-2.1 -0.7-13 0.7-2.2 2.4-2.8 0.6-4.1 1-1.5zM424.1 377.4l0.1 2.1 -1 1.7 -3 2.4 -3.7 3.9 -1.8 1 -1.6 0 2.1-1.4 1.6-1.6 1.3-3.1 3.1-1.3 2.6-2.7zM379 385.5l0.2-0.4 0.5 1.4 -0.5 0.5zM383.1 389.5l0.1-0.3 1 0.3 6 3 0.8 1 0 1 -0.8 2.9 -0.2-1.9 -1.6-2zM401.1 390.5l1.1-0.3 0.7 0.3 -1.3 2 -0.4 2.4 -1.4-1.4 -0.5-1 0.5-1zM361.2 394.5l1.3 0 3.3 1 -0.6 0.4 -4-0.3z"/>
<path fill="#ffff00" d="M370.8 331.3l2.9 0 -0.3 2 -0.9 1 -4.3 2.4 0-0.5 2.2-2.9zM412.1 331.3l1.6 0 0.2 2 0.6 1 1.9 2 -1.5 0 -1.7-1.4 -1-1.6zM365.2 338.3l1-0.3 0.4 0.3 -2.4 2.1 -3 0.3 0-1.4 3-0.3zM419.5 338.3l1 0 3.5 4 -0.8 0.4 -0.5-0.4 -2.5-2.7zM423.8 343.3l0.4-0.8 0 1.8zM383.7 351.4l3.5-0.4 10-0.1 2.1 0.5 3.9 2.4 1.8 0.6 -0.8 0.4 -5-2.1 -3-0.5 -2 0.2 -2 1.1 -4 0.3 -5-1.2 -2 0.2 -2 1.1 -1.5 1.5 -1 3 0.5 1.6 1 1 0 1.7 -1-0.8 -2 1 -1.4 2.5 -0.1 2 0.2 8 0.5 3 1.4 3 2 3.1 -0.6 0.1 -3-4.1 -1-1.9 -0.1-6.2 -1.7-8 0.8-2.4 2.9-3.6 2.1-4.1 2.8-1.9zM405.2 355.4l1-0.1 0 0.6zM406.8 356.4l0.4 0 0 3zM407.1 363.4l0.1-0.5 1 2.4 0.2 3.1 -1.2 2.8 -1.5 2.2 -1.6 1 -1.9 0.1 -2.7-1.1 -1.3-1 -1-1.3 -0.8-3.7 0.8-0.3 1.3 2.3 1.7 1.6 2 0.9 2-0.3 1.3-1.2 1.1-2zM424.1 379.4l0.1-0.3 0.3 2.3 -0.3 1.2 -1 0.3 -4.9 4.6 -1.7 1 -1.4 0.3 -0.5-0.3 2.5-1.7 2-2.6 4-3.2zM403.8 389.5l2 0 -3.2 4 -0.4 1.1 -1-1.1 0.3-1zM384.8 391.5l0.4-0.3 0.8 0.3 -0.8 0.3zM386 392.5l0.2-0.8 2.4 1.8 0.6 1 -1.1 0zM361.2 395.5l2 0.2 2.6 0.8 0.4 0.5 0.2 2.5 0.8 1 -2.4 0 0.3-2 -1.9-1.2 -2-0.2z"/>
<path fill="#ffcc00" d="M368.9 331.3l2.3 0 0 1 -0.4 1 -2.6 3 -1 0.3 -0.3-0.3 1.8-3zM413.7 331.3l1.6 0 0.2 2 1.9 3 -0.9 0 -2.3-2.1zM365.1 337.3l1.1-0.3 0.3 0.3 -3 2 -2.3 0.2 0-1.3 3-0.3zM418.2 337.3l2.4 0 -0.4 0.6zM420.6 338.3l0.6-0.4 3 3.3 0 1.5zM386.7 349.4l11.5 0.5 1.8 0.5 4.6 3 -0.4 0.4 -1-0.2 -5-2.6 -2-0.2 -10 0.4 -4 0.5 -3 1 -2.7 2.7 -1.3 3.3 -3.4 4.7 0 3 1.4 6 0 1.3 -0.2-1.3 -0.8 0 -2.4-6 -0.2-2 0.6-2.3 3.7-4.7 2.3-3.7 1.5-1.3 4.6-2zM408.1 361.4l0.1-0.7 1.8 7.7 -1.8 4.1 -1 1.3 -2 1.7 -2 0.3 -2.7-0.4 -3.3-1.9 -1-1.2 -0.5-1.9 0.5-4 0.5 3 1 2 1.5 1.5 2 1.1 2 0.3 1-0.2 1.9-1.7 1.3-2 0.7-2zM373.2 378.4l0-0.6 0.3 1.6 -0.3 0.4zM374 380.4l3 4.1 -0.8 0.2 -1-1.2 -1-1.4zM424.9 381.4l0.3-0.2 0 1.4 -4 3.9 -2.7 2 -1.3 0.4 -0.8-0.4 1.7-1 4.2-4 1.9-1.1zM376.9 385.5l0.3-0.9 1 0.9 0 1.2zM405.5 389.5l3.2 0 -1.5 1 -0.4 1 -4.6 4 0-1.2 1-1.8zM412.1 389.5l4.1-0.6 0.2 0.6zM384.9 392.5l0.3-0.4 0.7 0.4 -0.7 0.2zM386 393.5l0.2-0.6 0.9 0.6zM387.1 394.5l0.1-0.9 0.8 0.9zM361.2 397.5l0-0.5 4 0.5 0.3 3 -4.3 0z"/>
<path fill="#ff9900" d="M367.5 331.3l1.5 0 0 1 -0.7 2 -1.1 1.7 -2 1.4 -4 0.9 0-1.2 3-0.3 2-1.5 0.7-1zM415.1 331.3l1.7 0 0.2 2 1.9 3 -1.2 0 -1.5-1.6 -1-1.9zM421.8 338.3l0.4-0.4 1 0.9 0.4 0.5 -0.4 0.7zM423.6 340.3l0.6-0.3 0 1.1zM425.2 347.3l0.6 3.1 -0.6 1zM384.4 348.3l8.8 0 7 1 2.1 1.1 3.9 3 -1.7 0 -5.3-3.4 -2-0.4 -12 0.1 -4 1.1 -3 1.3 -2.4 2.3 -1.6 3 -3.4 4 -0.9 2 0.1 3 2.2 5.6 0 2.9 -0.3-1.5 -1.2-2 -3.5-5 0.1-2 0.9-2 7.5-10 2.9-2zM406 354.4l0.2-1 0.4 1zM408.1 357.4l0.1-0.6 0.6 3.6 -0.6 0.4zM408.9 361.4l0.3-0.5 0.6 2.5 1.4 3.1 0.2 1.9 -0.2 1 -2 2.7 -0.6 0.3 -0.4 1.1 -0.5-0.1 0.5-1.4 1.7-3.6 -0.9-4zM395.1 368.4l0.3 0 0.2 2 0.9 2 2.7 2.4 4 1.1 3-1 0 0.9 -0.7 0.6 -2.3 0.5 -3-0.5 -2.3-1 -1.7-1.2 -1.3-1.8 -0.5-2zM427.2 372.4l3 0 0 0.5 -2 0 -1-0.1zM425.2 374.4l0.5 1 -0.5 5.5zM373.1 380.4l0.1-0.3 0.3 1.3 -0.3 0.4zM373.7 382.4l0.5-0.3 4 4.7 0 0.8 -2-1.6 -2-2.3zM423 384.5l1.2-0.5 0 0.8 -3.9 3.7 -1.8 1 -2.3 0.4 -0.1-0.4 3.1-1.5zM408 389.5l1.6 0 0.6 0.8 1.9 0.2 -1.9 0.3 -2 1.7 -3 1.5 -1.9 1.5 -0.5 0 0.4-1.1 3.3-2.9 0.3-1zM412.3 390.5l0.9-0.3 2.5 0.3zM382.9 391.5l0.3-0.6 0.3 0.6 -0.3 0.4zM383.7 392.5l0.5-0.4 0.5 0.4 -0.5 0.4zM384.8 393.5l0.4-0.5 0.8 0.5z"/>
<path fill="#ff6600" d="M366.1 331.3l1.4 0 -0.3 2.6 -1 1.7 -1 0.7 -4 0.7 0-1.1 2-0.1 2.3-1.5 0.4-1zM416.7 331.3l1.6 0 0.6 3 1.9 2 -2.1 0 -0.5-0.6 -1.3-2.4zM422.9 338.3l0.3-0.6 0.7 0.6 -0.7 0.4zM423.8 339.3l0.4-0.7 0.4 0.7 -0.4 0.7zM424.8 340.3l0.5 0 0.9 5.8 2 0.8 2 0.3 0 5.7 -4 0.4 -1-0.4 0.3-3.5 -0.3-1.1zM382.5 347.3l12.1 0 6.3 1 3.7 2.1 2.6 2.2 2 3.3 1.6 6.5 1.4 3.8 0 3.6 -2 2 -0.5-0.4 1.7-3 -0.4-2 -1.8-4.9 -1-5.1 -0.5-1 -2.5-2.8 -4-2.8 -3-1.2 -10-0.4 -5 0.5 -5 2 -2.3 1.7 -6.1 8 -2.1 4 0 2 4.5 7.7 0 5.7 -1.3-5.4 -1.7-2.7 -3-2 -3-0.8 -2 0 0-4.7 2-0.2 3-1.8 2.5-2.8 4.5-6.5 2.7-2.5 3.3-2.1zM394.9 367.4l0.4 0 -0.1 1 -0.7 1 -0.1 1 0.1 1 1.1 2 1.6 1.5 2 1.2 1.8 0.3 0.2 0.5 3 0.2 0.1 0.3 -3.6 0 -3.5-0.9 -2.6-2.1 -1.4-2.1 -0.4-1.9 0.4-1.4zM426.8 373.4l1.4-0.5 2-0.1 0 3.4 -2 0.5 -1.2 1.7 -0.8 2.1 -1-0.9 0-0.6 0.9-4.6zM373.2 381.4l0.2 1 2.2 3.1 2.6 2.6 0.9 0.4 -1.5 0 -1.5-1 -1.9-2.1 -1.2-1.9zM423.6 385.5l0.6-0.6 0 1.2 -2.4 2.4 -3.4 2 -6.2 1.7 -7.4 3.3 -1.6 0 4.6-3 1.9-2 3.5 0 1 0.5 1-0.5 2-0.3 4-2.5zM379.6 389.5l1 0 1.6 0.9 1.4 2.1 1.6 1.5 1.1 0.5 -0.1 0.6 -2.9-1.6 -3.1-3z"/>
<path fill="#ff3300" d="M364.2 332.3l0-1 2.1 0 -0.1 1.7 -1 1.7 -1 0.8 -3 0.3 0-1.7 2-0.4zM418.1 331.3l1.6 0 0.3 2 0.5 1 2.5 2 -0.8 0.3 -1.5-0.3 -1.2-1 -1.2-2zM422.9 337.3l0.3-0.7 2 1.7 3 5.2 2 0.5 0 3.8 -4-1.1 -0.5-5.4 -0.8-2zM380.4 346.3l6.8-0.3 9.2 0.3 5.1 1 4.8 2.1 2.9 3.2 2 3.7 2 11.3 -1-0.8 -2-6.3 -0.6-3.1 -2-4 -1.4-1.6 -4-2.8 -3-1.2 -11-0.8 -7 0.8 -4 1.8 -3.3 2.8 -7.7 10.2 -3 2.2 -2 0.2 0-3.3 3-0.5 2-1.1 1.6-1.7 2.4-4.2 2.4-2.8 3.6-3.2zM425.2 353.4l0-0.5 5-0.2 0 1.8 -4.3-0.1zM392.3 367.4l1.9-0.3 0.3 0.3 -1.3 2 -0.2 1 0.5 2 1.3 2 3.4 2.4 3.5 0.6 -0.5 0.5 -3 0.1 -3.3-0.6 -2.7-2 -1.8-3 -0.3-2 0.7-2zM361.2 368.4l2 0 2 0.5 4 2.5 2 3.3 0.6 3.7 0.4 0.8 0.3 3.2 1.1 2.1 2.6 2.9 3.2 2.1 4.8 4.7 4.3 2.3 -0.3 0.7 -4.1-1.7 -9.9-8.4 -2-2.7 -2.4-9 -1.2-2 -1.4-1.2 -2-1 -4-0.5zM411.7 370.4l0.5-0.7 0 1.2zM410.7 371.4l0.5-0.5 0.5 0.5 -0.5 0.5zM410 372.4l0.2-0.4 0.5 0.4 -0.5 0.4zM428.9 375.4l1.3-0.1 0 4.6 -1 0 -2 1 -1 1.6 0-3 1-2.5zM422.9 387.5l0.3-0.3 0.8 0.3 -1.8 2 -5.6 3 -11.5 4 -1.9 0.2 -1-0.2 2-0.5 0.4-0.5 6.6-3.1 6-1.3 4-2.1z"/>
<path fill="#ff0000" d="M361.2 331.3l3.3 0 -0.3 2.1 -1.2 0.9 -1.8 0.1zM419.8 331.3l1.4 0 0.2 2 0.6 1 6.2 6 2 0.6 0 3.6 -2-0.4 -1-1.3 -1.3-3.5 -2.7-2.8 -2.1-1.2 -0.9-1.2zM380 345.3l10.2-0.4 7 0.3 5.2 1.1 5.4 2 1.4 1.4 3 4.3 1 3 0.5 6.4 -0.5 7.1 -0.3-6.1 -1.9-8 -1.5-3 -2.3-2.9 -2-1.5 -6-2.3 -13-0.9 -3 0.1 -4 0.9 -3 1.7 -4.4 3.9 -3.6 5.6 -2.1 2.4 -1.9 1.1 -3 0.4 0-1.7 3-0.4 2-1.5 1.6-1.9 2.4-4.3 4-3.8 2.7-2zM427.9 354.4l2.3-0.1 0 1.2 -1.9-0.1zM389.4 366.4l5.8 0 -3.8 2 -0.8 2 1 3 2.6 3 1 0.7 3 1 5.9 0.3 -9.9 1.2 -3.9 0.8 -2.1-0.4 -1.2-1.6 -0.1-5 -0.4-1 1-2 0.7-3zM361.2 371.4l0-0.7 4 0.4 1.1 0.3 1.9 1.3 1 1.2 1 2.3 1.5 7.3 1.9 3 2.6 2.5 2 1.1 5 4.6 2 1.4 3.6 1.4 1.4 1.7 0 1.3 -3.8 0 -0.5-2 -0.9-1 -4.1-3 -3.7-3.7 -4-3.1 -2-3.2 -2.5-8.1 -1.1-2 -1.4-1.4 -2-1 -3-0.3zM410.9 372.4l0.3-0.3 0.6 0.3 -0.6 0.7zM409.9 373.4l0.3-0.3 0.7 0.3 -0.7 0.5zM409 374.4l0.2-0.3 0.5 0.3 -0.5 0.6zM408 375.4l0.8 0 -0.6 0.6zM427.7 380.4l1.5-0.8 1-0.1 0 2.2 -2 0.2 -2 1.8 0-1.4zM424 387.5l0.6 0 -0.4 1.2 -1.7 1.8 -6.9 4 -6.4 1.5 -4 1.8 -3-0.2 2.2-1.1 1.8-0.3 3.9-1.7 7.1-2.3 4-2z"/><path d="M430.2 338.1l-2-0.4 -3.1-2.4 -1.7-2 -0.3-2M425.2 354.7l3 1.9 2 0.3M395.6 366l-5.4-1.4 -2 0.1 -1 0.7 -0.5 1 -1.5 5.8M361.2 373.1l2.8 0.3 1.5 1 1.2 2 4.6 11.1 0.9 1.1 4 2.9 3 3.4 3.4 2.6 0.7 1 0.3 2M385.2 372.5l0.8 7.9 2 2 1.2 0.4 7-2.2 7-0.9 5-1.9 4.4-4.4 1.4-3 1.1-10 -0.7-7 -1.2-2.6 -4-3.8 -9-3.5 -7-0.4 -13 1.3 -3 0.7 -2.3 1.2 -5.5 5.1 -4.2 6.2 -2 1 -2 0.1M402.2 398.5l0.4 2M407.5 400.5l0.5-2 1.2-1 2-0.8 6-0.9 6-4 2-2.3 2-5 1-0.7 2-0.4" fill="none" stroke="#d8f08a" stroke-width="0.45" stroke-opacity="0.5"/>
<rect x="439.4" y="331.3" width="69" height="69.2" fill="#80ff80"/><path fill="#000099" d="M447.7 331.3l9.2 0 -0.3 1 -6.2 3.5 -3 3.2 -6 5.4 -2 0.5 0-5.7 3-0.2 3-1.8 1.5-1.9zM485.5 331.3l9.4 0 0 5 0.6 2 3.8 4 1.1 1.8 2 5 1.5 6.3 2.5 7.8 1 1.4 1 0.2 0 10.5 -2 0.7 -3 3.6 -2.7 5.9 -0.8 1 -8.5 5.3 -5 1.7 -1.1 0 -1.9-0.9 -1-0.1 -14 0.5 -2.8-0.5 -10.2-7.6 -1-1.5 -1-5.5 -0.4-7.5 0.4-3.9 1-2.3 0.9-0.8 0.1-3.1 1-3.1 3-4.3 2.2-1.5 6.2-1 8.6-0.5 3.7 0.5 1.3 0.7 1.2 1.3 0.8 2.7 0.1 8.3 1.1 5 -0.2 1 -1 1.5 -1 0.8 -1 0.2 -2-1.1 -4.2-4.4 4.2-0.1 1-0.8 0.6-1.1 0.3-4 -0.4-3 -1.3-3 -1.2-1.4 -3-1.1 -4 0 -6 0.9 -3 1.5 -3 2.8 -1.6 2.3 -0.4 1.4 -0.9 1.6 -0.1 1.9 -0.9 1.1 -0.1 1.1 -0.6 0.9 -0.3 3 0.2 4 0.9 3 0.8 1.4 2 1.8 1.8 3.9 2.2 1.9 6 3 3 0.7 8 0.4 7-0.7 11.5-5.3 0.9-1 3.9-9.1 0.6-4 -0.4-10 -0.9-7 -0.9-3 -2.9-6.1 -1.8-1.8 -3.1-2.2 -3.2-5 -1.7-1.6 -2.6-1.4zM439.4 394.5l0-0.9 1 0.1 1.9 0.8 1.1 1 1.8 3 0.2 2 -6 0z"/>
<path fill="#990000" d="M450.3 331.3l42 0 0.3 5 0.6 2 1.2 1.7 4 3.2 3 5.9 2 8.2 1 7.3 0.4 5.8 -0.4 3.6 -3.2 6.4 -1 3.1 -1.3 2 -4.5 2.1 -4 2.4 -2 0.7 -6 0.7 -13 0.2 -2-0.2 -2-0.9 -6.5-5 -3.5-5.1 -1-3.3 -0.3-8.7 0.3-1.5 1-1.7 -0.4 6.2 0.9 5 3.7 4 2.1 4.1 1.7 1.2 10 3.5 7 0.6 5-0.8 11-4.8 1.7-1.8 3.8-9 0.4-5 -0.5-12 -1.1-5 -1.6-4.1 -1.7-3 -2-1.9 -2.2-1.1 -4.8-5.5 -2-0.9 -2-0.4 -8-0.7 -5.6 0.5 -13.4 0.1 -3 0.4 -2 0.9 -2 1.5 -6.3 6.1 -2.7 3.9 -2 0.5 0-6.4 3-0.5 4-2.5 1.7-2 1.9-3zM467.6 351.4l8.8-0.4 2.3 0.4 1.8 1 1.2 2 0.6 4 -0.1 7 -0.8 2.3 -2 0.2 -3.5-1.5 2.5-0.9 1.3-1.1 0.6-2 0-2 -0.3-2 -1.8-3 -1.8-1.7 -2-0.7 -5 0.1 -5 1.4 -4 2.9 -2.9 3 -0.1 1 -0.3 0 0.3-3.1 3.7-4.9 1.7-1zM439.4 392.5l0-0.4 2 0.3 2 1.8 3 4.1 0.2 2.2 -2.9 0 -0.2-2 -1.1-1.8 -1-0.8 -2-0.3z"/>
<path fill="#0000cc" d="M446.2 331.3l2.6 0 -0.5 3 -1.9 3 -3 2.1 -4 0.8 0-2.3 3-0.4 1-0.4 1.9-1.8 0.8-2zM493.7 331.3l3.3 0 0.1 3 0.7 3 3.6 5.8 3.4 11.3 1.6 2.4 2 0.6 0 22.1 -2 0.2 -2 1.3 -1.7 2.5 -0.4 2 -0.8 1 -2.1 2.2 -5.1 3.8 -0.6 1 -5.1 1 -3.2 0 -2-0.8 -4-0.3 -8 0.4 -2 0.7 -4.5-1 -2-1 -4.5-3.8 -4-2.2 -0.8-1 -1.2-7.8 -0.2-10.3 2.2-9.1 3-5 1.9-1.9 1.9-1 7.6-1 7.6-0.2 3.8 0.2 2.5 1 0.7 0.8 1 2.8 0.3 9.4 0.9 2 2.3 3 0.1 1 -0.6 1 -1.8 2 -1.2 1 -3 0.9 -3-1.2 -3-4.6 0-1.7 4 2.2 2 0.6 1-0.6 0.7-1.6 -0.3-12 -1.2-3 -2.2-1.5 -3-0.6 -10 0.6 -4 0.9 -2.4 1.6 -3.4 5 -0.2 3.1 -0.6 1.9 -2.2 4 -0.2 4 0.4 6 1.1 4 1.8 3.1 2 2 6.7 5 2 0.7 2 0.1 16-0.3 5-0.9 4.1-2.6 3.9-1.8 1.5-1.2 2.5-6 2.5-4.1 1-3 0.1-3 -3-17 -3.2-8.1 -1.5-2 -3.5-3 -0.6-1 -0.5-2zM439.4 397.5l0-0.6 2.2 0.6 0.8 1.3 0.1 1.7 -3.1 0z"/>
<path fill="#cc0000" d="M455.2 331.3l32.6 0 0.1 1 2.5 2.8 2.1 4.2 1.9 1.8 1.9 1.2 -0.9 0.3 -2-0.9 -5-5.2 -1-0.7 -3-0.9 -7-0.5 -21 0.4 -3 0.8 -2 1.2 -6.8 6.5 -3.2 5 -2 0.4 0-4.4 2-0.5 5-4 4-4.2 4.6-3.3zM496.2 343.3l0.2-0.9 2 2.3 3 6.5 1 4.4 1 10.3 0.1 5.5 -0.4 2 -0.7 2.3 -4 8.5 -1.8 1.3 -8.5 4 -5.7 1 -9.3 0 -3.7-0.5 -1.8-0.5 -6.8-4 -2.1-4.1 -3.3-4 -0.4-4 0.4-7.1 0.3 9.1 1.2 2 2.5 2 3 5 3 1.6 2.4 0.5 6.6 2.5 4 0.4 4-0.2 4-1 8-3.2 2-1.3 1.2-1.3 3.2-7 1-4 0-12 -1.1-7 -2.7-7.1zM466.9 352.4l8.5-0.5 2.4 0.5 1.4 1 1.2 1.7 1 4.3 0 3.2 -1 3.3 -1 0.6 -2.2-0.1 2.5-3 0.3-2 -0.2-2 -0.9-2 -1.5-1.9 -3-1.8 -5-0.1 -4 1 -4 2.3 -2.8 2.5 -0.4 0 0.2-1.2 3.6-3.8 1.5-1zM439.4 391.5l2 0.3 2 1.8 3.1 3.9 0.6 3 -1.9 0 -0.5-3 -2.3-2.7 -1-0.7 -2-0.3z"/>
<path fill="#0000ff" d="M444.9 331.3l1.6 0 -0.1 2.1 -1 2.3 -2 1.7 -4 0.7 0-1.4 2-0.2 2.2-1.2 1.2-2zM496.5 331.3l2.4 0 0.8 5 3.7 8.5 1.6 6.6 1.4 2.1 2 0.6 0 4.9 -1-0.1 -1-0.7 -1-1.6 -3.4-11.3 -2-4 -3-4 -0.4-2zM470.1 348.3l2.3 0 3.1 1.1 -11.1 0.4 -4 1.1 -2.7 2.5 -2.6 4 -2.3 8 -0.7 4 0.8 13 1.2 3.1 4.5 3 3.8 3.2 4 2.2 3 0.2 2.7-0.6 7.3-0.2 3.8 0.2 2.2 0.8 5-0.2 2.1-0.6 0.7-1 6.2-4.3 2.6-2.7 0.4-2.1 2-3.1 2-1.4 2-0.3 0 2.9 -2 0.2 -2 1.1 -1.7 2.7 -0.3 1.4 -3 3.7 -2 1.9 -0.5 1 -2.7 1 -12.8 0 -2-0.5 -9 0.8 -5-0.2 -1-0.7 -1.9-0.4 -1.6-1 -3.5-3.4 -4-1.6 -1-1.5 -0.4-6.6 -0.9-5 -0.2-5 0.5-5.3 2-6.7 2-3.3 3.7-3.7 2.3-1.1zM478.9 349.4l3.7 0 1.8 1.8 1 2.9 0.2 7.3 0.5 2 1.3 2 2 1.3 1 1.2 0 1.7 -1 1.4 -2.2 2.4 -3.8 2.1 -2.8-0.1 -3.1-1 -2.1-2.3 -1-3.6 0-2.1 4.2 6 1.8 1.2 1 0.2 1 0 2-1.3 2.5-3.1 0-1 -1.5-2.4 -1-2.8 -0.1-7.8 -0.6-3 -2.3-2.5z"/>
<path fill="#0033ff" d="M443 331.3l1.9 0 -0.5 3.3 -1.8 1.7 -3.2 0.4 0-1.9 2-0.2 1-0.9zM498.7 331.3l2.2 0 0.2 3 0.9 3 4.4 10.5 1 1.2 1 0.1 0 5.6 -2-0.5 -1-1.4 -2.7-9.5 -3.4-7zM468.1 347.3l4.7 0 4.7 1 -9.1 0.2 -6 0.6 -2 0.5 -2 1.3 -2.3 2.5 -2.1 3 -0.8 2 -2.2 9 -0.1 5 0.8 8 -0.3 1.5 -2.1-7.5 -0.2-3 0.3-4.2 1-4.8 2-5.3 2-3.7 4.4-4 2.1-1.1zM484 350.4l0.7 0 0.7 0.8 1 2.6 0.8 8.6 0.9 2 2.3 2.2 0 1.6 -1-1.3 -1-0.3 -2-2.2 -1-3.6 -0.2-7.4zM474.2 367.4l0.2 0 0.3 2 1.2 3 1.5 1.7 2 1 3 0.5 2-0.6 2-1.3 3-2.9 1-1.9 0 2.9 -2.3 2.6 -3.8 2 -2.9 0 -1-0.5 -3-0.3 -2.1-1.2 -1-1 -0.9-2 -0.1-2zM506.3 381.4l2.1-0.1 0 1.8 -3 0.6 -2 2.3 0-1.9 1-1.4zM451.3 383.5l0.1-0.7 0.5 1.7 -0.5 0.5zM501.9 387.5l0.5-0.6 0 1.2 -2.7 5.4 -2 1 -4.3 0 3-1 0.5-1 2.5-2.2zM453.8 388.5l0.6-0.6 2 0.6 5 4.2 3.7 1.8 -0.7 0.3 -2-0.3 -2-1 -4-3.9zM472.6 394.5l9.8 0 -9 1.2 -3 0.2 -2.8-0.4 2.8-0.3z"/>
<path fill="#0066ff" d="M439.4 331.3l4 0 0 1 -0.9 2 -1.1 0.6 -2 0.3zM500.7 331.3l2 0 0.2 3 1.1 3 2.4 3.1 2 0.6 0 9.6 -1-0.1 -1-1 -2.4-7.2 -2.6-6zM465.8 346.3l8.1 0 6.9 2 -3.4 0.1 -1-0.8 -5-0.2 -9 0.6 -3 0.9 -1 0.7 -3.8 3.8 -2.7 5 -1.9 6 -0.3 2 -0.1 8 1.2 6 0.6 1 0 1.6 -4-6.8 -2-0.7 0-3.1 1-1 0-1 -1-1 0-1.2 1-0.2 1.5-1.6 1.5-5 3-6.4 2-3.2 4-3.5 1.9-1zM485 350.4l0.6 0 0.8 0.9 1 2.1 0.7 7 0.6 3 0.8 1 0.2 1 -0.3 0.1 -2-2.1 -1.2-10zM473.2 366.4l0.3 0 0.1 5 1 2 1.8 1.7 2 0.9 3.7 0.4 -2.7 0.4 -2.7-0.4 -3.3-2.1 -1.3-1.9 -0.4-2 0.7-2.9zM489.8 372.4l0.6-0.6 0 1.4 -1 2.2 -2 0.4 -1 0.7 -2.8-0.1 3.8-1.5zM505.6 383.5l2.8-0.5 0 1.7 -2 0.1 -2 1.3 -0.3-0.6 0.3-1zM503.3 386.5l0.1-0.4 0.6 0.4 -0.6 1.3zM502.2 388.5l0.2-0.3 0.4 0.3 -1.1 3 -0.3 2.1 -1.1 0.9 -3.2 0 2.2-1zM456.2 390.5l0.2-0.6 1 0.4 4 3.8 3 1.1 4.1 0.3 1.9 0.5 7-0.7 4.6 0.2 -9.6 2.2 -3 0.2 -9.1-3.4z"/>
<path fill="#0099ff" d="M502.5 331.3l2.5 0 0.2 2 0.9 2 1.3 0.7 1 0.1 0 6 -2-0.6 -2-2.7 -1.4-3.5zM463.9 345.3l11 0 3.6 1 4.5 2 -2.7 0 -4.9-1.6 -5-0.7 -8 0.8 -3 1 -3 2.1 -2.5 2.5 -4 8 -2.5 7.8 -1 0.5 -1-0.2 0-1.5 1.4-1.6 1.6-4.6 5-9.5 2-2 4.2-3zM485.9 350.4l0.8 0 1.7 2.6 1.1 9.4 0.2 1 0.7 0.8 0 1.4 -2-3.1 -0.6-7.1 -0.8-3zM472.3 366.4l0.4 0 -0.8 3 0 2 0.9 2 0.9 1 1.7 1.4 2 0.9 4.9 0.7 -2.9 0.4 -3-0.3 -2-1.1 -3.5-3 -0.7-1 -0.5-2 0.3-1zM490.2 373.4l0.2-0.2 0 1.6 -0.6-0.4zM445.4 375.4l0-0.5 1-0.2 1 0.5 3 6 0 2.3 -2-3 -1-0.9 -1-0.3 -1-1.2zM486.3 376.4l2.1-0.6 0.4 0.6 -1.4 0.1 -1 0.7zM508.2 384.5l0.2 2 -3 0.6 -1.3 1.4 -1.2 2 -0.5 2.3 -0.6-0.3 0.6-2.9 2-3.5 2-1.3zM456.2 391.5l0.2-0.9 0.9 0.9zM457.1 392.5l0.3-0.9 0.6 0.9 -0.6 0.4zM458 393.5l0.4-0.6 0.6 0.6 -0.6 0.4zM458.9 394.5l0.5-0.6 4 1.9 7 1.6 10-1.3 1-0.6 10.7 0 -6.7 0.5 -3 0.7 -3.9 1.8 -0.7 1 -0.1 1 -13.1 0 -0.4-2 -0.9-1zM499.9 394.5l1.5-0.4 0 0.4z"/>
<path fill="#00ccff" d="M504.5 331.3l3.9 0 0 5.7 -2-0.4 -1-1 -0.7-2.3zM463.8 344.3l11.4 0 6.5 2 2.7 1.9 2.4 1.2 2.6 3 1 6.7 0 5.3 -1-2.6 -0.6-7.4 -0.7-2 -1.7-2.5 -1.7-0.5 -0.3-0.8 -8-2.8 -4-0.9 -3-0.2 -8 1.1 -4 2 -2 1.7 -2.7 2.9 -4.9 10 -1.4 3.9 -1 0.5 -0.1-1.4 1.1-3.2 7-12.4 3.9-3.5 1.8-1zM469.9 367.4l1.5-0.7 0 1.1 -1.2 1.6 -0.2 1 0.5 2 1.9 2.4 3 2.2 4 1.1 2-0.1 0.6-0.6 3 0 -3.6 1.3 -3 0.5 -2.8-0.8 -1.5-1 -5.2-4 -1.3-2 0.1-2 0.7-1zM445.4 378.4l0-0.6 3 2.3 2 3.2 0 1.5 -3-3.3 -2-1.3zM506.1 386.5l2.3-0.3 0 2.2 -2 0.2 -1 0.6 -2.2 3.3 -0.2-1 0.4-1.9 1-1.7zM455.1 391.5l0.3-0.6 0.7 0.6 -0.7 0.3zM456 392.5l0.4-0.8 0.5 0.8 -0.5 0.5zM456.9 393.5l0.5-0.5 0.4 0.5 -0.4 0.6zM457.8 394.5l0.6-0.4 1 0.9 4.5 2.5 0.9 1 0.5 2 -3.4 0 -0.1-1 -0.9-2zM490.5 395.5l5.3 0 -9.9 3 -1.2 1 -0.1 1 -8.1 0 0.1-1 0.7-1 4.7-2z"/>
<path fill="#00ffff" d="M471.6 343.3l2.6 0 5.2 1 3 1 5 3 2 2 1 1.6 0.4 1.5 0.6 6.2 0 5.1 -1-2.9 -0.4-7.4 -1.2-3 -0.8-1 -1.6-1.3 -2.1-0.8 -1.9-1.5 -2-1 -3-1 -3.4-0.5 -0.6-0.5zM458.8 344.3l5.6-0.4 1.8 0.4 -5.8 0.5 -2 1 -4 3 -1.5 1.6 -5 9 -2.4 6 -1.1 0.3 1-4.3 4.4-7 2.6-5 2.9-3.1zM469.9 366.4l1.6 0 -2.8 2 -0.7 1 -0.1 2 1.2 2 4.3 3.6 3 1.6 2 0.5 2 0 3-1 3.1 0.3 -7.1 2.3 -3-0.2 -1.8-1.1 -6.9-5 -1.6-2 -0.4-2 0.5-2 1.1-1 2.1-0.5zM445.4 380.4l0-0.4 3 2.3 2 2.7 0 0.7 -1.9-1.2 -2.1-2.6 -1-0.5zM506.1 388.5l2.3-0.4 0 2.5 -2 0.1 -2 1.8 -1 0.4 0-0.8 1-2zM453.2 389.5l1.2 1 -1 0.2zM454 391.5l0.4-1 2.3 3 -0.3 1zM456.4 394.5l1-0.3 3.8 3.3 0.7 1 0.3 2 -2.4 0 -0.7-3zM495.4 395.5l1.5 0 -2.8 3 -0.3 2 -11 0 0.2-1 0.9-1 2.9-1 7.6-1.5z"/>
<path fill="#33ffcc" d="M458.8 343.3l3.6-0.3 15 0.1 2.5 0.2 5.1 2 3.9 3 2.6 3.1 0.6 3 0.3 9.9 -1-1.4 -0.5-9.5 -1.6-3 -2.9-2.6 -3-1.9 -6-2.2 -5-0.3 -9 0.1 -3 0.3 -3 1.3 -3 2.3 -1.8 2 -6.6 11 -1.3 3 -0.3 3 0-1 -1.2-2 0-1 10.2-15.7 3-2.4zM491.4 365.4l0-1 0.4 1 -0.4 1.2zM466.4 366.4l2-0.3 1.6 0.3 -2.6 1.2 -1.5 1.8 0 2 1 2 8.5 6.4 3 0.8 3-0.5 3-1.1 1.9 0.4 -2.9 1.4 -2 1.7 -3 0.4 -3.1-0.5 -0.4-1 -9.5-7.5 -1-2.4 0-2.1 0.9-2zM491.4 373.4l0-0.9 0.3 0.9 -0.3 1.3zM486.2 378.4l1.2-0.4 0.4 0.4 -1.4 0.8zM446 382.4l0.9 0 3.5 3.7 0 0.8 -1-0.2 -1.4-1.2 -1.6-1.8zM452.2 389.5l0.2-0.7 1.5 2.7 5.4 6 0.7 3 -1.8 0 -0.6-3 -4.2-5 -1-1.6zM506.3 390.5l2.1-0.3 0 2.1 -2 0.2 -1.6 1 -1.5 0zM497.2 395.5l1.2 0 -1 0.7zM495.6 396.5l1.5 0 -1 4 -2.9 0 0.4-2z"/>
<path fill="#66ff99" d="M458.8 342.3l3.6-0.4 17.7 0.4 5.5 2 2.9 2 3.9 4.3 1 2.6 0.1 11.2 -0.5 2 -1.5 2 0.2 2 -0.3 0 0-3.7 0.7-1.3 0.3-2 -0.3-10 -1.4-3 -2.3-2.5 -5-3.3 -6-1.9 -15-0.1 -2 0.2 -3 1 -4 2.9 -2 2.9 -0.9-0.2 2.9-4.2 3-1.9zM450 350.4l0.4-1 0.4 1 -0.4 1 -6.9 11 0 3 -1.1-0.7 -3-0.3 0-3.1 2-0.1 2-1.2 1.5-1.6 1.5-3zM465.7 365.4l1.7-0.4 2.8 0.4 -3.8 1.2 -1.6 1.8 -0.3 3 0.7 2 1.2 1.5 4.1 2.5 4.8 4 1.1 1.3 2 0.3 2-0.2 1.5-1.4 5.5-2.6 1.7-1.4 0.6 0 -0.3 1 -1.1 1 -6.3 4.1 -7.2 0 -1.8-1.1 -0.3-1 -2.3-2.2 -4-2.8 -2.1-2 -0.9-2.7 0-2.6 1-2.5zM492.4 371.4l0-0.5 0.7 1.5 0 1 -0.7 1.7 -1 0.7zM445.4 382.4l3 3.4 3 1.9 1.3 3.8 5 6 0.6 3 -1.6 0 -0.6-3 -3.7-4.6 -2-4.1 -4-3.2 -1-1.8zM506 392.5l2.4-0.3 0 1.3 -3 0.7 -0.7-0.7zM498.2 395.5l1.9 0 -1.4 1 -0.6 4 -2.2 0 0.2-2 1.1-2z"/>
<path fill="#99ff66" d="M458.5 341.3l3.9-0.6 18 0.6 5.3 2 1.9 1 2.4 2 3.4 3.8 1 2.3 0.2 20 -0.2 1.8 -1 1.6 -2 1.3 -0.3-0.7 1-1 1-2 0-1 -0.8-2 -0.9-0.9 0-1.1 1.5-2 0.7-3 -0.5-11 -1-2 -2.7-3 -3-2.6 -5-2.1 -6-1 -12-0.1 -3 0.3 -5 1.9 -2 1.6 -2 2.5 -0.5-0.6 0.4-1 1.9-2zM450.2 348.3l0.2-0.4 0.5 0.4 -0.5 1.3 -6 9.4 -3 2.5 -2 0.4 0-2 2-0.2 2.2-1.3 1.5-2 1.3-3.1zM439.4 364.4l0-0.6 1 0.1 2.8 1.5 -3.8 0zM464.6 364.4l2.8-0.7 2 0.4 2 1 0.1 0.3 -1.1 0 -1-0.5 -2 0 -2 0.8 -1.4 1.7 -0.4 1 0 4 0.2 1 1.6 2 4.3 3 3.2 3 0.5 1.2 1.8 0.9 -2.6 0 -1.2-0.9 -0.5-1.2 -1-1 -5.1-4 -1.4-1.6 -1-3.3 0-2.6 1-3.2zM490.1 377.4l0.3-0.3 0.7 0.3 -1.3 2 -2.4 2 -2 1.1 -1 0.2 -0.9-0.3 1-1 2.9-1.4zM445.4 383.5l0.3 1 1.8 2 1.9 1.6 1.2 0.4 1.6 4 4.2 5.3 0.3 2.7 -1.6 0 -0.1-2 -1.1-2 -2.5-3.2 -1.5-2.8 -4.5-4.9zM507.3 393.5l1.1-0.1 0 1.1 -6 0.2 3-0.4zM499.9 395.5l1.5 0 -0.8 1 -0.6 4 -2.1 0 0.6-4z"/>
<path fill="#ccff33" d="M460.6 339.3l12.4 0 8.4 1 7.9 4 4.1 4 2 3 0.1 23.1 -1.1 2 -6.4 6 -2.3 1.1 -2.5 0 3.2-1.5 3-2.2 1.6-2.4 2.4-1.8 0.8-1.2 0.3-2 -0.4-4 0.8-6 -0.5-3.4 -0.3-7.6 -2.2-3.1 -3.5-3.4 -6-3.1 -4-0.8 -5-0.4 -13 0.2 -3 1 -4 2.3 -0.3-0.8 1.3-1zM452 344.3l0.4-0.3 0.8 0.3 -0.8 0.7zM451.2 345.3l0.2-0.3 0.6 0.3 -6.2 9.1 -0.4 1.3 -0.4-0.3 0.4-2.1zM444.1 356.4l0.3-0.5 0.4 0.5 -0.3 1 -2 2 -3.1 0.4 0-1.2 3-0.5zM465.1 362.4l3.7 0 2.1 1 0.7 1 -0.2 0.5 -4-1.2 -2 0.4 -1 0.7 -1.7 2.6 -0.2 3 0.2 3 1.7 2.7 4.5 3.3 2.1 2 0.4 1 1.4 1.1 -1.7 0 -1.7-2 -6-4.9 -1-1.4 -1-3.4 0-4.7 1-2.9zM446.2 387.5l0.2-0.5 3 2.8 1.5 2.7 3.7 5 0.7 3 -1.6 0 -0.5-3 -3.2-5 -3.6-4.1zM503.1 394.5l0.4 0 0.9 1 0.8 0 -1.8 0 -0.7 1 -0.8 4 -2.1 0 0.5-4zM507.6 394.5l0.8-0.1 0 1 -2.9 0.1 1.9-0.5z"/>
<path fill="#ffff00" d="M459.2 338.3l3.2-0.3 16 0.3 3.5 1 5.4 3 -0.9 0.3 -1-0.2 -3-1.7 -4-0.9 -16-0.4 -3 0.3 -4 2 -3 2.1 -0.5-0.5 2.4-2zM487.3 343.3l0.1-0.6 1.8 0.6 -0.8 0.4zM451 344.3l0.4-0.5 0.4 0.5 -0.4 0.6zM489.1 344.3l0.3-0.7 2.6 1.7 4.4 5.7 0.1 23.4 -1.1 2.3 -6 5.9 -1.1 0.9 -2.9 0 2-0.7 2-1.6 4.8-4.8 1.7-3 0.1-11 -0.6-4.9 0.1-5.1 -1.4-3zM450.1 345.3l0.3-0.4 0.6 0.4 -4.6 6.5 -0.3-0.4 0.3-1.3zM445.3 352.4l0.1-0.3 0.4 0.3 -0.4 1.4zM443.8 355.4l0.6-0.6 0 1.1 -1 1.5 -1.6 1 -2.4 0.2 0-1.3 2-0.2zM463.7 361.4l3.7-0.5 3 0.3 1 0.6 1.1 1.6 -0.1 2 -1-1.5 -2-1.2 -4-0.2 -2 1 -0.8 0.9 -0.9 2 -0.2 5 0.5 3 2.4 2.9 5.1 4.1 0.3 1 -0.4 0.2 -6.9-5.2 -2.1-4.3 -0.4-8.7 0.3-1 1.1-1zM446 388.5l0.4-0.3 2.1 2.3 2.5 4 -0.6 0.4 -4-5.1zM451 395.5l0.4-0.6 2 2.9 0.3 2.7 -1.3 0 -0.3-3zM502.4 395.5l6-0.1 0 1.2 -3 0.3 -1.4 1.6 -0.2 2 -2.1 0z"/>
<path fill="#ffcc00" d="M459.1 337.3l20.4 0 4.7 2 2.9 2 -0.7 0.4 -1-0.3 -3-1.8 -3-1 -7-0.7 -10-0.1 -2 0.2 -2 0.8 -6 3.9 -0.9-0.4 3.8-3zM487.1 342.3l0.3-0.5 1.6 0.5 -0.6 0.4zM450.6 343.3l0.8-0.8 0.3 0.8 -0.3 0.4zM489.1 343.3l0.3-0.5 1.2 0.5 -0.2 0.6zM449.8 344.3l0.6-0.8 0.4 0.8 -5.4 7.5 0-1.6 1-1.9zM490.7 344.3l0.7-0.3 1 0.3 1.2 1 1.8 2.5 0.5 1.6 -0.5 0.3 -1.5-2.4zM496 350.4l0.4-0.7 0 1.5zM444.3 353.4l0.1 1.2 -2 2.1 -1.6 0.7 -1.4 0 0-1.5 2-0.3zM496.4 353.4l0-0.3 1 3.3 0 18.6 -4 5.4 -3 2.4 -0.8-0.4 5.1-5 1.5-2 0.8-2 0-11 -0.6-4.1zM468.2 359.4l2.2 0 2.3 1 0.8 1 0.3 1 -0.3 3 -0.3 0 -1.5-3 -2.3-1.3 -4-0.1 -3 1.1 -1 0.7 -1.1 1.6 -0.3 2 0.6 7 1.3 3 -0.5 0.6 -2-2.9 -1-11 1.8-1.7 2.9-1zM439.4 366.4l3.1 0 0.9 0.8 1 0.2 0 0.5 -5 0zM443.6 376.4l0.8-0.4 0 10.6 -1-5.5 -1.1-0.7 -0.9-2 0.5-1zM461.9 377.4l0.5-0.4 0.3 0.4 -0.3 0.7zM462.7 378.4l0.7-0.4 0.7 0.4 5.3 4 0.3 1.1 -4.1-2.1zM488 383.5l1.4-0.9 0.3 0.9zM445.2 388.5l0.2-0.8 0.6 1.8 3.4 3.8 0.6 1.2 -0.6 0.3 -3-3.4 -1-1.5zM450 395.5l0.4-0.6 0.3 0.6 -0.3 0.9zM450.6 396.5l0.9 0 0.9 2 0.1 2 -1.1 0 -0.3-3zM505.5 396.5l2.9-0.1 0 4.1 -4.9 0 0.7-3z"/>
<path fill="#ff9900" d="M457.4 337.3l2.1 0 -3.1 1.4 -4 2.9 -3.6 3.7 -3.1 4.1 -0.3 1.2 -0.6-0.2 0.6-2.3 3.8-4.8 4.1-4zM477.6 337.3l4.4 0 2.6 1 4.2 3 -0.4 0.5 -1.4-0.5 -5.6-3.5zM490.4 343.3l1.7 0 -0.7 0.3zM492.2 344.3l0.2-0.4 1.4 0.4 1.6 1.7 1 1.9 0.3 1.5 -0.3 0.2 -1.3-2.3zM444.3 351.4l0.1-0.4 0 2.4 -1 1 -2 1.3 -2 0.2 0-1.7 2-0.1 2-1.4zM497.3 351.4l0.1-1 1 7 0 15.1 -1-11.5zM466.8 358.4l3.6-0.4 2.4 0.4 1.6 1 0.7 1 0.4 1 -0.2 2 -0.9 1.6 -0.5-0.6 -0.7-3 -1.8-1.5 -2-0.4 -5 0.6 -3 0.8 -2 1.3 -0.8 1.2 -0.2 1 0.7 8 0.5 2 1.2 2 -0.4 0.3 -1-0.7 -1.1-1.6 -0.9-11.1 0.8-0.9 0.2-1.1 1-0.7zM442.9 367.4l1.5 0.8 0.4 2.2 -0.4 2 0 4.3 -0.6 0.7 -0.3 2 0.4 6.1 0.5 0.7 0.5 3.3 -0.5 0.2 -0.3-1.2 -1.8-3 -0.9-1 -2-0.5 0-16.4zM497.4 373.4l0-0.3 0 3.6 -0.7-0.3 0.6-1zM496 377.4l0.4-0.7 0.4 0.7 -0.4 1.1 -2.5 2.9 -2.7 2.1 -1.3 0zM463 379.4l0.4-0.2 3 2.8 2.9 1.5 -1.9 0 -2.2-1.1 -1.8-1.7zM473.2 384.5l13.3 0 -4.6 1 -2.5 0.1zM444.9 390.5l0.5-0.8 3 3.8 1.3 2 -0.3 0.9 -4-4.8zM449.6 396.5l0.9 0 0.9 1.9 0.1 2.1 -1 0 -0.4-3zM506.4 399.5l1-0.9 1-0.1 0 2 -2.1 0z"/>
<path fill="#ff6600" d="M454.4 337.3l2-0.4 1.2 0.4 -2.2 0.8 -2 1.4 -5.9 5.8 -2.8 4.1 -0.3 2.2 -1 1.2 -2 1.4 -2 0.3 0-1.9 2-0.3 1.3-0.9 3.7-6.8 5.3-5.3zM481.4 337.3l2-0.4 1.7 0.4 5.1 4 -1.6 0 -5.2-3.6zM490.2 342.3l0.2-0.8 0.8 0.8zM492 343.3l1.8 0 -0.4 0.5zM493.9 344.3l0.5-0.4 0.7 0.4 1.3 1.6 0.4 1.4 -0.4 0.9 -0.8-1.9zM496.7 348.3l0.7-0.1 0.3 2.2 -0.3 0.4zM498.3 351.4l1.1 4.6 0.2 3.4 -0.2 12 -1 5.1 -0.5-0.1 0.5-6zM465.7 357.4l4.7-1 4.2 1 1.8 1.6 0.6 1.4 0.1 2 -0.7 1.6 -1 0.8 -0.3-0.4 0.2-2 -0.5-2 -1.4-1.5 -1-0.4 -3-0.5 -8 1.8 -0.3-0.4zM458.4 360.4l2.2 0 -1.2 0.2 -1 0.9zM457.3 365.4l0.1-0.7 0.6 8.7 0.8 2 0.9 1 -0.3 0.8 -1.1-0.8 -1-2zM444.8 370.4l0.6 0 0 1 -0.7 0zM459.6 377.4l0.8-0.3 0.2 0.3 -0.2 0.3zM497.1 377.4l0.3-0.9 0.4 0.9 -0.3 1 -1.9 3 -2.4 2.1 -1.8 0.6 -0.3-0.6 2.7-2.1zM462.1 379.4l0.3-0.2 2 2.5 2 1.4 3 1.2 4.5 0.2 1.5 0.5 4 0.4 4-0.2 2.4-0.7 4.6-0.4 0.7 0.4 -3.7 0.6 -5 1.7 -3 0.3 -3-0.3 -4-1.7 -4.8-0.6 -3-1 -1.2-1 -1-1.6zM439.4 383.5l1 0 2 1.3 1.9 3.7 0.4 2 4.8 6 0.9 1.8 0.1 2.2 -1.1 0 -0.4-3 -3.6-4.3 -3-4.6 -1-1 -2-0.5z"/>
<path fill="#ff3300" d="M453.8 336.3l3.6-0.5 19-0.3 8 0.4 1.8 0.4 1.7 1 5 5 -1.7 0 -5.8-4.7 -2-0.9 -8-0.3 -19 0.2 -4 2.1 -5.6 5.6 -2.1 3 -1.3 3.3 -1 1.2 -1 0.7 -2 0.2 0-2.4 2-0.4 1.3-1.6 2.7-4.5 6-5.9zM493.6 343.3l0.8-0.3 1 0.3 2 2.6 3 8.4 0.3 3.1 0.2 11 -0.4 5 -2.1 5.7 -1.9 3.3 -1.1 1.1 -4.2 2 -5.8 2 -5 1.1 -4.2-0.1 -6.8-2.5 -5.6-1.5 -1.4-1.2 -1.9-3.9 -3.1-2.6 -1-1.7 -0.3-4.7 0.3-5.1 0.5 8.1 0.8 2 1.7 1.8 2 1.2 1.3 3 0.9 1 2.8 1.8 7.2 1.3 3.8 1.4 4 0 4.7-1.4 3.3-0.4 3-1.2 2-1.5 2.6-3 2-4 0.2-2 0-18 -1.2-6 -1.3-3.1 -1.5-2zM466.3 355.4l3.1-0.7 3 0 2 0.4 2 1.1 1.1 1.2 1.1 2 0.3 2 -0.5 2.3 -1.9 1.7 -1.3 0 1-1 0.8-2 -0.1-2 -1.5-2 -3-1.6 -4-0.1 -6 1.9 -1.4 0.8 -1.6 0 2.9-2zM439.4 387.5l0-0.9 1 0.1 1 0.4 1 1 2.4 4.4 3.7 4 0.9 1.9 0.1 2.1 -1.4 0 -0.1-2 -1.2-2 -4.4-5.3 -2-1.1 -1-0.1z"/>
<path fill="#ff0000" d="M457.4 334.3l13-0.2 7-0.4 8 0.9 3 1.1 4 4.8 2.7 1.8 -2.3 0 -5.4-5.1 -4-1.6 -27 0 -3 1 -2 1.3 -6.4 6.4 -2.6 5.1 -1 1 -2 0.3 0-3.3 2-0.5 3-4 6-5.8 2.7-1.8zM495.2 343.3l0.2-0.6 2 1.6 0.4 1 -0.4 0.8 -0.2-0.8zM497.8 346.3l0.6-0.2 3 8 1 14.3 -1 6.6 -3.9 8.5 -1.4 1 -9.1 4 -3.5 1 -3.1 0.2 -6-0.2 -3-0.8 -8.5-3.2 -1.3-1 -2-4.1 -3.2-3.1 -0.5-1.9 0.5-0.9 0.7 1.9 1.3 1.5 2 1.2 1.5 3.3 1.5 1.7 2 1 6 1.3 4 1.7 4 0.3 4-0.3 9-3 2-1 1.9-1.7 1.4-2 2.2-5 1-6 -0.1-12 -0.9-5zM467.5 353.4l6.9-0.4 1.7 0.4 1.5 1 1.8 2.4 1 3.4 0 2.2 -1 2.4 -1 0.7 -2.1-0.1 2-2 0.5-1 0-2 -0.8-2 -1.6-1.8 -3-1.5 -4-0.3 -3 0.8 -5 2.2 -1.8 1.6 -1.2 0 4.5-4 1.5-1zM455.3 368.4l0.1-0.8 0.3 5.8 -0.3 1.1zM439.4 390.5l0-0.9 1 0.1 2 1.2 5 6.2 0.8 3.4 -1.6 0 -0.6-3 -3.6-4.3 -1-0.6 -2-0.4z"/><path d="M453.3 331.3l-0.1 1 -0.8 1 -6 6 -5 3.6 -2 0.4M456.4 363.9l-1.8 3.5 -0.3 2 0.3 5 0.8 3.8 2.6 3.2 2.1 4.1 7.3 4.5 2 0.6 6 0.2 10.3-0.3 3.7-1.1 9-4.6 1-1.3 1.4-4.1 2.1-4 0.9-3 0-6 -1.1-10 -1.3-5.9 -2.3-5.2 -1.7-2.4 -4.5-3.6 -2.8-6 -0.4-2M474.4 366l5 0.9 1.2-0.5 0.9-2 0.2-5 -0.7-4 -1.6-2.6 -3-1.2 -8 0.3 -5.7 1.5 -4.3 4.3 -1.9 5.6M439.4 394.4l2 0.3 2 1.7 1.2 2.1 0.1 2" fill="none" stroke="#d8f08a" stroke-width="0.45" stroke-opacity="0.5"/>
<linearGradient id="cb1" x1="0" y1="0" x2="0" y2="1"><stop offset="0.000" stop-color="#800000"/><stop offset="0.062" stop-color="#bf0000"/><stop offset="0.125" stop-color="#ff0000"/><stop offset="0.188" stop-color="#ff4000"/><stop offset="0.250" stop-color="#ff8000"/><stop offset="0.312" stop-color="#ffbf00"/><stop offset="0.375" stop-color="#ffff00"/><stop offset="0.438" stop-color="#bfff40"/><stop offset="0.500" stop-color="#80ff80"/><stop offset="0.562" stop-color="#40ffbf"/><stop offset="0.625" stop-color="#00ffff"/><stop offset="0.688" stop-color="#00bfff"/><stop offset="0.750" stop-color="#0080ff"/><stop offset="0.812" stop-color="#0040ff"/><stop offset="0.875" stop-color="#0000ff"/><stop offset="0.938" stop-color="#0000bf"/><stop offset="1.000" stop-color="#000080"/></linearGradient><rect x="514.3" y="24.3" width="6.3" height="68.3" fill="url(#cb1)"/>
<linearGradient id="cb2" x1="0" y1="0" x2="0" y2="1"><stop offset="0.000" stop-color="#800000"/><stop offset="0.062" stop-color="#bf0000"/><stop offset="0.125" stop-color="#ff0000"/><stop offset="0.188" stop-color="#ff4000"/><stop offset="0.250" stop-color="#ff8000"/><stop offset="0.312" stop-color="#ffbf00"/><stop offset="0.375" stop-color="#ffff00"/><stop offset="0.438" stop-color="#bfff40"/><stop offset="0.500" stop-color="#80ff80"/><stop offset="0.562" stop-color="#40ffbf"/><stop offset="0.625" stop-color="#00ffff"/><stop offset="0.688" stop-color="#00bfff"/><stop offset="0.750" stop-color="#0080ff"/><stop offset="0.812" stop-color="#0040ff"/><stop offset="0.875" stop-color="#0000ff"/><stop offset="0.938" stop-color="#0000bf"/><stop offset="1.000" stop-color="#000080"/></linearGradient><rect x="515.2" y="109.8" width="6.3" height="68.4" fill="url(#cb2)"/>
<linearGradient id="cb3" x1="0" y1="0" x2="0" y2="1"><stop offset="0.000" stop-color="#800000"/><stop offset="0.062" stop-color="#bf0000"/><stop offset="0.125" stop-color="#ff0000"/><stop offset="0.188" stop-color="#ff4000"/><stop offset="0.250" stop-color="#ff8000"/><stop offset="0.312" stop-color="#ffbf00"/><stop offset="0.375" stop-color="#ffff00"/><stop offset="0.438" stop-color="#bfff40"/><stop offset="0.500" stop-color="#80ff80"/><stop offset="0.562" stop-color="#40ffbf"/><stop offset="0.625" stop-color="#00ffff"/><stop offset="0.688" stop-color="#00bfff"/><stop offset="0.750" stop-color="#0080ff"/><stop offset="0.812" stop-color="#0040ff"/><stop offset="0.875" stop-color="#0000ff"/><stop offset="0.938" stop-color="#0000bf"/><stop offset="1.000" stop-color="#000080"/></linearGradient><rect x="514.3" y="243.5" width="6.3" height="68.5" fill="url(#cb3)"/>
<linearGradient id="cb4" x1="0" y1="0" x2="0" y2="1"><stop offset="0.000" stop-color="#800000"/><stop offset="0.062" stop-color="#bf0000"/><stop offset="0.125" stop-color="#ff0000"/><stop offset="0.188" stop-color="#ff4000"/><stop offset="0.250" stop-color="#ff8000"/><stop offset="0.312" stop-color="#ffbf00"/><stop offset="0.375" stop-color="#ffff00"/><stop offset="0.438" stop-color="#bfff40"/><stop offset="0.500" stop-color="#80ff80"/><stop offset="0.562" stop-color="#40ffbf"/><stop offset="0.625" stop-color="#00ffff"/><stop offset="0.688" stop-color="#00bfff"/><stop offset="0.750" stop-color="#0080ff"/><stop offset="0.812" stop-color="#0040ff"/><stop offset="0.875" stop-color="#0000ff"/><stop offset="0.938" stop-color="#0000bf"/><stop offset="1.000" stop-color="#000080"/></linearGradient><rect x="514.3" y="331.6" width="6.3" height="68.9" fill="url(#cb4)"/>
<text x="162.1" y="16.9" text-anchor="middle"><tspan font-style="italic">z</tspan>=30</text>
<text x="239.2" y="16.9" text-anchor="middle"><tspan font-style="italic">z</tspan>=40</text>
<text x="318.7" y="16.9" text-anchor="middle"><tspan font-style="italic">z</tspan>=50</text>
<text x="396.9" y="16.9" text-anchor="middle"><tspan font-style="italic">z</tspan>=60</text>
<text x="475.1" y="16.9" text-anchor="middle"><tspan font-style="italic">z</tspan>=70</text>
<text x="162.1" y="236.1" text-anchor="middle"><tspan font-style="italic">z</tspan>=30</text>
<text x="239.2" y="236.1" text-anchor="middle"><tspan font-style="italic">z</tspan>=40</text>
<text x="318.7" y="236.1" text-anchor="middle"><tspan font-style="italic">z</tspan>=50</text>
<text x="396.9" y="236.1" text-anchor="middle"><tspan font-style="italic">z</tspan>=60</text>
<text x="475.1" y="236.1" text-anchor="middle"><tspan font-style="italic">z</tspan>=70</text>
<text x="123.8" y="30.7" text-anchor="end">20</text>
<text x="123.8" y="96.9" text-anchor="end">-20</text>
<text transform="translate(120.2,56.8) rotate(-90)" text-anchor="middle" font-size="13.8"><tspan font-style="italic">y</tspan> (cm)</text>
<text x="123.8" y="116.8" text-anchor="end">20</text>
<text x="123.8" y="182.4" text-anchor="end">-20</text>
<text transform="translate(117.5,144.1) rotate(-90)" text-anchor="middle" font-size="13.8"><tspan font-style="italic">y</tspan> (cm)</text>
<text x="123.8" y="250" text-anchor="end">20</text>
<text x="123.8" y="315.8" text-anchor="end">-20</text>
<text transform="translate(118.6,275.7) rotate(-90)" text-anchor="middle" font-size="13.8"><tspan font-style="italic">y</tspan> (cm)</text>
<text x="123.8" y="337.8" text-anchor="end">20</text>
<text x="123.8" y="404.7" text-anchor="end">-20</text>
<text transform="translate(117.5,365.2) rotate(-90)" text-anchor="middle" font-size="13.8"><tspan font-style="italic">y</tspan> (cm)</text>
<text x="123.8" y="191.8">-20</text>
<text x="196.8" y="191.8" text-anchor="end">20</text>
<text x="200.9" y="191.8">-20</text>
<text x="273.9" y="191.8" text-anchor="end">20</text>
<text x="279.4" y="191.8">-20</text>
<text x="352.4" y="191.8" text-anchor="end">20</text>
<text x="358.6" y="191.8">-20</text>
<text x="431.6" y="191.8" text-anchor="end">20</text>
<text x="436.8" y="191.8">-20</text>
<text x="509.8" y="191.8" text-anchor="end">20</text>
<text x="316.8" y="204.5" text-anchor="middle"><tspan font-style="italic">x</tspan> (cm)</text>
<text x="123.8" y="414.1">-20</text>
<text x="196" y="414.6" text-anchor="end">20</text>
<text x="200.9" y="414.1">-20</text>
<text x="273.1" y="414.6" text-anchor="end">20</text>
<text x="279.4" y="414.1">-20</text>
<text x="351.6" y="414.6" text-anchor="end">20</text>
<text x="358.6" y="414.1">-20</text>
<text x="430.8" y="414.6" text-anchor="end">20</text>
<text x="436.8" y="414.1">-20</text>
<text x="509" y="414.6" text-anchor="end">20</text>
<text x="316.8" y="426.8" text-anchor="middle"><tspan font-style="italic">x</tspan> (cm)</text>
<text x="523.6" y="27.8">10</text>
<text x="524.6" y="96">0</text>
<text transform="translate(537.6,60.5) rotate(-90)" text-anchor="middle">|<tspan font-style="italic">p</tspan>|<tspan font-size="8" dy="-4.5">2</tspan><tspan dy="4.5"> (Pa</tspan><tspan font-size="8" dy="-4.5">2</tspan><tspan dy="4.5">)</tspan></text>
<text x="500" y="105.3" text-anchor="middle">(b)</text>
<text x="523.6" y="247.1">10</text>
<text x="525.3" y="316.1">0</text>
<text transform="translate(537.6,279.8) rotate(-90)" text-anchor="middle">|<tspan font-style="italic">p</tspan>|<tspan font-size="8" dy="-4.5">2</tspan><tspan dy="4.5"> (Pa</tspan><tspan font-size="8" dy="-4.5">2</tspan><tspan dy="4.5">)</tspan></text>
<text x="500" y="325.4" text-anchor="middle">(e)</text>
<text x="524" y="114.7">2π</text>
<text x="524.6" y="181.8">0</text>
<text x="524.7" y="336.8">2π</text>
<text x="524.6" y="403.8">0</text>
<text transform="translate(538,145) rotate(-90)" text-anchor="middle"><tspan font-style="italic">φ</tspan> (rad)</text>
<text transform="translate(538,366.5) rotate(-90)" text-anchor="middle"><tspan font-style="italic">φ</tspan> (rad)</text>
<text x="500" y="205.3" text-anchor="middle">(c)</text>
<text x="501.3" y="428.2" text-anchor="middle">(f)</text>
</svg>
</body></html>
